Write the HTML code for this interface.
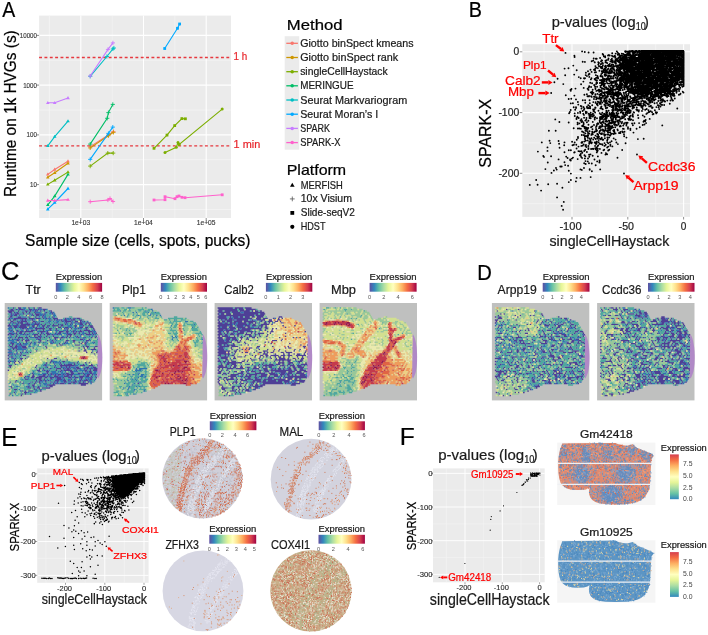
<!DOCTYPE html>
<html><head><meta charset="utf-8"><style>
html,body{margin:0;padding:0;background:#fff;width:708px;height:635px;overflow:hidden}
svg{display:block;will-change:transform}
text{font-family:"Liberation Sans", sans-serif}
</style></head><body>
<svg width="708" height="635" viewBox="0 0 708 635">
<rect x="39.1" y="15.6" width="191.9" height="202.4" fill="#EBEBEB"/>
<line x1="39.1" x2="231.0" y1="159.7" y2="159.7" stroke="#F7F7F7" stroke-width="0.6"/>
<line x1="39.1" x2="231.0" y1="110.0" y2="110.0" stroke="#F7F7F7" stroke-width="0.6"/>
<line x1="39.1" x2="231.0" y1="60.3" y2="60.3" stroke="#F7F7F7" stroke-width="0.6"/>
<line x1="39.1" x2="231.0" y1="209.5" y2="209.5" stroke="#F7F7F7" stroke-width="0.6"/>
<line y1="15.6" y2="218.0" x1="49.4" x2="49.4" stroke="#F7F7F7" stroke-width="0.6"/>
<line y1="15.6" y2="218.0" x1="112.2" x2="112.2" stroke="#F7F7F7" stroke-width="0.6"/>
<line y1="15.6" y2="218.0" x1="174.9" x2="174.9" stroke="#F7F7F7" stroke-width="0.6"/>
<line x1="39.1" x2="231.0" y1="184.6" y2="184.6" stroke="#FFFFFF" stroke-width="1.1"/>
<line x1="36.5" x2="39.1" y1="184.6" y2="184.6" stroke="#444" stroke-width="0.6"/>
<text x="30.1" y="187.1" font-size="6.9" fill="#3a3a3a" text-anchor="start" textLength="6.8" lengthAdjust="spacingAndGlyphs" stroke="#3a3a3a" stroke-width="0.15">10</text>
<line x1="39.1" x2="231.0" y1="134.9" y2="134.9" stroke="#FFFFFF" stroke-width="1.1"/>
<line x1="36.5" x2="39.1" y1="134.9" y2="134.9" stroke="#444" stroke-width="0.6"/>
<text x="26.6" y="137.4" font-size="6.9" fill="#3a3a3a" text-anchor="start" textLength="10.3" lengthAdjust="spacingAndGlyphs" stroke="#3a3a3a" stroke-width="0.15">100</text>
<line x1="39.1" x2="231.0" y1="85.1" y2="85.1" stroke="#FFFFFF" stroke-width="1.1"/>
<line x1="36.5" x2="39.1" y1="85.1" y2="85.1" stroke="#444" stroke-width="0.6"/>
<text x="23.2" y="87.6" font-size="6.9" fill="#3a3a3a" text-anchor="start" textLength="13.7" lengthAdjust="spacingAndGlyphs" stroke="#3a3a3a" stroke-width="0.15">1000</text>
<line x1="39.1" x2="231.0" y1="35.4" y2="35.4" stroke="#FFFFFF" stroke-width="1.1"/>
<line x1="36.5" x2="39.1" y1="35.4" y2="35.4" stroke="#444" stroke-width="0.6"/>
<text x="19.8" y="37.9" font-size="6.9" fill="#3a3a3a" text-anchor="start" textLength="17.1" lengthAdjust="spacingAndGlyphs" stroke="#3a3a3a" stroke-width="0.15">10000</text>
<line y1="15.6" y2="218.0" x1="80.8" x2="80.8" stroke="#FFFFFF" stroke-width="1.1"/>
<line y1="218.0" y2="220.6" x1="80.8" x2="80.8" stroke="#444" stroke-width="0.6"/>
<text x="71.4" y="225.0" font-size="6.9" fill="#3a3a3a" text-anchor="start" textLength="18.7" lengthAdjust="spacingAndGlyphs" stroke="#3a3a3a" stroke-width="0.15">1e+03</text>
<line y1="15.6" y2="218.0" x1="143.5" x2="143.5" stroke="#FFFFFF" stroke-width="1.1"/>
<line y1="218.0" y2="220.6" x1="143.5" x2="143.5" stroke="#444" stroke-width="0.6"/>
<text x="134.1" y="225.0" font-size="6.9" fill="#3a3a3a" text-anchor="start" textLength="18.7" lengthAdjust="spacingAndGlyphs" stroke="#3a3a3a" stroke-width="0.15">1e+04</text>
<line y1="15.6" y2="218.0" x1="206.2" x2="206.2" stroke="#FFFFFF" stroke-width="1.1"/>
<line y1="218.0" y2="220.6" x1="206.2" x2="206.2" stroke="#444" stroke-width="0.6"/>
<text x="196.8" y="225.0" font-size="6.9" fill="#3a3a3a" text-anchor="start" textLength="18.7" lengthAdjust="spacingAndGlyphs" stroke="#3a3a3a" stroke-width="0.15">1e+05</text>
<line x1="39.1" x2="231.0" y1="57.5" y2="57.5" stroke="#E6383F" stroke-width="1.3" stroke-dasharray="2.9 2.45"/>
<line x1="39.1" x2="231.0" y1="145.95" y2="145.95" stroke="#E6383F" stroke-width="1.3" stroke-dasharray="2.9 2.45"/>
<text x="233.6" y="59.8" font-size="10.6" fill="#E8262C" text-anchor="start" textLength="13.7" lengthAdjust="spacingAndGlyphs" stroke="#E8262C" stroke-width="0.22">1 h</text>
<text x="233.6" y="148.2" font-size="10.6" fill="#E8262C" text-anchor="start" textLength="26.6" lengthAdjust="spacingAndGlyphs" stroke="#E8262C" stroke-width="0.22">1 min</text>
<polyline points="47.8,174.4 54.7,169.5 68.0,161.2" fill="none" stroke="#F8766D" stroke-width="1.1"/>
<path d="M47.8,172.5l1.8,3.1h-3.6z" fill="#F8766D"/>
<path d="M54.7,167.6l1.8,3.1h-3.6z" fill="#F8766D"/>
<path d="M68.0,159.3l1.8,3.1h-3.6z" fill="#F8766D"/>
<polyline points="90.2,146.6 108.4,135.0 113.4,131.6" fill="none" stroke="#F8766D" stroke-width="1.1"/>
<path d="M88.1,146.6h4.2M90.2,144.5v4.2" stroke="#F8766D" stroke-width="0.9"/>
<path d="M106.3,135.0h4.2M108.4,132.9v4.2" stroke="#F8766D" stroke-width="0.9"/>
<path d="M111.3,131.6h4.2M113.4,129.5v4.2" stroke="#F8766D" stroke-width="0.9"/>
<polyline points="47.8,177.3 54.7,172.8 68.0,163.2" fill="none" stroke="#CD9600" stroke-width="1.1"/>
<path d="M47.8,175.4l1.8,3.1h-3.6z" fill="#CD9600"/>
<path d="M54.7,170.9l1.8,3.1h-3.6z" fill="#CD9600"/>
<path d="M68.0,161.3l1.8,3.1h-3.6z" fill="#CD9600"/>
<polyline points="90.2,147.9 108.4,135.8 113.4,132.4" fill="none" stroke="#CD9600" stroke-width="1.1"/>
<path d="M88.1,147.9h4.2M90.2,145.8v4.2" stroke="#CD9600" stroke-width="0.9"/>
<path d="M106.3,135.8h4.2M108.4,133.7v4.2" stroke="#CD9600" stroke-width="0.9"/>
<path d="M111.3,132.4h4.2M113.4,130.3v4.2" stroke="#CD9600" stroke-width="0.9"/>
<polyline points="47.8,184.4 54.7,180.2 68.0,172.1" fill="none" stroke="#7CAE00" stroke-width="1.1"/>
<path d="M47.8,182.5l1.8,3.1h-3.6z" fill="#7CAE00"/>
<path d="M54.7,178.3l1.8,3.1h-3.6z" fill="#7CAE00"/>
<path d="M68.0,170.2l1.8,3.1h-3.6z" fill="#7CAE00"/>
<polyline points="90.2,166.1 107.8,153.1 113.2,153.1" fill="none" stroke="#7CAE00" stroke-width="1.1"/>
<path d="M88.1,166.1h4.2M90.2,164.0v4.2" stroke="#7CAE00" stroke-width="0.9"/>
<path d="M105.7,153.1h4.2M107.8,151.0v4.2" stroke="#7CAE00" stroke-width="0.9"/>
<path d="M111.1,153.1h4.2M113.2,151.0v4.2" stroke="#7CAE00" stroke-width="0.9"/>
<polyline points="154.0,148.3 167.0,135.1 174.7,125.6 181.9,118.6 185.4,118.8" fill="none" stroke="#7CAE00" stroke-width="1.1"/>
<rect x="152.6" y="146.9" width="2.8" height="2.8" fill="#7CAE00"/>
<rect x="165.6" y="133.7" width="2.8" height="2.8" fill="#7CAE00"/>
<rect x="173.3" y="124.2" width="2.8" height="2.8" fill="#7CAE00"/>
<rect x="180.5" y="117.2" width="2.8" height="2.8" fill="#7CAE00"/>
<rect x="184.0" y="117.4" width="2.8" height="2.8" fill="#7CAE00"/>
<polyline points="165.0,152.4 176.3,147.3 178.0,142.5 179.2,144.4 222.2,109.1" fill="none" stroke="#7CAE00" stroke-width="1.1"/>
<circle cx="165.0" cy="152.4" r="1.5" fill="#7CAE00"/>
<circle cx="176.3" cy="147.3" r="1.5" fill="#7CAE00"/>
<circle cx="178.0" cy="142.5" r="1.5" fill="#7CAE00"/>
<circle cx="179.2" cy="144.4" r="1.5" fill="#7CAE00"/>
<circle cx="222.2" cy="109.1" r="1.5" fill="#7CAE00"/>
<polyline points="47.8,204.8 54.7,196.1 68.0,174.4" fill="none" stroke="#00BE67" stroke-width="1.1"/>
<path d="M47.8,202.9l1.8,3.1h-3.6z" fill="#00BE67"/>
<path d="M54.7,194.2l1.8,3.1h-3.6z" fill="#00BE67"/>
<path d="M68.0,172.5l1.8,3.1h-3.6z" fill="#00BE67"/>
<polyline points="90.2,144.1 107.2,118.3 108.4,112.6 112.8,104.4" fill="none" stroke="#00BE67" stroke-width="1.1"/>
<path d="M88.1,144.1h4.2M90.2,142.0v4.2" stroke="#00BE67" stroke-width="0.9"/>
<path d="M105.1,118.3h4.2M107.2,116.2v4.2" stroke="#00BE67" stroke-width="0.9"/>
<path d="M106.3,112.6h4.2M108.4,110.5v4.2" stroke="#00BE67" stroke-width="0.9"/>
<path d="M110.7,104.4h4.2M112.8,102.3v4.2" stroke="#00BE67" stroke-width="0.9"/>
<polyline points="47.8,145.9 54.7,136.6 68.0,121.1" fill="none" stroke="#00BFC4" stroke-width="1.1"/>
<path d="M47.8,144.0l1.8,3.1h-3.6z" fill="#00BFC4"/>
<path d="M54.7,134.7l1.8,3.1h-3.6z" fill="#00BFC4"/>
<path d="M68.0,119.2l1.8,3.1h-3.6z" fill="#00BFC4"/>
<polyline points="90.2,76.3 106.9,56.5 112.9,48.9 113.9,48.0" fill="none" stroke="#00BFC4" stroke-width="1.1"/>
<path d="M88.1,76.3h4.2M90.2,74.2v4.2" stroke="#00BFC4" stroke-width="0.9"/>
<path d="M104.8,56.5h4.2M106.9,54.4v4.2" stroke="#00BFC4" stroke-width="0.9"/>
<path d="M110.8,48.9h4.2M112.9,46.8v4.2" stroke="#00BFC4" stroke-width="0.9"/>
<path d="M111.8,48.0h4.2M113.9,45.9v4.2" stroke="#00BFC4" stroke-width="0.9"/>
<polyline points="47.8,209.2 54.7,202.5 68.0,188.5" fill="none" stroke="#00A9FF" stroke-width="1.1"/>
<path d="M47.8,207.3l1.8,3.1h-3.6z" fill="#00A9FF"/>
<path d="M54.7,200.6l1.8,3.1h-3.6z" fill="#00A9FF"/>
<path d="M68.0,186.6l1.8,3.1h-3.6z" fill="#00A9FF"/>
<polyline points="90.2,159.4 108.4,133.4 112.8,127.1" fill="none" stroke="#00A9FF" stroke-width="1.1"/>
<path d="M88.1,159.4h4.2M90.2,157.3v4.2" stroke="#00A9FF" stroke-width="0.9"/>
<path d="M106.3,133.4h4.2M108.4,131.3v4.2" stroke="#00A9FF" stroke-width="0.9"/>
<path d="M110.7,127.1h4.2M112.8,125.0v4.2" stroke="#00A9FF" stroke-width="0.9"/>
<polyline points="164.7,48.5 177.5,28.3 179.6,24.0" fill="none" stroke="#00A9FF" stroke-width="1.1"/>
<rect x="163.3" y="47.1" width="2.8" height="2.8" fill="#00A9FF"/>
<rect x="176.1" y="26.9" width="2.8" height="2.8" fill="#00A9FF"/>
<rect x="178.2" y="22.6" width="2.8" height="2.8" fill="#00A9FF"/>
<polyline points="47.8,102.8 54.7,102.8 68.0,98.0" fill="none" stroke="#C77CFF" stroke-width="1.1"/>
<path d="M47.8,100.9l1.8,3.1h-3.6z" fill="#C77CFF"/>
<path d="M54.7,100.9l1.8,3.1h-3.6z" fill="#C77CFF"/>
<path d="M68.0,96.1l1.8,3.1h-3.6z" fill="#C77CFF"/>
<polyline points="90.2,76.0 108.0,49.4 112.9,42.9" fill="none" stroke="#C77CFF" stroke-width="1.1"/>
<path d="M88.1,76.0h4.2M90.2,73.9v4.2" stroke="#C77CFF" stroke-width="0.9"/>
<path d="M105.9,49.4h4.2M108.0,47.3v4.2" stroke="#C77CFF" stroke-width="0.9"/>
<path d="M110.8,42.9h4.2M112.9,40.8v4.2" stroke="#C77CFF" stroke-width="0.9"/>
<polyline points="47.8,200.5 54.7,200.5 68.0,199.6" fill="none" stroke="#FF61CC" stroke-width="1.1"/>
<path d="M47.8,198.6l1.8,3.1h-3.6z" fill="#FF61CC"/>
<path d="M54.7,198.6l1.8,3.1h-3.6z" fill="#FF61CC"/>
<path d="M68.0,197.7l1.8,3.1h-3.6z" fill="#FF61CC"/>
<polyline points="90.2,201.7 107.9,200.0 110.0,198.5 113.0,201.5" fill="none" stroke="#FF61CC" stroke-width="1.1"/>
<path d="M88.1,201.7h4.2M90.2,199.6v4.2" stroke="#FF61CC" stroke-width="0.9"/>
<path d="M105.8,200.0h4.2M107.9,197.9v4.2" stroke="#FF61CC" stroke-width="0.9"/>
<path d="M107.9,198.5h4.2M110.0,196.4v4.2" stroke="#FF61CC" stroke-width="0.9"/>
<path d="M110.9,201.5h4.2M113.0,199.4v4.2" stroke="#FF61CC" stroke-width="0.9"/>
<polyline points="154.0,200.0 165.0,199.7 165.0,196.7 175.0,198.7 177.0,196.7 179.0,196.0 182.0,197.3 185.0,197.7 222.2,194.8" fill="none" stroke="#FF61CC" stroke-width="1.1"/>
<rect x="152.6" y="198.6" width="2.8" height="2.8" fill="#FF61CC"/>
<rect x="163.6" y="198.3" width="2.8" height="2.8" fill="#FF61CC"/>
<rect x="163.6" y="195.3" width="2.8" height="2.8" fill="#FF61CC"/>
<rect x="173.6" y="197.3" width="2.8" height="2.8" fill="#FF61CC"/>
<rect x="175.6" y="195.3" width="2.8" height="2.8" fill="#FF61CC"/>
<rect x="177.6" y="194.6" width="2.8" height="2.8" fill="#FF61CC"/>
<rect x="180.6" y="195.9" width="2.8" height="2.8" fill="#FF61CC"/>
<rect x="183.6" y="196.3" width="2.8" height="2.8" fill="#FF61CC"/>
<rect x="220.8" y="193.4" width="2.8" height="2.8" fill="#FF61CC"/>
<text x="2.3" y="17.1" font-size="22.2" fill="#000" text-anchor="start" textLength="13.0" lengthAdjust="spacingAndGlyphs" stroke="#000" stroke-width="0.22">A</text>
<text transform="translate(16.1,196.9) rotate(-90)" stroke="#000" stroke-width="0.22" font-size="16.4" textLength="166.6" lengthAdjust="spacingAndGlyphs">Runtime on 1k HVGs (s)</text>
<text x="25.1" y="245.5" font-size="16.3" fill="#000" text-anchor="start" textLength="225.4" lengthAdjust="spacingAndGlyphs" stroke="#000" stroke-width="0.22">Sample size (cells, spots, pucks)</text>
<text x="286.8" y="30.1" font-size="14.6" fill="#000" text-anchor="start" textLength="55.7" lengthAdjust="spacingAndGlyphs" stroke="#000" stroke-width="0.22">Method</text>
<rect x="284.7" y="36.2" width="14.5" height="113.5" fill="#EBEBEB"/>
<line x1="286.3" x2="297.9" y1="43.3" y2="43.3" stroke="#F8766D" stroke-width="1.3"/>
<circle cx="292.2" cy="43.3" r="1.75" fill="#F8766D"/>
<text x="300.2" y="46.8" font-size="10.8" fill="#1a1a1a" text-anchor="start" textLength="113.4" lengthAdjust="spacingAndGlyphs" stroke="#1a1a1a" stroke-width="0.22">Giotto binSpect kmeans</text>
<line x1="286.3" x2="297.9" y1="57.5" y2="57.5" stroke="#CD9600" stroke-width="1.3"/>
<circle cx="292.2" cy="57.5" r="1.75" fill="#CD9600"/>
<text x="300.2" y="61.0" font-size="10.8" fill="#1a1a1a" text-anchor="start" textLength="98.0" lengthAdjust="spacingAndGlyphs" stroke="#1a1a1a" stroke-width="0.22">Giotto binSpect rank</text>
<line x1="286.3" x2="297.9" y1="71.7" y2="71.7" stroke="#7CAE00" stroke-width="1.3"/>
<circle cx="292.2" cy="71.7" r="1.75" fill="#7CAE00"/>
<text x="300.2" y="75.2" font-size="10.8" fill="#1a1a1a" text-anchor="start" textLength="87.5" lengthAdjust="spacingAndGlyphs" stroke="#1a1a1a" stroke-width="0.22">singleCellHaystack</text>
<line x1="286.3" x2="297.9" y1="85.8" y2="85.8" stroke="#00BE67" stroke-width="1.3"/>
<circle cx="292.2" cy="85.8" r="1.75" fill="#00BE67"/>
<text x="300.2" y="89.3" font-size="10.8" fill="#1a1a1a" text-anchor="start" textLength="53.3" lengthAdjust="spacingAndGlyphs" stroke="#1a1a1a" stroke-width="0.22">MERINGUE</text>
<line x1="286.3" x2="297.9" y1="100.0" y2="100.0" stroke="#00BFC4" stroke-width="1.3"/>
<circle cx="292.2" cy="100.0" r="1.75" fill="#00BFC4"/>
<text x="300.2" y="103.5" font-size="10.8" fill="#1a1a1a" text-anchor="start" textLength="107.0" lengthAdjust="spacingAndGlyphs" stroke="#1a1a1a" stroke-width="0.22">Seurat Markvariogram</text>
<line x1="286.3" x2="297.9" y1="114.2" y2="114.2" stroke="#00A9FF" stroke-width="1.3"/>
<circle cx="292.2" cy="114.2" r="1.75" fill="#00A9FF"/>
<text x="300.2" y="117.7" font-size="10.8" fill="#1a1a1a" text-anchor="start" textLength="78.1" lengthAdjust="spacingAndGlyphs" stroke="#1a1a1a" stroke-width="0.22">Seurat Moran’s I</text>
<line x1="286.3" x2="297.9" y1="128.4" y2="128.4" stroke="#C77CFF" stroke-width="1.3"/>
<circle cx="292.2" cy="128.4" r="1.75" fill="#C77CFF"/>
<text x="300.2" y="131.9" font-size="10.8" fill="#1a1a1a" text-anchor="start" textLength="29.7" lengthAdjust="spacingAndGlyphs" stroke="#1a1a1a" stroke-width="0.22">SPARK</text>
<line x1="286.3" x2="297.9" y1="142.6" y2="142.6" stroke="#FF61CC" stroke-width="1.3"/>
<circle cx="292.2" cy="142.6" r="1.75" fill="#FF61CC"/>
<text x="300.2" y="146.1" font-size="10.8" fill="#1a1a1a" text-anchor="start" textLength="40.4" lengthAdjust="spacingAndGlyphs" stroke="#1a1a1a" stroke-width="0.22">SPARK-X</text>
<text x="286.7" y="175.4" font-size="14.6" fill="#000" text-anchor="start" textLength="59.5" lengthAdjust="spacingAndGlyphs" stroke="#000" stroke-width="0.22">Platform</text>
<path d="M292.3,182.8l2.3,3.9h-4.6z" fill="#000"/>
<text x="300.7" y="188.5" font-size="10.8" fill="#1a1a1a" text-anchor="start" textLength="42.2" lengthAdjust="spacingAndGlyphs" stroke="#1a1a1a" stroke-width="0.22">MERFISH</text>
<path d="M289.90000000000003,198.9h4.8M292.3,196.5v4.8" stroke="#555" stroke-width="0.8"/>
<text x="300.7" y="202.4" font-size="10.8" fill="#1a1a1a" text-anchor="start" textLength="51.3" lengthAdjust="spacingAndGlyphs" stroke="#1a1a1a" stroke-width="0.22">10x Visium</text>
<rect x="290.40000000000003" y="211.0" width="3.8" height="3.8" fill="#000"/>
<text x="300.7" y="216.4" font-size="10.8" fill="#1a1a1a" text-anchor="start" textLength="54.2" lengthAdjust="spacingAndGlyphs" stroke="#1a1a1a" stroke-width="0.22">Slide-seqV2</text>
<circle cx="292.3" cy="226.8" r="2.1" fill="#000"/>
<text x="300.7" y="230.3" font-size="10.8" fill="#1a1a1a" text-anchor="start" textLength="24.8" lengthAdjust="spacingAndGlyphs" stroke="#1a1a1a" stroke-width="0.22">HDST</text>
<rect x="522.3" y="44.2" width="167.7" height="172.7" fill="#EBEBEB"/>
<line y1="44.2" y2="216.9" x1="544.1" x2="544.1" stroke="#F7F7F7" stroke-width="0.6"/>
<line y1="44.2" y2="216.9" x1="599.9" x2="599.9" stroke="#F7F7F7" stroke-width="0.6"/>
<line y1="44.2" y2="216.9" x1="655.7" x2="655.7" stroke="#F7F7F7" stroke-width="0.6"/>
<line x1="522.3" x2="690.0" y1="82.2" y2="82.2" stroke="#F7F7F7" stroke-width="0.6"/>
<line x1="522.3" x2="690.0" y1="142.9" y2="142.9" stroke="#F7F7F7" stroke-width="0.6"/>
<line x1="522.3" x2="690.0" y1="203.7" y2="203.7" stroke="#F7F7F7" stroke-width="0.6"/>
<line y1="44.2" y2="216.9" x1="572.0" x2="572.0" stroke="#FFF" stroke-width="1.1"/>
<line y1="216.9" y2="219.5" x1="572.0" x2="572.0" stroke="#444" stroke-width="0.6"/>
<text x="559.4" y="230.0" font-size="10.4" fill="#262626" text-anchor="start" textLength="22.2" lengthAdjust="spacingAndGlyphs" stroke="#262626" stroke-width="0.22">-100</text>
<line y1="44.2" y2="216.9" x1="627.8" x2="627.8" stroke="#FFF" stroke-width="1.1"/>
<line y1="216.9" y2="219.5" x1="627.8" x2="627.8" stroke="#444" stroke-width="0.6"/>
<text x="618.6" y="230.0" font-size="10.4" fill="#262626" text-anchor="start" textLength="15.4" lengthAdjust="spacingAndGlyphs" stroke="#262626" stroke-width="0.22">-50</text>
<line y1="44.2" y2="216.9" x1="683.6" x2="683.6" stroke="#FFF" stroke-width="1.1"/>
<line y1="216.9" y2="219.5" x1="683.6" x2="683.6" stroke="#444" stroke-width="0.6"/>
<text x="680.8" y="230.0" font-size="10.4" fill="#262626" text-anchor="start" textLength="5.6" lengthAdjust="spacingAndGlyphs" stroke="#262626" stroke-width="0.22">0</text>
<line x1="522.3" x2="690.0" y1="51.8" y2="51.8" stroke="#FFF" stroke-width="1.1"/>
<line x1="519.7" x2="522.3" y1="51.8" y2="51.8" stroke="#444" stroke-width="0.6"/>
<text x="513.5" y="55.4" font-size="10.4" fill="#262626" text-anchor="start" textLength="5.7" lengthAdjust="spacingAndGlyphs" stroke="#262626" stroke-width="0.22">0</text>
<line x1="522.3" x2="690.0" y1="112.6" y2="112.6" stroke="#FFF" stroke-width="1.1"/>
<line x1="519.7" x2="522.3" y1="112.6" y2="112.6" stroke="#444" stroke-width="0.6"/>
<text x="498.4" y="116.2" font-size="10.4" fill="#262626" text-anchor="start" textLength="20.8" lengthAdjust="spacingAndGlyphs" stroke="#262626" stroke-width="0.22">-100</text>
<line x1="522.3" x2="690.0" y1="173.3" y2="173.3" stroke="#FFF" stroke-width="1.1"/>
<line x1="519.7" x2="522.3" y1="173.3" y2="173.3" stroke="#444" stroke-width="0.6"/>
<text x="498.4" y="176.9" font-size="10.4" fill="#262626" text-anchor="start" textLength="20.8" lengthAdjust="spacingAndGlyphs" stroke="#262626" stroke-width="0.22">-200</text>
<path d="M582.1 51.4h0m34.7 0h0m8.3 0h0m.1 0h0m.1 0h0m1.5 0h0m1.6 0h0m1.1 0h0m.1 0h0m.3 0h0m.4 0h0m.1 0h0m.7 0h0m.4 0h0m.4 0h0m.1 0h0m.1 0h0m.1 0h0m.1 0h0m.2 0h0m.9 0h0m.3 0h0m.2 0h0m0 0h0m.7 0h0m.6 0h0m.3 0h0m.3 0h0m.1 0h0m.2 0h0m.3 0h0m.2 0h0m.2 0h0m0 0h0m.1 0h0m.8 0h0m.4 0h0m.5 0h0m.2 0h0m.2 0h0m0 0h0m.1 0h0m0 0h0m.2 0h0m0 0h0m.2 0h0m.1 0h0m.5 0h0m.5 0h0m0 0h0m.3 0h0m0 0h0m.1 0h0m.3 0h0m.1 0h0m0 0h0m.2 0h0m.2 0h0m0 0h0m.2 0h0m.1 0h0m.1 0h0m.1 0h0m.1 0h0m0 0h0m.4 0h0m0 0h0m.3 0h0m.1 0h0m0 0h0m.1 0h0m0 0h0m.2 0h0m.1 0h0m.2 0h0m0 0h0m.2 0h0m0 0h0m.2 0h0m.1 0h0m.2 0h0m0 0h0m.1 0h0m.1 0h0m0 0h0m.3 0h0m.2 0h0m0 0h0m.1 0h0m.2 0h0m.1 0h0m0 0h0m.1 0h0m0 0h0m.1 0h0m0 0h0m.1 0h0m0 0h0m0 0h0m.2 0h0m0 0h0m.1 0h0m.1 0h0m.1 0h0m0 0h0m.1 0h0m0 0h0m.1 0h0m.2 0h0m.1 0h0m0 0h0m.1 0h0m0 0h0m.2 0h0m.3 0h0m0 0h0m.1 0h0m.1 0h0m0 0h0m.1 0h0m0 0h0m.1 0h0m0 0h0m.4 0h0m.1 0h0m.1 0h0m0 0h0m0 0h0m.1 0h0m0 0h0m.2 0h0m.3 0h0m.1 0h0m.5 0h0m.1 0h0m.2 0h0m.1 0h0m.1 0h0m.1 0h0m.1 0h0m.1 0h0m.1 0h0m.1 0h0m0 0h0m.1 0h0m.1 0h0m.1 0h0m.4 0h0m.1 0h0m.1 0h0m.1 0h0m.1 0h0m0 0h0m.1 0h0m.2 0h0m0 0h0m.3 0h0m0 0h0m.1 0h0m.1 0h0m0 0h0m.1 0h0m0 0h0m.3 0h0m0 0h0m.3 0h0m.1 0h0m.1 0h0m0 0h0m0 0h0m0 0h0m.1 0h0m.4 0h0m0 0h0m.5 0h0m0 0h0m.1 0h0m.2 0h0m0 0h0m.1 0h0m0 0h0m.1 0h0m.1 0h0m.1 0h0m.1 0h0m0 0h0m.2 0h0m0 0h0m.2 0h0m.1 0h0m0 0h0m.1 0h0m.1 0h0m0 0h0m0 0h0m.1 0h0m.2 0h0m.1 0h0m.1 0h0m0 0h0m.1 0h0m.1 0h0m.1 0h0m0 0h0m0 0h0m0 0h0m.1 0h0m0 0h0m.1 0h0m.1 0h0m.2 0h0m.2 0h0m0 0h0m0 0h0m.1 0h0m.2 0h0m0 0h0m0 .1h0m0-.1h0m.1 0h0m.2 0h0m.1 0h0m.1 0h0m0 0h0m0 0h0m.1 0h0m.2 0h0m0 0h0m0 0h0m.2 0h0m0 0h0m.1 0h0m.2 0h0m.1 0h0m0 0h0m.2 0h0m.1 0h0m0 0h0m.3 0h0m0 0h0m.1 0h0m.1 0h0m.1 0h0m.1 0h0m.1 0h0m.1 0h0m.2 0h0m.4 0h0m.1 0h0m.2 0h0m.3 0h0m.1 0h0m.1 0h0m.2 0h0m.3 0h0m0 0h0m.1 0h0m0 0h0m.1 0h0m0 0h0m.1 0h0m0 0h0m.1 0h0m.1 0h0m.1 0h0m.2 0h0m0 0h0m.1 0h0m.1 0h0m.1 0h0m0 0h0m.1 0h0m0 0h0m.1 0h0m.1 0h0m0 0h0m.1 0h0m.1 0h0m.2 0h0m.1 0h0m0 0h0m.1 0h0m0 0h0m.2 0h0m0 0h0m.1 0h0m.1 0h0m0 0h0m0 0h0m0 0h0m.2 0h0m.2 0h0m0 0h0m.2 0h0m.2 0h0m.1 0h0m0 0h0m0 0h0m.2 0h0m0 0h0m0 0h0m.1 0h0m0 0h0m.1 0h0m0 0h0m.1 0h0m0 0h0m.1 0h0m.1 0h0m0 0h0m.1 0h0m.1 0h0m.2 0h0m.1 0h0m0 0h0m.1 0h0m.1 0h0m0 0h0m.3 0h0m0 0h0m0 0h0m.2 0h0m.1 0h0m0 0h0m.4 0h0m.3 0h0m0 0h0m0 0h0m.1 0h0m0 0h0m.4 0h0m0 0h0m0 0h0m.1 0h0m0 0h0m0 0h0m.1 0h0m.1 0h0m0 0h0m.1 0h0m.3 0h0m0 0h0m.1 0h0m.1 0h0m.1 0h0m.2 0h0m0 0h0m.1 0h0m.2 0h0m0 0h0m0 .1h0m0-.1h0m.1 0h0m0 0h0m.1 0h0m.1 0h0m.3 0h0m0 0h0m.1 0h0m.1 0h0m0 0h0m.1 0h0m.1 0h0m0 0h0m.1 0h0m.1 0h0m.1 0h0m.1 0h0m0 0h0m.1 0h0m0 0h0m.1 0h0m0 0h0m.1 0h0m0 0h0m.1 0h0m0 0h0m0 0h0m0 0h0m.1 0h0m0 0h0m.1 0h0m0 0h0m0 0h0m0 0h0m.1 0h0m0 0h0m.1 0h0m.1 0h0m.2 0h0m0 0h0m.1 0h0m.3 0h0m0 0h0m.1 0h0m.1 0h0m0 0h0m.4 0h0m0 0h0m0 0h0m.1 0h0m.1 0h0m.2 0h0m0 0h0m.1 0h0m0 0h0m.1 0h0m.1 0h0m.3 0h0m0 0h0m.1 0h0m.1 0h0m0 0h0m.1 0h0m.3 0h0m0 0h0m.1 0h0m0 0h0m.1 0h0m.2 0h0m0 0h0m.2 0h0m.1 0h0m0 0h0m.2 0h0m0 0h0m0 0h0m.5 0h0m.1 .1h0m0-.1h0m0 0h0m.1 0h0m0 0h0m.3 0h0m.1 0h0m0 0h0m.2 0h0m0 0h0m.2 0h0m0 0h0m0 0h0m.1 0h0m0 0h0m.4 0h0m.4 0h0m.1 0h0m0 0h0m0 0h0m0 0h0m.3 0h0m.1 0h0m.1 0h0m0 0h0m.1 0h0m.1 0h0m.1 0h0m0 0h0m0 0h0m0 0h0m.1 0h0m.1 0h0m.1 0h0m.2 0h0m.4 0h0m0 0h0m.1 0h0m0 0h0m.3 0h0m0 0h0m.1 0h0m0 0h0m.2 0h0m0 0h0m0 0h0m.1 0h0m0 0h0m.2 0h0m0 0h0m.1 0h0m0 0h0m.2 0h0m.1 0h0m.1 0h0m.1 0h0m0 0h0m.1 0h0m.1 0h0m0 0h0m.1 0h0m0 0h0m.2 .1h0m0-.1h0m.1 0h0m0 0h0m.1 0h0m0 0h0m0 0h0m0 0h0m.2 0h0m0 0h0m.1 0h0m.1 0h0m.2 0h0m0 0h0m.2 0h0m0 0h0m0 0h0m0 0h0m0 0h0m0 0h0m0 0h0m0 0h0m0 0h0m0 0h0m0 0h0m0 0h0m0 0h0m0 0h0m0 0h0m0 0h0m0 0h0m0 0h0m0 0h0m0 0h0m0 0h0m0 0h0m0 0h0m0 0h0m0 0h0m0 0h0m0 0h0m0 0h0m0 0h0m0 0h0m0 0h0m0 0h0m0 0h0m0 0h0m0 0h0m0 0h0m0 0h0m0 0h0m0 0h0m0 0h0m0 0h0m0 0h0m0 0h0m0 0h0m0 0h0m0 0h0m0 0h0m0 0h0m0 0h0m0 0h0m0 0h0m0 0h0m0 0h0m0 0h0m0 0h0m0 0h0m0 0h0m0 0h0m0 0h0m0 0h0m0 0h0m0 0h0m0 0h0m0 0h0m0 0h0m0 .1h0m0-.1h0m0 0h0m0 0h0m0 0h0m0 0h0m0 0h0m0 0h0m0 0h0m0 0h0m0 0h0m0 0h0m0 0h0m0 0h0m0 0h0m0 0h0m0 0h0m0 0h0m0 0h0m0 0h0m0 0h0m0 0h0m0 0h0m0 0h0m0 0h0m0 0h0m0 0h0m0 0h0m0 0h0m0 0h0m-98.8 .6h0m8.8 .5h0m32.1-.4h0m4.1 .4h0m2.8-.9h0m.2 .9h0m1-.3h0m.1-.2h0m.2-.1h0m2.8 .2h0m1-.2h0m3.5 .3h0m.3 .3h0m1.2-.6h0m.8-.4h0m.4 .3h0m.4 .2h0m.3-.1h0m.6-.1h0m.1 .2h0m.7-.3h0m.9 .1h0m.9-.3h0m1.4 .3h0m2.2 .6h0m.3-.4h0m.2-.5h0m.5 .7h0m1.2 .3h0m.1-.5h0m.9-.4h0m0 .6h0m.3 0h0m.1-.2h0m.4-.3h0m.2 .5h0m1.6-.4h0m.2 .4h0m.1-.2h0m1.1 .3h0m1.3-.1h0m.5-.5h0m2.1 .2h0m1.7 .5h0m0-.7h0m.4-.1h0m.6 .5h0m.1 0h0m.5 .3h0m.3-.6h0m.1 .4h0m.4-.1h0m.1 .1h0m0-.1h0m.7-.4h0m.4 .3h0m.9 .1h0m1.6-.5h0m.3 .1h0m1.4 .7h0m1.1-.7h0m0 .3h0m.8-.3h0m1.5 .4h0m2.2-.3h0m.5 .1h0m.1 .1h0m.8 .4h0m.2-.4h0m2.5 .2h0m.1-.6h0m.2 .5h0m1.1-.1h0m.3-.5h0m0 .9h0m0-.1h0m0-.4h0m0 .1h0m0-.4h0m0 .6h0m0-.3h0m0 0h0m0 .3h0m0-.5h0m-118.1 1.2h0m23.1-.4h0m23.6 .7h0m5.6-.5h0m9.7 .6h0m.7-.6h0m.6 .6h0m.1-.2h0m3.7-.3h0m.6 .7h0m.8-.3h0m.2-.6h0m.9 .2h0m2.1 .3h0m2-.4h0m.5 .5h0m0 .1h0m1.4-.6h0m.5 .6h0m1.2 .2h0m.1-.2h0m.8-.4h0m0-.1h0m.1-.1h0m.1-.1h0m.4 .5h0m1.1-.6h0m1.1 .8h0m.2-.2h0m.2-.1h0m.1-.4h0m.2 .7h0m.1 .1h0m1.1-.1h0m.2-.3h0m.5 .2h0m.8-.7h0m.4 1h0m.1-.4h0m.6-.3h0m0 .1h0m1.5 0h0m.1 0h0m.1 0h0m.1 .5h0m.2 .1h0m.8-.6h0m.9 .2h0m2.2 0h0m.1 .2h0m2.6-.1h0m.8-.5h0m.6 .3h0m.2 .4h0m2.1-.7h0m.1 .7h0m.6-.5h0m.5-.2h0m0 .1h0m1.4 0h0m2.2 .6h0m1.1-.8h0m.5 .8h0m.1-.8h0m1 .1h0m.3-.1h0m.3 .7h0m.5-.4h0m.4 .2h0m1.2-.1h0m.1 .2h0m.5-.1h0m1.6 .1h0m.1-.3h0m.2 0h0m.5 .4h0m1.1-.2h0m.7-.6h0m.1 .4h0m1.5 .1h0m.2-.1h0m.3 .5h0m.9-.9h0m.1 .3h0m1.1 0h0m1.1 .1h0m0 0h0m0-.4h0m0 .5h0m0 .3h0m0-.7h0m0 .4h0m0-.4h0m0 .7h0m0 0h0m0-.3h0m0 0h0m0 0h0m0 0h0m0-.4h0m-80.9 1.3h0m13-.3h0m2.8 .4h0m.2 .2h0m.4-.2h0m2.7-.2h0m1.5 .1h0m3.4 .4h0m1.5-.3h0m1.5 .1h0m.6 0h0m2.7-.5h0m.7 .5h0m3.1 .3h0m2.3-.5h0m.2 .1h0m.2 .1h0m.6 .1h0m.2 .1h0m.2-.7h0m.1 .4h0m1.6-.2h0m.6 .3h0m1-.5h0m.3 0h0m.2 .6h0m.3-.2h0m.2-.2h0m.8 .2h0m.7 .1h0m.3-.5h0m.7 .2h0m.1-.2h0m.7 .6h0m1.1-.6h0m0 .2h0m.5 0h0m2.5-.1h0m.1 .6h0m.9-.7h0m.6 0h0m1.9 .6h0m.5-.5h0m.4 .6h0m.3-.5h0m.4 .4h0m.1-.2h0m.5-.2h0m1.3 .3h0m1.1-.4h0m.2 .4h0m1.7-.4h0m1.2 .3h0m1.2 .5h0m.4 0h0m.9-.3h0m.3 .1h0m.4-.1h0m.8-.3h0m.5-.4h0m.5 .6h0m1.3-.1h0m.2 .2h0m.2-.3h0m.8 .4h0m.5-.2h0m0 .2h0m.1-.4h0m1.2 .4h0m.1-.3h0m2.8 .1h0m.6 .2h0m.2-.5h0m1-.1h0m.3 .8h0m.4-1h0m.1 .6h0m1.8-.5h0m.6 .9h0m.1-.6h0m.1-.3h0m.3 .2h0m2.1 0h0m.4 .2h0m0 0h0m0-.5h0m0 .4h0m0-.1h0m0 .5h0m0-.7h0m0 .3h0m0 .3h0m0 .3h0m0-.9h0m0-.1h0m0 .3h0m0 .3h0m0 .1h0m0 .2h0m0-.6h0m-80.4 .9h0m4.8 .8h0m.5-.2h0m.4 0h0m.8 .2h0m8.1-.7h0m1.7 .5h0m4.6-.5h0m.8-.1h0m1.1 .4h0m.4-.4h0m.9-.1h0m.6 .1h0m.9 .6h0m.3-.8h0m1.4 .6h0m1.1 .4h0m1.2-.2h0m.1-.4h0m.1 0h0m1.1 .1h0m.1 .4h0m1.3-.6h0m1 .3h0m1.7 .2h0m.4-.5h0m.7 0h0m.7-.3h0m.5 .8h0m.2-.7h0m.8 0h0m.5 .7h0m.2-.5h0m1.9 .1h0m.8 .5h0m.4-.4h0m.1-.3h0m.5 .7h0m.3-.1h0m.1-.6h0m.9 .4h0m.2-.6h0m0 .5h0m1.5 .4h0m.3-.4h0m.7 .4h0m1.6-.6h0m.4 .6h0m.7-.4h0m.4 .4h0m.2-.4h0m.3 .4h0m.5-.8h0m.9 .4h0m.1 0h0m1.1 .2h0m0 0h0m1.3 0h0m.4 .2h0m1-.5h0m.2 .2h0m.6-.5h0m1 .9h0m.9-.4h0m.1 .1h0m.5-.3h0m.6 .2h0m.3 .3h0m.5-.2h0m3.3-.4h0m.6 .3h0m.1 .2h0m.5-.3h0m.5-.3h0m3.6 0h0m.2 .3h0m.7-.4h0m1.8 .2h0m.5 0h0m.3 0h0m.1 .6h0m1.7-.9h0m1.1 .5h0m.7 0h0m.4 .3h0m0 0h0m.3-.2h0m0 .3h0m.2-.7h0m.2-.1h0m.2 .1h0m.9 .6h0m.6 .1h0m.5-.6h0m.4 .3h0m.7 .4h0m0-.3h0m0-.1h0m0-.4h0m0 .4h0m0-.2h0m0-.1h0m0 .5h0m0-.3h0m0-.3h0m0 .6h0m0-.6h0m-109.2 1h0m29.5 .7h0m.6 0h0m.6-.1h0m6.9-.5h0m1.6 .6h0m.7-.2h0m.3 .2h0m.3-.6h0m5.7-.2h0m.2 .9h0m1.3-.9h0m.6 .5h0m1.1 .2h0m.5-.1h0m.1 0h0m.1-.3h0m.2 0h0m0 .5h0m.1-.2h0m.5 0h0m1.6-.4h0m2.4-.3h0m1.1 .5h0m0-.4h0m.4 .8h0m1.4-.8h0m0 .2h0m.1 .7h0m2-.9h0m.8 .2h0m4 .7h0m.3-.7h0m.2 .2h0m.1 .1h0m.9 0h0m.8 0h0m1-.3h0m.4 .3h0m.1-.3h0m0 .7h0m.9-.1h0m0-.9h0m.1 .8h0m.7 .2h0m.7-.3h0m1.1-.3h0m.9 .1h0m.2-.2h0m.2 .6h0m1.1-.4h0m.7-.3h0m.3-.1h0m4.1 .7h0m.2-.2h0m1 .2h0m.5 .2h0m.2-.4h0m.5-.5h0m1 .1h0m.2 .7h0m.1 .1h0m.7-1h0m.4 .5h0m.4 .3h0m1.8-.4h0m1.5-.1h0m1.3 .5h0m1.8-.6h0m.3 .6h0m1.8-.6h0m.2 .5h0m.2-.6h0m1.1 .6h0m1-.4h0m.6 .5h0m.1-.8h0m.8 .7h0m.2-.6h0m.5 .8h0m1.1-.6h0m.9-.3h0m3.2 .3h0m.6-.2h0m1.8 .6h0m.1-.1h0m1.6 .4h0m2-.6h0m0 0h0m0-.3h0m0 .2h0m0 .6h0m0-.9h0m0 .1h0m0 .3h0m0 .4h0m0-.1h0m0-.2h0m-109 1h0m30.6 .3h0m7.8-.7h0m.9 0h0m1.5 .3h0m3.7 .3h0m1.1-.3h0m3.3 .6h0m.4-.5h0m.8-.4h0m1.4 .6h0m2.1 .2h0m2.4-.1h0m1.7-.5h0m1.4 .1h0m.9 .4h0m.4-.5h0m3.8-.1h0m.1-.1h0m1.9 .5h0m.6-.3h0m.1-.2h0m.6-.1h0m.4 .1h0m1 .3h0m.3 .6h0m.8-.5h0m.1-.1h0m.9 .4h0m.3-.8h0m.3 .6h0m.1 .3h0m1-.2h0m1.4-.1h0m.1 .2h0m.3-.8h0m.8 .1h0m.3 .5h0m1.3-.4h0m.6 0h0m.2 .3h0m2 0h0m1 .4h0m1.6-.4h0m.3-.3h0m.2 .7h0m0 0h0m.4-.4h0m.1-.1h0m2.7 .3h0m1.4 .1h0m.4 .1h0m1.5-.1h0m1-.1h0m.8-.5h0m.1 .8h0m1.3-.4h0m1.8 0h0m0-.3h0m.1-.2h0m.7 .7h0m.1-.3h0m.2-.2h0m.7 .5h0m1.7 .1h0m.3-.8h0m.2 .3h0m0 .5h0m.1-.5h0m.2 0h0m.2 .4h0m.7-.6h0m.1 .4h0m1.1 .1h0m.2-.5h0m.3 .6h0m.6-.3h0m.3 0h0m1.1 .3h0m.7-.1h0m3.7-.6h0m.1 .1h0m0 .4h0m.7 .2h0m.6-.7h0m0 .3h0m0 .5h0m0-.8h0m0 .7h0m0-.2h0m0 0h0m0 .1h0m-89.9 1.3h0m6.4-.5h0m15.3-.1h0m0-.4h0m2.7 .6h0m2.4-.2h0m1.8-.1h0m.3 .5h0m.5-.6h0m.5 .6h0m.2-.3h0m.3 0h0m1.4 .3h0m.1-.3h0m.2 .3h0m.1 .2h0m0-.4h0m.5-.4h0m2.8-.1h0m.1 .8h0m1.2-.6h0m1.6-.2h0m.3 .8h0m0-.7h0m.2-.1h0m1 .5h0m2-.4h0m.7 .2h0m.2 .1h0m.3-.1h0m.4-.3h0m1.1 .7h0m.6-.1h0m1.3 .2h0m.3-.5h0m.5 .4h0m.6-.1h0m.1-.3h0m.6 .3h0m.3-.3h0m.1 .5h0m.9-.1h0m1.1-.1h0m1.4-.5h0m.7 0h0m.3 .4h0m.2 .1h0m.5-.3h0m.1 .2h0m0-.5h0m1.5 .2h0m0 .3h0m.2 0h0m1.6-.6h0m.2 .5h0m1.2 .3h0m0-.1h0m.1-.1h0m.1-.4h0m2.5 .5h0m.1-.4h0m0-.2h0m.3 .5h0m.5-.5h0m.6-.1h0m.1 .3h0m1.4 .5h0m.5-.2h0m.1-.5h0m.1 .5h0m.7 .3h0m.5-.2h0m.2-.2h0m.6 .2h0m.5 .2h0m0-.7h0m.2-.1h0m.4 .3h0m.2 .6h0m1.6-.3h0m.3-.6h0m1.5 .2h0m.7-.1h0m.5 .5h0m.4-.5h0m1.3 0h0m.1 .3h0m1.1-.4h0m.4 0h0m.1-.1h0m1.3 .8h0m1.4-.2h0m.3 0h0m.1-.1h0m.1 .3h0m1.4-.5h0m.6 .3h0m.5 .3h0m2.3-.8h0m.4 .7h0m.8-.5h0m.8 .4h0m.8 .2h0m1.4-.5h0m.1-.3h0m1 .9h0m0-.4h0m0-.4h0m0 0h0m0 .5h0m0 0h0m0 0h0m0-.6h0m0 0h0m0 .4h0m0 .3h0m0-.8h0m-87.7 1.3h0m.8-.1h0m11.8-.2h0m3.4 .1h0m4.8 .5h0m.1 .1h0m.6-.1h0m2.1 .4h0m2.5-.9h0m.7 .7h0m.5 .2h0m.1-.9h0m.7 .4h0m0-.2h0m.5 .5h0m.5 .1h0m.6-.4h0m.1 .2h0m.4 .3h0m1.2-.3h0m2-.1h0m.2 .1h0m1.6-.5h0m.1 .5h0m.8-.4h0m.3 .6h0m.3-.9h0m.9 .2h0m.9 0h0m.8 .6h0m1.5-.5h0m.9-.1h0m.4 .7h0m.1-.6h0m.5-.3h0m0 .5h0m1.6 .2h0m.6 0h0m.1-.5h0m1 0h0m1.7 .6h0m.4-.1h0m2.2-.1h0m.2-.1h0m.6-.2h0m.1 0h0m1.2 .6h0m.6-.1h0m1.6-.2h0m.1-.2h0m.1 .4h0m.2-.7h0m.3 .4h0m.1 0h0m.3-.2h0m1.1 .2h0m1.8-.1h0m.1 .5h0m.2 0h0m.1 0h0m.5-.1h0m.8-.5h0m.2 .2h0m.3 .3h0m.2 0h0m1.6-.2h0m1 .2h0m.8-.3h0m.8 .4h0m.5-.8h0m.3 .3h0m0 .2h0m.7-.1h0m.4 .5h0m.6-.5h0m.1 .4h0m1.6-.8h0m.5 0h0m.3 .6h0m.3-.2h0m.2 .3h0m.3-.7h0m1 .7h0m.2-.5h0m0 0h0m.7-.1h0m.5 .6h0m.3-.2h0m.2 .2h0m.5-.4h0m.4-.1h0m.7-.3h0m1.1 .1h0m.8 .3h0m1.1 .3h0m.9 0h0m.1-.3h0m.3 .1h0m.1 0h0m.1-.1h0m2.2 .1h0m2.2-.4h0m3 .3h0m.3-.3h0m0 .6h0m0-.6h0m0 .4h0m0-.2h0m0 .5h0m0-.1h0m0-.6h0m0 .3h0m0 .2h0m0 .2h0m-82.1 .9h0m.6 .2h0m4.6-.3h0m1.6-.4h0m2.8 0h0m1.5 .5h0m2.9-.2h0m1.1-.4h0m.5 .7h0m0 0h0m3.3-.3h0m.2 .1h0m.4-.6h0m1.1 .8h0m0 .1h0m1.9 0h0m.8-.3h0m.1-.6h0m.2 .5h0m.2-.1h0m.5 .4h0m.2-.4h0m0-.3h0m1.3 .3h0m1.4 .1h0m.6 .2h0m.2-.5h0m.2-.2h0m.1 .8h0m1 0h0m.7-.4h0m.2 .6h0m.8-.5h0m.1 .4h0m1.7-.8h0m1.1 .7h0m0 .1h0m.1-.3h0m0 .2h0m.2-.2h0m.8 .3h0m1.5-.7h0m.1-.1h0m.4 .2h0m0-.2h0m.3 .4h0m.3-.4h0m.5 .8h0m.6-.4h0m.7-.5h0m.6 .3h0m.9 .5h0m.1-.4h0m.6 .2h0m1.6-.5h0m.2 .5h0m.8-.2h0m.2 .4h0m1.2-.3h0m.8-.3h0m1.2 .8h0m1.2-.5h0m2.2-.1h0m.5-.3h0m1.6 .3h0m.8 .2h0m.3 .2h0m.3-.3h0m1.5-.1h0m1.7 .2h0m.5 .1h0m2.1 .2h0m2-.5h0m1.2-.1h0m1.5-.1h0m.3-.1h0m0 .4h0m.4 .3h0m.1-.1h0m.2-.4h0m0 .4h0m.9-.1h0m0 .1h0m.3-.4h0m.9 .5h0m0-.4h0m.7-.3h0m.3 0h0m.4 .8h0m.2-.6h0m1.2 .1h0m.3 .2h0m.5-.5h0m.1 .8h0m.2-.3h0m.7 .1h0m.6-.5h0m0 .6h0m.2 .2h0m.6-.8h0m.3 .1h0m1.3-.2h0m.8 .5h0m.5-.2h0m.7-.4h0m.2 .1h0m.2 0h0m.5 .1h0m1.4 .5h0m0-.6h0m0 0h0m.4 .5h0m0-.5h0m.6 .9h0m.7-.8h0m.1-.2h0m.3 .7h0m0 .1h0m0-.6h0m0 .4h0m0 .1h0m0-.7h0m0 .9h0m0 0h0m0-.2h0m0 .2h0m0-.6h0m0 .6h0m-91.9 .8h0m1.5-.6h0m7.8 .8h0m.6-.5h0m3.9-.2h0m4.9 .7h0m2.4-.3h0m2.4-.5h0m.6 .1h0m1.7 .5h0m.1-.5h0m.4 .6h0m.2-.5h0m1.9-.1h0m2.4 .7h0m.4 .1h0m.3-.2h0m1.6-.2h0m2.7 0h0m1.3 .2h0m.2-.6h0m1.7 .8h0m.5-.5h0m.2-.2h0m.2-.3h0m.8 .2h0m.6 .2h0m0 .4h0m1.1 0h0m.4-.6h0m.4 .6h0m.5-.6h0m1 0h0m.2 .4h0m.5 .3h0m.2-.3h0m.1-.6h0m.4 .8h0m1.6-.2h0m.6 .1h0m1.8-.1h0m.1 .1h0m0-.2h0m.3-.1h0m1.4 .2h0m1.2 0h0m.1 .2h0m.4-.4h0m.5-.3h0m.8 .1h0m0 .7h0m.2-.3h0m0 .2h0m1.7 0h0m.1-.4h0m1.6 .1h0m.5 .1h0m.1-.4h0m.2-.1h0m.3 .4h0m.4-.5h0m.5 1h0m.1-.6h0m.1 .6h0m.8 0h0m1.3-.4h0m1 .1h0m.4 .2h0m.8-.8h0m0 .2h0m.5 .5h0m.1-.7h0m0 .1h0m.8 0h0m.4-.1h0m.2 .9h0m0-.3h0m.1-.3h0m.1-.4h0m1.6 .3h0m1.4 .4h0m1.1 0h0m1-.4h0m0 .1h0m.3 .6h0m.1-1h0m1.2 1h0m1.3-.4h0m.4 .2h0m.1-.2h0m1 0h0m.5 .2h0m1.1 .1h0m3.9-.8h0m.8 .5h0m.4-.5h0m.5 .2h0m1.6-.1h0m2.8 .3h0m1.2-.2h0m.2 .3h0m.8-.4h0m0 .2h0m.6-.4h0m0 .9h0m.8-.6h0m0 .5h0m0-.7h0m0 .7h0m0-.7h0m0 0h0m0 .6h0m0-.5h0m0 .8h0m0-.7h0m0 .5h0m0-.3h0m0 .5h0m0-.3h0m0-.6h0m-100.9 1.2h0m2.2 .1h0m9.7 .2h0m.2 .3h0m3.5-.1h0m7.2 .1h0m5.9-.7h0m1.4 .5h0m.2-.2h0m1.6 .1h0m.3-.3h0m.3 .6h0m0-.3h0m3.8 .1h0m.9-.4h0m3.3-.3h0m.1 .7h0m.9 .3h0m.5-.4h0m.4 0h0m.1 0h0m.4 0h0m.9-.1h0m.4 .1h0m1.2-.3h0m.8 .1h0m.1-.4h0m.1 .3h0m.8 0h0m.7 .5h0m.2 0h0m0 .1h0m.7-.2h0m.2-.4h0m.2-.2h0m.4 .9h0m.2-.2h0m1.8 0h0m.1-.7h0m.9 .5h0m.1 .4h0m3.8-.9h0m.5 .5h0m.3-.1h0m1.9 .2h0m.4 .2h0m.6-.2h0m1.5 .2h0m.3-.7h0m1.9 .8h0m.7-.7h0m.8-.2h0m.5 .6h0m.2-.4h0m.4-.1h0m.5-.1h0m.9 .2h0m.1 .7h0m.8-.3h0m1.2-.5h0m1.5 0h0m.8 .4h0m.9 .4h0m0-.5h0m0 .1h0m.5-.5h0m1 .5h0m1-.4h0m.5 .3h0m1.4 .1h0m.1-.2h0m.8 .3h0m.1 .2h0m1.3-.7h0m1.1 .1h0m.1 .6h0m0-.9h0m.1 .7h0m1.2 .2h0m0 0h0m1.8-.3h0m3.2-.1h0m.5-.2h0m.1-.2h0m2.4 .2h0m0 .3h0m.3 .2h0m0-.3h0m.2 0h0m.2 0h0m.6 0h0m.4 .1h0m.9-.2h0m.4 .2h0m.5-.4h0m.1-.1h0m.2 .7h0m.5-.1h0m.4-.2h0m.7-.2h0m.3 .4h0m.2-.6h0m.4 .8h0m0-.5h0m.2 .3h0m.4-.6h0m.1 0h0m.7 .7h0m1-.6h0m1.8-.2h0m0 .6h0m0-.2h0m0 .2h0m0 .3h0m0-.6h0m0 .4h0m0-.5h0m0 .3h0m0 .2h0m0 .1h0m-84.5 .6h0m3.2 0h0m.6 .3h0m3.6-.7h0m.2 .2h0m.6 .4h0m8.1 .4h0m.4-1h0m4.7 .4h0m1.1 .5h0m.9-.9h0m.4 .5h0m.9-.2h0m1.4-.1h0m.8 .7h0m1.8-.5h0m.4-.1h0m.3-.3h0m.6 .4h0m1.1 .2h0m1.4 0h0m.5 .1h0m.9-.7h0m.9 1h0m1.9-.9h0m3.2 .3h0m0 .4h0m1.4-.2h0m.1-.6h0m.4 .9h0m.7-.4h0m.4-.4h0m.6 .4h0m.1 .5h0m0-.2h0m.4-.7h0m0 .2h0m.1-.2h0m.8 .4h0m1.4-.5h0m1.8 .2h0m.7 .7h0m1-.6h0m.4-.1h0m.2 .7h0m.1-.1h0m.5 0h0m.6-.4h0m.8 .4h0m.7-.5h0m.6-.1h0m.5-.1h0m.4 .1h0m.3 .2h0m3 .1h0m.7-.2h0m1.4-.1h0m.1-.1h0m.4 .9h0m.2-.6h0m0 .2h0m1.2-.3h0m0 .4h0m.1-.3h0m.3 .5h0m.1-.1h0m1-.7h0m.6 .6h0m1.1-.7h0m.3 .6h0m.1-.4h0m.1 0h0m.5 .6h0m.8 .2h0m2-.5h0m.1-.4h0m.1 .4h0m.2 .1h0m.1-.1h0m0 0h0m0 .3h0m1 .1h0m.6-.7h0m.4 .7h0m0-.3h0m0-.4h0m0 0h0m1.1-.2h0m0 .5h0m.1-.2h0m.8-.1h0m0 0h0m.8-.1h0m2.1 .6h0m.2 .1h0m.4-.5h0m.1 .3h0m1.2-.3h0m0 .1h0m.4-.3h0m.1 .4h0m1.3-.4h0m.1 .3h0m.2-.1h0m0 0h0m.9 .3h0m.6 0h0m.4-.5h0m.2 .8h0m1.1 0h0m1-.4h0m0-.4h0m0 .3h0m0-.2h0m0 .1h0m0-.1h0m0 .4h0m0-.6h0m0 .6h0m0-.2h0m0 0h0m0-.2h0m0-.1h0m0 .3h0m0 0h0m0-.3h0m0 0h0m-85.3 1.8h0m2.5-.1h0m.3-.2h0m8.8-.1h0m6.1-.2h0m4.1 .2h0m1.5-.4h0m.9 .3h0m.6-.4h0m0 .9h0m2-.7h0m.2 .3h0m.6 .1h0m.3 .2h0m0-.2h0m.1-.1h0m.4 .4h0m.7-.1h0m.7-.3h0m.2 .2h0m.1-.3h0m.2 .3h0m.3-.1h0m.1-.3h0m.8 .6h0m.1-.9h0m1 .4h0m1.8 .4h0m.3-.6h0m.5 .2h0m1.3 .3h0m1.2-.4h0m.4-.3h0m.4 .7h0m1 .1h0m.2-.4h0m.3 .3h0m.4-.7h0m.1 .6h0m0 .2h0m.4-.2h0m3.2-.1h0m.3 0h0m.5-.4h0m1.2 .3h0m.5 .1h0m1.1-.2h0m.2 .5h0m1.3-.4h0m1.9 .1h0m.2 .3h0m1.7 .1h0m1.2-.5h0m0-.2h0m.7-.1h0m.1 .2h0m2.1 .3h0m.7 .3h0m.3-.2h0m.3-.4h0m.1-.2h0m0 .5h0m1.8-.2h0m.3 .2h0m.2-.4h0m.1 .5h0m.2-.1h0m1.8 .4h0m.8-.1h0m1.1-.7h0m0 0h0m1.1-.2h0m.9 .9h0m.2-.7h0m.2 .3h0m.9 0h0m1.1 0h0m0 0h0m.2-.1h0m1.3 .4h0m.8-.5h0m.4 .2h0m.4 0h0m.6 .2h0m.7 .1h0m.4 .2h0m.3-.9h0m.3 .2h0m.7 .4h0m.1-.6h0m1.4 .8h0m.7-.1h0m.1-.5h0m1 .3h0m0 .4h0m.2-.5h0m.7-.3h0m.3 .5h0m.1-.2h0m0-.3h0m.1 .3h0m.5-.3h0m0 .4h0m.1-.1h0m.4 .4h0m1.8-.1h0m.1 0h0m.1-.6h0m.6 .5h0m1.2 0h0m.5-.4h0m0 .6h0m0-.1h0m0-.3h0m0-.2h0m0 .1h0m0-.1h0m0 .4h0m0-.1h0m0 .3h0m0-.2h0m0-.2h0m0 .1h0m0-.4h0m0 .3h0m-80.7 1.3h0m5.9 .1h0m.1-.4h0m.4 .2h0m2.6-.7h0m.6 .4h0m.6-.3h0m4.7 .8h0m1.3-.3h0m1 .1h0m.6-.4h0m.5-.3h0m.6 .7h0m2.1-.3h0m0-.2h0m.7 .4h0m0-.1h0m1.7 .2h0m.3-.3h0m.6 0h0m1.2 .1h0m.3 .3h0m1.6 0h0m.7-.2h0m.1-.6h0m.2 .8h0m.4-.1h0m0-.5h0m.3 .6h0m1-.3h0m.9 .1h0m1.3 .1h0m.8-.4h0m.2 0h0m.3-.1h0m.3 0h0m.8 0h0m.4 .6h0m0-.4h0m.1-.4h0m.5 .5h0m0 0h0m.3 .1h0m.6 .2h0m.9 0h0m.5-.2h0m.5 .1h0m.7 .2h0m.8-.8h0m.1 .5h0m.1-.2h0m.2 .2h0m0-.3h0m.7 .3h0m.4 .1h0m.2 .2h0m.1-.1h0m.3-.1h0m.1-.4h0m.4 .2h0m.8 0h0m.6 .2h0m.3-.5h0m1.1 .1h0m.3 .3h0m.1-.3h0m.2-.2h0m.2 .6h0m.4 .3h0m1.7-.7h0m0 .6h0m.8-.5h0m.2-.3h0m.9 .8h0m1.4 0h0m.6 0h0m.8-.1h0m.5-.4h0m0-.1h0m.7 .6h0m.1-.4h0m.9-.2h0m0 .3h0m.7 .1h0m1.1-.3h0m.3 .2h0m.6 .2h0m.3-.6h0m.3 .2h0m.1-.2h0m1 .4h0m.3 .2h0m0-.4h0m.7-.3h0m2.9 .2h0m.3-.1h0m0 .7h0m1.5-.6h0m.1 .5h0m.9-.7h0m.3 .2h0m.1-.1h0m.4 .1h0m.2 0h0m.7 .1h0m.7 .2h0m.7 .4h0m0-.8h0m.9 0h0m0 .3h0m.3-.2h0m1.1 .2h0m1.8 .4h0m.1-.5h0m0 .1h0m.1-.3h0m.1 .8h0m.1-.1h0m.5-.8h0m.8 .6h0m.2-.2h0m1.9 .2h0m.6 0h0m.1-.5h0m.5 .3h0m.7 .2h0m1.5-.3h0m0-.3h0m0 .6h0m0 0h0m0 .3h0m0-.1h0m0-.7h0m0 .3h0m-110.3 .6h0m22.1 .5h0m3.4 0h0m1 .1h0m5.2 .2h0m.5-.6h0m2-.1h0m.6-.2h0m.6 .9h0m1.5-.2h0m.9-.6h0m2.6 .4h0m.8 .5h0m1.5-.9h0m.4 .6h0m1.2 .2h0m1.4-.8h0m2.7 0h0m.5 .3h0m.4 .5h0m1-.5h0m1.2 .5h0m.3-.7h0m.9 .6h0m1.1 .2h0m.1-.9h0m.5 0h0m0 .7h0m2.1-.3h0m1.2 .1h0m.1 0h0m.2 .2h0m.8-.1h0m.8-.4h0m4.2 0h0m.7-.2h0m.6 .7h0m.8-.3h0m.2 .1h0m1-.4h0m.6 .5h0m.9-.5h0m.2 .8h0m.6-.2h0m.1-.4h0m.8-.1h0m2.8 .3h0m1.2 .4h0m0-.9h0m.2 .8h0m.9-.2h0m.1 .1h0m.7-.4h0m.2 .4h0m.6-.2h0m0-.3h0m0 .7h0m.4 0h0m.2-.7h0m.4-.2h0m.9 .2h0m1 .1h0m.1-.3h0m.1 .3h0m2.1-.3h0m1.5 0h0m1.1 0h0m.6 .1h0m.3 .6h0m.4-.7h0m.2 .6h0m.7-.6h0m1.5 .3h0m.4-.3h0m1 .1h0m.7-.2h0m.9 .9h0m.7 0h0m.3 0h0m.5-.9h0m.1 .7h0m1.4-.6h0m.1 .2h0m.1 .6h0m.6-.3h0m1.3 .3h0m1.4-.4h0m1.2 0h0m.7 .1h0m.9-.1h0m3.3-.5h0m.2 .7h0m2.2 .1h0m2.1-.2h0m.8-.4h0m.4-.1h0m.4 .5h0m.1 .1h0m0-.6h0m0 .7h0m0-.7h0m0 .8h0m0-.2h0m0 0h0m0 .3h0m0-.7h0m0 .5h0m-82.2 .7h0m1.1-.3h0m3 .3h0m.4 0h0m.2 .4h0m6-.4h0m.8 .1h0m4-.2h0m2.1 .5h0m.4-.2h0m.8 .2h0m.8-.6h0m1.4 .4h0m1.5-.1h0m.2-.5h0m.1 .7h0m1.8-.4h0m1.1-.4h0m1.5 .2h0m1.4 .3h0m1.6 .1h0m.1 .1h0m1.3-.5h0m.1 .6h0m1.1 .1h0m1.1-.8h0m0 .6h0m.5-.3h0m.4-.2h0m.8 .5h0m.3-.2h0m.1 .5h0m.9-.1h0m.1-.7h0m.6 .1h0m.1 .5h0m.3 .2h0m.4-.8h0m.6-.1h0m.2 .5h0m0 .4h0m.2-.1h0m.5-.7h0m.4 .6h0m1.1-.2h0m.5 .2h0m.8-.6h0m1.3 .3h0m1.1 0h0m1 .3h0m2.3-.4h0m.1-.3h0m0 .3h0m.6-.3h0m.2 .7h0m.5-.4h0m.7 .1h0m.1-.1h0m.2 0h0m.6-.3h0m.1 .8h0m.5-.5h0m.1-.3h0m.9-.1h0m1.7 .4h0m.4 .5h0m.3-.5h0m.2 .1h0m.1 .2h0m.2-.5h0m0-.2h0m.3 0h0m.1 .9h0m2.8-.9h0m.6 .3h0m1.1 .7h0m.1-.9h0m2-.1h0m1.4 0h0m.3 .4h0m.4 .1h0m3.1 .2h0m.4-.4h0m.2 .7h0m1.9-1h0m1.3 .2h0m.9 .1h0m.6 .7h0m0-.5h0m.6 .3h0m0-.4h0m1.9 .4h0m.5-.7h0m0 .6h0m0 .2h0m1.9-.1h0m1.7-.1h0m1-.6h0m.1 .3h0m.1 .4h0m1-.5h0m0 .1h0m0 .5h0m0-.9h0m0 .2h0m0 .7h0m0-.1h0m0 .1h0m0-.2h0m0-.7h0m0 0h0m0 .9h0m0 0h0m0-.2h0m-115.1 1h0m26.8 .2h0m1.1-.8h0m1.5 .5h0m2.9-.6h0m.6 .8h0m1 .1h0m3.1-.7h0m5.5 .7h0m1.4-.5h0m.7 .3h0m4.1-.1h0m.6 .3h0m1.9-.7h0m.9 .3h0m1 .2h0m.4 .1h0m.3-.1h0m3.1-.1h0m.1-.4h0m.2 .5h0m1.3 .2h0m1-.2h0m.3-.6h0m.5 0h0m1.7 .1h0m.1 .7h0m.1 0h0m1.7-.6h0m1.3 .5h0m1.2-.8h0m.1 .6h0m1.3-.6h0m.2 .9h0m.8 .1h0m.2-.7h0m1.4 .5h0m.1 .1h0m1.1 0h0m1.4-.5h0m1-.2h0m1.2 .1h0m1.3 .1h0m.1 .4h0m.5 0h0m.8 0h0m.4-.5h0m.5 .5h0m.6-.3h0m0 0h0m1.6-.2h0m.2-.2h0m.8 .6h0m.8-.6h0m.2 .9h0m.1-.8h0m.1 .2h0m0-.2h0m1.8-.1h0m.1 .3h0m.7-.3h0m2.5 .3h0m.4 0h0m.2-.3h0m.3 .1h0m.5 0h0m.7 .1h0m.6 .6h0m.1-.4h0m1.2-.2h0m.5 .2h0m.1 .1h0m.1-.3h0m1.8-.1h0m.4-.1h0m.1 .6h0m2.9-.7h0m.7 .5h0m2 .4h0m.1-.2h0m0-.7h0m1.1 .3h0m.2 .4h0m.2 0h0m4.4-.2h0m1.1-.3h0m0 .5h0m.3-.7h0m1 .7h0m1.6-.6h0m.6 .2h0m1-.1h0m.1 .3h0m.6 0h0m.2-.3h0m1.7 0h0m0 .5h0m0-.5h0m0 .1h0m0 .6h0m0-.3h0m0 .1h0m0 .2h0m0-.1h0m-119 .3h0m40 .1h0m.9 .2h0m2 .6h0m.3-.3h0m.6-.6h0m4.4 .1h0m1 .8h0m.3-.3h0m4.4 .2h0m1.3-.2h0m0-.4h0m.3 .2h0m.5-.2h0m.2 .4h0m.7-.5h0m2.4-.2h0m.8 .7h0m.8-.1h0m.3 .3h0m.2-.5h0m1 .1h0m.1-.2h0m1.3-.1h0m.7 .4h0m.8-.5h0m.3 .3h0m.7 0h0m.6 .4h0m.2-.6h0m.7 .5h0m.2-.6h0m.1 .1h0m1.5 .2h0m.4 .6h0m.2-.5h0m.7 .4h0m.5 0h0m.7-.4h0m.2 .3h0m2.8-.1h0m1.3-.4h0m0 .5h0m.4-.7h0m.3 .4h0m1-.4h0m.3 0h0m1.4 .2h0m.5 .5h0m2.3-.5h0m.4 .5h0m.5 0h0m1.4 .1h0m.2 .1h0m.1-.2h0m.7-.4h0m.4 .2h0m.1-.5h0m.6-.1h0m.8 1h0m.8-.8h0m0 .2h0m1.6 .5h0m1.5-.1h0m1.2-.7h0m.4 .3h0m.9 .2h0m0 .3h0m.3-.5h0m.1-.3h0m.8 .5h0m0-.6h0m.9 .3h0m.1 .4h0m0-.5h0m.1 .1h0m.1 .4h0m.7-.4h0m1.5 0h0m.9-.1h0m0 .1h0m.6 .3h0m.4-.6h0m.7 .3h0m.7 .3h0m.5-.1h0m.1-.4h0m.2 .2h0m2.6 .2h0m1.9 0h0m.5 .1h0m.7-.3h0m.3 0h0m1.8 .2h0m.1 .1h0m1.7 .3h0m.2 .1h0m.1-.5h0m.3-.1h0m.4-.4h0m1.3 .9h0m.3-.1h0m.3-.2h0m.8 .2h0m.2 .2h0m1.7-1h0m.9 .5h0m0 .2h0m0 .3h0m0-.4h0m0-.6h0m0 0h0m0 .9h0m0-.3h0m0-.3h0m0-.2h0m0 .7h0m0-.3h0m0 .3h0m0 .1h0m0-.8h0m0 .4h0m0-.3h0m-106.9 1.6h0m13.8-.5h0m3.5 0h0m1.1 .4h0m8.6-.3h0m1.5 .4h0m4.3 .1h0m1.1-.9h0m1.1 .9h0m4.9-.6h0m1.3 .6h0m5.6-.5h0m.2-.3h0m.3 .7h0m0-.5h0m.6 .2h0m2.6 .4h0m1.1-.4h0m.1-.4h0m.7 .1h0m1.2 .2h0m.3 .4h0m.2-.2h0m.3 0h0m.1-.4h0m.7 0h0m.5 .1h0m0 .1h0m1 .1h0m.1 .1h0m1-.3h0m2.7 .6h0m.8-.9h0m.3 .3h0m2.6 0h0m0 0h0m.6 .5h0m1.3-.4h0m1.3-.2h0m.3 .2h0m1.2 .4h0m.6-.3h0m.4 .3h0m.1-.3h0m.5-.3h0m.1 .8h0m.3-.2h0m.9 .2h0m.2-.4h0m.6 .4h0m.2-.9h0m0 .8h0m.6-.1h0m.6-.8h0m1.9 .7h0m.1-.2h0m.5 .3h0m.6-.5h0m.3 .4h0m.9-.3h0m.6 0h0m.9 .4h0m.9-.7h0m1.6 .1h0m.5-.1h0m.6 .4h0m1 .3h0m.8 .1h0m.3-.3h0m1.1-.3h0m.2 .4h0m.6-.7h0m.5 .2h0m.1 .7h0m0-.3h0m.6 .3h0m.2-.4h0m.7-.2h0m.3 .1h0m.5 .5h0m1.9-.9h0m1.5 .8h0m.5-.2h0m0-.5h0m3.8 .2h0m.6 .4h0m1.1 0h0m0-.1h0m.2-.5h0m0 .9h0m.1 0h0m1.6-.3h0m1.2-.1h0m0-.4h0m1.3 .3h0m1-.3h0m.6 .2h0m.1 .6h0m.1-.7h0m.2-.2h0m.6 .5h0m.1 .1h0m.1-.1h0m0-.3h0m0-.2h0m0 .4h0m0-.4h0m0-.1h0m0 .9h0m0 0h0m0-.7h0m0 .5h0m0-.4h0m0 .6h0m0-.9h0m0 .4h0m0-.1h0m0 .1h0m0 .1h0m0 .3h0m0 0h0m0-.1h0m0-.1h0m0-.1h0m-95.6 1.3h0m11.4-.6h0m2.4 .5h0m.9 0h0m.9 0h0m2.7-.5h0m.4-.1h0m.1 .7h0m3-.2h0m2.7 .2h0m2.3-.4h0m1.9-.4h0m1.8 1h0m.9-.7h0m.9 .3h0m3.8 .3h0m.3 0h0m1.7 0h0m2.5-.2h0m.2-.2h0m.1 .4h0m.4-.3h0m1.8 .2h0m0 .2h0m1-.8h0m.2 .3h0m.2 .2h0m.1-.4h0m1.3 .3h0m.7-.1h0m.6 .4h0m.4 0h0m1.6-.7h0m.7 .7h0m.3-.7h0m1 .1h0m2.3 0h0m2.4 0h0m.2-.3h0m.4 .2h0m.2-.1h0m.3 .6h0m.5 .2h0m.7-.3h0m.3 0h0m.2-.2h0m.2 .1h0m.5 .2h0m.1 .1h0m1.9-.4h0m.1 .1h0m.9 .2h0m2.3-.3h0m1.3-.3h0m2.1 .2h0m2.9 .3h0m.2-.2h0m.8 0h0m.5 0h0m.2-.3h0m1 .3h0m0-.3h0m.2 .6h0m.1 .2h0m1.4-.4h0m.3-.4h0m.2 .7h0m.2-.4h0m0 0h0m.5-.4h0m1.8 .7h0m1.2-.2h0m.7 0h0m.7-.1h0m.2 .3h0m.2 .3h0m1.4-.8h0m.1 .8h0m.3-.5h0m0 .1h0m2 .1h0m1-.6h0m.4 .1h0m0 0h0m.5 0h0m1.1 .1h0m.1 .2h0m.1 .3h0m.5-.2h0m.1-.4h0m.3 .6h0m0-.2h0m.2-.3h0m.9 .4h0m.2-.1h0m.3-.4h0m1.8 .4h0m0-.3h0m.3 .1h0m.5 .4h0m.6-.4h0m.6 0h0m.2 .5h0m.2-.1h0m.5-.4h0m0 0h0m0 0h0m0 .4h0m0-.8h0m0 1h0m0-.7h0m0 0h0m0-.1h0m-92 1.2h0m3.2 .5h0m1.2-.2h0m6.3-.3h0m1.3 .1h0m2-.2h0m1 .4h0m.9-.3h0m.2 .4h0m1.4-.4h0m1.3 .1h0m1.6-.4h0m4.6 .7h0m2.5-.7h0m.1 0h0m.2 .4h0m1.1 .1h0m.2-.5h0m1.3 .6h0m2.6-.1h0m1 .3h0m.2-.7h0m1.8 .4h0m.1 .4h0m1.1-.6h0m1.1 .4h0m.1 .1h0m.1 .1h0m.7-.2h0m.1-.6h0m.5 .5h0m.2-.5h0m.6 .1h0m.3 .4h0m.9-.5h0m.9 .3h0m1.5-.2h0m.6 0h0m.5 .5h0m1 0h0m.4 .1h0m0-.8h0m1 .9h0m1.3-1h0m.2 .7h0m.5-.4h0m.6-.2h0m1.6 0h0m.5 .1h0m.4-.1h0m.2 0h0m.4 .2h0m.2 .4h0m.2 .1h0m.2-.7h0m.1 .2h0m.6-.3h0m.1 .9h0m.3-.4h0m1.5 .4h0m.6-.9h0m0 .8h0m.2 .1h0m.6-.3h0m.1 .3h0m.8-.2h0m.9 .3h0m.6-.2h0m.5-.6h0m1.3 .2h0m1.7 .5h0m.4 .1h0m.5-.7h0m.6-.2h0m.9-.1h0m.2 .9h0m.2-.5h0m1.9 .3h0m.7-.3h0m.2 .1h0m.5-.1h0m.4 .2h0m.3-.3h0m1.5 .1h0m0 .4h0m.5-.2h0m.3-.1h0m.7-.3h0m.1 .3h0m.1 .2h0m1.9-.5h0m0 .4h0m.7 .3h0m1-.7h0m.2-.2h0m.1 .2h0m.5 .1h0m1.2 .4h0m.1-.3h0m.3 .5h0m.3-.1h0m0-.5h0m.2 0h0m.2 .4h0m.2-.2h0m0 .1h0m.2-.6h0m.1 .2h0m.1 .7h0m.7-.4h0m.2-.2h0m.1-.3h0m1.3 .3h0m1.2 .2h0m.5 .4h0m.6-.5h0m2.1-.2h0m2.2 .3h0m.3-.4h0m.2-.1h0m.2 .5h0m.4 0h0m.5-.2h0m.1 .3h0m.2-.1h0m0-.2h0m0 .3h0m0 .1h0m0-.4h0m0-.3h0m0 .5h0m0 0h0m0-.4h0m-97.7 1.1h0m16.2 .5h0m2.5-.4h0m.2-.2h0m1.4 .2h0m0 .1h0m0-.2h0m2.2 .7h0m.1-.4h0m1.4 .4h0m.6-.4h0m.7-.2h0m.6 0h0m1.8-.1h0m.8 .3h0m3.4 .2h0m.1 .1h0m2.7-.3h0m.8-.2h0m.2-.2h0m.1 0h0m1 .4h0m0 0h0m.4 .4h0m1.3-.6h0m.3 .4h0m.6 0h0m.8-.5h0m4.1 .3h0m.1 .3h0m.3-.3h0m.7 .1h0m.9 .1h0m.1 0h0m.7-.5h0m1.3 .2h0m.2 .3h0m.2 .2h0m1.2-.3h0m.1 .1h0m.5-.2h0m.7 .4h0m.3-.5h0m.7 0h0m.4 .5h0m.5-.2h0m.2-.3h0m.2-.1h0m.3 .6h0m.2-.5h0m.1-.2h0m.8 .6h0m.6-.8h0m1.6 .6h0m.4-.3h0m0-.1h0m.8 .6h0m1-.7h0m2.5 .2h0m1.3 .4h0m.1 .2h0m1.6-.9h0m.5 .5h0m1.6-.3h0m.8 .6h0m.2-.6h0m.2 .6h0m.6 .1h0m1.8-.3h0m.3 0h0m1.3-.6h0m1 .6h0m.3-.6h0m.7 .7h0m.8 0h0m1 0h0m.2 .2h0m.9-.5h0m.2 0h0m.6-.3h0m1.4 .4h0m.2-.2h0m.7 .3h0m.8-.6h0m0 .4h0m1.2 .4h0m0-.7h0m2.7 0h0m.6-.1h0m1.1 .3h0m.2 .5h0m.6 0h0m.7 0h0m.4 .1h0m0-.7h0m1 .4h0m1.5-.1h0m.6 .4h0m.5-.9h0m.7 .7h0m1.6-.3h0m.8 .4h0m1.3 .2h0m1.2-1h0m0 .1h0m0 .6h0m0 .2h0m0-.7h0m0 .3h0m0 .1h0m0 .3h0m0-.9h0m0 .2h0m-94.4 .9h0m.3 .3h0m11.7 .2h0m13.5-.1h0m1.5 0h0m.7-.2h0m1.7 .4h0m.4-.1h0m.4-.2h0m.9-.3h0m0 .7h0m1.5-.1h0m.3-.2h0m.1 0h0m1.1-.1h0m1.7 .5h0m0-.4h0m2.1 .3h0m0-.4h0m.9-.1h0m.1 .4h0m3.7 0h0m.4-.6h0m.4 .3h0m.3-.3h0m1.6 .4h0m2.2 .2h0m.4-.2h0m.1 .1h0m.1-.2h0m.1 .5h0m1.7-.5h0m.2-.2h0m.3 .2h0m1.2-.2h0m.1 .1h0m1.1 .4h0m.8-.5h0m.1 .2h0m1.5 .5h0m1.1 0h0m.3-.3h0m.7-.1h0m.5-.1h0m.2 .5h0m.2-.1h0m.3 0h0m1.3-.7h0m.4 .3h0m.2 .6h0m.3-.9h0m1.8 .6h0m2.8-.4h0m1.1 .2h0m1.1-.1h0m.3-.1h0m1.6 .4h0m2.3-.2h0m.7 .5h0m.1 0h0m.1-.6h0m.1 .5h0m.6-.7h0m.8 .6h0m.4-.7h0m.2 .7h0m.4-.6h0m.3 .2h0m0 .6h0m.1-.6h0m0 0h0m.2 .1h0m.1-.4h0m2 .2h0m.6-.2h0m.3 .4h0m.8-.2h0m.5 .4h0m.1 .3h0m2.4-.5h0m1.5-.1h0m.6 .6h0m1.2-.1h0m.8-.8h0m0 .7h0m.4 .1h0m1-.2h0m.5 .2h0m.9-.1h0m.6-.5h0m.6-.2h0m.6 .2h0m.8-.3h0m.8 .2h0m.1 0h0m.5 .7h0m.4-.2h0m.6 0h0m0 .2h0m0-.8h0m0 .3h0m0 .5h0m0-.7h0m-118.4 1.6h0m9-.7h0m11.5 .5h0m3-.3h0m7.1 .3h0m8.8-.1h0m.8-.3h0m1.3 .6h0m8.1-.5h0m3.1 0h0m.1 .3h0m1.1 .1h0m1.5 .1h0m3.3-.1h0m.2-.5h0m.7-.2h0m1.3 .9h0m0-.5h0m1.7 .3h0m.6 .3h0m1.4-.3h0m.1-.3h0m.9 .3h0m1.4-.6h0m.4-.1h0m.5 .2h0m.3 .3h0m1.1-.4h0m.3 .3h0m.5 0h0m.6 .3h0m2.8 0h0m.8-.1h0m.4 .2h0m.8-.5h0m1.4-.2h0m2.4 .8h0m.3-.1h0m1.2 0h0m.3-.7h0m1 .2h0m.2 .3h0m1 .3h0m0-.5h0m.8 .1h0m.8 .1h0m.1-.3h0m0 .6h0m1.5 0h0m.5 .1h0m1.3-.6h0m.8 0h0m.5-.2h0m.1 .2h0m0 .2h0m.1-.5h0m1.5 .8h0m1.6-.2h0m2.1 .1h0m.2-.3h0m.3-.1h0m2.3 .3h0m0 .3h0m2.6-.1h0m.1-.6h0m.1 .5h0m1.5-.4h0m.5-.1h0m1.3 .3h0m.1-.6h0m.3 .7h0m.3 .3h0m.1-.9h0m1.2 .6h0m1.2-.4h0m1.5 .2h0m.1-.4h0m.6 .5h0m.7-.3h0m1.1 .5h0m2.2-.6h0m1.2 .4h0m1.1-.6h0m0 .7h0m.6-.5h0m.5 .3h0m1.7-.1h0m0 .1h0m0 .1h0m-96.6 1h0m10.4-.1h0m3.1 .3h0m.2-.6h0m1.4 .5h0m3.1-.3h0m3.4-.1h0m.7-.2h0m1.8 .6h0m2.5-.4h0m.4 .3h0m2.3-.3h0m5.8 .1h0m.4 0h0m1.2 .1h0m.6 0h0m.1 0h0m.7-.2h0m.3-.2h0m.2 0h0m.1 .6h0m.3-.1h0m1.6-.1h0m.1 .2h0m.9 .2h0m.5-.2h0m1.2-.7h0m.6 .6h0m.3-.1h0m.5-.4h0m.6 .1h0m.5-.1h0m.7 .4h0m.3 .5h0m.2-.4h0m.2 0h0m0-.1h0m.5-.1h0m.4 .5h0m.5-.4h0m1.1 .5h0m0-.3h0m.2 0h0m1.5-.4h0m.4 .7h0m0 0h0m0-.8h0m.7 .4h0m.6-.3h0m1.1-.2h0m1.1 .7h0m1-.7h0m.2 .3h0m0-.3h0m.7 .7h0m1.7-.4h0m.1 .5h0m.1-.3h0m3.1 .1h0m.5 .2h0m2.8-.5h0m.2 .1h0m.2 .1h0m.3 .2h0m.2-.2h0m1.5 .1h0m.1-.7h0m2.6 .6h0m1.3-.4h0m.1 .3h0m.2-.4h0m.3 0h0m.2 .1h0m.2 0h0m1.2 .5h0m.4 .2h0m.8-.6h0m.1-.3h0m1.3 .7h0m0-.4h0m.2 0h0m.2 .1h0m.1-.1h0m0-.1h0m.1 .2h0m2 .2h0m.7-.2h0m2 .2h0m1.6-.1h0m.6-.1h0m1.3-.2h0m.2 .3h0m2.8-.1h0m1.3-.3h0m.1 .4h0m.9-.4h0m.2 .5h0m.1-.4h0m1.3 .4h0m.7-.1h0m0 .4h0m.1-.5h0m.9 0h0m.3 .3h0m1-.1h0m1.2-.6h0m0 .1h0m0 .5h0m0 0h0m0-.6h0m0 .5h0m0 0h0m0 .2h0m0-.4h0m0 .3h0m0-.3h0m-104.8 1.3h0m10.5-.2h0m8.7 .2h0m4.2-.3h0m.4 .1h0m5.4-.1h0m2.2-.2h0m2.8 .4h0m5-.3h0m3.7 .2h0m.8-.3h0m.2-.1h0m.8 .9h0m1.1-.5h0m.6 .5h0m.2-.3h0m.1-.3h0m.4-.2h0m.1 .3h0m1.3 .5h0m.4-.1h0m0-.4h0m.3-.3h0m.3 .5h0m.6 .1h0m.8-.2h0m.9-.2h0m0 .7h0m1.7-.6h0m0 .6h0m.4-.7h0m.5 .3h0m.5 .2h0m.1-.7h0m1.2 .9h0m.2 0h0m.2-.4h0m.3 .4h0m.4-.9h0m0 .3h0m1-.4h0m1.7 .5h0m0-.3h0m.4 .6h0m.8-.6h0m.4 .7h0m.6-.4h0m.1 .1h0m.6 .4h0m.9-.4h0m1.3-.1h0m1.6-.2h0m2.2-.2h0m.2 .2h0m1 0h0m1.1 .3h0m1.2 .4h0m.1-.4h0m1.1 .2h0m1.2-.5h0m.2 .3h0m.1-.4h0m1.4 .1h0m1.9 .6h0m3.1-.1h0m.2 .1h0m0-.5h0m2.1 .3h0m.5 .3h0m.1-.4h0m.3-.4h0m1.8 .6h0m.2-.2h0m1.2 .2h0m.7 0h0m.2 .2h0m2.2-.1h0m.2-.7h0m.5 0h0m.2-.1h0m.1 .8h0m.3-.4h0m.8 .1h0m0-.4h0m1.6 .3h0m.5 .1h0m1 .3h0m1.1 .1h0m1.6-.5h0m.4 .2h0m.6-.6h0m.8 .1h0m.5 .3h0m.3 .1h0m.4-.5h0m.7 0h0m1 .8h0m1.2-.6h0m0 .6h0m0 0h0m0-.3h0m0 .3h0m0-.6h0m0-.2h0m-102.9 1.7h0m3.3 0h0m1-.1h0m6.5 0h0m4.6-.3h0m.8-.3h0m1.2 .8h0m4.9 0h0m4.3-.1h0m.2-.2h0m1.3 .4h0m1.8-.3h0m.7 0h0m4.2-.5h0m1.6 .6h0m.1 .1h0m2.8-.1h0m.2-.8h0m.2 .6h0m.5 .3h0m1.7-.7h0m.6 .4h0m.4-.5h0m1 .1h0m3 .6h0m.7-.6h0m.8-.1h0m.2 .2h0m.6-.2h0m.4 .7h0m.2-.3h0m.3 0h0m.4 .5h0m.2 0h0m0-.3h0m.9 0h0m0-.3h0m.6 .4h0m2-.4h0m1.2 .2h0m.9 .4h0m.8-.3h0m.2-.6h0m0 .4h0m.1 .2h0m.2-.4h0m.3 .1h0m.4-.2h0m.1 .4h0m.3 .4h0m1.2 0h0m1.1-.1h0m.3-.2h0m.1 .3h0m.8-.8h0m.7 .7h0m.3 .1h0m1-.1h0m.1-.4h0m2.3-.1h0m.4 .4h0m1.3-.2h0m.4-.5h0m.7 .3h0m0 .2h0m0 .1h0m.1 .2h0m1.7-.5h0m.8 .1h0m1.3 .4h0m.7-.1h0m.9 .1h0m0-.7h0m.7 .2h0m.1-.1h0m0-.2h0m1.3 .1h0m.2 .1h0m.2-.1h0m.2 .4h0m.3-.2h0m.2 .4h0m.5-.3h0m0-.5h0m.1 1h0m0-.8h0m.1 .4h0m.2-.4h0m.2 .6h0m0-.3h0m1.2 .3h0m1.6-.3h0m0 .1h0m.4 .3h0m.5 0h0m.7-.5h0m.1-.3h0m.3 .3h0m.5-.2h0m.2 .3h0m.1 0h0m1-.4h0m1.2 0h0m.2-.1h0m2.2 .3h0m.3 .6h0m1-.7h0m0 .3h0m.8 .2h0m.1-.1h0m.8 .3h0m.1-.5h0m.7-.2h0m3.2 .4h0m.6 0h0m.3-.2h0m.3 .2h0m.2-.2h0m.3 .2h0m.2-.3h0m.2 .1h0m.4 .1h0m.1-.2h0m.3-.1h0m1.5 .4h0m.7-.5h0m1.1 0h0m.1 .6h0m.2-.4h0m0 .7h0m0-.1h0m0-.6h0m0-.1h0m0 .3h0m0-.3h0m-126 1h0m26.8-.2h0m6.5 .9h0m3.7-.5h0m.3 .6h0m.6-.5h0m9.1 0h0m.7 .2h0m.5-.1h0m.5-.2h0m1.8 .3h0m1.1 .1h0m2.5-.7h0m1.7-.1h0m5.9 .1h0m1.2 .6h0m1.5-.1h0m.6-.5h0m2.1 .5h0m.1-.1h0m1.6 .2h0m0-.6h0m.9 .7h0m1.5-.1h0m.2 0h0m.1 .3h0m.3-.9h0m1.2 .6h0m.3 .3h0m.1-.2h0m.9-.5h0m.6 .1h0m1.1-.2h0m1.2 .1h0m.9 0h0m.6 0h0m1.7 .4h0m.3-.3h0m.3-.3h0m.6 .7h0m0 .1h0m1.2-.1h0m.3 .1h0m.2-.1h0m1.4-.4h0m1.2 .1h0m.7 .2h0m.2 .3h0m.6-.8h0m.4 .2h0m.2 .2h0m.2 .2h0m.4 0h0m.1 0h0m.1-.4h0m.4-.1h0m.3 0h0m.5 .7h0m1.8-.6h0m.6 .3h0m0 0h0m.4-.1h0m.4 .2h0m.4-.1h0m.2-.2h0m.1-.5h0m.2 .2h0m.2 .6h0m.5-.4h0m.2-.2h0m.3 .5h0m.1 .2h0m3.2-.6h0m0-.2h0m.2 .3h0m.7 .1h0m.3 .1h0m.4 .1h0m.4-.6h0m0 .4h0m.7 .4h0m1.1-.2h0m.2-.7h0m.5 .6h0m.1 .1h0m.5 .2h0m.8-.7h0m.2 .2h0m1.4-.3h0m.9 .2h0m1.1 0h0m.2-.2h0m0 .8h0m1.5-.3h0m.6-.1h0m2.3 .4h0m1.7-.3h0m.5 .3h0m.1 0h0m1.1 .1h0m.3-.3h0m.5 .2h0m.5-.9h0m.7 .5h0m.2 .1h0m.3 .2h0m.3 .1h0m.3-.8h0m0 .3h0m.3-.2h0m1.4 .7h0m.7-.9h0m.7 .6h0m1.6 .1h0m1.1 0h0m1-.1h0m0-.2h0m0 .3h0m-87.8 .9h0m1.2 .4h0m2.9-.4h0m1.4-.1h0m1.6-.2h0m1.1 .5h0m2.4-.3h0m3.4 .3h0m6.8-.2h0m1.4 .1h0m1 0h0m.1-.5h0m1.5 .8h0m1.9-.9h0m.4-.1h0m1 .2h0m1.4 .5h0m1.4-.1h0m.8-.3h0m.7 0h0m.9-.3h0m.1 .4h0m.3 0h0m.6 .1h0m.2 .2h0m1-.4h0m.8 0h0m0 .6h0m.1-.7h0m1.2 .6h0m.2-.5h0m.9-.2h0m.8 .1h0m.1-.1h0m.1-.1h0m.7 0h0m.3 .8h0m1.1 0h0m.2-.6h0m.1 .3h0m.1-.1h0m1.4-.2h0m.6-.1h0m.1 0h0m.3 .8h0m1.4-.4h0m.1-.5h0m2.5 .8h0m.2-.7h0m.6 .2h0m2.4 .3h0m.2-.4h0m.3-.1h0m0 .4h0m.4-.1h0m.2 .6h0m1.7 0h0m.7-.5h0m1 .4h0m.2-.4h0m.3-.1h0m0 .4h0m.6-.6h0m.7 .8h0m1.6-.5h0m.9-.4h0m1.8 .5h0m.9-.4h0m.3 .2h0m.6-.2h0m.5 .6h0m.4 0h0m.5-.5h0m1-.2h0m.7 .4h0m.4-.3h0m.6 .1h0m1.4 .4h0m.5 .1h0m.2-.8h0m.1 .6h0m.5-.5h0m.3 .7h0m1.2-.1h0m.4-.4h0m0 .3h0m.2-.1h0m.4 .1h0m.7 .2h0m.4-.1h0m.2-.6h0m0 .2h0m.2-.1h0m.8 .1h0m.3-.1h0m.8 .2h0m0 .5h0m.5 .1h0m1.2-1h0m.2 .3h0m.4 .7h0m.7-.7h0m.4-.1h0m.5 0h0m.4 .2h0m.6-.2h0m.1 .4h0m1.3 .2h0m.1-.7h0m.2 0h0m3.9 .2h0m.4-.1h0m0 .1h0m0 .7h0m0-1h0m-82.1 1.6h0m1.8-.1h0m1.2 .1h0m1.9 .3h0m.4-.8h0m2.4 .2h0m.4 .3h0m1.9 .4h0m2.3-.1h0m.6-.1h0m0-.1h0m.8-.1h0m4.3-.2h0m.8-.1h0m.9 .1h0m.3 0h0m.6-.2h0m.4-.1h0m.6 .3h0m2.3-.4h0m.1 .7h0m.1-.4h0m.5-.1h0m0-.1h0m.1 .1h0m.1 .6h0m0 0h0m1 .1h0m.2-.7h0m1.2 0h0m1.8 .3h0m.2 .5h0m.7-.6h0m.2-.3h0m.7 .2h0m1.5-.1h0m.5 .7h0m.7-.4h0m.1-.4h0m.1 .7h0m.8-.6h0m.8 .7h0m.5-.9h0m.5 .4h0m0-.2h0m.1 .7h0m.9-.2h0m.1-.3h0m0 .6h0m1-.8h0m.1 .7h0m1.5-.7h0m2.2 0h0m.1-.2h0m.1 .3h0m.5 .3h0m.3 .3h0m.3-.8h0m.9 .5h0m.4 0h0m.3 .1h0m.2-.7h0m.1 .4h0m1.5 .3h0m0 .1h0m1.7-.8h0m.3 .4h0m.4 .5h0m.2-.5h0m1.2-.2h0m.1 .1h0m.1 .6h0m1.5-.9h0m.9 .2h0m.2 .5h0m1.6-.1h0m.7-.2h0m1.1 .5h0m.6-.8h0m1.2 0h0m.6-.1h0m.4 .8h0m.4-.2h0m.7-.6h0m0 .6h0m.5-.1h0m.2 .2h0m.1-.3h0m.4 .5h0m1-.2h0m2.8 .1h0m1.1-.5h0m2-.2h0m.3 .3h0m.1-.3h0m.4 .8h0m1.1-.9h0m0 .2h0m1.4 .5h0m.8 0h0m.1-.5h0m.6 .2h0m1.8 .2h0m.4 .3h0m.1 0h0m.3-.6h0m3.4 .6h0m1.5-.1h0m.9-.1h0m0-.4h0m-129.2 1.5h0m29-.7h0m13.1 .7h0m6.2-.8h0m.9 .9h0m9.6-.8h0m.2 .3h0m1.7-.3h0m1.6 0h0m4.4 .4h0m2.3 0h0m1.8-.2h0m.4 .1h0m.5 .2h0m.1-.1h0m.6 .4h0m.2-.4h0m.4-.4h0m0 .5h0m.1 .1h0m1.6-.2h0m.3-.2h0m2.7 .7h0m.9-.4h0m.1-.2h0m2.1-.1h0m.4 .5h0m.2-.5h0m2.9 .4h0m.8 0h0m.1-.7h0m.3 .2h0m.6 .8h0m.4-.9h0m2.2 .5h0m.2-.6h0m.5 1h0m0-.9h0m.6 .4h0m.4-.1h0m.4 .5h0m.2-.8h0m1.2 .5h0m.2-.1h0m.6 .2h0m0-.3h0m0 .1h0m.8 .1h0m.3 .3h0m.6-.2h0m1.7-.1h0m.7 0h0m.2-.4h0m1.4-.1h0m.7 .6h0m1.8 .2h0m.6-.4h0m.4-.5h0m.9 0h0m1.3 0h0m1 .2h0m1.4 .8h0m.5-.4h0m.2-.1h0m.3 .1h0m.1-.3h0m3.8-.1h0m.8 0h0m1.6 .2h0m1.4 .1h0m.3-.3h0m1.2-.1h0m1.9 .3h0m3.2 .5h0m3.1-.2h0m.5 .2h0m.8 0h0m.6-.5h0m.8 .3h0m.5 .2h0m.4-.7h0m.4 .4h0m0 .3h0m0-.7h0m0 .6h0m0-.1h0m0 .1h0m0-.1h0m0-.1h0m0-.4h0m0 .1h0m-93.4 1h0m1.9 .4h0m5-.4h0m.1 .3h0m2.7-.1h0m1.4-.2h0m.4-.3h0m.8 .3h0m1.1 .1h0m3.5 0h0m.5 .5h0m3-.6h0m1.6 .2h0m.4-.4h0m1.2 .2h0m0-.2h0m2.2 .2h0m4-.2h0m.1 .8h0m4.8-.5h0m.8 .2h0m1.4 0h0m1.8-.4h0m0-.1h0m.2 .5h0m1.9-.3h0m1.5 .2h0m2.7 .1h0m.3 0h0m.8-.2h0m.1 .2h0m.2-.5h0m.9 0h0m1.1 .6h0m0 .2h0m.2-.3h0m.4-.2h0m.1-.3h0m.5 .9h0m0-.6h0m.2 .2h0m.2 0h0m.2 .4h0m.2-.6h0m.3 .3h0m1.2-.4h0m.3 .3h0m.3 .1h0m.2-.5h0m.3 .4h0m.8 .4h0m0-.9h0m.6 .7h0m0 0h0m2-.6h0m.2 .5h0m.3 .1h0m.7-.5h0m.3 .1h0m1 .4h0m.1-.6h0m.1-.1h0m.5 .7h0m.3-.7h0m.6 .5h0m.8 .1h0m.8-.6h0m0 .4h0m.6 .3h0m.9-.2h0m.3 0h0m.1 0h0m.3-.4h0m1.1 .8h0m.9-.7h0m.3-.3h0m.3 .9h0m.4-.3h0m.3 .3h0m2.5 0h0m.5-.3h0m.5 .1h0m.2 .2h0m.4 0h0m0-.2h0m.4-.6h0m1 .8h0m.4-.1h0m0-.4h0m.3 .3h0m2.1-.4h0m.2 .2h0m.7 0h0m.3-.1h0m.3 .1h0m1.3-.2h0m.3 0h0m.9 0h0m.2 .6h0m.3-.4h0m.5 .2h0m0-.5h0m.5 .7h0m.5-.9h0m.7 .6h0m.2-.1h0m2.2-.2h0m.3 0h0m1.5 .2h0m.7-.1h0m3.3 .1h0m2.6 .2h0m-120.3 .9h0m17.8 .1h0m15-.2h0m5.7 .3h0m1.4 .1h0m.9 0h0m.1-.5h0m.9-.3h0m4 0h0m2.4-.1h0m4 .3h0m1.8 .3h0m2.5 0h0m1.8-.3h0m.4-.1h0m.9 .8h0m1.9-.7h0m.3 0h0m.3 .4h0m1.2 .2h0m.1 0h0m.4-.5h0m.2 .1h0m0-.2h0m3.3 .5h0m.1-.2h0m1.3-.4h0m.1-.1h0m0 .9h0m2.3-.9h0m.1 .6h0m1.3-.5h0m.2 .5h0m1-.1h0m.4 0h0m.7 .2h0m.4-.3h0m.5-.3h0m2-.1h0m1.9 .5h0m.9-.1h0m.2 .1h0m.2-.3h0m.3-.3h0m.3 .1h0m.6 .3h0m.6-.1h0m3.3 .5h0m.2 .2h0m.9-.7h0m.5 .1h0m.3 .3h0m.8-.4h0m.4 .1h0m.3 .1h0m1.1-.2h0m1 .5h0m1.6-.2h0m.5 .3h0m.5-.9h0m.1 .4h0m2.2 .2h0m.3-.5h0m.3 .1h0m.9 .7h0m.2 .1h0m2.4-.4h0m1.3 0h0m.7-.3h0m1.1-.1h0m.3-.2h0m.8 .6h0m2.1-.3h0m1.3 .2h0m.4-.4h0m.4 .9h0m.1-.8h0m2.5 .6h0m0 0h0m0-.7h0m0 .4h0m1.5-.3h0m.3 .6h0m.4-.7h0m.6 .2h0m.2 .3h0m5.8 .2h0m0-.5h0m0 .3h0m-89.4 .8h0m.1 .4h0m6.8 .1h0m2.3-.2h0m1-.5h0m.1 .5h0m0-.1h0m6.5 .2h0m.3-.1h0m.2-.3h0m3.8 0h0m.9 .1h0m2.5 .5h0m1.1-.8h0m1.3 .3h0m.1 0h0m.6-.4h0m0 .6h0m.2 .1h0m3.5 0h0m1.1-.4h0m3.3 0h0m1.8-.3h0m.2 .1h0m.5 .6h0m.1-.3h0m4.4 .1h0m.7 .4h0m1 0h0m.2-.8h0m.2 .6h0m0-.4h0m.4-.3h0m.2 .6h0m.3-.3h0m0 .2h0m.2 .2h0m2.3-.4h0m.7 .5h0m.4-.7h0m3.6 .4h0m.3-.1h0m.6-.2h0m.8-.2h0m1.1 0h0m.1 0h0m4.2 .4h0m.4-.3h0m1.7-.1h0m.8 .6h0m.2-.5h0m1 .1h0m1.6 .6h0m1-.1h0m.1-.5h0m.2 0h0m.1 .3h0m.2-.2h0m.3 .4h0m.6-.7h0m.3-.1h0m2.7 .2h0m1.3 .5h0m.1-.6h0m1.9 .6h0m1.2-.7h0m.8 .4h0m1.3 .1h0m1.7 .2h0m5.1-.4h0m1.1 0h0m.1-.1h0m1 .1h0m.5 0h0m1.8-.2h0m.3 .3h0m-94.4 1.4h0m5.9 .2h0m5.3-.9h0m3.4 .9h0m.3-1h0m4.8 .4h0m3.7-.1h0m1.4 .2h0m6.3-.2h0m3.9-.2h0m1.7 .3h0m1.2 .5h0m.8 .1h0m1-.2h0m.4-.4h0m2 .2h0m0 .3h0m.1 0h0m.2-.4h0m.6 .2h0m2.7 0h0m.7 .2h0m0-.2h0m.1 0h0m.3-.1h0m.2-.5h0m1.7 .4h0m2.2-.4h0m.9 .7h0m.5-.5h0m.8 .1h0m1.4 0h0m.4-.2h0m.1 .4h0m.6-.1h0m.5 .2h0m.2-.2h0m.6 0h0m.9 .3h0m.2-.1h0m.5 .2h0m1.3-.4h0m0-.4h0m.5 .6h0m.2-.4h0m1.5 .7h0m.2-.9h0m.8 .7h0m.1 0h0m.9-.4h0m1.5 .1h0m.2-.4h0m1.9 .5h0m.8 0h0m.6-.2h0m.9 .5h0m2.4 .1h0m.3-.7h0m.1 .4h0m.7 .2h0m1.3-.4h0m0-.2h0m.1 .1h0m.4 .4h0m1.7-.3h0m1.4-.4h0m0 .7h0m1 .1h0m1.3-.3h0m.1 .1h0m1.8-.2h0m.3-.1h0m.5-.3h0m.1 .2h0m.2-.1h0m.2 .4h0m1.2-.1h0m.3 .2h0m1-.6h0m6.7 .7h0m1.4-.3h0m0 .1h0m-94.7 1.3h0m2.2-.4h0m6-.2h0m3.5 .4h0m4.4 0h0m1.2 0h0m3.8-.1h0m.4 .3h0m2.6-.6h0m.4 .6h0m.2 .1h0m2.5-.9h0m1.5-.1h0m.8 .4h0m.8-.2h0m1.2 .2h0m1.4 0h0m.2 .4h0m2-.3h0m.2-.1h0m.2 0h0m1.6 .3h0m0-.5h0m1.4 .6h0m4.3-.5h0m1.5 .5h0m.4 .2h0m2.2-.5h0m.5 .1h0m.4 0h0m.4-.3h0m.2-.3h0m.1 .7h0m1.2-.3h0m.5-.3h0m.4 0h0m.2 .2h0m.1-.3h0m.4 1h0m.4-.1h0m.1-.8h0m1.2 .9h0m1.4-.5h0m.6 .3h0m0 0h0m.3-.1h0m2.3 .2h0m.5-.2h0m.8 .2h0m.2-.3h0m.7-.2h0m0 .4h0m.1 .1h0m.8-.5h0m.4-.3h0m1 .4h0m.3-.4h0m.6 .2h0m1 0h0m.4 .1h0m.1 .2h0m.9-.2h0m.6-.3h0m0 0h0m.5 .1h0m0 .7h0m.1-.8h0m.2 .8h0m.2-.6h0m.1 .6h0m.7-.4h0m.9 .3h0m.3-.5h0m.7-.1h0m.6 .2h0m.4 .1h0m.2 0h0m.2 0h0m1-.4h0m.1 .2h0m.4-.1h0m.2 .4h0m.1 .2h0m.5-.5h0m.3 .7h0m2.5-.3h0m.1 0h0m1.4-.2h0m.3-.1h0m.5-.2h0m0 .3h0m3 0h0m.2 .2h0m1.1-.2h0m7.7-.5h0m3.2 .3h0m-98.9 1.1h0m5.1-.3h0m6.5 .5h0m6.7 .2h0m6 0h0m2.8-.2h0m1.8-.1h0m0 .5h0m.2-.4h0m4.6-.1h0m1.8 .2h0m.6 0h0m.2-.6h0m.6 .9h0m1.2-.4h0m.1-.5h0m2.3 .2h0m3 .6h0m.6-.3h0m1.2-.1h0m.2 .4h0m.5-.2h0m1.1 .1h0m1.2-.6h0m0 .4h0m3.1-.3h0m0 .2h0m2.3 .1h0m.3 0h0m.8-.4h0m1 .4h0m.8 .3h0m.6-.2h0m.3-.1h0m0-.4h0m.6 .1h0m.8 .2h0m.5-.5h0m.1 .7h0m.6 0h0m0 0h0m1.7-.6h0m.7 .7h0m.1-.3h0m.8 .4h0m.8-.8h0m.9 0h0m2.4 .9h0m.2-.7h0m.6 .5h0m.1-.8h0m.5 .1h0m.8 .2h0m1.3 0h0m.1 .5h0m.3-.7h0m.6 0h0m.4 .4h0m.7 .3h0m.5-.5h0m3.1 .6h0m1.9-.7h0m.3 .3h0m.5 0h0m1.2-.5h0m.1 .6h0m1.4 .3h0m.7-.5h0m.1 .4h0m.5-.2h0m.7 .3h0m1.3-.5h0m.7-.1h0m.7 .1h0m3.8-.1h0m1.5 .5h0m4.4-.5h0m-108.7 1.2h0m4-.4h0m12.1 .2h0m7.9 .2h0m7.1-.4h0m1.3 .4h0m.6 .5h0m1.8-.8h0m.1 0h0m0 .2h0m1 .4h0m.5-.5h0m.8 .4h0m2-.4h0m.8 .4h0m4.8-.4h0m1 .2h0m2.7-.4h0m4.7 .7h0m2.6-.4h0m1.2 .5h0m1.6-.2h0m1.5 0h0m1.2-.6h0m0 .1h0m.2 .3h0m.2 .3h0m2.2-.4h0m1.3 .2h0m.5-.2h0m.6-.4h0m.6 .6h0m.3 .2h0m.6-.2h0m.7-.4h0m.1 .3h0m.3 .3h0m.3 0h0m.1-.5h0m.4-.3h0m1.2 0h0m.5 .8h0m.2-.2h0m1.1-.5h0m1 .1h0m.7 .4h0m0 .1h0m.3-.4h0m2.3 .3h0m.9-.2h0m.8 .6h0m.2-.7h0m.2-.2h0m.5 .2h0m1.1-.1h0m.6 .3h0m4.7 .1h0m1.8 0h0m.3-.3h0m.4 .7h0m.4-.3h0m1.1-.5h0m.7 .6h0m2.4-.1h0m.7-.3h0m1.4 .2h0m.5-.4h0m.4 .7h0m.2-.4h0m.8-.4h0m.6 .3h0m.8 .5h0m.7-.9h0m5.8 .7h0m1.2 .2h0m.5-.7h0m0 .3h0m1.5 .1h0m-109.2 .9h0m18-.1h0m4.2-.2h0m5.2 .7h0m.9-.6h0m.9 0h0m1.9 .5h0m8.2-.2h0m1.1 0h0m.2 .2h0m1-.8h0m.4 .5h0m.1-.3h0m.7 .2h0m.9-.3h0m1.2 .3h0m.2-.2h0m2.5-.1h0m1.1 .3h0m.9-.4h0m.4 .8h0m2.3-.3h0m5.2-.3h0m.4 .8h0m2-.9h0m.1 .2h0m.4 .2h0m1.1-.1h0m.3 .3h0m2 .1h0m.1-.4h0m.8-.4h0m.2 .4h0m.1-.4h0m.2 .4h0m1 .3h0m.1 .3h0m.6-.2h0m1-.1h0m.3-.6h0m.3 .5h0m1.8 .1h0m.9-.6h0m.2 .1h0m.8 .2h0m.3 .4h0m0-.4h0m0 .6h0m.5 0h0m.2-.5h0m1 .4h0m.1-.4h0m1.3 .2h0m.3 .1h0m.5 .1h0m.6-.7h0m2.1 .1h0m.1 .1h0m0 .5h0m.3-.8h0m1.2 .5h0m4.6-.1h0m.1-.2h0m.7-.2h0m.2 0h0m.5 .4h0m.9-.5h0m.8 .4h0m.6-.4h0m.1 .5h0m.5 .5h0m0-.6h0m.2 .5h0m1.6-.7h0m1.2 .1h0m.1 .7h0m.7-.9h0m.1 .2h0m.7 .5h0m1.4-.5h0m1.5 .7h0m.1-.2h0m.3-.5h0m.3 .3h0m1.5 .2h0m3.2-.5h0m.1-.1h0m.7-.1h0m.7 .1h0m.4 .4h0m.2 0h0m.8 .4h0m-105.2 .2h0m25.6 .2h0m2.8-.1h0m1.6 .2h0m7.3 .4h0m1-.6h0m1 .5h0m2.6-.7h0m6.3 .2h0m8.7 .3h0m1.6 .3h0m.3-.3h0m3.4-.3h0m.2 .5h0m.9-.3h0m2.4 .5h0m.1-.6h0m1.8 .5h0m.6-.5h0m.7-.4h0m.1 .9h0m2-.2h0m.8 .1h0m1-.1h0m1.1 .2h0m1.5-.1h0m1-.6h0m.7 .6h0m.2-.7h0m1 .4h0m2.5 .4h0m2.8-.8h0m.6 .8h0m.2-.4h0m.6-.2h0m.5 .6h0m.3 0h0m.3-.1h0m0 .1h0m.2 0h0m1.3-.5h0m.3-.3h0m.7 .3h0m.2 .3h0m.1 0h0m.6 .3h0m.8-.8h0m.5-.1h0m.2 .6h0m0 .1h0m.6-.4h0m.8-.3h0m1 0h0m.7 .8h0m.1-.5h0m.1-.2h0m.2 .3h0m.6-.4h0m.1 .4h0m.9-.4h0m.1 .3h0m2-.2h0m.4 .8h0m.6-.8h0m.1 .8h0m.1-.7h0m.2 .4h0m.7-.3h0m.7 .2h0m2.3 .2h0m2 0h0m.7 0h0m2.3-.3h0m-88.4 1.4h0m1.4-.8h0m7.1 .2h0m3 .1h0m2.2 .3h0m1.8-.2h0m1.6-.3h0m2.1-.1h0m1.3 .3h0m.8 .1h0m1.1-.1h0m2.2 .6h0m.3-.4h0m1.2 .4h0m.2-.4h0m.6 .1h0m.6-.5h0m0 .3h0m7.8 .4h0m.2-.8h0m2.6 .2h0m1.1 .7h0m.3-.8h0m.5 .7h0m.5-.6h0m.3-.3h0m.8 .6h0m2.9-.3h0m.1 .5h0m.1-.6h0m.1 .8h0m.7-.2h0m1.6-.3h0m.8 0h0m0 .4h0m.3-.7h0m1.9 .6h0m2.8-.3h0m.6 0h0m1.5 0h0m.2 0h0m.3-.1h0m.5 .2h0m.6 .4h0m0-.2h0m1.1 0h0m.4-.6h0m.4 0h0m.3 0h0m.1 .4h0m.2 0h0m2.5-.5h0m1.8 .2h0m.6 .5h0m.6-.1h0m.6-.2h0m1.3 .4h0m1.8-.2h0m.6 0h0m.4-.6h0m.3 0h0m1.1 .4h0m.2-.1h0m.5 .2h0m.4-.2h0m.9 .2h0m.8 .1h0m.4 .2h0m.9-.4h0m.1 .5h0m.1-.2h0m.4-.5h0m1.7 .5h0m1-.7h0m0 .1h0m0 .4h0m1.9-.6h0m2.1 .2h0m10 0h0m-131.6 1.3h0m40.7 .3h0m.1-.6h0m1.4 0h0m8.2 .8h0m1.9-.6h0m.2 .2h0m1.1 0h0m2.2 .2h0m.4 .1h0m.3-.3h0m1.6 .1h0m0-.6h0m1.4 .8h0m1.6-.8h0m.4 .7h0m.9 0h0m1 .2h0m1.1-.1h0m.6 0h0m1.8-.6h0m.9 0h0m1.4 .2h0m3.3-.4h0m1.9 .2h0m.4 0h0m5.1 .1h0m1.5 .4h0m1.1-.6h0m.1-.1h0m1.6 .6h0m.3-.7h0m0 .6h0m.8-.3h0m.2 .4h0m.3-.6h0m.1 0h0m1.9 .7h0m1.6 .1h0m0-.1h0m.2-.1h0m.8 .1h0m.1 0h0m.2-.4h0m1.1 0h0m2.1 .2h0m.3-.3h0m.9 0h0m.3 .3h0m2.3-.6h0m1.3 .2h0m.1 .5h0m1.3-.6h0m.5 .2h0m3-.3h0m.1 .8h0m1.2-.2h0m.7 .2h0m1.4-.4h0m.2 .4h0m.3 .1h0m.6-.3h0m.3-.2h0m1.6 0h0m3 .1h0m3.6 .4h0m0-.8h0m.9 .4h0m1.2 .2h0m.2-.1h0m2.4 .4h0m.1-.6h0m.2 .5h0m3.4-.7h0m7-.1h0m-96.6 1.7h0m5.5-.1h0m3 0h0m2.1-.3h0m3.2-.3h0m4.1 .6h0m3.1 .3h0m2.3-.1h0m1.5-.1h0m1.4-.2h0m2.6-.2h0m1.6 .2h0m1.8 .2h0m1.8 .1h0m.4-.1h0m2.7-.4h0m4.4-.3h0m4.4 0h0m.8 .5h0m.9-.4h0m3.7-.2h0m1.1 .7h0m.7-.2h0m.5 .2h0m.5 .3h0m.5-.3h0m.6 0h0m1.4-.6h0m1.8 .1h0m.1 .1h0m.9 .5h0m1.3-.3h0m.5 .4h0m.8-.5h0m.7-.3h0m.9 .2h0m.5 .5h0m1.2-.6h0m.3 .3h0m2 .1h0m1.3-.4h0m1.1 0h0m.5 .3h0m.7 .5h0m2-.9h0m.2 .3h0m.5 .5h0m.2-.7h0m0 .3h0m.1 .2h0m0-.2h0m5 .1h0m.3-.4h0m3.4 .4h0m1-.4h0m.6 .5h0m.1-.4h0m1.7 .4h0m.9-.3h0m6.4-.1h0m-114.7 1.4h0m18.6-.4h0m11 .1h0m4-.1h0m1 .5h0m.1-.4h0m.5-.4h0m.7 .3h0m5.8 .6h0m1.6-.8h0m1.8 0h0m2.1-.1h0m.4 .5h0m.7 0h0m.4 .3h0m1.5-.1h0m.3 0h0m3-.5h0m2.6 .8h0m4.4-1h0m2.1 .4h0m0 0h0m6.1-.2h0m3.2 .2h0m.9-.3h0m2.9 .1h0m.1-.1h0m.4 .3h0m1.4 .2h0m1.5 .1h0m1.6 0h0m0-.6h0m4.3 .1h0m1.2 .4h0m.7-.5h0m2.6 .6h0m.1-.6h0m1.2 .1h0m.6 .7h0m1.1-.7h0m2.5 .1h0m.8 .2h0m1.2-.2h0m.4-.1h0m.2 .6h0m.8-.6h0m.1 .3h0m.2-.5h0m1.9 .3h0m1.4 .2h0m3.1 .3h0m1.9-.1h0m1.2-.7h0m4.9 .2h0m.9-.1h0m-105.4 1h0m13.1 .6h0m1.4 .2h0m.2-.5h0m2 .4h0m11.3-.5h0m.2 .5h0m1.3-.5h0m.6 .1h0m.6-.2h0m1.3 .7h0m.9-.2h0m4-.1h0m.1 .1h0m1.8-.3h0m.4 .4h0m3-.6h0m.2 0h0m.2 .7h0m.8-.9h0m.5 .7h0m.1-.4h0m3.8 .2h0m2.2-.3h0m2 0h0m1.4 0h0m2.5 .7h0m4.5-.6h0m2.5 .1h0m2.2 .5h0m1.2 0h0m.6-.6h0m1.6 .6h0m.3-.5h0m.3 0h0m.1 .4h0m2.3-.5h0m.7 .4h0m.5-.5h0m.4 .6h0m.1-.6h0m.1 .5h0m2.9 0h0m.4 .3h0m.7 0h0m2-.7h0m.9 .7h0m.7-.6h0m.2-.3h0m1.5 .6h0m1.8-.5h0m.6 .6h0m2.1-.7h0m.5 .7h0m3.4-.7h0m1.3 .1h0m.1 .6h0m1.8-.3h0m2.3 .2h0m2.2-.5h0m1.2 .2h0m.2-.1h0m-82.8 1.1h0m2.3-.2h0m1.1 .3h0m1.7 .2h0m2.8-.3h0m3.2-.2h0m3.9-.2h0m1.3 .1h0m2.7 0h0m7.3 .6h0m4.2-.5h0m1 .6h0m.5 .2h0m2-.7h0m.1 .2h0m.3-.4h0m1.4 .7h0m2.6-.5h0m.1 .1h0m4.3 .6h0m.4-.6h0m.9 .1h0m1 0h0m.2 .2h0m1.2-.4h0m1.1 .2h0m1.1 .4h0m1.4 0h0m.9-.8h0m1.5 .5h0m.5 .2h0m7.6-.7h0m1.7 .7h0m1.4-.5h0m3.2 .4h0m1.4-.5h0m.9 .6h0m6.2-.4h0m-70 1.5h0m1.7-.1h0m.3 0h0m1.3-.5h0m1.3-.1h0m.1 .7h0m2.4-.1h0m1.3-.4h0m.3 .2h0m1-.4h0m5.4 .1h0m.4 .2h0m0 .2h0m.6-.5h0m.4 .8h0m.7-.4h0m4.1 .1h0m1.4 0h0m.6-.3h0m0 .4h0m1.2-.2h0m3.2-.3h0m.4 .4h0m2.2 .2h0m3.8-.3h0m1.2 0h0m.5 0h0m.5 .4h0m.1-.6h0m2 .1h0m5.1-.2h0m1.1 .7h0m2.4-.4h0m.7-.6h0m1.6 .8h0m1.4-.2h0m1.1-.1h0m1.2-.4h0m.2 .2h0m2.5 .5h0m.7-.3h0m5.2 .4h0m.3-.6h0m.8-.2h0m11.4 .1h0m.1 .1h0m3.5 .7h0m-106.1 .5h0m2.6-.3h0m4.7 .7h0m18-.4h0m2.2 .2h0m2.3-.6h0m10.9 .5h0m3.8 .3h0m3-.4h0m1.6-.4h0m3.1 .1h0m1.7-.1h0m1.5 .1h0m.5 .4h0m1 0h0m7.3-.2h0m1.1 .1h0m1.7-.4h0m1.9 .5h0m.7 0h0m1-.4h0m.7-.2h0m2.1 .2h0m4.7 .6h0m1.4-.4h0m3.3 0h0m1.8 .2h0m.6 .3h0m1.7-.1h0m5.2-.8h0m.4 .9h0m1.6-.1h0m8.9-.4h0m-88.9 1.4h0m2.3-.1h0m4.5 .1h0m10.8-.5h0m.5 .1h0m3.5-.4h0m1.8 .7h0m.6 0h0m3.5-.2h0m6.5-.1h0m1 .2h0m4-.3h0m.6 .1h0m2-.1h0m3.2 .1h0m.9 0h0m0 .2h0m1.4-.3h0m0-.3h0m3.1 .7h0m2 .2h0m1.5-.7h0m12.4-.2h0m.6 .1h0m.4 .6h0m1.8-.2h0m1-.3h0m1.5 .7h0m7-.5h0m2.3 .4h0m9.1 .2h0m-71.1 .4h0m2.3 .1h0m1.2-.5h0m8.9 .8h0m3.7-.6h0m1.5 .4h0m2.1-.1h0m1.3 .4h0m5.3-.8h0m.9 .6h0m3.4-.3h0m1.3 .1h0m.6-.1h0m2.7 .5h0m.5-.5h0m.5 .2h0m3.5 .2h0m1.6-.6h0m.5 .4h0m1.7 0h0m3.3-.5h0m.9 .2h0m9.1 .2h0m2.1-.5h0m2.1 .3h0m1.9 .6h0m.4 .1h0m.3 0h0m2.2-.9h0m3.2-.1h0m2.5 0h0m-95.1 1.5h0m15.4 .1h0m2.4 0h0m2.2-.3h0m1.2 .4h0m1.5-.1h0m4.6 .4h0m1.3-.9h0m2.2-.1h0m.8 .2h0m.4 .7h0m.4-.2h0m3.1-.4h0m4.8 .5h0m.6 .1h0m7.5-.3h0m1.3-.3h0m2.4-.2h0m1 .5h0m4.1 .3h0m.2 0h0m2.6-.7h0m.9 .1h0m5.8 0h0m1 .1h0m.1-.1h0m4.1 .4h0m.1 .2h0m.9-.7h0m1.7 .3h0m8.9 .4h0m.6-.4h0m-91.2 1.4h0m2.1-.1h0m12.4-.6h0m4.5 .5h0m5.8-.3h0m4.6 .5h0m2.2-.8h0m3.2 .4h0m1.8 .2h0m2.8-.5h0m1 .1h0m1.1-.2h0m2.4 .1h0m1.2 .5h0m0 0h0m.5 .3h0m1.2-.1h0m3.3-.3h0m1.4-.2h0m.1-.3h0m1.6 .7h0m.2-.5h0m8.6-.1h0m.8-.1h0m2.8-.1h0m2.3 .4h0m1.8 .5h0m.5-.2h0m3-.2h0m.3-.5h0m1.5 .3h0m.5 .2h0m3.1-.5h0m1.2 .1h0m4 .7h0m2.4-.4h0m3 .4h0m-63.1 .6h0m0 .5h0m.5-.4h0m.2-.2h0m2.2 .1h0m1.1 0h0m5.2-.1h0m2.2 .6h0m6.4 0h0m1.1 0h0m.7-.8h0m.8 .7h0m1.6-.3h0m7.5-.1h0m1.4 .3h0m1.4-.6h0m.4-.1h0m1.3 .1h0m.7 .4h0m5-.1h0m0 .1h0m2.2 0h0m.4 .4h0m1.6-.3h0m2.5-.4h0m4.3-.1h0m.3 .6h0m.8 0h0m.1 .3h0m11.4-1h0m9.6 .3h0m-91.5 .8h0m9.9 .5h0m4 .2h0m5.5 .1h0m6.7-.6h0m3.7 .5h0m1.9-.7h0m7.1 .7h0m2.7-.2h0m.2 .1h0m.3-.2h0m1.9 .1h0m2.5 .4h0m1.1 0h0m2.8-.9h0m.2 .8h0m3.3-.3h0m.1 .4h0m1.2-.2h0m1.8-.1h0m.1-.5h0m1.9 0h0m.7 .4h0m1.5 .3h0m1.5-.4h0m3.2-.3h0m1.4 .4h0m12.2 0h0m1.2 .3h0m2.3-.6h0m1 .1h0m2 .1h0m-83.4 .9h0m.7 .3h0m7.9-.1h0m16-.2h0m0 .6h0m.4-.8h0m3.9 .4h0m.4-.4h0m2 0h0m1.7 0h0m2 .2h0m.5 0h0m.2 .1h0m.8-.4h0m.1 .3h0m.2 .3h0m.4 .1h0m.5-.5h0m.1 .2h0m4.2-.4h0m3 .5h0m1.6-.4h0m1.1 .2h0m2 .5h0m3-.5h0m8.3 .4h0m1.3-.5h0m2.4-.1h0m3.7 .7h0m1.7-.7h0m9.6 .8h0m-86.8 .7h0m2.3 0h0m7.5 0h0m.1 0h0m3.4-.4h0m3.1-.1h0m11.2 .1h0m.2-.1h0m10 .4h0m1.9-.1h0m2.1-.2h0m.7 .2h0m2.2-.2h0m1.2 .5h0m1.3-.7h0m1 .1h0m.3-.1h0m2.5 .6h0m.9-.2h0m1.8-.2h0m.6-.3h0m.8 .1h0m3.8-.1h0m0 .1h0m1.2 .5h0m.3 .4h0m2.7 0h0m4.4-.7h0m1.3 .3h0m.2-.4h0m8.2-.2h0m1.7 1h0m3.8-.4h0m2.2 .1h0m-82.5 .7h0m5.4 .6h0m2.9-.1h0m2.6-.7h0m1 .6h0m.5-.3h0m1.2 .1h0m.5 .2h0m5-.8h0m.4 .3h0m4.8 .6h0m.8-.5h0m4.7 .3h0m.4-.1h0m1-.3h0m5.5-.2h0m.7 .2h0m2.1 .2h0m10.2-.1h0m7.7-.2h0m8.7 .1h0m9.9 .2h0m25.2 .5h0m-82.7 .8h0m7.7-.3h0m.5 .2h0m10.2-.4h0m.5 .3h0m1.8 .3h0m.2-.4h0m1-.4h0m.5 .2h0m1.3 .6h0m1.7-.4h0m1.5 .4h0m.7-.8h0m1.8 .8h0m.3-.9h0m.7 .4h0m.6 .1h0m1.8-.2h0m.8-.2h0m4.3-.1h0m10.4 .6h0m3.8-.1h0m12.5 .1h0m-88.5 .9h0m4.5-.3h0m8.8 .1h0m9.1-.3h0m.6 .4h0m18.5 0h0m.5 .6h0m.3-.3h0m3 .1h0m2-.4h0m1.6 .3h0m.1 .1h0m1.3-.5h0m3.8 .5h0m4.3-.7h0m.8 .9h0m6.5-.9h0m.5 .5h0m.2-.4h0m1.8 .6h0m6.3-.6h0m3.3 .6h0m6.4 0h0m-72.3 .7h0m10.9 .1h0m.5 0h0m4.5-.3h0m7.8 .1h0m.3-.1h0m2.1 0h0m5.1-.2h0m3.9 .7h0m.1-.1h0m.4-.6h0m3.1 0h0m1.3 0h0m3.1-.1h0m.7 .9h0m1.3-.6h0m1.2 .3h0m1.7-.6h0m.2 .4h0m6.4-.3h0m4.8 .3h0m8.7 .2h0m-80.8 .8h0m10.2-.1h0m5.7 .6h0m0-.7h0m.3 .6h0m.7-.1h0m8.3 .3h0m12.1-.2h0m5.4-.4h0m.1 .6h0m8.7-.1h0m.5 0h0m4.9-.4h0m.3 .2h0m.7 .2h0m5.8-.3h0m5.2-.5h0m9.9 .6h0m.8-.3h0m2.6 .3h0m3.7 .1h0m1.2 .1h0m-87.9 .8h0m5.6 .2h0m3.2-.5h0m2.4 0h0m5.7 .4h0m4.7-.6h0m2.3 .8h0m6.7-.4h0m2.6-.4h0m3.9-.1h0m3.4 .3h0m.2 .3h0m2.1-.5h0m2 .6h0m2.6-.5h0m.1 .4h0m1.8 .3h0m2.4-1h0m2 .8h0m.8-.6h0m2.1 .7h0m0-.7h0m0 .6h0m2.1-.1h0m.1-.4h0m1.7-.1h0m0 .3h0m.9-.4h0m3.6 0h0m13.1 .5h0m9.1 .3h0m-73 .3h0m5.2 0h0m1 .5h0m2.7 .2h0m8.2-.3h0m1 .3h0m2.7-.7h0m2.1 .1h0m1.3 .3h0m2.1 .3h0m1.6-.5h0m1.3-.2h0m.2 0h0m1 .7h0m.7-.5h0m8.4-.3h0m.6 .7h0m2.5-.3h0m6.8 .3h0m0-.1h0m13.7-.3h0m6.3 .5h0m.8-.4h0m-69.5 .9h0m5.8-.3h0m1.2 .4h0m2.9 .2h0m8.3-.1h0m1.4 0h0m1.5-.3h0m1.7-.1h0m3.5-.1h0m1 .5h0m2.7 .2h0m1.8 .2h0m1.4-.7h0m6.7 .2h0m1-.1h0m2.1 .2h0m5.8-.1h0m5.2 .2h0m4.8 .2h0m-68 .6h0m14.5-.4h0m1.4 .5h0m1.7 .4h0m.7-.5h0m9.4 .4h0m2.4 0h0m1.3-.7h0m1.2 0h0m.4 .6h0m1-.3h0m2.2 .2h0m1.1 .3h0m.6-.7h0m.4 .1h0m.2-.2h0m1.4 .3h0m.9-.1h0m1.9 .4h0m4.6 .1h0m.3 .1h0m2.8-.4h0m4.3 .3h0m1.3-.6h0m2 .5h0m-55.4 .5h0m12.2 .2h0m5 .5h0m.6-.2h0m5-.3h0m1.5-.3h0m.9 .4h0m.6-.5h0m.2 .4h0m2.7-.3h0m.7 .8h0m6.6-.3h0m.1-.3h0m1.3 .1h0m.3-.5h0m.7 .8h0m1 0h0m1.8-.2h0m.1-.6h0m1.1 .8h0m2.3 0h0m1.5 0h0m.4-.3h0m5.7 .2h0m3.3-.5h0m11.5 .1h0m-67.9 1.4h0m2.1-.2h0m5.4-.3h0m2.4 .3h0m3 0h0m1.2 .3h0m6.3 0h0m3-.5h0m.8-.3h0m.7 .1h0m.6 .7h0m3.5-.4h0m.1-.3h0m1.1 .4h0m4-.2h0m2.4 .5h0m2.5 .2h0m7.1-.4h0m1.1-.5h0m14.5 .4h0m-83.1 1.4h0m21.2-.4h0m5 .1h0m13.2-.1h0m5.3-.2h0m.5 .4h0m1.6-.2h0m1.9 .3h0m1.1-.4h0m.6-.1h0m.3 .4h0m.2-.5h0m.3-.1h0m5.2 .7h0m1-.1h0m.5-.2h0m7.2-.2h0m1-.3h0m3.8 .8h0m3-.6h0m1.5-.1h0m1.5 .8h0m18.5-.5h0m-69.2 1.6h0m5.8-.7h0m8.4-.2h0m5 .8h0m11.7-.3h0m4.4-.5h0m1.6 .9h0m1.6-.3h0m.6-.3h0m9.2-.1h0m1.6 .1h0m2.6 .4h0m12.7-.4h0m-63.6 1.1h0m3.2-.4h0m3.1 .2h0m14.9 .3h0m2 0h0m.8-.6h0m2.4 .1h0m1.1 .4h0m2.3 0h0m.2 .2h0m.5-.7h0m.3 .4h0m1 .5h0m3.7-.1h0m.3 .1h0m1.7-.8h0m24.5 .1h0m1 .5h0m-85.7 .8h0m9.3 .5h0m12.8-.4h0m1.9 .4h0m3.5-.2h0m5.9-.4h0m7 .1h0m2.7-.4h0m3.5 0h0m1.3 0h0m5.5 .3h0m2.9-.1h0m4.4 0h0m2 .2h0m21.4-.2h0m-65.9 .8h0m1.8 .8h0m18.5-.1h0m3-.1h0m.9-.4h0m1.9-.1h0m5.7-.2h0m1 .7h0m1-.6h0m.4 .7h0m1.6-.5h0m.3-.2h0m1.1 .4h0m3.4-.5h0m.5 1h0m3-.3h0m2.7-.1h0m1.7-.3h0m1.5 0h0m4.5 .6h0m2.3-.2h0m4.7-.1h0m7 0h0m-68.5 1.1h0m6.2-.2h0m13.4-.3h0m.4-.1h0m.1 .2h0m.8 0h0m6.8 0h0m.3 .4h0m2 .3h0m.5-.3h0m.8-.7h0m.1 0h0m5.6 .1h0m3.7 .5h0m.2 .3h0m5.5-.5h0m2.5 .4h0m-43.4 1h0m5.4-.6h0m5.5 .3h0m2.9 .1h0m5.3-.4h0m4.4 .4h0m.2-.1h0m.1 .3h0m1-.1h0m.7 .2h0m.5-.2h0m5-.6h0m.8 .4h0m1-.2h0m1 .7h0m1.5-1h0m14.5 .7h0m9.8-.2h0m1.8-.5h0m17.8 .9h0m-80.2 .6h0m.9 .2h0m9.3 .2h0m4.2-.2h0m3.9 .1h0m1.4 0h0m1.1-.1h0m3.1 0h0m4.3 .1h0m.3 .2h0m1.1-.1h0m.5-.5h0m7.6 .5h0m.5-.7h0m.5 .6h0m2.4-.7h0m3.2 0h0m-42.1 1.2h0m1.5 .4h0m5.3 .1h0m4.9-.2h0m3.5-.4h0m1.2 .5h0m4.3-.7h0m.4 .1h0m2.6 .4h0m1.2 .3h0m1.1-.7h0m1.9 .2h0m.3 .5h0m.6 .1h0m2.1-.1h0m12.8 0h0m11.8-.1h0m-66.1 1h0m4.2 .3h0m1.5 0h0m5.3-.2h0m1.5-.1h0m.8-.2h0m1.1 .4h0m.2-.4h0m10.7 .2h0m1.5-.3h0m5 .3h0m3.9 .2h0m1.7-.7h0m.5 .6h0m-30.7 .5h0m6.5 .2h0m5.1 .2h0m3.6-.2h0m6.6 .4h0m3.1-.7h0m2.1 .1h0m.6 0h0m2.1 0h0m12.4-.1h0m.8 .2h0m4.2-.2h0m2.4 .1h0m6.2-.1h0m-51.1 1.6h0m.5-.2h0m10.1 0h0m.9 .3h0m3.9-.2h0m0-.2h0m3 .1h0m1.3 .2h0m.5-.1h0m3.7-.1h0m.7-.1h0m4.1-.1h0m3.3-.4h0m.3 .9h0m12.6-.3h0m-81.5 .7h0m6.8 0h0m30.3 .3h0m1.6 0h0m2 .2h0m6.9-.1h0m3.4-.2h0m3.1-.2h0m4 .3h0m.8-.4h0m5.5-.1h0m.5 .8h0m.5-.1h0m-32.2 .2h0m1.5 .8h0m8.6-.6h0m1.9 .5h0m.6-.6h0m.3 0h0m4.3 .5h0m5.1-.2h0m3.5 .4h0m.5 .1h0m.3 .1h0m1.5-.2h0m4.2-.3h0m6-.1h0m1.9-.4h0m.5 .7h0m1.7-.4h0m-40.7 .8h0m1.6 .8h0m2.6-.4h0m0-.2h0m4.3 .1h0m7.5 .2h0m2.2 .2h0m12.7 .2h0m.9-.1h0m3.4-.4h0m1.4 .1h0m13.1-.5h0m-44.1 1h0m2.6 .4h0m.5 .1h0m.3 .2h0m4.5-.3h0m.9 .4h0m2.9-.4h0m.9 0h0m2-.1h0m3.4 .6h0m3.7-.7h0m.1 .2h0m.8-.4h0m1.6 .4h0m10.4 .2h0m-42.2 .8h0m1.9 .1h0m.4 0h0m3.9-.1h0m3.4-.1h0m12.9 .2h0m1.1-.3h0m2.9-.2h0m1.6 .6h0m-24 .8h0m.9 .3h0m1.4-.6h0m7.3-.1h0m2.7 .6h0m6.5-.4h0m5.7-.2h0m13.8 .7h0m-46.2 .7h0m6.8-.3h0m12.3 .1h0m1.9 0h0m8.4 .6h0m1.8 0h0m-31.2 .7h0m7 .3h0m2.8-.6h0m3.7 .4h0m2.7-.4h0m4.4-.1h0m3.1-.1h0m3.2 .6h0m8.8 .2h0m12.8-.8h0m-37 .9h0m.9 .9h0m5.3-.4h0m1.8-.4h0m2.6 0h0m.5 .7h0m1-.7h0m6.2 .5h0m30.1 0h0m5.8-.4h0m-66.9 1h0m8.3-.1h0m2.6 .8h0m2.8 0h0m2.7-.8h0m5.5 .5h0m3.9-.3h0m.6-.1h0m4 .6h0m8.4-.7h0m-66 1.1h0m9 .3h0m27.1-.2h0m.1-.2h0m4.4 .6h0m.1-.3h0m21.3 .4h0m-69.8 1.1h0m22.7 0h0m7.6-.7h0m2.6 .8h0m7.4-.5h0m2.1-.4h0m5.1 .4h0m2.6 .4h0m2.8 .1h0m1.6-.4h0m.2-.3h0m.4-.1h0m1.8 .5h0m8.5-.1h0m2.8 .3h0m-59.7 .7h0m31.2-.4h0m.6 0h0m7.3 .4h0m.5-.4h0m1.4-.2h0m.2 .7h0m4 0h0m1.2-.2h0m7.8 .1h0m3.7 .1h0m8.2-.7h0m9.2 .7h0m-66.5 .6h0m24.6 .6h0m5.5-.7h0m6.9 .4h0m3.5-.2h0m.9 .2h0m1.6 .1h0m15.8-.1h0m-53.7 1.2h0m8.3 0h0m1.4-.5h0m2.4-.1h0m9.7 .2h0m12.2 .5h0m4.4-.5h0m3.1-.1h0m4.7-.2h0m-29 1.3h0m1.4-.3h0m2.7 .3h0m2.9 .1h0m6.7-.1h0m2.6 .1h0m6.9-.1h0m5.8-.1h0m2 .6h0m-64.9 1h0m31-.8h0m7.9 .4h0m21.9-.4h0m-48.7 1.2h0m28.9 .3h0m6.8 .1h0m.7-.2h0m.7-.5h0m10.5 0h0m-30.6 1h0m11.8 .5h0m2.7 0h0m1.1-.1h0m.9-.3h0m.4 .5h0m2.3 .2h0m1.7-.7h0m.3 .1h0m2.1 .2h0m-31.1 1.3h0m2.1 0h0m14 0h0m.4-.6h0m11.5 .7h0m.9 .2h0m5.8-.3h0m.7-.5h0m4 .8h0m1.1-.7h0m12.9 .2h0m-74.7 .9h0m30.9 .2h0m1.4 .3h0m.3 0h0m1.4-.1h0m2.7-.3h0m13.1 .5h0m-59.4 .1h0m26.6 .7h0m10.2-.1h0m12.2-.2h0m9.9 .4h0m-22.6 .1h0m8.1 .3h0m19.2 .1h0m4.4 .2h0m-25.1 .9h0m9.7 .4h0m16.6-.2h0m29.9 .3h0m-57.1 .8h0m4.6-.1h0m4.6-.4h0m16.4-.2h0m-62.2 1.3h0m7.8 .4h0m29.5-.8h0m4.8 .7h0m7.3-.4h0m5.2 .6h0m-53.9 .5h0m22.2-.3h0m15 .3h0m8.1-.1h0m-21.7 1.2h0m5.4-.4h0m9.1 .3h0m2.8 .5h0m32.6-.6h0m-58.9 1.6h0m11.6 0h0m1.7-.8h0m5.8 .5h0m10.3-.6h0m6.5 1h0m-24.4 .5h0m.7 .5h0m28.8-.1h0m-14.1 .7h0m2.3 .3h0m9.4 0h0m-32.7 .9h0m34.9 .2h0m.2-.6h0m-51.8 .6h0m36.4 .8h0m4.8-.1h0m2.8 .3h0m-6.1 .5h0m-20.5 1.1h0m30.5 .1h0m-27.6 .6h0m-7.8 .7h0m1.4 0h0m-5.7 1.4h0m28 .1h0m-38.6 1.1h0m35.1 .3h0m9.2-.2h0m10.5 .2h0m-46.3 1.1h0m2.8-.9h0m25.1 .3h0m7.9-.1h0m-20.9 1h0m23.1 .4h0m-40.4 1.7h0m19.4 .7h0m53.1-.1h0m-33.3 3.6h0m-14.1 .8h0m3.9 0h0m-44.3 2.1h0m34.7 0h0m5 1.4h0m-7.1 .7h0m-20.6 2.1h0m8.9-.4h0m-27.3 1.1h0m7.8-.2h0m24.8 3.1h0m-21.3 2.8h0m16 6.8h0m6.7 4.5h0m-2.1 4h0m1.4 3.8h0" stroke="#000" stroke-width="1.9" stroke-linecap="round" fill="none"/>
<text x="468.8" y="17.1" font-size="21.6" fill="#000" text-anchor="start" textLength="13.2" lengthAdjust="spacingAndGlyphs" stroke="#000" stroke-width="0.22">B</text>
<text x="551.7" y="26.5" font-size="14.6" fill="#1a1a1a" text-anchor="start" textLength="84.0" lengthAdjust="spacingAndGlyphs" stroke="#1a1a1a" stroke-width="0.22">p-values (log</text>
<text x="635.8" y="30.2" font-size="10.0" fill="#1a1a1a" text-anchor="start" textLength="10.0" lengthAdjust="spacingAndGlyphs" stroke="#1a1a1a" stroke-width="0.22">10</text>
<text x="648.8" y="26.5" font-size="14.6" fill="#1a1a1a" text-anchor="end" stroke="#1a1a1a" stroke-width="0.22">)</text>
<text transform="translate(491.0,167.7) rotate(-90)" stroke="#000" stroke-width="0.22" font-size="16.6" textLength="68.9" lengthAdjust="spacingAndGlyphs">SPARK-X</text>
<text x="549.5" y="245.7" font-size="14.6" fill="#1a1a1a" text-anchor="start" textLength="119.8" lengthAdjust="spacingAndGlyphs" stroke="#1a1a1a" stroke-width="0.22">singleCellHaystack</text>
<text x="542.2" y="42.6" font-size="13.2" fill="#FF0000" text-anchor="start" textLength="16.4" lengthAdjust="spacingAndGlyphs" stroke="#FF0000" stroke-width="0.22">Ttr</text>
<line x1="555.9" y1="45.1" x2="561.0" y2="49.0" stroke="#FF0000" stroke-width="2.4"/>
<path d="M564.3,51.6L559.4,51.0L562.5,47.0z" fill="#FF0000"/>
<text x="522.9" y="69.0" font-size="11.2" fill="#FF0000" text-anchor="start" textLength="23.7" lengthAdjust="spacingAndGlyphs" stroke="#FF0000" stroke-width="0.22">Plp1</text>
<line x1="548.0" y1="70.5" x2="553.1" y2="74.6" stroke="#FF0000" stroke-width="2.4"/>
<path d="M556.3,77.3L551.5,76.6L554.6,72.7z" fill="#FF0000"/>
<text x="505.1" y="84.6" font-size="12.9" fill="#FF0000" text-anchor="start" textLength="35.6" lengthAdjust="spacingAndGlyphs" stroke="#FF0000" stroke-width="0.22">Calb2</text>
<line x1="541.8" y1="82.4" x2="548.4" y2="82.4" stroke="#FF0000" stroke-width="2.4"/>
<path d="M552.6,82.4L548.4,84.9L548.4,79.9z" fill="#FF0000"/>
<text x="507.9" y="95.9" font-size="12.9" fill="#FF0000" text-anchor="start" textLength="26.0" lengthAdjust="spacingAndGlyphs" stroke="#FF0000" stroke-width="0.22">Mbp</text>
<line x1="538.4" y1="93.1" x2="545.4" y2="93.1" stroke="#FF0000" stroke-width="2.4"/>
<path d="M549.6,93.1L545.4,95.6L545.4,90.6z" fill="#FF0000"/>
<text x="648.1" y="170.5" font-size="12.6" fill="#FF0000" text-anchor="start" textLength="47.3" lengthAdjust="spacingAndGlyphs" stroke="#FF0000" stroke-width="0.22">Ccdc36</text>
<line x1="646.9" y1="162.9" x2="641.5" y2="158.2" stroke="#FF0000" stroke-width="2.4"/>
<path d="M638.4,155.4L643.2,156.3L639.9,160.1z" fill="#FF0000"/>
<text x="633.5" y="189.6" font-size="12.6" fill="#FF0000" text-anchor="start" textLength="45.1" lengthAdjust="spacingAndGlyphs" stroke="#FF0000" stroke-width="0.22">Arpp19</text>
<line x1="633.5" y1="182.2" x2="628.4" y2="177.7" stroke="#FF0000" stroke-width="2.4"/>
<path d="M625.3,174.9L630.1,175.8L626.8,179.6z" fill="#FF0000"/>
<rect x="4.7" y="303.0" width="97.4" height="97.4" fill="#BFC0BF"/>
<path d="M12.8 308.1h1.7m3.4 0h3.4m6.8 0h1.7m3.4 0h1.7m3.4 0h3.4m-31.45 1.48h3.4m1.7 0h1.7m1.7 0h5.1m5.1 0h3.4m1.7 0h1.7m1.7 0h1.7m3.4 0h3.4m-38.25 1.48h6.8m3.4 0h1.7m5.1 0h3.4m1.7 0h1.7m3.4 0h3.4m1.7 0h1.7m1.7 0h1.7m5.1 0h1.7m-43.35 1.48h3.4m1.7 0h1.7m1.7 0h1.7m3.4 0h1.7m1.7 0h1.7m1.7 0h1.7m3.4 0h1.7m10.2 0h1.7m3.4 0h1.7m-41.65 1.48h1.7m1.7 0h5.1m3.4 0h1.7m3.4 0h1.7m1.7 0h1.7m1.7 0h5.1m3.4 0h1.7m6.8 0h1.7m-43.35 1.48h1.7m1.7 0h3.4m8.5 0h1.7m5.1 0h1.7m1.7 0h3.4m3.4 0h1.7m-34.85 1.48h3.4m5.1 0h3.4m6.8 0h1.7m5.1 0h1.7m5.1 0h1.7m5.1 0h1.7m1.7 0h1.7m-45.05 1.48h1.7m3.4 0h13.6m1.7 0h5.1m1.7 0h5.1m1.7 0h1.7m1.7 0h1.7m5.1 0h5.1m6.8 0h1.7m3.4 0h1.7m1.7 0h1.7m1.7 0h3.4m-70.55 1.48h1.7m1.7 0h3.4m5.1 0h1.7m1.7 0h1.7m5.1 0h1.7m17 0h1.7m1.7 0h1.7m1.7 0h1.7m1.7 0h1.7m1.7 0h3.4m3.4 0h5.1m3.4 0h3.4m-72.25 1.48h3.4m3.4 0h1.7m1.7 0h6.8m5.1 0h3.4m5.1 0h3.4m17 0h1.7m1.7 0h6.8m3.4 0h3.4m1.7 0h1.7m1.7 0h1.7m-75.65 1.48h1.7m1.7 0h3.4m1.7 0h5.1m3.4 0h1.7m3.4 0h1.7m1.7 0h1.7m1.7 0h1.7m8.5 0h1.7m5.1 0h1.7m8.5 0h1.7m3.4 0h1.7m1.7 0h1.7m1.7 0h5.1m3.4 0h3.4m-80.75 1.48h1.7m6.8 0h1.7m1.7 0h10.2m3.4 0h5.1m1.7 0h1.7m1.7 0h1.7m6.8 0h1.7m3.4 0h1.7m1.7 0h1.7m1.7 0h1.7m3.4 0h1.7m8.5 0h3.4m1.7 0h1.7m1.7 0h1.7m-82.45 1.48h3.4m1.7 0h5.1m1.7 0h6.8m1.7 0h1.7m1.7 0h3.4m1.7 0h1.7m3.4 0h3.4m1.7 0h3.4m1.7 0h6.8m1.7 0h3.4m10.2 0h3.4m5.1 0h1.7m5.1 0h3.4m-82.45 1.48h1.7m1.7 0h3.4m1.7 0h8.5m5.1 0h1.7m1.7 0h1.7m5.1 0h1.7m1.7 0h1.7m10.2 0h3.4m3.4 0h3.4m1.7 0h1.7m3.4 0h1.7m3.4 0h3.4m1.7 0h3.4m1.7 0h3.4m-72.25 1.48h3.4m1.7 0h1.7m6.8 0h10.2m3.4 0h3.4m3.4 0h1.7m6.8 0h1.7m1.7 0h1.7m1.7 0h1.7m5.1 0h1.7m6.8 0h1.7m5.1 0h1.7m-84.15 1.48h1.7m5.1 0h1.7m6.8 0h1.7m3.4 0h3.4m1.7 0h1.7m5.1 0h1.7m5.1 0h1.7m5.1 0h1.7m8.5 0h1.7m5.1 0h1.7m5.1 0h1.7m1.7 0h6.8m3.4 0h1.7m-82.45 1.48h1.7m1.7 0h1.7m1.7 0h3.4m1.7 0h8.5m6.8 0h5.1m1.7 0h1.7m10.2 0h5.1m1.7 0h3.4m3.4 0h1.7m1.7 0h1.7m1.7 0h3.4m5.1 0h5.1m-84.15 1.48h3.4m3.4 0h1.7m1.7 0h3.4m1.7 0h1.7m11.9 0h1.7m1.7 0h1.7m3.4 0h3.4m5.1 0h1.7m1.7 0h3.4m5.1 0h1.7m5.1 0h3.4m1.7 0h1.7m5.1 0h1.7m1.7 0h1.7m1.7 0h1.7m1.7 0h1.7m-89.25 1.48h1.7m1.7 0h3.4m1.7 0h1.7m5.1 0h1.7m1.7 0h1.7m5.1 0h5.1m1.7 0h1.7m1.7 0h1.7m1.7 0h3.4m1.7 0h1.7m3.4 0h1.7m8.5 0h5.1m1.7 0h1.7m5.1 0h1.7m3.4 0h5.1m1.7 0h1.7m-79.05 1.48h1.7m11.9 0h1.7m3.4 0h1.7m1.7 0h3.4m5.1 0h1.7m5.1 0h1.7m11.9 0h1.7m1.7 0h1.7m5.1 0h1.7m17 0h1.7m-87.55 1.48h1.7m3.4 0h1.7m1.7 0h5.1m1.7 0h3.4m6.8 0h3.4m1.7 0h1.7m1.7 0h1.7m3.4 0h1.7m3.4 0h5.1m1.7 0h3.4m1.7 0h1.7m1.7 0h1.7m6.8 0h1.7m5.1 0h1.7m5.1 0h1.7m1.7 0h1.7m-84.15 1.48h1.7m3.4 0h1.7m3.4 0h1.7m3.4 0h1.7m8.5 0h3.4m13.6 0h1.7m3.4 0h1.7m18.7 0h3.4m5.1 0h1.7m-73.95 1.48h3.4m1.7 0h1.7m1.7 0h5.1m10.2 0h1.7m5.1 0h1.7m3.4 0h1.7m11.9 0h3.4m3.4 0h3.4m10.2 0h3.4m-79.05 1.48h1.7m13.6 0h1.7m3.4 0h1.7m1.7 0h1.7m1.7 0h3.4m1.7 0h1.7m8.5 0h1.7m10.2 0h1.7m6.8 0h1.7m3.4 0h1.7m1.7 0h1.7m1.7 0h1.7m6.8 0h1.7m-84.15 1.48h3.4m5.1 0h1.7m1.7 0h1.7m5.1 0h1.7m18.7 0h1.7m6.8 0h1.7m3.4 0h1.7m15.3 0h1.7m1.7 0h1.7m-77.35 1.48h1.7m1.7 0h1.7m1.7 0h1.7m1.7 0h3.4m6.8 0h1.7m6.8 0h1.7m3.4 0h1.7m11.9 0h1.7m1.7 0h3.4m11.9 0h5.1m5.1 0h1.7m-77.35 1.48h3.4m1.7 0h3.4m3.4 0h5.1m18.7 0h1.7m35.7 0h1.7m1.7 0h3.4m5.1 0h3.4m-85.85 1.48h5.1m5.1 0h5.1m5.1 0h1.7m11.9 0h1.7m30.6 0h1.7m3.4 0h1.7m1.7 0h1.7m5.1 0h1.7m-82.45 1.48h1.7m1.7 0h1.7m66.3 0h1.7m5.1 0h5.1m-87.55 1.48h3.4m3.4 0h1.7m5.1 0h1.7m11.9 0h1.7m40.8 0h1.7m3.4 0h3.4m10.2 0h1.7m-79.05 1.48h1.7m5.1 0h1.7m1.7 0h1.7m54.4 0h1.7m3.4 0h1.7m3.4 0h1.7m-89.25 1.48h3.4m1.7 0h1.7m1.7 0h1.7m1.7 0h1.7m71.4 0h1.7m-87.55 1.48h1.7m10.2 0h1.7m1.7 0h3.4m-16.15 1.48h3.4m13.6 0h1.7m-21.25 1.48h1.7m5.1 0h1.7m3.4 0h3.4m1.7 0h1.7m20.4 0h1.7m5.1 0h3.4m-43.35 1.48h1.7m5.1 0h1.7m28.9 0h1.7m13.6 0h1.7m-58.65 1.48h1.7m3.4 0h1.7m1.7 0h1.7m30.6 0h1.7m10.2 0h3.4m-56.95 1.48h1.7m3.4 0h1.7m3.4 0h1.7m25.5 0h1.7m1.7 0h1.7m1.7 0h1.7m5.1 0h1.7m11.9 0h1.7m1.7 0h1.7m6.8 0h1.7m1.7 0h1.7m-75.65 1.48h1.7m28.9 0h1.7m13.6 0h1.7m1.7 0h1.7m1.7 0h5.1m1.7 0h1.7m6.8 0h1.7m6.8 0h1.7m-84.15 1.48h3.4m23.8 0h1.7m6.8 0h1.7m8.5 0h1.7m3.4 0h15.3m5.1 0h5.1m3.4 0h5.1m3.4 0h1.7m-89.25 1.48h1.7m23.8 0h1.7m10.2 0h1.7m5.1 0h1.7m5.1 0h1.7m3.4 0h1.7m1.7 0h1.7m5.1 0h3.4m6.8 0h3.4m3.4 0h3.4m-56.95 1.48h1.7m1.7 0h1.7m5.1 0h1.7m5.1 0h5.1m1.7 0h1.7m1.7 0h3.4m3.4 0h1.7m1.7 0h3.4m3.4 0h1.7m1.7 0h1.7m1.7 0h1.7m1.7 0h5.1m-90.95 1.48h1.7m27.2 0h3.4m3.4 0h1.7m1.7 0h1.7m6.8 0h1.7m3.4 0h1.7m1.7 0h8.5m3.4 0h1.7m6.8 0h3.4m1.7 0h1.7m1.7 0h5.1m-58.65 1.48h1.7m5.1 0h3.4m10.2 0h1.7m8.5 0h3.4m11.9 0h1.7m1.7 0h3.4m-60.35 1.48h1.7m13.6 0h1.7m1.7 0h1.7m13.6 0h3.4m1.7 0h3.4m3.4 0h3.4m1.7 0h1.7m5.1 0h3.4m-60.35 1.48h1.7m8.5 0h3.4m1.7 0h1.7m1.7 0h1.7m1.7 0h1.7m1.7 0h3.4m1.7 0h1.7m1.7 0h6.8m10.2 0h1.7m1.7 0h3.4m1.7 0h1.7m1.7 0h1.7m-72.25 1.48h1.7m1.7 0h1.7m1.7 0h3.4m3.4 0h6.8m1.7 0h1.7m5.1 0h5.1m5.1 0h5.1m1.7 0h1.7m1.7 0h1.7m3.4 0h5.1m1.7 0h3.4m1.7 0h1.7m-68.85 1.48h1.7m5.1 0h3.4m1.7 0h6.8m1.7 0h3.4m1.7 0h5.1m1.7 0h5.1m1.7 0h1.7m3.4 0h3.4m3.4 0h3.4m1.7 0h3.4m6.8 0h1.7m3.4 0h1.7m-72.25 1.48h3.4m6.8 0h1.7m1.7 0h3.4m1.7 0h1.7m5.1 0h1.7m5.1 0h5.1m1.7 0h1.7m5.1 0h1.7m1.7 0h1.7m5.1 0h1.7m3.4 0h1.7m1.7 0h3.4m-77.35 1.48h1.7m18.7 0h1.7m1.7 0h3.4m1.7 0h1.7m1.7 0h1.7m5.1 0h5.1m3.4 0h3.4m1.7 0h1.7m5.1 0h1.7m3.4 0h1.7m1.7 0h5.1m-79.05 1.48h1.7m3.4 0h1.7m3.4 0h1.7m10.2 0h1.7m1.7 0h1.7m1.7 0h1.7m5.1 0h1.7m3.4 0h1.7m1.7 0h1.7m1.7 0h1.7m5.1 0h3.4m3.4 0h6.8m1.7 0h1.7m1.7 0h1.7m3.4 0h1.7m1.7 0h1.7m-70.55 1.48h1.7m5.1 0h1.7m3.4 0h1.7m3.4 0h1.7m11.9 0h1.7m1.7 0h1.7m1.7 0h5.1m3.4 0h3.4m1.7 0h1.7m3.4 0h10.2m-56.95 1.48h3.4m11.9 0h8.5m25.5 0h5.1m-75.65 1.48h1.7m15.3 0h1.7m3.4 0h1.7m3.4 0h1.7m10.2 0h3.4m-41.65 1.48h1.7m15.3 0h3.4m1.7 0h1.7m1.7 0h3.4m1.7 0h8.5m-36.55 1.48h3.4m17 0h1.7m3.4 0h1.7m-19.55 1.48h1.7m1.7 0h1.7m1.7 0h5.1m6.8 0h1.7m-28.05 1.48h1.7m8.5 0h3.4m-17.85 1.48h1.7m10.2 0h1.7m1.7 0h1.7m3.4 0h1.7m-11.05 1.48h1.7" stroke="#4E3F96" stroke-width="1.53" fill="none"/>
<path d="M7.7 308.1h1.7m13.6 0h3.4m-9.35 1.48h1.7m5.1 0h1.7m6.8 0h1.7m1.7 0h1.7m1.7 0h3.4m3.4 0h1.7m-26.35 1.48h3.4m3.4 0h1.7m1.7 0h3.4m13.6 0h1.7m-34.85 1.48h1.7m18.7 0h5.1m3.4 0h1.7m3.4 0h1.7m1.7 0h1.7m-45.05 1.48h1.7m1.7 0h1.7m5.1 0h3.4m3.4 0h1.7m1.7 0h1.7m8.5 0h3.4m1.7 0h1.7m1.7 0h3.4m1.7 0h1.7m-43.35 1.48h1.7m5.1 0h1.7m10.2 0h1.7m6.8 0h3.4m1.7 0h1.7m6.8 0h3.4m-39.95 1.48h1.7m3.4 0h5.1m11.9 0h1.7m3.4 0h3.4m6.8 0h1.7m-45.05 1.48h3.4m20.4 0h1.7m8.5 0h1.7m1.7 0h3.4m15.3 0h3.4m5.1 0h1.7m-68.85 1.48h1.7m6.8 0h1.7m1.7 0h1.7m1.7 0h1.7m1.7 0h5.1m1.7 0h1.7m3.4 0h1.7m5.1 0h1.7m1.7 0h1.7m5.1 0h1.7m1.7 0h1.7m1.7 0h1.7m3.4 0h3.4m-51.85 1.48h1.7m15.3 0h1.7m1.7 0h1.7m6.8 0h3.4m1.7 0h1.7m1.7 0h3.4m3.4 0h1.7m6.8 0h1.7m8.5 0h1.7m3.4 0h1.7m-77.35 1.48h1.7m3.4 0h1.7m6.8 0h1.7m1.7 0h1.7m3.4 0h1.7m1.7 0h1.7m6.8 0h3.4m5.1 0h1.7m1.7 0h1.7m5.1 0h1.7m1.7 0h1.7m3.4 0h1.7m1.7 0h1.7m5.1 0h3.4m3.4 0h1.7m-79.05 1.48h1.7m1.7 0h1.7m13.6 0h3.4m5.1 0h1.7m8.5 0h1.7m8.5 0h1.7m5.1 0h1.7m3.4 0h1.7m1.7 0h1.7m1.7 0h1.7m-68.85 1.48h1.7m5.1 0h1.7m6.8 0h1.7m10.2 0h1.7m27.2 0h5.1m6.8 0h3.4m5.1 0h1.7m-80.75 1.48h1.7m6.8 0h1.7m10.2 0h3.4m1.7 0h1.7m3.4 0h3.4m5.1 0h1.7m3.4 0h1.7m8.5 0h1.7m3.4 0h1.7m1.7 0h1.7m5.1 0h1.7m-72.25 1.48h5.1m1.7 0h1.7m3.4 0h1.7m3.4 0h1.7m1.7 0h5.1m27.2 0h1.7m3.4 0h1.7m6.8 0h3.4m1.7 0h3.4m1.7 0h1.7m-77.35 1.48h1.7m1.7 0h1.7m1.7 0h1.7m3.4 0h3.4m3.4 0h1.7m5.1 0h1.7m3.4 0h1.7m5.1 0h3.4m1.7 0h1.7m1.7 0h1.7m1.7 0h1.7m3.4 0h3.4m3.4 0h1.7m3.4 0h1.7m15.3 0h1.7m-84.15 1.48h3.4m5.1 0h1.7m3.4 0h1.7m11.9 0h3.4m5.1 0h1.7m8.5 0h1.7m13.6 0h1.7m1.7 0h1.7m1.7 0h1.7m3.4 0h1.7m8.5 0h3.4m-84.15 1.48h3.4m13.6 0h1.7m1.7 0h1.7m8.5 0h1.7m5.1 0h1.7m5.1 0h1.7m5.1 0h3.4m1.7 0h3.4m10.2 0h3.4m8.5 0h1.7m-85.85 1.48h1.7m8.5 0h3.4m1.7 0h1.7m1.7 0h1.7m1.7 0h1.7m17 0h1.7m1.7 0h3.4m1.7 0h3.4m3.4 0h1.7m11.9 0h1.7m1.7 0h1.7m6.8 0h1.7m1.7 0h1.7m-85.85 1.48h1.7m6.8 0h1.7m5.1 0h1.7m13.6 0h1.7m18.7 0h3.4m10.2 0h1.7m3.4 0h1.7m6.8 0h1.7m1.7 0h1.7m-85.85 1.48h1.7m1.7 0h1.7m17 0h5.1m3.4 0h1.7m23.8 0h1.7m6.8 0h1.7m1.7 0h1.7m1.7 0h1.7m1.7 0h1.7m-75.65 1.48h1.7m3.4 0h3.4m1.7 0h1.7m5.1 0h1.7m8.5 0h1.7m11.9 0h1.7m32.3 0h1.7m11.9 0h1.7m-90.95 1.48h6.8m23.8 0h1.7m10.2 0h1.7m3.4 0h1.7m25.5 0h1.7m5.1 0h1.7m-79.05 1.48h5.1m1.7 0h1.7m23.8 0h1.7m3.4 0h3.4m1.7 0h1.7m10.2 0h1.7m18.7 0h1.7m3.4 0h1.7m-84.15 1.48h1.7m5.1 0h3.4m5.1 0h3.4m5.1 0h3.4m10.2 0h1.7m3.4 0h1.7m8.5 0h1.7m1.7 0h3.4m17 0h1.7m5.1 0h1.7m-77.35 1.48h1.7m3.4 0h5.1m6.8 0h1.7m-17.85 1.48h3.4m6.8 0h3.4m-21.25 1.48h1.7m5.1 0h5.1m-14.45 1.48h3.4m6.8 0h8.5m-.85 1.48h1.7m64.6 0h1.7m-85.85 1.48h5.1m3.4 0h1.7m3.4 0h1.7m1.7 0h1.7m-14.45 1.48h1.7m1.7 0h1.7m-5.95 1.48h1.7m1.7 0h1.7m-7.65 1.48h1.7m5.1 0h1.7m1.7 0h1.7m-9.35 1.48h3.4m-5.95 1.48h1.7m49.3 0h1.7m-53.55 1.48h1.7m1.7 0h3.4m37.4 0h5.1m1.7 0h1.7m17 0h1.7m-24.65 1.48h5.1m3.4 0h1.7m3.4 0h5.1m-29.75 1.48h1.7m8.5 0h1.7m3.4 0h1.7m5.1 0h1.7m10.2 0h1.7m6.8 0h1.7m-45.05 1.48h1.7m1.7 0h1.7m1.7 0h1.7m23.8 0h3.4m-33.15 1.48h1.7m8.5 0h1.7m5.1 0h3.4m1.7 0h1.7m1.7 0h5.1m8.5 0h1.7m5.1 0h1.7m-41.65 1.48h1.7m11.9 0h1.7m3.4 0h1.7m3.4 0h1.7m3.4 0h1.7m3.4 0h1.7m1.7 0h1.7m1.7 0h1.7m-51.85 1.48h1.7m1.7 0h1.7m1.7 0h1.7m11.9 0h1.7m10.2 0h1.7m3.4 0h5.1m-51.85 1.48h1.7m3.4 0h1.7m11.9 0h5.1m1.7 0h1.7m1.7 0h1.7m1.7 0h1.7m6.8 0h5.1m3.4 0h1.7m3.4 0h1.7m5.1 0h3.4m-63.75 1.48h1.7m6.8 0h5.1m5.1 0h6.8m1.7 0h5.1m15.3 0h1.7m1.7 0h5.1m3.4 0h3.4m-67.15 1.48h1.7m6.8 0h5.1m6.8 0h1.7m1.7 0h1.7m1.7 0h1.7m3.4 0h1.7m1.7 0h1.7m6.8 0h6.8m5.1 0h1.7m6.8 0h1.7m-68.85 1.48h1.7m17 0h1.7m1.7 0h3.4m6.8 0h5.1m5.1 0h1.7m13.6 0h1.7m8.5 0h1.7m-68.85 1.48h1.7m25.5 0h1.7m5.1 0h1.7m8.5 0h3.4m3.4 0h1.7m5.1 0h5.1m1.7 0h1.7m-72.25 1.48h1.7m5.1 0h1.7m1.7 0h3.4m11.9 0h1.7m3.4 0h1.7m1.7 0h1.7m5.1 0h1.7m3.4 0h3.4m8.5 0h1.7m3.4 0h1.7m1.7 0h1.7m5.1 0h1.7m-53.55 1.48h1.7m1.7 0h1.7m1.7 0h1.7m8.5 0h3.4m6.8 0h1.7m1.7 0h1.7m3.4 0h1.7m1.7 0h1.7m5.1 0h3.4m1.7 0h1.7m-72.25 1.48h1.7m5.1 0h1.7m5.1 0h1.7m1.7 0h3.4m8.5 0h1.7m1.7 0h1.7m3.4 0h3.4m3.4 0h3.4m6.8 0h1.7m5.1 0h1.7m3.4 0h1.7m-63.75 1.48h1.7m13.6 0h5.1m1.7 0h1.7m3.4 0h1.7m1.7 0h1.7m5.1 0h1.7m8.5 0h1.7m13.6 0h1.7m-79.05 1.48h1.7m13.6 0h1.7m10.2 0h1.7m1.7 0h3.4m-31.45 1.48h3.4m6.8 0h1.7m1.7 0h1.7m3.4 0h1.7m3.4 0h1.7m5.1 0h1.7m-21.25 1.48h1.7m-9.35 1.48h1.7m15.3 0h1.7m3.4 0h1.7m-28.05 1.48h1.7m3.4 0h1.7m13.6 0h3.4m-11.05 1.48h1.7m5.1 0h1.7m-21.25 1.48h1.7m-4.25 1.48h1.7" stroke="#2F74B0" stroke-width="1.53" fill="none"/>
<path d="M9.4 308.1h3.4m1.7 0h1.7m5.1 0h1.7m6.8 0h3.4m3.4 0h1.7m-29.75 1.48h1.7m3.4 0h1.7m10.2 0h3.4m-14.45 1.48h3.4m1.7 0h1.7m17 0h1.7m1.7 0h1.7m1.7 0h3.4m-36.55 1.48h1.7m5.1 0h3.4m1.7 0h1.7m1.7 0h1.7m1.7 0h3.4m6.8 0h1.7m5.1 0h1.7m-41.65 1.48h1.7m15.3 0h1.7m6.8 0h1.7m11.9 0h1.7m-39.95 1.48h1.7m6.8 0h1.7m1.7 0h3.4m5.1 0h1.7m3.4 0h1.7m10.2 0h5.1m-43.35 1.48h1.7m3.4 0h3.4m10.2 0h1.7m1.7 0h1.7m1.7 0h1.7m1.7 0h1.7m1.7 0h1.7m5.1 0h1.7m1.7 0h1.7m3.4 0h1.7m11.9 0h3.4m-45.05 1.48h1.7m11.9 0h1.7m8.5 0h1.7m10.2 0h1.7m6.8 0h1.7m6.8 0h1.7m-70.55 1.48h1.7m5.1 0h1.7m15.3 0h1.7m3.4 0h5.1m1.7 0h1.7m3.4 0h1.7m22.1 0h3.4m3.4 0h1.7m-70.55 1.48h3.4m10.2 0h3.4m6.8 0h1.7m5.1 0h3.4m3.4 0h1.7m1.7 0h1.7m3.4 0h1.7m11.9 0h1.7m10.2 0h1.7m-79.05 1.48h1.7m13.6 0h1.7m5.1 0h1.7m8.5 0h5.1m5.1 0h3.4m5.1 0h5.1m5.1 0h1.7m-60.35 1.48h1.7m1.7 0h1.7m3.4 0h1.7m22.1 0h1.7m1.7 0h3.4m1.7 0h1.7m1.7 0h3.4m5.1 0h1.7m3.4 0h1.7m6.8 0h1.7m5.1 0h1.7m5.1 0h1.7m-62.05 1.48h1.7m8.5 0h1.7m3.4 0h1.7m3.4 0h1.7m6.8 0h1.7m3.4 0h3.4m5.1 0h1.7m10.2 0h3.4m-75.65 1.48h1.7m23.8 0h1.7m5.1 0h1.7m3.4 0h3.4m1.7 0h1.7m5.1 0h1.7m10.2 0h1.7m1.7 0h1.7m10.2 0h1.7m-77.35 1.48h1.7m1.7 0h3.4m13.6 0h1.7m10.2 0h3.4m3.4 0h3.4m1.7 0h3.4m11.9 0h1.7m8.5 0h1.7m3.4 0h1.7m1.7 0h1.7m-73.95 1.48h1.7m8.5 0h1.7m6.8 0h1.7m1.7 0h1.7m1.7 0h1.7m6.8 0h1.7m5.1 0h3.4m5.1 0h1.7m1.7 0h1.7m3.4 0h3.4m1.7 0h1.7m6.8 0h1.7m-84.15 1.48h1.7m23.8 0h1.7m17 0h1.7m3.4 0h1.7m5.1 0h1.7m3.4 0h1.7m13.6 0h3.4m-70.55 1.48h1.7m3.4 0h1.7m1.7 0h3.4m1.7 0h1.7m1.7 0h3.4m1.7 0h1.7m3.4 0h1.7m5.1 0h3.4m6.8 0h1.7m8.5 0h1.7m3.4 0h1.7m1.7 0h1.7m5.1 0h1.7m1.7 0h1.7m-77.35 1.48h1.7m1.7 0h1.7m10.2 0h1.7m6.8 0h1.7m1.7 0h1.7m1.7 0h1.7m17 0h1.7m6.8 0h1.7m1.7 0h3.4m5.1 0h1.7m10.2 0h1.7m-89.25 1.48h1.7m1.7 0h3.4m1.7 0h1.7m1.7 0h5.1m1.7 0h1.7m1.7 0h1.7m3.4 0h1.7m5.1 0h3.4m1.7 0h5.1m1.7 0h5.1m5.1 0h1.7m1.7 0h1.7m3.4 0h1.7m3.4 0h1.7m3.4 0h5.1m1.7 0h1.7m1.7 0h1.7m-82.45 1.48h1.7m1.7 0h1.7m5.1 0h1.7m3.4 0h1.7m11.9 0h1.7m1.7 0h3.4m1.7 0h1.7m6.8 0h1.7m6.8 0h1.7m1.7 0h1.7m1.7 0h1.7m5.1 0h1.7m3.4 0h5.1m5.1 0h1.7m-87.55 1.48h1.7m8.5 0h1.7m1.7 0h1.7m3.4 0h6.8m5.1 0h6.8m3.4 0h3.4m1.7 0h1.7m3.4 0h3.4m1.7 0h1.7m1.7 0h1.7m1.7 0h6.8m5.1 0h1.7m3.4 0h1.7m-77.35 1.48h1.7m3.4 0h1.7m10.2 0h5.1m8.5 0h1.7m1.7 0h1.7m3.4 0h1.7m1.7 0h6.8m5.1 0h3.4m3.4 0h6.8m1.7 0h1.7m6.8 0h5.1m-89.25 1.48h1.7m10.2 0h3.4m3.4 0h3.4m1.7 0h1.7m1.7 0h1.7m3.4 0h1.7m3.4 0h1.7m8.5 0h5.1m1.7 0h1.7m5.1 0h3.4m10.2 0h1.7m5.1 0h1.7m3.4 0h3.4m-90.95 1.48h1.7m5.1 0h1.7m5.1 0h1.7m5.1 0h1.7m1.7 0h1.7m5.1 0h1.7m1.7 0h5.1m6.8 0h5.1m10.2 0h3.4m1.7 0h1.7m3.4 0h1.7m6.8 0h5.1m1.7 0h3.4m-87.55 1.48h1.7m1.7 0h1.7m11.9 0h1.7m3.4 0h1.7m1.7 0h1.7m6.8 0h3.4m15.3 0h3.4m1.7 0h1.7m1.7 0h1.7m8.5 0h3.4m1.7 0h3.4m5.1 0h3.4m-90.95 1.48h1.7m3.4 0h1.7m17 0h3.4m1.7 0h5.1m15.3 0h1.7m13.6 0h1.7m6.8 0h1.7m1.7 0h1.7m3.4 0h5.1m-85.85 1.48h1.7m17 0h3.4m5.1 0h1.7m5.1 0h1.7m44.2 0h1.7m-79.05 1.48h1.7m1.7 0h1.7m10.2 0h1.7m1.7 0h1.7m3.4 0h3.4m42.5 0h1.7m5.1 0h3.4m5.1 0h1.7m-85.85 1.48h3.4m1.7 0h5.1m5.1 0h5.1m62.9 0h1.7m-84.15 1.48h1.7m8.5 0h1.7m3.4 0h1.7m-11.05 1.48h1.7m1.7 0h6.8m32.3 0h1.7m-53.55 1.48h1.7m1.7 0h1.7m1.7 0h3.4m1.7 0h1.7m-9.35 1.48h1.7m1.7 0h1.7m1.7 0h1.7m3.4 0h1.7m-11.05 1.48h3.4m-9.35 1.48h3.4m1.7 0h1.7m1.7 0h1.7m32.3 0h1.7m-33.15 1.48h1.7m34 0h1.7m1.7 0h1.7m3.4 0h5.1m-58.65 1.48h1.7m28.9 0h3.4m5.1 0h1.7m8.5 0h1.7m1.7 0h3.4m6.8 0h1.7m1.7 0h1.7m-72.25 1.48h5.1m3.4 0h1.7m23.8 0h1.7m3.4 0h3.4m5.1 0h3.4m3.4 0h1.7m8.5 0h1.7m1.7 0h1.7m1.7 0h3.4m1.7 0h1.7m10.2 0h1.7m-56.95 1.48h1.7m5.1 0h1.7m1.7 0h3.4m1.7 0h3.4m18.7 0h1.7m5.1 0h3.4m5.1 0h1.7m-87.55 1.48h1.7m28.9 0h6.8m5.1 0h3.4m3.4 0h3.4m18.7 0h1.7m1.7 0h1.7m5.1 0h1.7m5.1 0h1.7m-62.05 1.48h1.7m3.4 0h1.7m1.7 0h5.1m3.4 0h3.4m5.1 0h1.7m8.5 0h1.7m8.5 0h1.7m-51.85 1.48h5.1m13.6 0h5.1m1.7 0h3.4m11.9 0h1.7m3.4 0h1.7m8.5 0h1.7m1.7 0h1.7m-58.65 1.48h1.7m5.1 0h5.1m3.4 0h1.7m5.1 0h1.7m5.1 0h1.7m3.4 0h1.7m8.5 0h3.4m1.7 0h1.7m6.8 0h1.7m3.4 0h1.7m-68.85 1.48h1.7m3.4 0h5.1m8.5 0h1.7m8.5 0h1.7m8.5 0h1.7m3.4 0h3.4m18.7 0h1.7m-70.55 1.48h1.7m5.1 0h3.4m8.5 0h1.7m32.3 0h3.4m6.8 0h1.7m-55.25 1.48h1.7m13.6 0h1.7m18.7 0h1.7m1.7 0h3.4m10.2 0h1.7m1.7 0h1.7m1.7 0h1.7m-77.35 1.48h1.7m3.4 0h1.7m1.7 0h1.7m3.4 0h1.7m6.8 0h1.7m3.4 0h1.7m15.3 0h3.4m15.3 0h1.7m8.5 0h1.7m-75.65 1.48h1.7m1.7 0h1.7m5.1 0h1.7m5.1 0h1.7m3.4 0h1.7m1.7 0h1.7m1.7 0h1.7m3.4 0h1.7m10.2 0h1.7m5.1 0h1.7m1.7 0h1.7m5.1 0h1.7m8.5 0h1.7m-77.35 1.48h1.7m1.7 0h15.3m1.7 0h1.7m11.9 0h3.4m11.9 0h1.7m3.4 0h1.7m3.4 0h1.7m13.6 0h1.7m-77.35 1.48h3.4m5.1 0h5.1m3.4 0h1.7m8.5 0h1.7m1.7 0h3.4m8.5 0h1.7m20.4 0h1.7m10.2 0h1.7m-85.85 1.48h1.7m1.7 0h1.7m5.1 0h3.4m1.7 0h3.4m3.4 0h3.4m1.7 0h1.7m3.4 0h1.7m5.1 0h1.7m1.7 0h1.7m13.6 0h1.7m3.4 0h1.7m3.4 0h1.7m-67.15 1.48h1.7m1.7 0h3.4m1.7 0h1.7m1.7 0h1.7m1.7 0h1.7m1.7 0h1.7m5.1 0h3.4m1.7 0h1.7m-34.85 1.48h1.7m3.4 0h1.7m3.4 0h1.7m3.4 0h1.7m5.1 0h1.7m3.4 0h1.7m3.4 0h5.1m1.7 0h1.7m-36.55 1.48h5.1m1.7 0h6.8m5.1 0h1.7m1.7 0h1.7m-28.05 1.48h1.7m1.7 0h1.7m3.4 0h1.7m5.1 0h6.8m1.7 0h1.7m3.4 0h1.7m3.4 0h3.4m-34.85 1.48h3.4m1.7 0h1.7m5.1 0h1.7m8.5 0h1.7m3.4 0h1.7m-29.75 1.48h3.4m1.7 0h1.7m3.4 0h1.7m6.8 0h5.1m1.7 0h1.7m-26.35 1.48h1.7m5.1 0h3.4m1.7 0h1.7m1.7 0h3.4m-21.25 1.48h1.7m5.1 0h3.4" stroke="#4FA89E" stroke-width="1.53" fill="none"/>
<path d="M16.2 308.1h1.7m8.5 0h1.7m6.8 0h1.7m5.95 4.44h1.7m-20.4 2.96h1.7m25.5 0h1.7m-21.25 1.48h1.7m-24.65 4.44h1.7m20.4 0h1.7m40.8 2.96h1.7m11.9 0h1.7m-53.55 1.48h1.7m-9.35 1.48h1.7m27.2 0h1.7m25.5 0h1.7m-16.15 1.48h1.7m18.7 0h1.7m-77.35 1.48h1.7m8.5 0h1.7m-11.05 1.48h1.7m18.7 0h1.7m11.9 0h1.7m3.4 0h1.7m6.8 2.96h1.7m-31.45 1.48h1.7m25.5 0h1.7m10.2 0h1.7m-21.25 1.48h1.7m39.1 0h1.7m-46.75 1.48h1.7m15.3 0h1.7m1.7 0h1.7m1.7 0h1.7m13.6 0h1.7m3.4 0h5.1m-73.95 1.48h1.7m5.1 0h1.7m5.1 0h1.7m3.4 0h3.4m18.7 0h1.7m25.5 0h1.7m-75.65 1.48h1.7m5.1 0h1.7m22.1 0h1.7m11.9 0h1.7m5.1 0h1.7m5.1 0h3.4m1.7 0h1.7m6.8 0h1.7m-53.55 1.48h1.7m1.7 0h1.7m18.7 0h1.7m13.6 0h3.4m-48.45 1.48h1.7m8.5 0h1.7m5.1 0h5.1m5.1 0h1.7m6.8 0h1.7m1.7 0h1.7m1.7 0h1.7m5.1 0h1.7m8.5 0h5.1m-68.85 1.48h1.7m6.8 0h1.7m5.1 0h3.4m1.7 0h10.2m1.7 0h3.4m3.4 0h1.7m1.7 0h3.4m1.7 0h6.8m-50.15 1.48h1.7m1.7 0h1.7m1.7 0h5.1m1.7 0h1.7m6.8 0h3.4m10.2 0h5.1m1.7 0h5.1m1.7 0h3.4m6.8 0h3.4m1.7 0h3.4m-70.55 1.48h1.7m1.7 0h3.4m3.4 0h3.4m1.7 0h3.4m1.7 0h1.7m22.1 0h1.7m3.4 0h3.4m5.1 0h1.7m-63.75 1.48h1.7m6.8 0h1.7m3.4 0h3.4m35.7 0h1.7m1.7 0h1.7m11.9 0h1.7m-80.75 1.48h1.7m1.7 0h1.7m11.9 0h5.1m13.6 0h1.7m40.8 0h1.7m-65.45 1.48h5.1m6.8 0h1.7m13.6 0h1.7m32.3 0h3.4m1.7 0h3.4m-72.25 1.48h3.4m40.8 0h1.7m3.4 0h1.7m17 0h1.7m-73.95 1.48h3.4m3.4 0h1.7m25.5 0h3.4m37.4 0h1.7m-89.25 1.48h1.7m11.9 0h1.7m1.7 0h1.7m3.4 0h1.7m10.2 0h1.7m11.9 0h3.4m1.7 0h1.7m1.7 0h1.7m-50.15 1.48h1.7m5.1 0h1.7m15.3 0h1.7m3.4 0h5.1m3.4 0h5.1m1.7 0h5.1m5.1 0h1.7m-56.95 1.48h1.7m1.7 0h1.7m20.4 0h3.4m1.7 0h3.4m20.4 0h6.8m3.4 0h1.7m3.4 0h1.7m1.7 0h1.7m-80.75 1.48h1.7m8.5 0h1.7m8.5 0h1.7m15.3 0h1.7m30.6 0h5.1m1.7 0h1.7m1.7 0h1.7m-79.05 1.48h1.7m3.4 0h3.4m15.3 0h5.1m8.5 0h3.4m34 0h1.7m3.4 0h3.4m-84.15 1.48h3.4m1.7 0h1.7m18.7 0h3.4m54.4 0h1.7m-85.85 1.48h1.7m1.7 0h1.7m15.3 0h3.4m1.7 0h1.7m10.2 0h1.7m-41.65 1.48h3.4m1.7 0h1.7m6.8 0h3.4m5.1 0h1.7m1.7 0h1.7m1.7 0h1.7m-19.55 1.48h1.7m8.5 0h1.7m8.5 0h1.7m-28.05 1.48h1.7m1.7 0h1.7m6.8 0h1.7m1.7 0h3.4m3.4 0h1.7m28.9 0h1.7m-43.35 1.48h3.4m11.9 0h1.7m-29.75 1.48h1.7m10.2 0h3.4m3.4 0h1.7m-9.35 1.48h1.7m5.1 0h1.7m3.4 0h1.7m-22.95 1.48h1.7m3.4 0h1.7m1.7 0h1.7m-14.45 1.48h1.7m6.8 0h1.7m57.8 0h1.7m-70.55 1.48h6.8m3.4 0h1.7m-9.35 1.48h3.4m6.8 0h1.7m62.9 0h1.7m-77.35 1.48h1.7m1.7 0h3.4m20.4 0h1.7m49.3 0h1.7m-72.25 1.48h1.7m1.7 0h1.7m1.7 0h1.7m8.5 0h1.7m-24.65 1.48h1.7m6.8 0h3.4m-14.45 1.48h1.7m6.8 0h1.7m20.4 0h1.7m-31.45 1.48h1.7m8.5 0h3.4m6.8 0h1.7m-14.45 1.48h1.7m6.8 0h1.7m-19.55 1.48h1.7m6.8 0h3.4m1.7 0h1.7m-11.05 1.48h1.7m1.7 0h1.7m-7.65 1.48h1.7m1.7 0h1.7m3.4 0h1.7m1.7 0h1.7" stroke="#98C898" stroke-width="1.53" fill="none"/>
<path d="M27.2 315.5h1.7m7.65 4.44h1.7m39.95 1.48h1.7m-2.55 4.44h1.7m-17 2.96h1.7m17.85 7.4h1.7m-25.5 2.96h1.7m-11.05 4.44h1.7m22.1 0h1.7m-21.25 1.48h3.4m5.95 1.48h3.4m1.7 0h1.7m-21.25 1.48h5.1m3.4 0h6.8m1.7 0h1.7m5.1 0h1.7m11.9 0h1.7m-45.05 1.48h1.7m3.4 0h1.7m1.7 0h1.7m1.7 0h6.8m3.4 0h5.1m1.7 0h1.7m1.7 0h3.4m5.1 0h1.7m-50.15 1.48h1.7m5.1 0h3.4m5.1 0h6.8m1.7 0h5.1m1.7 0h1.7m3.4 0h1.7m1.7 0h1.7m6.8 0h1.7m3.4 0h5.1m-55.25 1.48h1.7m1.7 0h3.4m1.7 0h3.4m6.8 0h3.4m1.7 0h3.4m13.6 0h5.1m5.1 0h3.4m3.4 0h1.7m-62.05 1.48h6.8m1.7 0h10.2m1.7 0h1.7m1.7 0h1.7m5.1 0h1.7m1.7 0h5.1m10.2 0h1.7m1.7 0h3.4m-60.35 1.48h3.4m1.7 0h5.1m1.7 0h1.7m5.1 0h1.7m8.5 0h3.4m3.4 0h1.7m6.8 0h1.7m3.4 0h5.1m5.1 0h1.7m-60.35 1.48h8.5m1.7 0h1.7m3.4 0h3.4m1.7 0h5.1m5.1 0h3.4m5.1 0h1.7m5.1 0h1.7m10.2 0h5.1m1.7 0h1.7m-67.15 1.48h1.7m1.7 0h1.7m1.7 0h3.4m1.7 0h1.7m1.7 0h1.7m3.4 0h3.4m6.8 0h1.7m1.7 0h1.7m1.7 0h1.7m1.7 0h8.5m13.6 0h1.7m1.7 0h3.4m-77.35 1.48h1.7m1.7 0h1.7m1.7 0h3.4m1.7 0h6.8m1.7 0h3.4m22.1 0h3.4m1.7 0h8.5m1.7 0h5.1m1.7 0h1.7m-68.85 1.48h3.4m1.7 0h1.7m1.7 0h5.1m1.7 0h1.7m5.1 0h1.7m32.3 0h1.7m1.7 0h1.7m3.4 0h1.7m3.4 0h3.4m-80.75 1.48h3.4m3.4 0h1.7m1.7 0h1.7m6.8 0h8.5m49.3 0h6.8m-73.95 1.48h1.7m1.7 0h1.7m1.7 0h3.4m54.4 0h1.7m-75.65 1.48h1.7m1.7 0h1.7m1.7 0h11.9m-21.25 1.48h1.7m1.7 0h1.7m1.7 0h1.7m1.7 0h1.7m1.7 0h1.7m1.7 0h1.7m49.3 0h1.7m-70.55 1.48h1.7m1.7 0h3.4m1.7 0h1.7m5.1 0h3.4m1.7 0h1.7m-24.65 1.48h6.8m1.7 0h1.7m1.7 0h1.7m1.7 0h5.1m-21.25 1.48h3.4m8.5 0h1.7m1.7 0h1.7m1.7 0h1.7m-21.25 1.48h5.1m15.3 0h1.7m-19.55 1.48h1.7m3.4 0h1.7m-7.65 1.48h3.4m1.7 0h1.7m-4.25 1.48h1.7m3.4 0h1.7m-7.65 1.48h6.8m-10.2 2.96h1.7m7.65 1.48h1.7" stroke="#D2E090" stroke-width="1.53" fill="none"/>
<path d="M50.2 331.7h1.7m-12.75 13.31h1.7m22.1 2.96h1.7m-12.75 1.48h1.7m6.8 0h3.4m5.1 0h1.7m-26.35 1.48h5.1m6.8 0h1.7m5.1 0h1.7m1.7 0h1.7m3.4 0h1.7m-34.85 1.48h1.7m3.4 0h1.7m3.4 0h1.7m1.7 0h3.4m3.4 0h1.7m3.4 0h13.6m5.1 0h3.4m-33.15 1.48h1.7m5.1 0h1.7m1.7 0h1.7m1.7 0h1.7m5.1 0h10.2m1.7 0h1.7m-53.55 1.48h1.7m5.1 0h1.7m1.7 0h5.1m3.4 0h6.8m3.4 0h3.4m3.4 0h1.7m1.7 0h1.7m3.4 0h1.7m5.1 0h5.1m1.7 0h3.4m1.7 0h1.7m-58.65 1.48h1.7m1.7 0h3.4m3.4 0h1.7m8.5 0h1.7m5.1 0h3.4m1.7 0h5.1m1.7 0h1.7m13.6 0h1.7m-67.15 1.48h1.7m5.1 0h1.7m3.4 0h1.7m6.8 0h1.7m18.7 0h1.7m17 0h5.1m1.7 0h1.7m-68.85 1.48h1.7m3.4 0h1.7m47.6 0h1.7m5.1 0h1.7m1.7 0h6.8m-72.25 1.48h1.7m1.7 0h1.7m5.1 0h1.7m1.7 0h1.7m42.5 0h1.7m5.1 0h1.7m3.4 0h1.7m-73.95 1.48h1.7m1.7 0h3.4m1.7 0h1.7m-11.05 1.48h1.7m1.7 0h1.7m1.7 0h1.7m3.4 0h1.7m-16.15 1.48h1.7m11.9 0h1.7m-17.85 1.48h1.7m1.7 0h1.7m1.7 0h1.7m-.85 1.48h1.7m-11.05 1.48h1.7m5.1 0h1.7m-12.75 1.48h1.7m1.7 0h1.7m1.7 0h1.7m1.7 0h1.7m-11.05 1.48h5.1m5.1 0h1.7m-16.15 1.48h1.7m-2.55 1.48h1.7m3.4 0h1.7m1.7 0h1.7m-9.35 1.48h3.4m3.4 0h1.7m-9.35 1.48h1.7m0 5.92h1.7" stroke="#EAEAAE" stroke-width="1.53" fill="none"/>
<path d="M82.5 343.6h1.7m-16.15 7.39h1.7m5.1 0h1.7m-9.35 4.44h1.7m-40.8 11.83h1.7m-11.05 1.48h1.7m-6.8 5.92h1.7m1.7 0h1.7m3.4 0h1.7m-5.95 1.48h1.7m-10.2 14.79h1.7" stroke="#EECF84" stroke-width="1.53" fill="none"/>
<path d="M50.2 355.4h1.7m12.75 1.48h1.7m20.4 0h1.7m-9.35 1.48h1.7m-59.5 5.92h1.7m-5.1 8.87h1.7m1.7 0h1.7m-3.4 2.96h3.4" stroke="#EE9C5C" stroke-width="1.53" fill="none"/>
<path d="M80.0 356.9h1.7m3.4 0h1.7m-.85 1.48h1.7" stroke="#E06444" stroke-width="1.53" fill="none"/>
<path d="M81.7 356.9h1.7m-2.55 1.48h1.7m1.7 0h1.7m-66.3 14.79h1.7m-.85 1.48h1.7" stroke="#C43A4C" stroke-width="1.53" fill="none"/>
<path d="M83.4 356.9h1.7m-2.55 1.48h1.7m-65.45 16.27h1.7" stroke="#94144A" stroke-width="1.53" fill="none"/>
<path d="M97.9,334.0C101.2,339.0 102.3,349.0 102.3,357.0C102.3,366.0 101.5,373.0 98.2,378.5L97.3,377.0L97.9,334.0z" fill="#B089C6"/>
<rect x="109.7" y="303.0" width="97.4" height="97.4" fill="#BFC0BF"/>
<path d="M137.3 383.5h1.7" stroke="#4E3F96" stroke-width="1.53" fill="none"/>
<path d="M112.7 308.1h1.7m13.6 0h3.4m19.55 1.48h1.7m-33.15 1.48h1.7m23.8 0h1.7m5.1 0h1.7m-21.25 1.48h1.7m1.7 0h1.7m10.2 0h1.7m5.1 0h1.7m-5.95 1.48h1.7m-28.05 1.48h1.7m11.9 0h1.7m10.2 0h1.7m5.1 0h1.7m1.7 0h1.7m12.75 4.44h1.7m9.35 1.48h3.4m5.1 2.96h1.7m-24.65 1.48h1.7m19.55 1.48h1.7m-22.1 8.87h1.7m1.7 0h1.7m-4.25 1.48h1.7m1.7 0h1.7m-5.95 1.48h1.7m28.9 0h1.7m-68 29.58h1.7m1.7 0h8.5m-12.75 1.48h6.8m-5.95 1.48h1.7m.85 1.48h1.7m-11.05 1.48h1.7m1.7 0h1.7m3.4 0h1.7m1.7 0h3.4m-4.25 1.48h3.4m1.7 0h1.7m-9.35 1.48h1.7m5.1 0h1.7m-14.45 1.48h1.7m1.7 0h1.7m-9.35 1.48h1.7m6.8 0h1.7m.85 1.48h3.4m1.7 0h1.7m-21.25 1.48h1.7m8.5 0h1.7m-4.25 1.48h1.7m-4.25 1.48h1.7m5.1 0h1.7m1.7 0h1.7m-17.85 1.48h1.7m3.4 0h1.7m-2.55 1.48h1.7m5.1 0h1.7m8.5 0h1.7m-12.75 1.48h1.7m8.5 0h1.7m-18.7 2.96h1.7m5.1 0h1.7" stroke="#2F74B0" stroke-width="1.53" fill="none"/>
<path d="M114.4 308.1h5.1m1.7 0h3.4m1.7 0h1.7m3.4 0h3.4m6.8 0h1.7m1.7 0h1.7m-33.15 1.48h1.7m1.7 0h3.4m3.4 0h3.4m1.7 0h1.7m6.8 0h6.8m3.4 0h3.4m-38.25 1.48h6.8m3.4 0h3.4m1.7 0h3.4m3.4 0h1.7m1.7 0h3.4m1.7 0h1.7m1.7 0h3.4m-28.05 1.48h1.7m18.7 0h5.1m3.4 0h3.4m1.7 0h3.4m-41.65 1.48h1.7m3.4 0h1.7m3.4 0h1.7m3.4 0h1.7m1.7 0h1.7m3.4 0h3.4m1.7 0h1.7m3.4 0h8.5m-45.05 1.48h1.7m3.4 0h1.7m5.1 0h1.7m3.4 0h1.7m1.7 0h1.7m1.7 0h1.7m1.7 0h3.4m1.7 0h1.7m3.4 0h1.7m-28.05 1.48h1.7m6.8 0h1.7m3.4 0h1.7m5.1 0h1.7m3.4 0h1.7m1.7 0h1.7m3.4 0h1.7m11.9 0h3.4m-45.05 1.48h1.7m5.1 0h1.7m6.8 0h1.7m5.1 0h5.1m8.5 0h15.3m1.7 0h1.7m-22.95 1.48h3.4m1.7 0h1.7m5.1 0h1.7m3.4 0h5.1m-16.15 1.48h1.7m1.7 0h8.5m8.5 0h3.4m-24.65 1.48h5.1m1.7 0h1.7m6.8 0h3.4m5.1 0h3.4m-24.65 1.48h1.7m1.7 0h3.4m5.1 0h1.7m1.7 0h6.8m1.7 0h1.7m-22.95 1.48h3.4m5.1 0h3.4m5.1 0h5.1m-26.35 1.48h1.7m1.7 0h3.4m17 0h1.7m1.7 0h1.7m-79.05 1.48h1.7m5.1 0h1.7m42.5 0h1.7m10.2 0h1.7m6.8 0h6.8m-80.75 1.48h1.7m6.8 0h1.7m1.7 0h1.7m39.1 0h6.8m6.8 0h1.7m6.8 0h6.8m-26.35 1.48h1.7m1.7 0h1.7m22.1 0h1.7m-85.85 1.48h1.7m1.7 0h1.7m3.4 0h1.7m3.4 0h3.4m35.7 0h3.4m1.7 0h5.1m17 0h6.8m-75.65 1.48h1.7m1.7 0h1.7m42.5 0h3.4m6.8 0h1.7m11.9 0h1.7m1.7 0h1.7m-26.35 1.48h1.7m20.4 0h1.7m-26.35 1.48h1.7m20.4 0h1.7m3.4 0h1.7m-26.35 1.48h1.7m18.7 0h1.7m1.7 0h1.7m-29.75 1.48h1.7m3.4 0h1.7m13.6 0h1.7m1.7 0h3.4m-5.95 1.48h5.1m3.4 0h1.7m-9.35 1.48h1.7m5.1 0h1.7m-7.65 1.48h3.4m-4.25 1.48h1.7m-57.8 14.79h1.7m.85 1.48h6.8m-11.05 1.48h8.5m1.7 0h1.7m-16.15 1.48h1.7m3.4 0h8.5m1.7 0h1.7m-16.15 1.48h1.7m1.7 0h3.4m3.4 0h3.4m-15.3 2.96h1.7m8.5 0h1.7m1.7 0h1.7m-14.45 1.48h3.4m1.7 0h5.1m1.7 0h3.4m-22.95 1.48h1.7m8.5 0h3.4m6.8 0h1.7m-19.55 1.48h1.7m5.1 0h3.4m6.8 0h3.4m-24.65 1.48h3.4m3.4 0h3.4m1.7 0h5.1m3.4 0h1.7m-17.85 1.48h1.7m1.7 0h1.7m1.7 0h3.4m3.4 0h3.4m-31.45 1.48h1.7m1.7 0h1.7m8.5 0h1.7m1.7 0h1.7m1.7 0h1.7m1.7 0h1.7m1.7 0h3.4m1.7 0h3.4m-31.45 1.48h1.7m1.7 0h1.7m1.7 0h1.7m5.1 0h5.1m1.7 0h1.7m1.7 0h6.8m-22.95 1.48h1.7m1.7 0h10.2m3.4 0h1.7m1.7 0h1.7m-21.25 1.48h5.1m1.7 0h1.7m5.1 0h3.4m-16.15 1.48h3.4m3.4 0h6.8m1.7 0h1.7m-24.65 1.48h3.4m3.4 0h3.4m1.7 0h5.1m1.7 0h1.7m1.7 0h6.8m-31.45 1.48h1.7m1.7 0h1.7m3.4 0h1.7m3.4 0h5.1m1.7 0h1.7m1.7 0h1.7m1.7 0h1.7m-22.95 1.48h1.7m6.8 0h3.4m1.7 0h1.7m1.7 0h5.1m-28.05 1.48h3.4m6.8 0h6.8m3.4 0h1.7m6.8 0h1.7m-33.15 1.48h5.1m5.1 0h10.2m1.7 0h1.7m3.4 0h1.7m-24.65 1.48h1.7m5.1 0h1.7m3.4 0h1.7m3.4 0h1.7m-19.55 1.48h5.1m3.4 0h3.4" stroke="#4FA89E" stroke-width="1.53" fill="none"/>
<path d="M119.5 308.1h1.7m3.4 0h1.7m8.5 0h6.8m1.7 0h1.7m-29.75 1.48h1.7m3.4 0h3.4m6.8 0h6.8m6.8 0h3.4m-26.35 1.48h1.7m3.4 0h1.7m3.4 0h3.4m1.7 0h1.7m3.4 0h1.7m6.8 0h1.7m1.7 0h3.4m-43.35 1.48h8.5m1.7 0h8.5m1.7 0h1.7m1.7 0h5.1m6.8 0h1.7m-38.25 1.48h3.4m3.4 0h3.4m3.4 0h1.7m1.7 0h3.4m1.7 0h1.7m3.4 0h1.7m3.4 0h1.7m-33.15 1.48h1.7m6.8 0h1.7m5.1 0h1.7m3.4 0h1.7m5.1 0h1.7m3.4 0h1.7m3.4 0h1.7m1.7 0h1.7m1.7 0h1.7m-34.85 1.48h1.7m1.7 0h1.7m3.4 0h1.7m1.7 0h1.7m5.1 0h3.4m1.7 0h3.4m1.7 0h1.7m1.7 0h3.4m-26.35 1.48h1.7m5.1 0h3.4m5.1 0h1.7m1.7 0h1.7m6.8 0h1.7m20.4 0h1.7m-48.45 1.48h6.8m1.7 0h1.7m1.7 0h6.8m1.7 0h1.7m8.5 0h1.7m1.7 0h3.4m3.4 0h3.4m5.1 0h3.4m-45.05 1.48h1.7m3.4 0h1.7m1.7 0h1.7m1.7 0h1.7m6.8 0h5.1m1.7 0h1.7m8.5 0h3.4m3.4 0h1.7m-45.05 1.48h1.7m5.1 0h1.7m10.2 0h5.1m5.1 0h1.7m6.8 0h1.7m3.4 0h5.1m-79.05 1.48h1.7m1.7 0h1.7m8.5 0h1.7m39.1 0h1.7m3.4 0h1.7m10.2 0h1.7m-70.55 1.48h8.5m5.1 0h3.4m39.1 0h1.7m11.9 0h5.1m5.1 0h1.7m-84.15 1.48h1.7m1.7 0h1.7m1.7 0h3.4m5.1 0h1.7m3.4 0h1.7m13.6 0h3.4m11.9 0h5.1m1.7 0h1.7m3.4 0h1.7m5.1 0h5.1m6.8 0h1.7m-82.45 1.48h3.4m3.4 0h5.1m1.7 0h6.8m10.2 0h1.7m22.1 0h1.7m1.7 0h5.1m6.8 0h5.1m8.5 0h1.7m-77.35 1.48h3.4m1.7 0h1.7m3.4 0h5.1m28.9 0h3.4m6.8 0h1.7m6.8 0h3.4m1.7 0h1.7m6.8 0h1.7m-82.45 1.48h1.7m1.7 0h1.7m1.7 0h6.8m1.7 0h3.4m30.6 0h5.1m1.7 0h1.7m8.5 0h3.4m1.7 0h1.7m1.7 0h6.8m-85.85 1.48h1.7m10.2 0h3.4m3.4 0h1.7m37.4 0h1.7m10.2 0h3.4m5.1 0h3.4m-70.55 1.48h1.7m42.5 0h5.1m15.3 0h1.7m5.1 0h1.7m1.7 0h1.7m-85.85 1.48h1.7m1.7 0h5.1m1.7 0h8.5m35.7 0h1.7m25.5 0h1.7m1.7 0h1.7m-84.15 1.48h1.7m1.7 0h3.4m42.5 0h5.1m5.1 0h1.7m18.7 0h3.4m-79.05 1.48h1.7m42.5 0h1.7m1.7 0h1.7m1.7 0h3.4m18.7 0h1.7m1.7 0h1.7m-79.05 1.48h1.7m6.8 0h1.7m37.4 0h3.4m1.7 0h3.4m17 0h1.7m5.1 0h1.7m-33.15 1.48h1.7m1.7 0h3.4m22.1 0h3.4m-36.55 1.48h1.7m1.7 0h1.7m1.7 0h1.7m1.7 0h1.7m18.7 0h5.1m-31.45 1.48h3.4m20.4 0h1.7m3.4 0h5.1m-82.45 1.48h1.7m44.2 0h1.7m1.7 0h1.7m1.7 0h1.7m20.4 0h6.8m-4.25 1.48h5.1m-5.95 1.48h1.7m-4.25 1.48h1.7m3.4 0h3.4m-5.95 1.48h5.1m-2.55 1.48h3.4m-5.95 1.48h1.7m-.85 1.48h3.4m-65.45 1.48h1.7m62.9 0h1.7m-62.05 1.48h1.7m3.4 0h1.7m-7.65 1.48h1.7m1.7 0h1.7m-12.75 1.48h1.7m3.4 0h3.4m8.5 0h1.7m-16.15 1.48h1.7m8.5 0h1.7m1.7 0h1.7m-16.15 1.48h3.4m8.5 0h1.7m-12.75 1.48h1.7m3.4 0h3.4m3.4 0h3.4m-17.85 1.48h3.4m1.7 0h1.7m4.25 1.48h1.7m3.4 0h1.7m-22.95 1.48h5.1m10.2 0h1.7m3.4 0h1.7m-28.05 1.48h1.7m3.4 0h8.5m5.1 0h5.1m1.7 0h3.4m-29.75 1.48h6.8m3.4 0h1.7m6.8 0h1.7m6.8 0h1.7m-28.05 1.48h1.7m3.4 0h3.4m3.4 0h1.7m11.9 0h3.4m-34.85 1.48h1.7m6.8 0h1.7m3.4 0h1.7m1.7 0h1.7m5.1 0h1.7m5.1 0h1.7m-33.15 1.48h1.7m1.7 0h8.5m1.7 0h1.7m8.5 0h1.7m3.4 0h1.7m-31.45 1.48h1.7m3.4 0h1.7m1.7 0h1.7m1.7 0h1.7m1.7 0h1.7m8.5 0h1.7m-28.05 1.48h11.9m1.7 0h1.7m-11.05 1.48h6.8m6.8 0h1.7m3.4 0h1.7m5.1 0h5.1m-33.15 1.48h11.9m3.4 0h1.7m8.5 0h1.7m1.7 0h5.1m-34.85 1.48h3.4m5.1 0h3.4m22.1 0h1.7m-34.85 1.48h1.7m1.7 0h1.7m1.7 0h1.7m3.4 0h1.7m6.8 0h1.7m1.7 0h1.7m1.7 0h1.7m1.7 0h1.7m-33.15 1.48h5.1m1.7 0h1.7m1.7 0h3.4m1.7 0h1.7m6.8 0h1.7m6.8 0h1.7m-33.15 1.48h1.7m3.4 0h3.4m1.7 0h1.7m8.5 0h1.7m1.7 0h5.1m-24.65 1.48h5.1m10.2 0h1.7m1.7 0h3.4m-26.35 1.48h1.7m3.4 0h1.7m1.7 0h1.7m3.4 0h1.7m1.7 0h1.7m-19.55 1.48h3.4m6.8 0h1.7" stroke="#98C898" stroke-width="1.53" fill="none"/>
<path d="M127.1 309.6h1.7m-4.25 4.44h1.7m11.9 0h1.7m8.5 0h1.7m-33.15 1.48h3.4m5.1 0h1.7m3.4 0h1.7m-19.55 1.48h1.7m5.1 0h5.1m5.1 0h3.4m5.1 0h1.7m1.7 0h1.7m-7.65 1.48h3.4m5.1 0h3.4m3.4 0h1.7m6.8 0h1.7m-17.85 1.48h1.7m1.7 0h1.7m6.8 0h1.7m1.7 0h5.1m-50.15 1.48h1.7m23.8 0h5.1m1.7 0h3.4m1.7 0h1.7m1.7 0h1.7m5.1 0h3.4m-51.85 1.48h3.4m1.7 0h5.1m18.7 0h1.7m3.4 0h5.1m1.7 0h1.7m22.1 0h1.7m-63.75 1.48h1.7m1.7 0h8.5m1.7 0h1.7m11.9 0h3.4m1.7 0h1.7m1.7 0h5.1m8.5 0h3.4m1.7 0h1.7m-56.95 1.48h1.7m8.5 0h3.4m17 0h1.7m3.4 0h3.4m10.2 0h6.8m-55.25 1.48h1.7m1.7 0h1.7m3.4 0h1.7m1.7 0h1.7m1.7 0h1.7m3.4 0h3.4m1.7 0h1.7m1.7 0h1.7m1.7 0h1.7m13.6 0h1.7m23.8 0h3.4m-79.05 1.48h1.7m3.4 0h1.7m18.7 0h1.7m1.7 0h3.4m1.7 0h1.7m1.7 0h1.7m11.9 0h5.1m8.5 0h1.7m10.2 0h1.7m-77.35 1.48h3.4m1.7 0h3.4m8.5 0h1.7m8.5 0h1.7m8.5 0h1.7m35.7 0h1.7m-77.35 1.48h5.1m1.7 0h1.7m1.7 0h1.7m6.8 0h1.7m3.4 0h1.7m6.8 0h1.7m15.3 0h1.7m13.6 0h1.7m3.4 0h1.7m6.8 0h1.7m-75.65 1.48h1.7m1.7 0h1.7m13.6 0h1.7m10.2 0h1.7m13.6 0h1.7m1.7 0h1.7m18.7 0h5.1m-75.65 1.48h8.5m3.4 0h1.7m1.7 0h3.4m1.7 0h1.7m5.1 0h1.7m20.4 0h3.4m8.5 0h1.7m6.8 0h3.4m-72.25 1.48h1.7m5.1 0h1.7m10.2 0h3.4m5.1 0h1.7m18.7 0h5.1m3.4 0h1.7m8.5 0h1.7m-70.55 1.48h3.4m1.7 0h1.7m3.4 0h3.4m11.9 0h1.7m23.8 0h1.7m-50.15 1.48h5.1m1.7 0h5.1m1.7 0h3.4m34 0h1.7m23.8 0h1.7m-75.65 1.48h1.7m1.7 0h6.8m1.7 0h1.7m34 0h1.7m22.1 0h1.7m6.8 0h1.7m-84.15 1.48h6.8m3.4 0h5.1m32.3 0h5.1m1.7 0h1.7m3.4 0h1.7m11.9 0h3.4m-80.75 1.48h1.7m5.1 0h1.7m8.5 0h1.7m35.7 0h1.7m1.7 0h1.7m1.7 0h1.7m15.3 0h3.4m-75.65 1.48h1.7m1.7 0h1.7m1.7 0h1.7m1.7 0h1.7m1.7 0h1.7m1.7 0h1.7m28.9 0h3.4m3.4 0h3.4m15.3 0h1.7m-68.85 1.48h3.4m40.8 0h1.7m1.7 0h1.7m17 0h3.4m-29.75 1.48h1.7m1.7 0h6.8m17 0h6.8m-72.25 1.48h1.7m40.8 0h1.7m23.8 0h3.4m1.7 0h3.4m-72.25 1.48h1.7m61.2 0h1.7m1.7 0h3.4m-7.65 1.48h3.4m-67.15 1.48h1.7m61.2 0h1.7m1.7 0h5.1m-63.75 1.48h1.7m57.8 0h1.7m1.7 0h3.4m-65.45 1.48h1.7m56.1 0h3.4m3.4 0h1.7m-73.95 1.48h1.7m3.4 0h1.7m1.7 0h5.1m56.1 0h1.7m-72.25 1.48h11.9m1.7 0h3.4m1.7 0h1.7m45.9 0h1.7m3.4 0h1.7m-72.25 1.48h8.5m3.4 0h1.7m1.7 0h3.4m1.7 0h3.4m47.6 0h1.7m-72.25 1.48h1.7m1.7 0h3.4m10.2 0h1.7m-17.85 1.48h3.4m14.45 1.48h1.7m-19.55 1.48h1.7m-2.55 1.48h1.7m15.3 0h1.7m-19.55 1.48h1.7m1.7 0h1.7m11.9 0h1.7m-29.75 1.48h1.7m1.7 0h3.4m-7.65 1.48h3.4m1.7 0h1.7m-9.35 1.48h1.7m1.7 0h1.7m-7.65 1.48h1.7m1.7 0h1.7m1.7 0h1.7m-4.25 1.48h6.8m1.7 0h1.7m20.4 0h1.7m-34 2.96h1.7m30.6 0h1.7m-2.55 1.48h1.7m-34.85 1.48h3.4m30.6 0h1.7m-32.3 2.96h1.7m28.05 1.48h1.7m-29.75 1.48h1.7m27.2 0h1.7m-26.35 1.48h1.7m-8.5 2.96h1.7m3.4 0h1.7m-.85 1.48h1.7" stroke="#D2E090" stroke-width="1.53" fill="none"/>
<path d="M116.1 314.0h1.7m0 2.96h1.7m5.95 1.48h6.8m.85 1.48h3.4m-21.25 1.48h1.7m20.4 0h1.7m20.4 0h1.7m-45.05 1.48h1.7m5.1 0h3.4m28.9 0h3.4m22.1 0h1.7m-51.85 1.48h1.7m13.6 0h1.7m1.7 0h1.7m5.1 0h1.7m5.1 0h1.7m17 0h1.7m-70.55 1.48h1.7m13.6 0h1.7m3.4 0h1.7m6.8 0h3.4m1.7 0h3.4m3.4 0h1.7m3.4 0h1.7m1.7 0h1.7m-38.25 1.48h1.7m5.1 0h1.7m8.5 0h1.7m1.7 0h1.7m5.1 0h1.7m3.4 0h3.4m20.4 0h1.7m-48.45 1.48h3.4m1.7 0h1.7m6.8 0h1.7m1.7 0h3.4m3.4 0h1.7m1.7 0h1.7m-26.35 1.48h3.4m1.7 0h6.8m6.8 0h3.4m5.1 0h1.7m-28.05 1.48h6.8m1.7 0h5.1m11.9 0h3.4m20.4 0h1.7m-67.15 1.48h1.7m10.2 0h1.7m1.7 0h6.8m1.7 0h1.7m6.8 0h1.7m8.5 0h1.7m-53.55 1.48h3.4m18.7 0h1.7m1.7 0h5.1m3.4 0h1.7m8.5 0h3.4m22.1 0h1.7m6.8 0h1.7m-58.65 1.48h1.7m5.1 0h1.7m3.4 0h1.7m11.9 0h1.7m23.8 0h1.7m8.5 0h1.7m-84.15 1.48h1.7m13.6 0h11.9m3.4 0h1.7m11.9 0h3.4m3.4 0h1.7m17 0h1.7m-70.55 1.48h3.4m11.9 0h1.7m3.4 0h3.4m6.8 0h3.4m8.5 0h3.4m1.7 0h1.7m-46.75 1.48h3.4m13.6 0h1.7m1.7 0h5.1m3.4 0h1.7m5.1 0h1.7m11.9 0h1.7m22.1 0h1.7m-77.35 1.48h3.4m6.8 0h3.4m5.1 0h8.5m6.8 0h1.7m13.6 0h1.7m23.8 0h1.7m-75.65 1.48h1.7m1.7 0h1.7m1.7 0h6.8m6.8 0h3.4m1.7 0h3.4m5.1 0h1.7m13.6 0h1.7m22.1 0h3.4m-75.65 1.48h3.4m1.7 0h1.7m1.7 0h1.7m5.1 0h1.7m1.7 0h1.7m10.2 0h1.7m3.4 0h1.7m10.2 0h3.4m23.8 0h1.7m-75.65 1.48h1.7m5.1 0h1.7m5.1 0h8.5m3.4 0h1.7m3.4 0h1.7m17 0h1.7m-41.65 1.48h8.5m13.6 0h1.7m1.7 0h1.7m-36.55 1.48h1.7m1.7 0h1.7m1.7 0h1.7m3.4 0h1.7m5.1 0h3.4m6.8 0h6.8m1.7 0h1.7m8.5 0h3.4m3.4 0h1.7m18.7 0h3.4m-73.95 1.48h3.4m1.7 0h5.1m3.4 0h1.7m1.7 0h5.1m1.7 0h1.7m45.9 0h1.7m-67.15 1.48h8.5m3.4 0h6.8m3.4 0h3.4m44.2 0h1.7m-72.25 1.48h3.4m3.4 0h1.7m1.7 0h3.4m1.7 0h1.7m1.7 0h3.4m45.9 0h1.7m-67.15 1.48h6.8m3.4 0h3.4m3.4 0h1.7m1.7 0h1.7m42.5 0h3.4m-70.55 1.48h5.1m1.7 0h5.1m1.7 0h10.2m-24.65 1.48h5.1m1.7 0h3.4m8.5 0h5.1m1.7 0h1.7m42.5 0h5.1m3.4 0h1.7m-77.35 1.48h1.7m20.4 0h1.7m1.7 0h1.7m39.1 0h1.7m3.4 0h1.7m1.7 0h1.7m-75.65 1.48h1.7m18.7 0h1.7m44.2 0h5.1m-46.75 1.48h1.7m39.1 0h3.4m3.4 0h1.7m-51.85 1.48h3.4m.85 1.48h1.7m-5.95 1.48h1.7m-2.55 1.48h1.7m-30.6 2.96h1.7m3.4 0h1.7m22.1 0h3.4m47.6 0h1.7m-89.25 1.48h5.1m-4.25 1.48h1.7m1.7 0h1.7m-4.25 1.48h1.7m1.7 0h1.7m-5.95 1.48h1.7m34 0h1.7m-2.55 1.48h1.7m-1.7 5.92h1.7m-.85 1.48h1.7m-1.7 2.96h1.7" stroke="#EAEAAE" stroke-width="1.53" fill="none"/>
<path d="M116.1 317.0h1.7m4.25 1.48h3.4m-12.75 1.48h1.7m2.55 1.48h3.4m15.3 0h1.7m20.4 0h1.7m-33.15 1.48h1.7m3.4 0h1.7m6.8 0h1.7m1.7 0h1.7m13.6 0h3.4m-29.75 1.48h1.7m23.8 0h1.7m-24.65 1.48h3.4m22.1 0h1.7m15.3 0h1.7m-39.95 1.48h1.7m13.6 0h3.4m3.4 0h1.7m-7.65 1.48h3.4m-9.35 1.48h1.7m3.4 0h1.7m3.4 0h3.4m18.7 0h1.7m-31.45 1.48h10.2m-17.85 1.48h1.7m3.4 0h5.1m1.7 0h6.8m15.3 0h1.7m-34.85 1.48h1.7m1.7 0h8.5m3.4 0h5.1m15.3 0h1.7m11.9 0h1.7m-82.45 1.48h1.7m23.8 0h1.7m1.7 0h1.7m3.4 0h5.1m1.7 0h1.7m1.7 0h1.7m1.7 0h3.4m22.1 0h3.4m-48.45 1.48h1.7m1.7 0h1.7m1.7 0h1.7m3.4 0h3.4m3.4 0h3.4m20.4 0h3.4m6.8 0h1.7m-58.65 1.48h1.7m1.7 0h3.4m3.4 0h8.5m3.4 0h1.7m1.7 0h3.4m11.9 0h3.4m10.2 0h1.7m-80.75 1.48h3.4m18.7 0h1.7m5.1 0h3.4m1.7 0h1.7m1.7 0h1.7m1.7 0h5.1m1.7 0h5.1m13.6 0h1.7m-39.95 1.48h6.8m5.1 0h3.4m1.7 0h3.4m17 0h1.7m6.8 0h1.7m-72.25 1.48h1.7m10.2 0h1.7m1.7 0h3.4m3.4 0h1.7m3.4 0h5.1m1.7 0h3.4m1.7 0h5.1m1.7 0h1.7m13.6 0h1.7m-65.45 1.48h1.7m11.9 0h1.7m11.9 0h5.1m3.4 0h1.7m1.7 0h10.2m13.6 0h1.7m8.5 0h3.4m-75.65 1.48h1.7m1.7 0h3.4m6.8 0h1.7m10.2 0h1.7m1.7 0h1.7m3.4 0h10.2m1.7 0h5.1m-51.85 1.48h11.9m8.5 0h8.5m1.7 0h3.4m1.7 0h1.7m1.7 0h1.7m3.4 0h3.4m1.7 0h1.7m1.7 0h1.7m-50.15 1.48h1.7m1.7 0h1.7m1.7 0h1.7m3.4 0h5.1m3.4 0h6.8m10.2 0h5.1m1.7 0h1.7m3.4 0h1.7m3.4 0h1.7m15.3 0h1.7m-75.65 1.48h1.7m6.8 0h1.7m6.8 0h1.7m1.7 0h1.7m5.1 0h1.7m1.7 0h10.2m8.5 0h8.5m17 0h1.7m-70.55 1.48h5.1m8.5 0h3.4m6.8 0h3.4m11.9 0h1.7m6.8 0h1.7m18.7 0h3.4m-72.25 1.48h3.4m6.8 0h1.7m1.7 0h1.7m3.4 0h1.7m1.7 0h1.7m3.4 0h5.1m35.7 0h3.4m-73.95 1.48h1.7m15.3 0h1.7m5.1 0h3.4m1.7 0h1.7m1.7 0h5.1m34 0h3.4m-73.95 1.48h5.1m6.8 0h1.7m17 0h1.7m1.7 0h3.4m35.7 0h3.4m-80.75 1.48h3.4m1.7 0h1.7m27.2 0h1.7m1.7 0h1.7m1.7 0h1.7m34 0h3.4m-79.05 1.48h1.7m1.7 0h8.5m23.8 0h1.7m44.2 0h1.7m-45.05 1.48h3.4m13.6 0h1.7m18.7 0h1.7m6.8 0h1.7m-50.15 1.48h1.7m1.7 0h3.4m34 0h1.7m3.4 0h3.4m1.7 0h1.7m-48.45 1.48h1.7m39.1 0h3.4m1.7 0h1.7m-72.25 1.48h1.7m61.2 0h1.7m1.7 0h3.4m1.7 0h1.7m-51.85 1.48h3.4m44.2 0h3.4m-51.85 1.48h1.7m39.1 0h3.4m5.1 0h3.4m-53.55 1.48h3.4m40.8 0h5.1m1.7 0h1.7m-89.25 1.48h5.1m79.9 0h1.7m1.7 0h1.7m-53.55 1.48h1.7m47.6 0h3.4m-53.55 1.48h1.7m47.6 0h1.7m-50.15 1.48h1.7m48.45 1.48h1.7m-7.65 1.48h6.8m-51.85 1.48h1.7m44.2 0h1.7m-48.45 1.48h1.7m47.6 0h1.7m-51 5.92h3.4" stroke="#EECF84" stroke-width="1.53" fill="none"/>
<path d="M114.4 317.0h1.7m-2.55 1.48h1.7m5.1 0h1.7m-7.65 1.48h3.4m1.7 0h3.4m3.4 0h1.7m3.4 0h1.7m-12.75 1.48h3.4m3.4 0h6.8m-5.95 1.48h3.4m1.7 0h1.7m1.7 0h1.7m23.8 0h1.7m15.3 0h1.7m-46.75 1.48h1.7m1.7 0h1.7m1.7 0h1.7m17 0h3.4m15.3 0h3.4m-43.35 1.48h3.4m13.6 0h3.4m22.1 0h1.7m-4.25 1.48h3.4m-21.25 1.48h1.7m18.7 0h1.7m-29.75 1.48h1.7m8.5 0h1.7m13.6 0h1.7m-.85 1.48h1.7m-.85 1.48h3.4m-4.25 1.48h1.7m11.9 0h1.7m-41.65 1.48h1.7m1.7 0h1.7m20.4 0h3.4m8.5 0h5.1m-48.45 1.48h1.7m1.7 0h3.4m25.5 0h3.4m10.2 0h1.7m-55.25 1.48h1.7m42.5 0h3.4m1.7 0h1.7m-41.65 1.48h1.7m8.5 0h1.7m20.4 0h3.4m-34.85 1.48h3.4m3.4 0h1.7m3.4 0h1.7m20.4 0h1.7m-31.45 1.48h1.7m5.1 0h1.7m17 0h1.7m1.7 0h1.7m1.7 0h1.7m-50.15 1.48h3.4m6.8 0h1.7m30.6 0h3.4m1.7 0h1.7m-73.95 1.48h1.7m23.8 0h1.7m5.1 0h1.7m11.9 0h1.7m20.4 0h3.4m5.1 0h1.7m-48.45 1.48h1.7m10.2 0h3.4m3.4 0h1.7m11.9 0h1.7m5.1 0h1.7m5.1 0h3.4m-79.05 1.48h3.4m35.7 0h1.7m6.8 0h1.7m18.7 0h1.7m-68.85 1.48h1.7m1.7 0h3.4m35.7 0h5.1m11.9 0h3.4m10.2 0h1.7m-75.65 1.48h1.7m1.7 0h1.7m1.7 0h1.7m30.6 0h8.5m1.7 0h3.4m1.7 0h1.7m18.7 0h1.7m-75.65 1.48h1.7m1.7 0h3.4m3.4 0h1.7m27.2 0h5.1m1.7 0h1.7m-48.45 1.48h5.1m1.7 0h8.5m27.2 0h1.7m15.3 0h1.7m-58.65 1.48h3.4m5.1 0h1.7m25.5 0h1.7m3.4 0h1.7m17 0h1.7m13.6 0h1.7m-79.05 1.48h1.7m3.4 0h1.7m1.7 0h3.4m28.9 0h1.7m1.7 0h1.7m11.9 0h1.7m-58.65 1.48h1.7m1.7 0h1.7m35.7 0h5.1m6.8 0h1.7m20.4 0h5.1m-75.65 1.48h1.7m1.7 0h1.7m34 0h1.7m30.6 0h1.7m1.7 0h1.7m-68.85 1.48h1.7m30.6 0h1.7m27.2 0h1.7m1.7 0h1.7m-70.55 1.48h1.7m30.6 0h1.7m1.7 0h1.7m32.3 0h5.1m3.4 0h1.7m-50.15 1.48h3.4m1.7 0h1.7m30.6 0h5.1m1.7 0h1.7m3.4 0h1.7m-75.65 1.48h1.7m27.2 0h1.7m11.9 0h1.7m20.4 0h1.7m1.7 0h5.1m-46.75 1.48h1.7m35.7 0h1.7m3.4 0h5.1m-77.35 1.48h1.7m3.4 0h1.7m61.2 0h3.4m5.1 0h1.7m-12.75 1.48h1.7m1.7 0h1.7m1.7 0h3.4m-46.75 1.48h1.7m35.7 0h1.7m1.7 0h6.8m-48.45 1.48h1.7m34 0h1.7m1.7 0h3.4m1.7 0h3.4m-9.35 1.48h13.6m-43.35 1.48h1.7m6.8 0h1.7m15.3 0h1.7m6.8 0h6.8m-41.65 1.48h1.7m30.6 0h1.7m-.85 1.48h3.4m1.7 0h3.4m-9.35 1.48h3.4m1.7 0h1.7m-24.65 1.48h1.7m18.7 0h1.7m-43.35 4.44h1.7" stroke="#EE9C5C" stroke-width="1.53" fill="none"/>
<path d="M115.2 318.4h5.1m-2.55 1.48h1.7m3.4 0h3.4m1.7 0h3.4m-7.65 1.48h3.4m6.8 0h1.7m2.55 1.48h1.7m-4.25 1.48h1.7m1.7 0h1.7m38.25 1.48h1.7m-.85 4.44h1.7m0 5.92h1.7m4.25 1.48h5.1m-11.05 1.48h1.7m3.4 0h1.7m1.7 0h1.7m-7.65 1.48h5.1m-9.35 1.48h3.4m1.7 0h1.7m-5.95 1.48h1.7m1.7 0h1.7m-7.65 1.48h1.7m3.4 0h1.7m-9.35 1.48h1.7m1.7 0h1.7m5.1 0h3.4m-12.75 1.48h1.7m1.7 0h1.7m1.7 0h1.7m1.7 0h1.7m-14.45 1.48h5.1m3.4 0h3.4m1.7 0h1.7m-28.05 1.48h3.4m13.6 0h3.4m1.7 0h3.4m1.7 0h1.7m-75.65 1.48h1.7m1.7 0h1.7m45.9 0h1.7m3.4 0h13.6m-68.85 1.48h1.7m40.8 0h1.7m1.7 0h3.4m1.7 0h3.4m1.7 0h3.4m3.4 0h5.1m-26.35 1.48h1.7m3.4 0h1.7m1.7 0h1.7m1.7 0h3.4m1.7 0h5.1m3.4 0h1.7m3.4 0h1.7m-75.65 1.48h1.7m42.5 0h3.4m3.4 0h3.4m1.7 0h3.4m3.4 0h1.7m3.4 0h3.4m3.4 0h1.7m-31.45 1.48h1.7m6.8 0h3.4m1.7 0h10.2m1.7 0h3.4m1.7 0h1.7m-29.75 1.48h1.7m5.1 0h6.8m10.2 0h3.4m-75.65 1.48h5.1m5.1 0h5.1m30.6 0h5.1m3.4 0h3.4m1.7 0h3.4m5.1 0h3.4m-70.55 1.48h1.7m3.4 0h1.7m3.4 0h1.7m1.7 0h3.4m30.6 0h3.4m1.7 0h1.7m1.7 0h1.7m10.2 0h3.4m3.4 0h1.7m-70.55 1.48h1.7m8.5 0h1.7m27.2 0h1.7m1.7 0h1.7m1.7 0h3.4m8.5 0h1.7m-63.75 1.48h1.7m8.5 0h1.7m30.6 0h1.7m1.7 0h3.4m18.7 0h3.4m-73.95 1.48h6.8m3.4 0h1.7m5.1 0h1.7m27.2 0h1.7m11.9 0h1.7m6.8 0h1.7m5.1 0h3.4m1.7 0h1.7m-80.75 1.48h1.7m3.4 0h8.5m27.2 0h5.1m1.7 0h1.7m1.7 0h6.8m8.5 0h1.7m3.4 0h1.7m-73.95 1.48h10.2m1.7 0h3.4m25.5 0h1.7m5.1 0h6.8m-14.45 1.48h3.4m5.1 0h3.4m3.4 0h1.7m15.3 0h3.4m1.7 0h1.7m1.7 0h1.7m-41.65 1.48h1.7m1.7 0h1.7m1.7 0h1.7m1.7 0h5.1m1.7 0h3.4m1.7 0h5.1m1.7 0h1.7m1.7 0h3.4m1.7 0h1.7m-36.55 1.48h5.1m3.4 0h1.7m3.4 0h1.7m1.7 0h1.7m5.1 0h1.7m3.4 0h1.7m13.6 0h1.7m-38.25 1.48h1.7m3.4 0h5.1m1.7 0h1.7m3.4 0h1.7m5.1 0h1.7m-38.25 1.48h3.4m3.4 0h1.7m1.7 0h3.4m1.7 0h1.7m3.4 0h3.4m3.4 0h1.7m8.5 0h5.1m-43.35 1.48h3.4m1.7 0h3.4m1.7 0h1.7m1.7 0h1.7m3.4 0h1.7m3.4 0h1.7m5.1 0h1.7m5.1 0h3.4m-38.25 1.48h3.4m3.4 0h3.4m1.7 0h1.7m1.7 0h5.1m15.3 0h3.4m-41.65 1.48h6.8m1.7 0h1.7m8.5 0h1.7m5.1 0h1.7m6.8 0h1.7m1.7 0h3.4m3.4 0h1.7m-46.75 1.48h3.4m1.7 0h6.8m1.7 0h1.7m11.9 0h3.4m6.8 0h3.4m1.7 0h1.7m1.7 0h1.7m-46.75 1.48h3.4m3.4 0h3.4m27.2 0h3.4m-39.95 1.48h6.8m-4.25 1.48h1.7" stroke="#E06444" stroke-width="1.53" fill="none"/>
<path d="M134.8 322.9h1.7m42.5 5.92h1.7m0 2.96h1.7m-5.1 14.79h1.7m5.1 0h1.7m-7.65 1.48h1.7m5.1 0h1.7m-7.65 1.48h1.7m5.1 0h1.7m-11.05 1.48h1.7m3.4 0h1.7m.85 1.48h3.4m-22.95 1.48h1.7m3.4 0h1.7m3.4 0h3.4m5.1 0h5.1m-29.75 1.48h3.4m1.7 0h1.7m1.7 0h1.7m10.2 0h3.4m1.7 0h3.4m-26.35 1.48h1.7m5.1 0h1.7m3.4 0h1.7m3.4 0h3.4m5.1 0h1.7m-28.05 1.48h6.8m15.3 0h1.7m3.4 0h1.7m-29.75 1.48h1.7m1.7 0h3.4m8.5 0h10.2m-65.45 1.48h1.7m44.2 0h1.7m8.5 0h5.1m6.8 0h1.7m-73.95 1.48h3.4m1.7 0h3.4m35.7 0h1.7m3.4 0h1.7m5.1 0h10.2m-68.85 1.48h6.8m3.4 0h6.8m30.6 0h1.7m1.7 0h1.7m3.4 0h8.5m1.7 0h11.9m-77.35 1.48h1.7m1.7 0h8.5m1.7 0h3.4m28.9 0h1.7m3.4 0h8.5m1.7 0h3.4m1.7 0h3.4m3.4 0h1.7m-68.85 1.48h1.7m3.4 0h1.7m30.6 0h1.7m1.7 0h8.5m1.7 0h1.7m1.7 0h6.8m1.7 0h1.7m-68.85 1.48h3.4m8.5 0h3.4m28.9 0h1.7m1.7 0h1.7m6.8 0h8.5m1.7 0h1.7m3.4 0h3.4m-31.45 1.48h1.7m6.8 0h10.2m1.7 0h11.9m-34.85 1.48h5.1m3.4 0h3.4m1.7 0h5.1m1.7 0h1.7m1.7 0h1.7m1.7 0h1.7m-29.75 1.48h1.7m1.7 0h1.7m8.5 0h1.7m10.2 0h1.7m1.7 0h1.7m-33.15 1.48h3.4m5.1 0h3.4m1.7 0h3.4m5.1 0h5.1m1.7 0h3.4m3.4 0h1.7m3.4 0h1.7m-43.35 1.48h6.8m1.7 0h3.4m1.7 0h3.4m5.1 0h1.7m3.4 0h1.7m1.7 0h5.1m-33.15 1.48h1.7m8.5 0h1.7m3.4 0h1.7m3.4 0h3.4m3.4 0h3.4m1.7 0h1.7m-34.85 1.48h1.7m6.8 0h1.7m1.7 0h3.4m3.4 0h1.7m1.7 0h1.7m5.1 0h3.4m6.8 0h1.7m-43.35 1.48h1.7m3.4 0h3.4m3.4 0h1.7m1.7 0h1.7m5.1 0h8.5m1.7 0h1.7m1.7 0h1.7m-31.45 1.48h1.7m1.7 0h8.5m1.7 0h5.1m1.7 0h6.8m1.7 0h1.7m-34.85 1.48h1.7m6.8 0h1.7m3.4 0h1.7m1.7 0h3.4m1.7 0h1.7m3.4 0h3.4m6.8 0h1.7m-38.25 1.48h3.4m28.9 0h1.7" stroke="#C43A4C" stroke-width="1.53" fill="none"/>
<path d="M162.8 356.9h1.7m20.4 0h1.7m-22.95 4.44h1.7m18.7 0h3.4m-19.55 1.48h1.7m15.3 0h1.7m-13.6 2.96h1.7m3.4 0h1.7m-58.65 1.48h1.7m5.1 0h1.7m54.4 0h3.4m-4.25 1.48h1.7m-29.75 1.48h3.4m18.7 0h1.7m-4.25 1.48h1.7m1.7 0h1.7m1.7 0h1.7m-21.25 1.48h1.7m10.2 0h1.7m-4.25 1.48h1.7m-14.45 1.48h1.7m17 0h1.7m-22.95 1.48h1.7m22.1 0h1.7m-11.05 1.48h1.7m5.1 0h3.4m5.1 0h1.7m-5.95 1.48h1.7m1.7 0h1.7m-22.1 2.96h1.7m1.7 0h1.7m13.6 0h3.4" stroke="#94144A" stroke-width="1.53" fill="none"/>
<path d="M202.9,334.0C206.2,339.0 207.2,349.0 207.2,357.0C207.2,366.0 206.4,373.0 203.2,378.5L202.2,377.0L202.9,334.0z" fill="#B089C6"/>
<rect x="214.6" y="303.0" width="97.4" height="97.4" fill="#BFC0BF"/>
<path d="M217.6 308.1h15.3m1.7 0h8.5m1.7 0h6.8m-33.15 1.48h18.7m1.7 0h5.1m1.7 0h10.2m-38.25 1.48h5.1m1.7 0h13.6m1.7 0h10.2m1.7 0h1.7m1.7 0h3.4m1.7 0h1.7m-43.35 1.48h11.9m1.7 0h8.5m3.4 0h20.4m-46.75 1.48h1.7m1.7 0h3.4m1.7 0h5.1m1.7 0h25.5m1.7 0h5.1m-46.75 1.48h35.7m1.7 0h8.5m-46.75 1.48h8.5m3.4 0h1.7m1.7 0h5.1m1.7 0h3.4m1.7 0h5.1m1.7 0h3.4m1.7 0h6.8m15.3 0h3.4m-63.75 1.48h8.5m1.7 0h3.4m1.7 0h18.7m3.4 0h5.1m1.7 0h5.1m5.1 0h1.7m3.4 0h1.7m1.7 0h1.7m-65.45 1.48h1.7m1.7 0h1.7m1.7 0h10.2m1.7 0h11.9m3.4 0h1.7m3.4 0h8.5m3.4 0h3.4m5.1 0h3.4m-62.05 1.48h1.7m1.7 0h3.4m1.7 0h5.1m1.7 0h8.5m1.7 0h11.9m5.1 0h1.7m1.7 0h1.7m1.7 0h5.1m1.7 0h3.4m1.7 0h1.7m-63.75 1.48h5.1m1.7 0h3.4m1.7 0h6.8m1.7 0h8.5m1.7 0h5.1m1.7 0h1.7m1.7 0h1.7m3.4 0h3.4m1.7 0h1.7m3.4 0h1.7m5.1 0h3.4m-65.45 1.48h13.6m1.7 0h1.7m1.7 0h10.2m1.7 0h1.7m1.7 0h3.4m5.1 0h8.5m1.7 0h1.7m-55.25 1.48h10.2m1.7 0h3.4m3.4 0h6.8m1.7 0h5.1m1.7 0h5.1m1.7 0h5.1m1.7 0h1.7m15.3 0h1.7m10.2 0h1.7m-77.35 1.48h1.7m1.7 0h5.1m1.7 0h6.8m1.7 0h8.5m1.7 0h3.4m6.8 0h1.7m1.7 0h1.7m1.7 0h3.4m17 0h1.7m-68.85 1.48h10.2m1.7 0h6.8m1.7 0h1.7m1.7 0h20.4m3.4 0h3.4m3.4 0h1.7m1.7 0h1.7m-58.65 1.48h5.1m1.7 0h8.5m3.4 0h13.6m8.5 0h1.7m3.4 0h1.7m5.1 0h1.7m-55.25 1.48h3.4m1.7 0h1.7m1.7 0h3.4m3.4 0h5.1m1.7 0h5.1m1.7 0h6.8m1.7 0h1.7m10.2 0h1.7m1.7 0h3.4m30.6 0h1.7m-87.55 1.48h3.4m1.7 0h1.7m1.7 0h1.7m1.7 0h3.4m3.4 0h6.8m1.7 0h1.7m3.4 0h1.7m1.7 0h1.7m1.7 0h6.8m5.1 0h1.7m13.6 0h1.7m-68.85 1.48h5.1m1.7 0h3.4m1.7 0h5.1m1.7 0h3.4m5.1 0h6.8m3.4 0h1.7m1.7 0h1.7m6.8 0h1.7m-50.15 1.48h1.7m1.7 0h6.8m5.1 0h1.7m1.7 0h1.7m1.7 0h1.7m1.7 0h1.7m3.4 0h3.4m1.7 0h1.7m3.4 0h1.7m5.1 0h1.7m17 0h1.7m-68.85 1.48h5.1m3.4 0h10.2m3.4 0h3.4m3.4 0h1.7m3.4 0h3.4m1.7 0h1.7m20.4 0h1.7m11.9 0h1.7m5.1 0h1.7m-82.45 1.48h5.1m1.7 0h5.1m1.7 0h5.1m3.4 0h1.7m3.4 0h3.4m17 0h1.7m13.6 0h1.7m20.4 0h1.7m-87.55 1.48h6.8m1.7 0h3.4m1.7 0h1.7m1.7 0h3.4m1.7 0h1.7m8.5 0h1.7m5.1 0h1.7m13.6 0h5.1m3.4 0h1.7m-63.75 1.48h13.6m5.1 0h3.4m3.4 0h1.7m18.7 0h1.7m1.7 0h1.7m-51.85 1.48h10.2m5.1 0h1.7m10.2 0h1.7m23.8 0h1.7m17 0h1.7m-72.25 1.48h3.4m1.7 0h1.7m1.7 0h8.5m5.1 0h1.7m5.1 0h1.7m51 0h1.7m5.1 0h1.7m-89.25 1.48h10.2m1.7 0h6.8m18.7 0h3.4m3.4 0h1.7m6.8 0h1.7m13.6 0h1.7m13.6 0h3.4m-87.55 1.48h5.1m6.8 0h1.7m6.8 0h1.7m5.1 0h1.7m1.7 0h3.4m3.4 0h1.7m27.2 0h1.7m1.7 0h3.4m11.9 0h1.7m-87.55 1.48h6.8m6.8 0h1.7m3.4 0h1.7m3.4 0h1.7m1.7 0h1.7m1.7 0h1.7m8.5 0h1.7m6.8 0h1.7m5.1 0h1.7m3.4 0h1.7m13.6 0h1.7m3.4 0h1.7m-82.45 1.48h11.9m3.4 0h3.4m1.7 0h1.7m15.3 0h1.7m5.1 0h5.1m5.1 0h1.7m3.4 0h1.7m5.1 0h1.7m6.8 0h1.7m10.2 0h1.7m-89.25 1.48h8.5m1.7 0h1.7m1.7 0h1.7m1.7 0h1.7m5.1 0h1.7m1.7 0h3.4m5.1 0h1.7m3.4 0h3.4m1.7 0h1.7m1.7 0h1.7m1.7 0h3.4m6.8 0h3.4m1.7 0h6.8m11.9 0h1.7m-87.55 1.48h11.9m3.4 0h1.7m13.6 0h1.7m11.9 0h5.1m6.8 0h1.7m6.8 0h1.7m3.4 0h1.7m3.4 0h1.7m1.7 0h3.4m3.4 0h1.7m1.7 0h1.7m-90.95 1.48h3.4m3.4 0h1.7m1.7 0h1.7m1.7 0h3.4m10.2 0h1.7m5.1 0h1.7m1.7 0h1.7m3.4 0h3.4m1.7 0h3.4m1.7 0h8.5m1.7 0h5.1m1.7 0h5.1m3.4 0h10.2m-85.85 1.48h8.5m5.1 0h1.7m1.7 0h5.1m1.7 0h1.7m8.5 0h1.7m3.4 0h1.7m1.7 0h1.7m1.7 0h1.7m1.7 0h1.7m3.4 0h1.7m1.7 0h3.4m1.7 0h1.7m3.4 0h1.7m6.8 0h1.7m3.4 0h1.7m3.4 0h1.7m-90.95 1.48h1.7m1.7 0h6.8m5.1 0h3.4m13.6 0h1.7m6.8 0h1.7m10.2 0h1.7m3.4 0h1.7m1.7 0h6.8m1.7 0h1.7m3.4 0h3.4m1.7 0h1.7m1.7 0h3.4m3.4 0h1.7m-90.95 1.48h1.7m5.1 0h3.4m1.7 0h1.7m11.9 0h1.7m1.7 0h1.7m1.7 0h5.1m3.4 0h3.4m1.7 0h1.7m8.5 0h17m3.4 0h1.7m3.4 0h3.4m-85.85 1.48h3.4m1.7 0h3.4m1.7 0h1.7m1.7 0h5.1m5.1 0h3.4m1.7 0h1.7m17 0h1.7m6.8 0h1.7m3.4 0h1.7m1.7 0h1.7m3.4 0h3.4m6.8 0h5.1m-82.45 1.48h1.7m1.7 0h1.7m1.7 0h15.3m11.9 0h1.7m6.8 0h1.7m13.6 0h6.8m3.4 0h5.1m5.1 0h1.7m5.1 0h1.7m-85.85 1.48h1.7m3.4 0h3.4m1.7 0h5.1m10.2 0h3.4m1.7 0h1.7m5.1 0h1.7m1.7 0h1.7m1.7 0h1.7m1.7 0h5.1m1.7 0h5.1m1.7 0h1.7m3.4 0h3.4m1.7 0h1.7m6.8 0h6.8m-89.25 1.48h5.1m1.7 0h1.7m3.4 0h1.7m1.7 0h3.4m3.4 0h1.7m11.9 0h1.7m1.7 0h1.7m3.4 0h11.9m5.1 0h5.1m1.7 0h1.7m1.7 0h5.1m1.7 0h5.1m1.7 0h1.7m1.7 0h1.7m-90.95 1.48h10.2m1.7 0h1.7m1.7 0h3.4m3.4 0h3.4m3.4 0h3.4m3.4 0h3.4m1.7 0h1.7m1.7 0h1.7m1.7 0h1.7m1.7 0h3.4m6.8 0h1.7m3.4 0h1.7m3.4 0h1.7m1.7 0h3.4m1.7 0h6.8m-85.85 1.48h1.7m1.7 0h1.7m3.4 0h6.8m1.7 0h8.5m3.4 0h1.7m3.4 0h6.8m3.4 0h5.1m3.4 0h1.7m1.7 0h1.7m1.7 0h3.4m1.7 0h1.7m3.4 0h3.4m1.7 0h3.4m3.4 0h3.4m3.4 0h1.7m-90.95 1.48h1.7m1.7 0h1.7m3.4 0h1.7m18.7 0h3.4m1.7 0h1.7m5.1 0h3.4m1.7 0h5.1m1.7 0h22.1m1.7 0h3.4m1.7 0h6.8m-87.55 1.48h3.4m6.8 0h1.7m3.4 0h3.4m3.4 0h3.4m1.7 0h1.7m3.4 0h5.1m3.4 0h1.7m3.4 0h5.1m1.7 0h1.7m1.7 0h11.9m1.7 0h6.8m1.7 0h5.1m1.7 0h5.1m-90.95 1.48h3.4m1.7 0h3.4m1.7 0h1.7m8.5 0h5.1m3.4 0h3.4m5.1 0h10.2m3.4 0h6.8m5.1 0h5.1m1.7 0h5.1m3.4 0h8.5m-82.45 1.48h1.7m1.7 0h1.7m3.4 0h8.5m3.4 0h1.7m1.7 0h1.7m1.7 0h8.5m3.4 0h6.8m1.7 0h8.5m1.7 0h5.1m1.7 0h3.4m1.7 0h1.7m1.7 0h1.7m3.4 0h5.1m-77.35 1.48h8.5m3.4 0h3.4m1.7 0h6.8m3.4 0h1.7m1.7 0h8.5m1.7 0h1.7m3.4 0h5.1m1.7 0h1.7m1.7 0h1.7m1.7 0h18.7m-87.55 1.48h3.4m1.7 0h3.4m3.4 0h3.4m1.7 0h1.7m6.8 0h1.7m1.7 0h3.4m3.4 0h3.4m3.4 0h1.7m5.1 0h6.8m5.1 0h1.7m3.4 0h8.5m1.7 0h11.9m-89.25 1.48h1.7m3.4 0h1.7m1.7 0h8.5m1.7 0h1.7m1.7 0h3.4m1.7 0h8.5m1.7 0h6.8m1.7 0h8.5m1.7 0h11.9m1.7 0h5.1m1.7 0h3.4m1.7 0h1.7m-82.45 1.48h1.7m3.4 0h1.7m1.7 0h1.7m6.8 0h1.7m3.4 0h6.8m5.1 0h8.5m1.7 0h3.4m1.7 0h8.5m1.7 0h11.9m5.1 0h10.2m-87.55 1.48h1.7m13.6 0h5.1m1.7 0h1.7m5.1 0h1.7m1.7 0h5.1m1.7 0h25.5m1.7 0h5.1m1.7 0h1.7m1.7 0h1.7m3.4 0h5.1m-85.85 1.48h1.7m5.1 0h1.7m1.7 0h1.7m1.7 0h1.7m1.7 0h1.7m3.4 0h3.4m1.7 0h1.7m5.1 0h1.7m1.7 0h1.7m5.1 0h20.4m1.7 0h1.7m1.7 0h1.7m1.7 0h8.5m-80.75 1.48h3.4m6.8 0h1.7m8.5 0h1.7m3.4 0h1.7m3.4 0h3.4m1.7 0h3.4m1.7 0h5.1m25.5 0h5.1m-73.95 1.48h1.7m8.5 0h3.4m1.7 0h5.1m1.7 0h1.7m3.4 0h1.7m1.7 0h10.2m-41.65 1.48h6.8m3.4 0h3.4m3.4 0h1.7m5.1 0h1.7m1.7 0h3.4m3.4 0h3.4m-36.55 1.48h3.4m6.8 0h1.7m1.7 0h1.7m1.7 0h1.7m1.7 0h1.7m1.7 0h3.4m3.4 0h3.4m-31.45 1.48h1.7m3.4 0h6.8m1.7 0h1.7m1.7 0h1.7m1.7 0h5.1m-28.05 1.48h1.7m3.4 0h1.7m6.8 0h1.7m1.7 0h1.7m-14.45 1.48h1.7m3.4 0h1.7m1.7 0h1.7m3.4 0h1.7m-17.85 1.48h1.7m3.4 0h1.7" stroke="#4E3F96" stroke-width="1.53" fill="none"/>
<path d="M240.5 312.5h3.4m-24.65 1.48h1.7m5.1 2.96h1.7m3.4 0h1.7m5.1 0h1.7m-7.65 1.48h1.7m40.8 0h1.7m-53.55 1.48h1.7m10.2 0h1.7m13.6 0h1.7m1.7 0h3.4m2.55 1.48h1.7m-38.25 1.48h1.7m11.9 0h1.7m34 0h1.7m-41.65 1.48h1.7m1.7 0h1.7m10.2 0h1.7m-21.25 1.48h1.7m5.1 0h1.7m6.8 0h1.7m-24.65 1.48h1.7m28.9 0h3.4m-26.35 1.48h1.7m10.2 0h1.7m-17.85 1.48h1.7m8.5 0h1.7m25.5 0h1.7m-41.65 1.48h1.7m11.05 1.48h1.7m-6.8 2.96h1.7m65.45 1.48h1.7m-73.1 2.96h1.7m-.85 4.44h1.7m-9.35 1.48h1.7m4.25 1.48h1.7m32.3 0h1.7m-33.15 1.48h1.7m1.7 8.87h1.7m64.6 2.96h1.7m-28.05 1.48h1.7m-26.35 1.48h1.7m51 0h1.7m-24.65 1.48h1.7m11.05 1.48h1.7m-16.15 1.48h1.7m11.9 0h1.7m-33.15 1.48h1.7m-9.35 1.48h1.7m26.35 1.48h1.7m1.7 0h1.7m5.1 0h1.7m-46.75 1.48h1.7m42.5 0h1.7m18.7 0h1.7m-68.85 1.48h1.7m39.1 0h1.7m25.5 0h1.7m-67.15 1.48h1.7m15.3 0h1.7m5.1 0h1.7m11.9 0h1.7m3.4 0h1.7m-12.75 1.48h1.7m17.85 1.48h3.4m-70.55 1.48h1.7m22.1 0h1.7m39.1 0h1.7m1.7 0h1.7m-55.25 1.48h1.7m10.2 0h1.7m6.8 0h1.7m25.5 0h1.7m1.7 0h1.7m-33.15 4.44h1.7m-10.2 2.96h1.7" stroke="#2F74B0" stroke-width="1.53" fill="none"/>
<path d="M232.9 308.1h1.7m8.5 0h1.7m-7.65 1.48h1.7m17 0h1.7m-34.85 1.48h1.7m13.6 0h1.7m10.2 0h1.7m6.8 0h1.7m-29.75 1.48h1.7m26.35 1.48h1.7m-5.95 1.48h1.7m-28.05 1.48h1.7m13.6 0h1.7m20.4 0h1.7m-39.95 1.48h1.7m-9.35 1.48h1.7m27.2 0h1.7m-24.65 1.48h1.7m5.1 0h1.7m22.1 0h1.7m8.5 0h1.7m-39.95 1.48h1.7m17 0h1.7m8.5 0h1.7m-7.65 1.48h1.7m5.1 0h3.4m-11.05 1.48h1.7m5.1 0h1.7m-22.95 1.48h1.7m17 0h3.4m1.7 0h1.7m-25.5 2.96h1.7m13.6 0h1.7m1.7 0h1.7m-24.65 1.48h1.7m5.1 0h1.7m5.1 0h1.7m6.8 0h1.7m3.4 0h1.7m-38.25 1.48h1.7m1.7 0h1.7m1.7 0h1.7m5.1 0h1.7m-14.45 1.48h1.7m3.4 0h1.7m5.1 0h1.7m3.4 0h3.4m10.2 0h1.7m1.7 0h1.7m-16.15 1.48h1.7m8.5 0h1.7m-29.75 1.48h1.7m10.2 0h1.7m10.2 0h1.7m-26.35 1.48h1.7m5.1 0h1.7m5.1 0h1.7m-9.35 1.48h1.7m1.7 0h1.7m-6.8 2.96h1.7m1.7 0h1.7m-11.05 1.48h1.7m15.3 0h1.7m-15.3 2.96h3.4m-4.25 1.48h1.7m72.25 1.48h1.7m-68 2.96h1.7m66.3 0h1.7m-80.75 1.48h3.4m1.7 0h1.7m1.7 0h1.7m-12.75 1.48h1.7m8.5 0h1.7m-11.05 1.48h1.7m40.8 0h1.7m-43.35 1.48h3.4m8.5 0h1.7m22.1 0h1.7m8.5 0h1.7m-46.75 1.48h1.7m3.4 0h1.7m23.8 0h1.7m39.1 0h3.4m-77.35 1.48h1.7m1.7 0h1.7m1.7 0h1.7m28.9 0h3.4m1.7 0h1.7m1.7 0h3.4m5.1 0h3.4m10.2 0h1.7m8.5 0h1.7m3.4 0h1.7m-85.85 1.48h3.4m3.4 0h1.7m3.4 0h1.7m8.5 0h1.7m13.6 0h3.4m1.7 0h1.7m1.7 0h1.7m1.7 0h1.7m5.1 0h1.7m8.5 0h1.7m5.1 0h1.7m3.4 0h1.7m1.7 0h1.7m-73.95 1.48h3.4m20.4 0h3.4m1.7 0h1.7m1.7 0h3.4m13.6 0h1.7m6.8 0h1.7m1.7 0h1.7m11.9 0h1.7m1.7 0h1.7m-79.05 1.48h1.7m15.3 0h1.7m3.4 0h1.7m8.5 0h1.7m5.1 0h1.7m3.4 0h5.1m5.1 0h1.7m11.9 0h1.7m-72.25 1.48h1.7m6.8 0h1.7m8.5 0h1.7m3.4 0h3.4m8.5 0h1.7m6.8 0h1.7m5.1 0h1.7m3.4 0h1.7m1.7 0h1.7m11.9 0h1.7m3.4 0h3.4m-84.15 1.48h1.7m3.4 0h1.7m1.7 0h1.7m6.8 0h1.7m3.4 0h1.7m3.4 0h1.7m1.7 0h1.7m1.7 0h1.7m3.4 0h1.7m5.1 0h1.7m22.1 0h1.7m-70.55 1.48h1.7m6.8 0h1.7m22.1 0h3.4m3.4 0h1.7m8.5 0h1.7m-48.45 1.48h1.7m5.1 0h1.7m1.7 0h1.7m5.1 0h1.7m5.1 0h5.1m10.2 0h1.7m10.2 0h1.7m13.6 0h3.4m10.2 0h1.7m-84.15 1.48h1.7m22.1 0h1.7m8.5 0h3.4m28.9 0h1.7m1.7 0h1.7m3.4 0h1.7m-82.45 1.48h3.4m15.3 0h1.7m5.1 0h1.7m6.8 0h3.4m1.7 0h1.7m11.9 0h3.4m8.5 0h1.7m1.7 0h1.7m-60.35 1.48h1.7m13.6 0h1.7m1.7 0h1.7m3.4 0h3.4m5.1 0h1.7m1.7 0h1.7m1.7 0h1.7m8.5 0h1.7m15.3 0h1.7m-73.95 1.48h1.7m11.9 0h1.7m17 0h1.7m6.8 0h1.7m37.4 0h1.7m-68.85 1.48h1.7m11.9 0h5.1m8.5 0h1.7m3.4 0h1.7m8.5 0h1.7m-50.15 1.48h1.7m1.7 0h1.7m10.2 0h3.4m8.5 0h1.7m25.5 0h1.7m11.9 0h1.7m-48.45 1.48h1.7m10.2 0h1.7m20.4 0h1.7m-51.85 1.48h6.8m8.5 0h1.7m8.5 0h1.7m-24.65 1.48h1.7m10.2 0h1.7m1.7 0h1.7m-24.65 1.48h3.4m10.2 0h1.7m10.2 0h1.7m-21.25 1.48h1.7m8.5 0h1.7m3.4 0h3.4m-33.15 1.48h1.7m12.75 1.48h1.7m1.7 0h1.7m1.7 0h5.1m-9.35 1.48h3.4m-14.45 1.48h1.7m3.4 0h3.4" stroke="#4FA89E" stroke-width="1.53" fill="none"/>
<path d="M243.9 309.6h1.7m-21.25 4.44h1.7m5.1 0h1.7m31.45 1.48h1.7m-16.15 1.48h1.7m3.4 0h1.7m6.8 0h1.7m-12.75 1.48h1.7m6.8 0h1.7m-42.5 2.96h1.7m20.4 0h1.7m13.6 0h1.7m3.4 0h1.7m-11.05 1.48h1.7m5.1 0h3.4m3.4 0h1.7m-12.75 1.48h1.7m-24.65 1.48h1.7m28.9 0h1.7m-38.25 1.48h1.7m17 0h1.7m15.3 0h1.7m3.4 0h1.7m-33.15 1.48h1.7m23.8 0h3.4m-7.65 1.48h1.7m6.8 0h1.7m-43.35 1.48h1.7m3.4 0h1.7m25.5 0h1.7m3.4 0h1.7m-19.55 1.48h1.7m1.7 0h3.4m1.7 0h1.7m1.7 0h1.7m8.5 0h1.7m-24.65 1.48h1.7m6.8 0h1.7m6.8 0h3.4m8.5 0h1.7m-53.55 1.48h1.7m8.5 0h3.4m1.7 0h1.7m1.7 0h1.7m5.1 0h3.4m6.8 0h3.4m1.7 0h1.7m1.7 0h1.7m-28.05 1.48h1.7m3.4 0h3.4m3.4 0h1.7m6.8 0h3.4m1.7 0h3.4m1.7 0h1.7m1.7 0h1.7m-29.75 1.48h1.7m6.8 0h3.4m1.7 0h1.7m-21.25 1.48h1.7m5.1 0h1.7m1.7 0h1.7m1.7 0h5.1m-22.95 1.48h3.4m3.4 0h1.7m-12.75 1.48h1.7m5.1 0h3.4m3.4 0h1.7m1.7 0h1.7m3.4 0h1.7m1.7 0h3.4m5.1 0h1.7m-29.75 1.48h3.4m5.1 0h1.7m5.1 0h1.7m1.7 0h1.7m3.4 0h1.7m-31.45 1.48h1.7m6.8 0h1.7m-11.05 1.48h1.7m1.7 0h1.7m-5.95 1.48h1.7m3.4 0h3.4m1.7 0h3.4m11.9 0h3.4m-26.35 1.48h3.4m20.4 0h1.7m-22.95 1.48h1.7m15.3 0h1.7m5.1 0h1.7m6.8 0h1.7m-36.55 1.48h1.7m5.1 0h1.7m11.9 0h1.7m6.8 0h1.7m11.9 0h1.7m11.9 0h1.7m-51.85 1.48h1.7m8.5 0h1.7m1.7 0h1.7m34 0h1.7m-56.95 1.48h3.4m8.5 0h1.7m20.4 0h1.7m1.7 0h1.7m3.4 0h1.7m17 0h1.7m11.9 0h1.7m-53.55 1.48h3.4m3.4 0h1.7m3.4 0h5.1m3.4 0h1.7m13.6 0h1.7m-67.15 1.48h1.7m3.4 0h1.7m3.4 0h3.4m5.1 0h1.7m25.5 0h1.7m1.7 0h1.7m17 0h1.7m3.4 0h3.4m5.1 0h1.7m-70.55 1.48h1.7m15.3 0h1.7m3.4 0h6.8m1.7 0h6.8m1.7 0h3.4m1.7 0h1.7m1.7 0h3.4m15.3 0h5.1m-63.75 1.48h6.8m1.7 0h1.7m5.1 0h1.7m6.8 0h1.7m1.7 0h1.7m11.9 0h1.7m6.8 0h3.4m3.4 0h1.7m5.1 0h1.7m-85.85 1.48h1.7m11.9 0h1.7m3.4 0h1.7m10.2 0h1.7m25.5 0h1.7m3.4 0h1.7m6.8 0h1.7m-72.25 1.48h1.7m6.8 0h1.7m3.4 0h3.4m1.7 0h8.5m27.2 0h1.7m15.3 0h1.7m-65.45 1.48h1.7m3.4 0h1.7m13.6 0h1.7m10.2 0h1.7m11.9 0h1.7m1.7 0h1.7m3.4 0h1.7m3.4 0h1.7m11.9 0h3.4m-87.55 1.48h1.7m1.7 0h1.7m20.4 0h1.7m11.9 0h1.7m30.6 0h1.7m3.4 0h1.7m-79.05 1.48h1.7m3.4 0h1.7m6.8 0h6.8m1.7 0h1.7m54.4 0h1.7m6.8 0h1.7m-85.85 1.48h1.7m1.7 0h3.4m1.7 0h1.7m6.8 0h1.7m3.4 0h1.7m3.4 0h1.7m10.2 0h1.7m6.8 0h1.7m15.3 0h1.7m6.8 0h1.7m5.1 0h1.7m-82.45 1.48h1.7m6.8 0h3.4m1.7 0h1.7m8.5 0h1.7m20.4 0h1.7m35.7 0h1.7m-87.55 1.48h3.4m5.1 0h3.4m8.5 0h1.7m3.4 0h1.7m32.3 0h1.7m17 0h1.7m-77.35 1.48h6.8m39.1 0h1.7m-46.75 1.48h1.7m10.2 0h1.7m1.7 0h3.4m34 0h1.7m5.1 0h1.7m-63.75 1.48h1.7m3.4 0h1.7m11.9 0h1.7m3.4 0h1.7m52.7 0h1.7m3.4 0h3.4m-80.75 1.48h1.7m1.7 0h5.1m3.4 0h3.4m-19.55 1.48h1.7m6.8 0h1.7m6.8 0h1.7m-19.55 1.48h5.1m1.7 0h1.7m5.1 0h1.7m1.7 0h1.7m5.1 0h1.7m1.7 0h1.7m5.1 0h1.7m44.2 0h1.7m-79.05 1.48h3.4m1.7 0h1.7m1.7 0h1.7m8.5 0h3.4m8.5 0h1.7m-36.55 1.48h1.7m3.4 0h5.1m1.7 0h1.7m10.2 0h1.7m1.7 0h1.7m-12.75 1.48h3.4m5.1 0h1.7m-26.35 1.48h3.4m3.4 0h6.8m5.1 0h1.7m1.7 0h1.7m-19.55 1.48h1.7m1.7 0h3.4m6.8 0h1.7m1.7 0h1.7m1.7 0h1.7m-26.35 1.48h1.7m3.4 0h1.7m5.1 0h3.4m-14.45 1.48h3.4m1.7 0h1.7m6.8 0h1.7m-16.15 1.48h5.1m3.4 0h1.7" stroke="#98C898" stroke-width="1.53" fill="none"/>
<path d="M253.3 311.0h1.7m-.85 7.4h1.7m9.35 1.48h3.4m4.25 1.48h1.7m-4.25 1.48h1.7m-2.55 1.48h1.7m-4.25 1.48h1.7m1.7 0h1.7m5.1 0h1.7m-7.65 1.48h1.7m-4.25 1.48h3.4m-19.55 1.48h1.7m1.7 0h1.7m5.1 0h1.7m3.4 0h1.7m-9.35 1.48h1.7m3.4 0h1.7m1.7 0h1.7m-5.95 1.48h1.7m-2.55 1.48h3.4m1.7 0h3.4m5.1 0h3.4m-17.85 1.48h1.7m3.4 0h1.7m1.7 0h1.7m-50.15 1.48h1.7m30.6 0h1.7m5.1 0h1.7m6.8 0h1.7m-29.75 1.48h1.7m5.1 0h3.4m3.4 0h1.7m1.7 0h1.7m1.7 0h3.4m3.4 0h1.7m-29.75 1.48h3.4m1.7 0h1.7m10.2 0h1.7m1.7 0h3.4m3.4 0h1.7m-38.25 1.48h1.7m8.5 0h1.7m1.7 0h5.1m1.7 0h1.7m3.4 0h6.8m1.7 0h1.7m5.1 0h3.4m-41.65 1.48h1.7m3.4 0h3.4m5.1 0h3.4m1.7 0h1.7m6.8 0h1.7m3.4 0h3.4m1.7 0h1.7m-31.45 1.48h1.7m8.5 0h1.7m1.7 0h3.4m6.8 0h1.7m1.7 0h1.7m1.7 0h1.7m22.1 0h1.7m-58.65 1.48h3.4m5.1 0h1.7m1.7 0h5.1m8.5 0h3.4m1.7 0h1.7m1.7 0h1.7m17 0h1.7m-60.35 1.48h1.7m1.7 0h1.7m1.7 0h1.7m10.2 0h3.4m3.4 0h10.2m1.7 0h1.7m-43.35 1.48h1.7m25.5 0h1.7m1.7 0h6.8m1.7 0h3.4m3.4 0h1.7m3.4 0h3.4m5.1 0h3.4m3.4 0h1.7m-60.35 1.48h1.7m1.7 0h3.4m6.8 0h1.7m5.1 0h5.1m5.1 0h5.1m1.7 0h1.7m5.1 0h3.4m3.4 0h3.4m-62.05 1.48h1.7m5.1 0h3.4m15.3 0h1.7m5.1 0h1.7m11.9 0h5.1m3.4 0h1.7m8.5 0h1.7m6.8 0h1.7m-68.85 1.48h1.7m3.4 0h3.4m8.5 0h5.1m3.4 0h1.7m6.8 0h1.7m6.8 0h1.7m11.9 0h1.7m-58.65 1.48h1.7m1.7 0h3.4m1.7 0h1.7m3.4 0h1.7m3.4 0h1.7m1.7 0h3.4m3.4 0h1.7m13.6 0h1.7m11.9 0h3.4m-60.35 1.48h1.7m8.5 0h8.5m6.8 0h1.7m8.5 0h1.7m3.4 0h1.7m3.4 0h1.7m1.7 0h3.4m1.7 0h1.7m1.7 0h3.4m1.7 0h3.4m1.7 0h1.7m-77.35 1.48h1.7m1.7 0h1.7m3.4 0h1.7m1.7 0h10.2m1.7 0h1.7m3.4 0h1.7m5.1 0h1.7m6.8 0h1.7m3.4 0h1.7m6.8 0h1.7m3.4 0h1.7m3.4 0h1.7m1.7 0h1.7m3.4 0h3.4m-70.55 1.48h3.4m5.1 0h1.7m1.7 0h1.7m6.8 0h1.7m3.4 0h1.7m6.8 0h1.7m20.4 0h1.7m8.5 0h1.7m1.7 0h1.7m-79.05 1.48h1.7m6.8 0h1.7m5.1 0h1.7m1.7 0h3.4m3.4 0h3.4m32.3 0h1.7m-50.15 1.48h1.7m6.8 0h1.7m23.8 0h1.7m25.5 0h1.7m-67.15 1.48h1.7m3.4 0h1.7m5.1 0h1.7m-13.6 2.96h1.7m28.05 1.48h1.7m-39.95 1.48h1.7m5.95 1.48h1.7m28.9 2.96h1.7m-40.8 2.96h1.7m-10.2 2.96h3.4m66.3 0h1.7m-72.25 1.48h1.7m1.7 0h1.7m17 0h1.7m54.4 0h1.7m-68.85 1.48h1.7m25.5 0h1.7m-33.15 1.48h1.7m18.7 0h1.7m-28.05 1.48h1.7m6.8 0h1.7m-11.05 1.48h1.7m18.7 0h1.7m5.1 0h1.7m-28.05 4.44h1.7m3.4 0h1.7m1.7 0h1.7m-7.65 1.48h1.7m5.1 0h1.7" stroke="#D2E090" stroke-width="1.53" fill="none"/>
<path d="M279.7 318.4h1.7m1.7 0h1.7m-12.75 1.48h1.7m1.7 0h1.7m-1.7 2.96h3.4m-5.95 1.48h3.4m1.7 0h1.7m1.7 0h1.7m-14.45 1.48h1.7m5.1 0h1.7m11.9 0h1.7m8.5 0h1.7m-31.45 1.48h1.7m1.7 0h6.8m-5.95 1.48h1.7m1.7 0h3.4m11.9 0h1.7m8.5 0h1.7m-34.85 1.48h1.7m1.7 0h3.4m5.1 0h1.7m10.2 0h1.7m5.1 0h1.7m-28.05 1.48h1.7m1.7 0h10.2m3.4 0h1.7m-24.65 1.48h1.7m1.7 0h3.4m1.7 0h6.8m5.1 0h1.7m3.4 0h1.7m1.7 0h1.7m3.4 0h1.7m-29.75 1.48h1.7m5.1 0h1.7m5.1 0h1.7m1.7 0h1.7m-22.95 1.48h1.7m1.7 0h1.7m3.4 0h5.1m5.1 0h1.7m3.4 0h3.4m6.8 0h1.7m-31.45 1.48h5.1m11.9 0h1.7m8.5 0h3.4m-65.45 1.48h1.7m20.4 0h1.7m5.1 0h1.7m1.7 0h3.4m3.4 0h1.7m3.4 0h1.7m1.7 0h1.7m3.4 0h1.7m3.4 0h1.7m6.8 0h1.7m-46.75 1.48h1.7m3.4 0h1.7m3.4 0h1.7m5.1 0h3.4m1.7 0h1.7m3.4 0h3.4m5.1 0h1.7m8.5 0h1.7m-56.95 1.48h1.7m1.7 0h3.4m11.9 0h1.7m6.8 0h3.4m1.7 0h1.7m1.7 0h1.7m1.7 0h3.4m1.7 0h3.4m5.1 0h1.7m-46.75 1.48h3.4m3.4 0h1.7m8.5 0h5.1m1.7 0h1.7m1.7 0h3.4m5.1 0h3.4m8.5 0h1.7m-62.05 1.48h1.7m1.7 0h1.7m10.2 0h3.4m3.4 0h1.7m1.7 0h1.7m3.4 0h5.1m1.7 0h5.1m3.4 0h3.4m10.2 0h1.7m-56.95 1.48h1.7m8.5 0h3.4m5.1 0h1.7m5.1 0h3.4m1.7 0h3.4m1.7 0h1.7m6.8 0h3.4m-62.05 1.48h1.7m32.3 0h1.7m3.4 0h10.2m1.7 0h1.7m3.4 0h5.1m3.4 0h3.4m-53.55 1.48h3.4m23.8 0h1.7m5.1 0h1.7m1.7 0h1.7m8.5 0h1.7m1.7 0h5.1m-56.95 1.48h1.7m1.7 0h1.7m25.5 0h1.7m10.2 0h1.7m1.7 0h1.7m5.1 0h1.7m-51.85 1.48h1.7m39.1 0h1.7m5.1 0h3.4m-63.75 1.48h1.7m6.8 0h1.7m18.7 0h1.7m1.7 0h1.7m3.4 0h1.7m1.7 0h3.4m1.7 0h1.7m3.4 0h1.7m3.4 0h1.7m5.1 0h1.7m1.7 0h1.7m-65.45 1.48h1.7m25.5 0h1.7m35.7 0h1.7m-51.85 1.48h3.4m-21.25 1.48h1.7m.85 1.48h1.7m-2.55 1.48h1.7m15.3 5.92h1.7m-15.3 2.96h1.7m40.8 8.87h1.7m-66.3 11.83h1.7m22.95 1.48h1.7m-19.55 1.48h1.7" stroke="#EAEAAE" stroke-width="1.53" fill="none"/>
<path d="M276.3 318.4h1.7m8.5 0h3.4m-7.65 1.48h3.4m3.4 0h5.1m-16.15 1.48h1.7m1.7 0h6.8m1.7 0h5.1m1.7 0h1.7m-19.55 1.48h1.7m5.1 0h1.7m3.4 0h3.4m3.4 0h1.7m-22.95 1.48h1.7m1.7 0h1.7m1.7 0h6.8m1.7 0h3.4m1.7 0h1.7m-26.35 1.48h3.4m3.4 0h3.4m1.7 0h5.1m3.4 0h1.7m1.7 0h3.4m-19.55 1.48h3.4m3.4 0h1.7m1.7 0h3.4m1.7 0h3.4m3.4 0h1.7m-21.25 1.48h10.2m3.4 0h1.7m1.7 0h3.4m-26.35 1.48h5.1m1.7 0h1.7m1.7 0h1.7m3.4 0h1.7m3.4 0h3.4m1.7 0h1.7m-39.95 1.48h1.7m10.2 0h1.7m15.3 0h1.7m1.7 0h1.7m5.1 0h1.7m-29.75 1.48h1.7m6.8 0h1.7m1.7 0h1.7m6.8 0h1.7m1.7 0h3.4m3.4 0h1.7m-31.45 1.48h1.7m6.8 0h3.4m5.1 0h10.2m3.4 0h1.7m-33.15 1.48h3.4m8.5 0h1.7m1.7 0h3.4m3.4 0h6.8m1.7 0h1.7m-39.95 1.48h1.7m11.9 0h10.2m13.6 0h1.7m-31.45 1.48h3.4m1.7 0h1.7m6.8 0h3.4m1.7 0h1.7m3.4 0h5.1m3.4 0h1.7m-41.65 1.48h1.7m15.3 0h3.4m3.4 0h5.1m1.7 0h8.5m-29.75 1.48h1.7m3.4 0h1.7m1.7 0h1.7m1.7 0h1.7m3.4 0h1.7m3.4 0h1.7m1.7 0h1.7m-22.95 1.48h1.7m1.7 0h1.7m5.1 0h3.4m3.4 0h5.1m-28.05 1.48h1.7m5.1 0h1.7m5.1 0h3.4m3.4 0h1.7m1.7 0h1.7m1.7 0h1.7m-60.35 1.48h5.1m30.6 0h1.7m8.5 0h3.4m5.1 0h1.7m1.7 0h1.7m3.4 0h1.7m-63.75 1.48h1.7m51 0h3.4m6.8 0h1.7m-36.55 1.48h1.7m11.9 0h1.7m5.1 0h1.7m-17.85 1.48h1.7m8.5 0h1.7m8.5 0h1.7m1.7 0h1.7m1.7 0h1.7m-79.05 1.48h1.7m11.9 0h1.7m1.7 0h1.7m3.4 0h1.7m18.7 0h1.7m3.4 0h1.7m20.4 0h3.4m6.8 0h1.7m-63.75 1.48h3.4m20.4 5.92h1.7m-26.35 7.39h1.7m47.6 11.83h1.7m-68 2.96h1.7m23.8 5.92h1.7" stroke="#EECF84" stroke-width="1.53" fill="none"/>
<path d="M284.8 318.4h1.7m3.4 0h1.7m-11.05 1.48h1.7m3.4 0h3.4m-.85 1.48h1.7m5.1 0h1.7m-12.75 1.48h1.7m1.7 0h3.4m3.4 0h1.7m3.4 0h1.7m-11.05 1.48h1.7m3.4 0h1.7m1.7 0h3.4m-11.05 1.48h1.7m8.5 0h1.7m-19.55 1.48h1.7m3.4 0h1.7m3.4 0h1.7m3.4 0h3.4m-21.25 1.48h1.7m11.9 0h1.7m-11.05 1.48h1.7m1.7 0h3.4m3.4 0h1.7m6.8 0h1.7m-17.85 1.48h3.4m3.4 0h1.7m3.4 0h3.4m-12.75 1.48h3.4m10.2 0h1.7m-22.95 1.48h1.7m5.1 0h1.7m11.9 0h3.4m-22.95 1.48h1.7m9.35 1.48h1.7m1.7 0h1.7m6.8 0h1.7m-12.75 1.48h1.7m3.4 2.96h1.7m3.4 0h3.4m-5.95 1.48h3.4m-2.55 1.48h1.7m-5.95 1.48h1.7m-58.65 1.48h1.7m3.4 0h1.7m23.8 0h1.7m30.6 0h1.7m-63.75 1.48h1.7m1.7 0h1.7m-4.25 1.48h1.7m1.7 0h1.7m57.8 0h1.7" stroke="#EE9C5C" stroke-width="1.53" fill="none"/>
<path d="M273.7 319.9h1.7m22.1 8.87h1.7m-14.45 10.35h1.7m-12.75 4.44h1.7m-11.05 1.48h1.7m17.85 1.48h1.7m20.4 2.96h1.7m-62.05 1.48h1.7m10.2 2.96h1.7" stroke="#E06444" stroke-width="1.53" fill="none"/>
<path d="M295.8 322.9h1.7m0 8.87h1.7m-28.05 10.35h1.7" stroke="#C43A4C" stroke-width="1.53" fill="none"/>
<path d="M307.8,334.0C311.1,339.0 312.2,349.0 312.2,357.0C312.2,366.0 311.4,373.0 308.1,378.5L307.2,377.0L307.8,334.0z" fill="#B089C6"/>
<rect x="319.6" y="303.0" width="97.4" height="97.4" fill="#BFC0BF"/>
<path d="M339.6 382.0h1.7" stroke="#2F74B0" stroke-width="1.53" fill="none"/>
<path d="M325.9 308.1h3.4m5.1 0h1.7m3.4 0h1.7m-17.85 1.48h1.7m18.7 0h3.4m3.4 0h1.7m-7.65 1.48h1.7m17 0h1.7m-18.7 2.96h1.7m12.75 1.48h1.7m-22.95 1.48h1.7m18.7 0h1.7m-11.05 1.48h1.7m3.4 0h1.7m24.65 4.44h1.7m-26.35 1.48h1.7m19.55 4.44h1.7m-28.05 4.44h1.7m47.6 0h1.7m-5.95 1.48h1.7m-48.45 4.44h1.7m57.8 5.92h1.7m-64.6 14.79h1.7m6.8 0h1.7m-2.55 1.48h1.7m-11.05 1.48h1.7m1.7 0h1.7m3.4 0h1.7m-4.25 1.48h1.7m-2.55 1.48h1.7m-9.35 1.48h3.4m5.1 0h3.4m-11.05 1.48h1.7m5.1 0h1.7m-5.95 1.48h1.7m5.1 0h1.7m-7.65 1.48h1.7m1.7 0h1.7m-5.95 1.48h1.7m-14.45 1.48h1.7m6.8 0h1.7m6.8 0h1.7m-9.35 1.48h1.7m3.4 0h3.4m-16.15 1.48h3.4m1.7 0h1.7m1.7 0h3.4m3.4 0h3.4m-7.65 1.48h1.7m1.7 0h3.4m-22.95 1.48h1.7m6.8 0h3.4m1.7 0h6.8m3.4 0h1.7m-12.75 1.48h1.7m3.4 0h6.8m-17.85 1.48h3.4m3.4 0h1.7m6.8 0h1.7m-17.85 1.48h1.7m1.7 0h1.7m5.1 0h3.4m1.7 0h1.7m-14.45 1.48h3.4m5.1 0h3.4m-21.25 1.48h1.7m5.1 0h1.7m6.8 0h6.8m-19.55 1.48h5.1m10.2 0h5.1m-26.35 1.48h1.7m3.4 0h1.7m5.1 0h3.4m1.7 0h1.7m1.7 0h3.4m1.7 0h1.7m-24.65 1.48h3.4m1.7 0h3.4m1.7 0h6.8m3.4 0h3.4m-26.35 1.48h1.7m1.7 0h8.5m5.1 0h1.7m-21.25 1.48h1.7m5.1 0h1.7m1.7 0h1.7" stroke="#4FA89E" stroke-width="1.53" fill="none"/>
<path d="M329.4 308.1h1.7m1.7 0h1.7m1.7 0h1.7m5.1 0h3.4m1.7 0h3.4m1.7 0h3.4m-31.45 1.48h1.7m8.5 0h1.7m1.7 0h1.7m1.7 0h1.7m3.4 0h3.4m1.7 0h5.1m1.7 0h3.4m-38.25 1.48h1.7m1.7 0h17m1.7 0h15.3m3.4 0h1.7m-43.35 1.48h5.1m1.7 0h1.7m1.7 0h3.4m3.4 0h3.4m1.7 0h5.1m3.4 0h1.7m1.7 0h3.4m1.7 0h6.8m-46.75 1.48h1.7m3.4 0h3.4m3.4 0h8.5m1.7 0h1.7m1.7 0h3.4m3.4 0h5.1m1.7 0h3.4m1.7 0h3.4m-46.75 1.48h3.4m6.8 0h1.7m1.7 0h1.7m1.7 0h1.7m1.7 0h1.7m5.1 0h10.2m3.4 0h3.4m1.7 0h1.7m-48.45 1.48h1.7m3.4 0h1.7m5.1 0h1.7m8.5 0h1.7m1.7 0h1.7m1.7 0h1.7m3.4 0h3.4m3.4 0h5.1m1.7 0h1.7m13.6 0h1.7m-63.75 1.48h1.7m1.7 0h1.7m1.7 0h1.7m1.7 0h3.4m1.7 0h1.7m6.8 0h3.4m1.7 0h3.4m6.8 0h5.1m3.4 0h1.7m5.1 0h3.4m1.7 0h3.4m-63.75 1.48h1.7m22.1 0h3.4m1.7 0h1.7m1.7 0h1.7m1.7 0h1.7m3.4 0h1.7m6.8 0h1.7m1.7 0h8.5m1.7 0h1.7m-34.85 1.48h1.7m10.2 0h1.7m3.4 0h1.7m8.5 0h10.2m5.1 0h3.4m-33.15 1.48h1.7m3.4 0h1.7m11.9 0h3.4m5.1 0h5.1m1.7 0h1.7m3.4 0h1.7m-50.15 1.48h1.7m3.4 0h1.7m5.1 0h1.7m11.9 0h1.7m1.7 0h1.7m8.5 0h1.7m3.4 0h3.4m-45.05 1.48h1.7m1.7 0h1.7m32.3 0h1.7m5.1 0h1.7m-72.25 1.48h1.7m6.8 0h1.7m37.4 0h1.7m1.7 0h5.1m8.5 0h3.4m3.4 0h3.4m-84.15 1.48h3.4m34 0h3.4m17 0h1.7m17 0h3.4m1.7 0h1.7m-82.45 1.48h1.7m13.6 0h1.7m10.2 0h3.4m28.9 0h5.1m11.9 0h1.7m1.7 0h1.7m1.7 0h3.4m-87.55 1.48h1.7m1.7 0h1.7m15.3 0h1.7m17 0h1.7m13.6 0h1.7m1.7 0h3.4m18.7 0h1.7m1.7 0h1.7m-75.65 1.48h1.7m5.1 0h1.7m10.2 0h1.7m3.4 0h1.7m47.6 0h6.8m-82.45 1.48h1.7m10.2 0h3.4m49.3 0h1.7m10.2 0h1.7m-70.55 1.48h1.7m45.9 0h1.7m8.5 0h1.7m-73.95 1.48h1.7m15.3 0h1.7m1.7 0h1.7m1.7 0h1.7m25.5 0h1.7m11.9 0h1.7m-53.55 1.48h1.7m5.1 0h1.7m10.2 0h1.7m22.1 0h1.7m1.7 0h1.7m20.4 0h1.7m-22.95 1.48h1.7m3.4 0h1.7m18.7 0h1.7m-39.95 1.48h1.7m3.4 0h3.4m3.4 0h1.7m15.3 0h1.7m5.1 0h1.7m3.4 0h1.7m-65.45 1.48h1.7m5.1 0h1.7m23.8 0h1.7m1.7 0h1.7m20.4 0h1.7m-31.45 1.48h1.7m5.1 0h1.7m22.1 0h1.7m-70.55 1.48h1.7m10.2 0h1.7m56.1 0h3.4m2.55 1.48h1.7m-75.65 1.48h1.7m8.5 0h1.7m59.5 0h1.7m-55.25 7.39h3.4m-17.85 1.48h5.1m8.5 0h3.4m-12.75 1.48h1.7m1.7 0h6.8m1.7 0h1.7m-19.55 1.48h1.7m1.7 0h1.7m1.7 0h5.1m1.7 0h1.7m-14.45 1.48h3.4m3.4 0h1.7m1.7 0h3.4m1.7 0h5.1m-16.15 1.48h6.8m3.4 0h1.7m-14.45 1.48h1.7m1.7 0h1.7m5.1 0h5.1m1.7 0h1.7m-14.45 1.48h5.1m3.4 0h1.7m-16.15 1.48h3.4m1.7 0h5.1m1.7 0h5.1m-17.85 1.48h5.1m3.4 0h5.1m1.7 0h5.1m-21.25 1.48h8.5m1.7 0h1.7m1.7 0h5.1m-19.55 1.48h5.1m1.7 0h1.7m1.7 0h8.5m-28.05 1.48h1.7m5.1 0h6.8m1.7 0h6.8m1.7 0h3.4m1.7 0h1.7m-29.75 1.48h1.7m5.1 0h1.7m1.7 0h3.4m3.4 0h1.7m3.4 0h6.8m-29.75 1.48h1.7m1.7 0h3.4m3.4 0h1.7m8.5 0h1.7m3.4 0h1.7m-24.65 1.48h1.7m3.4 0h3.4m1.7 0h5.1m1.7 0h1.7m3.4 0h1.7m-28.05 1.48h1.7m6.8 0h3.4m3.4 0h1.7m6.8 0h3.4m1.7 0h1.7m-33.15 1.48h3.4m3.4 0h8.5m1.7 0h1.7m1.7 0h3.4m6.8 0h1.7m-31.45 1.48h5.1m1.7 0h1.7m1.7 0h1.7m3.4 0h3.4m1.7 0h6.8m1.7 0h1.7m-31.45 1.48h1.7m1.7 0h8.5m1.7 0h1.7m1.7 0h3.4m5.1 0h1.7m1.7 0h3.4m-31.45 1.48h6.8m1.7 0h5.1m3.4 0h5.1m3.4 0h5.1m-31.45 1.48h5.1m1.7 0h5.1m1.7 0h6.8m6.8 0h1.7m1.7 0h3.4m-33.15 1.48h6.8m5.1 0h10.2m5.1 0h1.7m1.7 0h1.7m-33.15 1.48h1.7m6.8 0h5.1m3.4 0h1.7m1.7 0h1.7m3.4 0h1.7m1.7 0h3.4m-33.15 1.48h5.1m3.4 0h1.7m3.4 0h1.7m6.8 0h3.4m-24.65 1.48h1.7m1.7 0h1.7m8.5 0h5.1m1.7 0h1.7m-21.25 1.48h5.1m1.7 0h1.7m1.7 0h3.4" stroke="#98C898" stroke-width="1.53" fill="none"/>
<path d="M322.6 308.1h3.4m5.1 0h1.7m5.1 0h1.7m1.7 0h1.7m3.4 0h1.7m3.4 0h1.7m-26.35 1.48h8.5m1.7 0h1.7m1.7 0h1.7m15.3 0h1.7m-36.55 1.48h1.7m1.7 0h1.7m34 0h1.7m-34.85 1.48h1.7m1.7 0h1.7m3.4 0h3.4m3.4 0h1.7m5.1 0h3.4m1.7 0h1.7m3.4 0h1.7m-38.25 1.48h3.4m3.4 0h3.4m8.5 0h1.7m6.8 0h3.4m5.1 0h1.7m3.4 0h1.7m-39.95 1.48h6.8m1.7 0h1.7m1.7 0h1.7m1.7 0h1.7m1.7 0h5.1m11.9 0h1.7m3.4 0h1.7m-45.05 1.48h3.4m1.7 0h5.1m1.7 0h3.4m1.7 0h3.4m1.7 0h1.7m1.7 0h1.7m1.7 0h3.4m5.1 0h1.7m20.4 0h1.7m-60.35 1.48h1.7m5.1 0h1.7m3.4 0h1.7m3.4 0h3.4m11.9 0h5.1m5.1 0h3.4m10.2 0h1.7m3.4 0h10.2m-72.25 1.48h5.1m13.6 0h3.4m3.4 0h1.7m1.7 0h1.7m1.7 0h1.7m1.7 0h3.4m1.7 0h6.8m11.9 0h1.7m3.4 0h10.2m-48.45 1.48h1.7m1.7 0h1.7m1.7 0h6.8m1.7 0h3.4m1.7 0h3.4m15.3 0h5.1m3.4 0h5.1m-50.15 1.48h11.9m1.7 0h1.7m11.9 0h1.7m5.1 0h1.7m8.5 0h1.7m1.7 0h3.4m-45.05 1.48h1.7m1.7 0h1.7m1.7 0h1.7m1.7 0h1.7m8.5 0h1.7m1.7 0h1.7m1.7 0h1.7m5.1 0h1.7m1.7 0h3.4m3.4 0h3.4m-70.55 1.48h3.4m15.3 0h1.7m3.4 0h1.7m1.7 0h1.7m1.7 0h1.7m13.6 0h3.4m6.8 0h3.4m3.4 0h3.4m1.7 0h3.4m-84.15 1.48h1.7m3.4 0h3.4m3.4 0h1.7m1.7 0h1.7m1.7 0h3.4m10.2 0h13.6m8.5 0h1.7m1.7 0h1.7m17 0h3.4m-77.35 1.48h5.1m1.7 0h8.5m1.7 0h1.7m1.7 0h3.4m5.1 0h5.1m5.1 0h1.7m10.2 0h1.7m3.4 0h1.7m1.7 0h1.7m10.2 0h1.7m3.4 0h1.7m1.7 0h3.4m-84.15 1.48h6.8m1.7 0h5.1m1.7 0h1.7m1.7 0h6.8m3.4 0h8.5m1.7 0h1.7m10.2 0h6.8m13.6 0h3.4m1.7 0h1.7m1.7 0h1.7m-82.45 1.48h1.7m3.4 0h13.6m1.7 0h1.7m3.4 0h6.8m3.4 0h1.7m13.6 0h1.7m1.7 0h1.7m3.4 0h3.4m8.5 0h6.8m1.7 0h1.7m1.7 0h3.4m-87.55 1.48h6.8m3.4 0h5.1m1.7 0h10.2m3.4 0h1.7m1.7 0h5.1m11.9 0h13.6m6.8 0h6.8m1.7 0h1.7m-79.05 1.48h3.4m5.1 0h6.8m3.4 0h10.2m18.7 0h1.7m1.7 0h10.2m8.5 0h1.7m1.7 0h1.7m8.5 0h3.4m-89.25 1.48h11.9m3.4 0h8.5m1.7 0h3.4m1.7 0h1.7m1.7 0h1.7m11.9 0h13.6m1.7 0h1.7m5.1 0h1.7m1.7 0h1.7m8.5 0h5.1m-87.55 1.48h8.5m1.7 0h3.4m3.4 0h1.7m1.7 0h1.7m1.7 0h3.4m3.4 0h1.7m13.6 0h3.4m1.7 0h1.7m1.7 0h1.7m1.7 0h5.1m18.7 0h5.1m-84.15 1.48h8.5m1.7 0h5.1m1.7 0h6.8m1.7 0h1.7m1.7 0h1.7m11.9 0h1.7m3.4 0h3.4m1.7 0h1.7m1.7 0h5.1m18.7 0h1.7m3.4 0h1.7m-72.25 1.48h15.3m13.6 0h3.4m1.7 0h6.8m1.7 0h3.4m13.6 0h6.8m1.7 0h3.4m-68.85 1.48h1.7m3.4 0h8.5m8.5 0h3.4m1.7 0h1.7m5.1 0h3.4m1.7 0h5.1m11.9 0h5.1m1.7 0h3.4m1.7 0h1.7m-68.85 1.48h1.7m1.7 0h5.1m11.9 0h5.1m5.1 0h3.4m5.1 0h5.1m8.5 0h5.1m5.1 0h5.1m-80.75 1.48h1.7m13.6 0h1.7m15.3 0h5.1m1.7 0h3.4m1.7 0h1.7m1.7 0h1.7m1.7 0h3.4m8.5 0h1.7m1.7 0h6.8m1.7 0h3.4m1.7 0h1.7m-85.85 1.48h3.4m1.7 0h3.4m10.2 0h1.7m1.7 0h3.4m11.9 0h1.7m15.3 0h3.4m11.9 0h5.1m1.7 0h1.7m3.4 0h1.7m-77.35 1.48h6.8m5.1 0h1.7m13.6 0h1.7m3.4 0h3.4m6.8 0h3.4m3.4 0h1.7m13.6 0h13.6m-75.65 1.48h1.7m8.5 0h1.7m15.3 0h1.7m1.7 0h5.1m27.2 0h10.2m1.7 0h1.7m-73.95 1.48h1.7m5.1 0h3.4m17 0h1.7m3.4 0h1.7m18.7 0h1.7m6.8 0h1.7m3.4 0h1.7m3.4 0h3.4m-4.25 1.48h3.4m-67.15 1.48h1.7m61.2 0h1.7m-65.45 1.48h1.7m8.5 0h3.4m-19.55 1.48h1.7m-2.55 1.48h1.7m6.8 0h1.7m3.4 0h3.4m3.4 0h3.4m35.7 0h1.7m-62.05 1.48h8.5m13.6 0h3.4m-21.25 1.48h1.7m1.7 0h1.7m5.1 0h1.7m3.4 0h5.1m-17.85 1.48h1.7m-4.25 1.48h3.4m8.5 0h1.7m1.7 0h3.4m3.4 0h1.7m-21.25 1.48h1.7m1.7 0h3.4m6.8 0h1.7m-17.85 1.48h1.7m13.6 0h5.1m1.7 0h1.7m-7.65 1.48h3.4m-16.15 1.48h1.7m13.6 0h1.7m-24.65 1.48h1.7m18.7 0h1.7m-36.55 1.48h1.7m1.7 0h8.5m1.7 0h1.7m5.1 0h1.7m11.9 0h3.4m-36.55 1.48h3.4m3.4 0h3.4m22.1 0h1.7m1.7 0h1.7m-38.25 1.48h6.8m1.7 0h5.1m1.7 0h1.7m5.1 0h1.7m11.9 0h1.7m-36.55 1.48h5.1m1.7 0h1.7m10.2 0h1.7m3.4 0h1.7m6.8 0h3.4m-36.55 1.48h8.5m1.7 0h3.4m3.4 0h1.7m13.6 0h3.4m-34.85 1.48h3.4m1.7 0h1.7m1.7 0h3.4m-7.65 1.48h3.4m25.5 0h1.7m-34.85 1.48h1.7m5.1 0h1.7m1.7 0h1.7m20.4 0h3.4m-33.15 1.48h1.7m17 0h1.7m10.2 0h1.7m-34.85 1.48h1.7m6.8 0h1.7m22.1 0h1.7m-4.25 1.48h1.7m-31.45 1.48h1.7m28.9 0h1.7m-28.05 1.48h3.4" stroke="#D2E090" stroke-width="1.53" fill="none"/>
<path d="M368.5 317.0h1.7m-41.65 1.48h1.7m10.2 0h1.7m3.4 0h1.7m-17.85 1.48h5.1m39.1 0h1.7m11.9 0h1.7m-39.95 1.48h1.7m5.1 0h1.7m20.4 0h1.7m-11.05 1.48h1.7m1.7 0h1.7m5.1 0h1.7m-16.15 1.48h1.7m5.1 0h3.4m3.4 0h1.7m11.9 0h1.7m-58.65 1.48h1.7m20.4 0h1.7m6.8 0h1.7m1.7 0h1.7m10.2 0h1.7m3.4 0h1.7m10.2 0h1.7m-72.25 1.48h1.7m5.1 0h1.7m1.7 0h1.7m6.8 0h1.7m59.5 0h1.7m-77.35 1.48h1.7m8.5 0h1.7m1.7 0h1.7m3.4 0h1.7m1.7 0h1.7m8.5 0h1.7m18.7 0h1.7m1.7 0h1.7m-56.95 1.48h1.7m8.5 0h1.7m18.7 0h1.7m-36.55 1.48h1.7m17 0h3.4m6.8 0h3.4m3.4 0h1.7m-34.85 1.48h1.7m30.6 0h1.7m28.9 0h1.7m-72.25 1.48h3.4m5.1 0h3.4m20.4 0h6.8m10.2 0h1.7m1.7 0h1.7m10.2 0h1.7m18.7 0h1.7m-73.95 1.48h1.7m10.2 0h1.7m3.4 0h1.7m1.7 0h1.7m1.7 0h1.7m27.2 0h1.7m15.3 0h1.7m-73.95 1.48h1.7m3.4 0h1.7m11.9 0h3.4m1.7 0h3.4m8.5 0h1.7m6.8 0h1.7m1.7 0h1.7m28.9 0h1.7m-87.55 1.48h1.7m30.6 0h1.7m8.5 0h1.7m1.7 0h3.4m27.2 0h1.7m1.7 0h1.7m1.7 0h3.4m-79.05 1.48h1.7m3.4 0h3.4m15.3 0h1.7m3.4 0h1.7m3.4 0h3.4m3.4 0h1.7m-33.15 1.48h1.7m1.7 0h3.4m15.3 0h1.7m6.8 0h1.7m13.6 0h1.7m-67.15 1.48h1.7m18.7 0h1.7m25.5 0h5.1m5.1 0h1.7m13.6 0h1.7m5.1 0h1.7m1.7 0h1.7m-84.15 1.48h1.7m1.7 0h3.4m5.1 0h1.7m8.5 0h1.7m1.7 0h5.1m15.3 0h1.7m6.8 0h1.7m6.8 0h1.7m8.5 0h1.7m-75.65 1.48h1.7m6.8 0h1.7m5.1 0h1.7m18.7 0h1.7m3.4 0h1.7m1.7 0h15.3m20.4 0h1.7m6.8 0h1.7m-87.55 1.48h8.5m13.6 0h5.1m10.2 0h3.4m3.4 0h6.8m3.4 0h3.4m-48.45 1.48h1.7m3.4 0h1.7m8.5 0h1.7m10.2 0h1.7m1.7 0h1.7m5.1 0h11.9m-48.45 1.48h3.4m10.2 0h1.7m13.6 0h1.7m1.7 0h3.4m1.7 0h1.7m1.7 0h1.7m25.5 0h1.7m1.7 0h3.4m-72.25 1.48h1.7m5.1 0h3.4m18.7 0h1.7m1.7 0h3.4m17 0h3.4m6.8 0h5.1m1.7 0h1.7m-43.35 1.48h3.4m1.7 0h1.7m3.4 0h1.7m13.6 0h1.7m11.9 0h1.7m3.4 0h1.7m-63.75 1.48h1.7m8.5 0h1.7m6.8 0h1.7m3.4 0h1.7m18.7 0h3.4m6.8 0h6.8m1.7 0h1.7m-70.55 1.48h3.4m8.5 0h1.7m3.4 0h1.7m5.1 0h3.4m23.8 0h3.4m8.5 0h1.7m1.7 0h1.7m1.7 0h1.7m-73.95 1.48h1.7m20.4 0h6.8m1.7 0h1.7m20.4 0h1.7m5.1 0h3.4m1.7 0h1.7m1.7 0h1.7m1.7 0h1.7m-50.15 1.48h5.1m25.5 0h1.7m10.2 0h1.7m1.7 0h5.1m-75.65 1.48h1.7m22.1 0h3.4m40.8 0h3.4m-48.45 1.48h5.1m42.5 0h1.7m-70.55 1.48h1.7m18.7 0h3.4m-22.95 1.48h1.7m18.7 0h3.4m1.7 0h1.7m-5.95 1.48h1.7m-2.55 1.48h1.7m-.85 1.48h1.7m-39.95 1.48h13.6m22.1 0h1.7m1.7 0h1.7m-39.95 1.48h1.7m8.5 0h1.7m23.8 0h3.4m-36.55 1.48h1.7m32.3 0h1.7m-2.55 1.48h1.7m-3.4 2.96h1.7m-.85 1.48h1.7m-38.25 1.48h1.7m34 0h1.7m28.05 1.48h1.7m-31.45 1.48h1.7m-2.55 1.48h1.7m-.85 1.48h1.7m-2.55 1.48h1.7" stroke="#EAEAAE" stroke-width="1.53" fill="none"/>
<path d="M334.4 319.9h1.7m3.4 0h3.4m-19.55 1.48h1.7m51 0h1.7m-26.35 1.48h1.7m23.8 0h1.7m-24.65 1.48h1.7m20.4 0h1.7m-46.75 1.48h3.4m5.1 0h1.7m1.7 0h1.7m27.2 0h3.4m1.7 0h3.4m6.8 0h1.7m-63.75 1.48h1.7m27.2 0h1.7m15.3 0h1.7m18.7 0h5.1m-28.05 1.48h6.8m-9.35 1.48h1.7m5.1 0h3.4m-9.35 1.48h1.7m1.7 0h1.7m1.7 0h1.7m11.9 0h1.7m5.1 0h1.7m-29.75 1.48h8.5m-12.75 1.48h1.7m3.4 0h1.7m23.8 0h1.7m6.8 0h1.7m1.7 0h1.7m-45.05 1.48h1.7m3.4 0h1.7m1.7 0h1.7m27.2 0h1.7m-39.95 1.48h1.7m1.7 0h1.7m27.2 0h3.4m8.5 0h1.7m-82.45 1.48h1.7m34 0h3.4m-28.05 1.48h3.4m22.1 0h1.7m37.4 0h1.7m-60.35 1.48h1.7m-5.95 1.48h1.7m17 0h6.8m1.7 0h1.7m-39.95 1.48h1.7m3.4 0h1.7m1.7 0h1.7m1.7 0h1.7m15.3 0h1.7m5.1 0h3.4m-39.95 1.48h3.4m11.9 0h1.7m11.9 0h3.4m5.1 0h1.7m-39.95 1.48h1.7m15.3 0h1.7m42.5 0h1.7m10.2 0h1.7m-73.95 1.48h5.1m1.7 0h3.4m10.2 0h1.7m13.6 0h1.7m30.6 0h1.7m3.4 0h1.7m-75.65 1.48h1.7m27.2 0h1.7m20.4 0h1.7m1.7 0h5.1m10.2 0h1.7m3.4 0h1.7m1.7 0h1.7m-55.25 1.48h3.4m1.7 0h1.7m10.2 0h1.7m1.7 0h1.7m3.4 0h8.5m11.9 0h1.7m10.2 0h1.7m-82.45 1.48h1.7m1.7 0h1.7m1.7 0h1.7m3.4 0h3.4m13.6 0h3.4m5.1 0h1.7m5.1 0h1.7m1.7 0h3.4m11.9 0h3.4m1.7 0h3.4m5.1 0h3.4m1.7 0h1.7m3.4 0h1.7m-87.55 1.48h1.7m10.2 0h3.4m1.7 0h1.7m1.7 0h1.7m1.7 0h3.4m15.3 0h1.7m3.4 0h1.7m13.6 0h3.4m3.4 0h1.7m3.4 0h1.7m6.8 0h1.7m-82.45 1.48h1.7m5.1 0h3.4m1.7 0h1.7m3.4 0h3.4m11.9 0h1.7m1.7 0h1.7m3.4 0h3.4m1.7 0h1.7m15.3 0h1.7m3.4 0h1.7m3.4 0h3.4m1.7 0h1.7m1.7 0h1.7m-89.25 1.48h1.7m23.8 0h3.4m20.4 0h3.4m15.3 0h1.7m1.7 0h3.4m5.1 0h1.7m1.7 0h1.7m1.7 0h1.7m1.7 0h1.7m-87.55 1.48h3.4m5.1 0h1.7m30.6 0h3.4m1.7 0h1.7m28.9 0h1.7m1.7 0h1.7m-43.35 1.48h5.1m22.1 0h5.1m1.7 0h5.1m5.1 0h3.4m-46.75 1.48h5.1m22.1 0h1.7m10.2 0h3.4m1.7 0h3.4m-48.45 1.48h3.4m32.3 0h1.7m1.7 0h1.7m1.7 0h5.1m-48.45 1.48h1.7m37.4 0h1.7m1.7 0h6.8m-73.95 1.48h1.7m23.8 0h1.7m28.9 0h1.7m1.7 0h1.7m1.7 0h1.7m1.7 0h6.8m-50.15 1.48h3.4m28.9 0h1.7m8.5 0h1.7m3.4 0h1.7m-73.95 1.48h1.7m23.8 0h1.7m34 0h1.7m3.4 0h1.7m3.4 0h1.7m-50.15 1.48h1.7m34 0h1.7m5.1 0h5.1m1.7 0h1.7m-17.85 1.48h1.7m3.4 0h1.7m1.7 0h5.1m1.7 0h1.7m-48.45 1.48h1.7m27.2 0h1.7m1.7 0h3.4m3.4 0h1.7m1.7 0h1.7m1.7 0h1.7m-22.95 1.48h1.7m8.5 0h1.7m1.7 0h1.7m1.7 0h1.7m3.4 0h1.7m-51.85 1.48h1.7m27.2 0h1.7m19.55 1.48h1.7m-53.55 1.48h1.7m32.3 0h1.7m13.6 0h1.7m-22.95 1.48h1.7m1.7 0h1.7m5.1 0h1.7m1.7 0h1.7m1.7 0h1.7m3.4 0h1.7m-24.65 1.48h1.7m11.05 1.48h1.7m-39.95 1.48h1.7m-1.7 2.96h1.7" stroke="#EECF84" stroke-width="1.53" fill="none"/>
<path d="M336.1 319.9h3.4m-14.45 1.48h1.7m20.4 0h1.7m25.5 0h1.7m-26.35 1.48h1.7m22.1 0h3.4m13.6 0h1.7m-69.7 2.96h3.4m1.7 0h3.4m10.2 0h1.7m1.7 0h1.7m23.8 0h1.7m3.4 0h1.7m13.6 0h1.7m-45.05 1.48h1.7m20.4 0h1.7m1.7 0h1.7m1.7 0h1.7m-26.35 1.48h1.7m13.6 0h1.7m23.8 0h1.7m1.7 0h1.7m-29.75 1.48h5.1m-7.65 1.48h1.7m1.7 0h1.7m1.7 0h1.7m-9.35 1.48h1.7m-2.55 1.48h1.7m3.4 0h3.4m30.6 0h1.7m-41.65 1.48h3.4m1.7 0h1.7m30.6 0h1.7m-39.95 1.48h1.7m1.7 0h3.4m27.2 0h1.7m-34.85 1.48h5.1m20.4 0h1.7m1.7 0h1.7m-70.55 1.48h1.7m5.1 0h3.4m25.5 0h1.7m3.4 0h3.4m30.6 0h1.7m-72.25 1.48h3.4m5.1 0h3.4m18.7 0h5.1m34 0h1.7m-73.95 1.48h3.4m6.8 0h1.7m5.1 0h1.7m18.7 0h1.7m-24.65 1.48h6.8m10.2 0h5.1m-17.85 1.48h3.4m10.2 0h1.7m1.7 0h1.7m23.8 0h1.7m6.8 0h3.4m-55.25 1.48h3.4m6.8 0h3.4m1.7 0h3.4m32.3 0h1.7m-72.25 1.48h1.7m5.1 0h1.7m10.2 0h3.4m6.8 0h3.4m1.7 0h3.4m23.8 0h1.7m8.5 0h3.4m-72.25 1.48h3.4m3.4 0h3.4m5.1 0h1.7m1.7 0h1.7m5.1 0h1.7m1.7 0h3.4m1.7 0h5.1m25.5 0h1.7m3.4 0h1.7m-73.95 1.48h15.3m1.7 0h5.1m6.8 0h1.7m1.7 0h10.2m23.8 0h1.7m8.5 0h1.7m-77.35 1.48h1.7m1.7 0h1.7m1.7 0h1.7m1.7 0h3.4m3.4 0h1.7m1.7 0h1.7m1.7 0h6.8m3.4 0h5.1m1.7 0h1.7m11.9 0h1.7m20.4 0h1.7m-79.05 1.48h3.4m1.7 0h10.2m15.3 0h1.7m5.1 0h6.8m3.4 0h1.7m3.4 0h3.4m8.5 0h1.7m10.2 0h1.7m-77.35 1.48h1.7m1.7 0h1.7m1.7 0h5.1m13.6 0h5.1m18.7 0h1.7m11.9 0h1.7m1.7 0h1.7m8.5 0h1.7m-75.65 1.48h11.9m30.6 0h1.7m5.1 0h1.7m10.2 0h3.4m-67.15 1.48h3.4m3.4 0h5.1m35.7 0h1.7m13.6 0h5.1m3.4 0h8.5m-72.25 1.48h3.4m35.7 0h3.4m11.9 0h6.8m5.1 0h1.7m5.1 0h1.7m-67.15 1.48h1.7m49.3 0h3.4m1.7 0h10.2m-36.55 1.48h1.7m22.1 0h8.5m1.7 0h1.7m1.7 0h1.7m-26.35 1.48h1.7m3.4 0h5.1m3.4 0h1.7m1.7 0h3.4m3.4 0h1.7m-24.65 1.48h3.4m3.4 0h6.8m1.7 0h1.7m1.7 0h1.7m1.7 0h1.7m-67.15 1.48h1.7m25.5 0h1.7m15.3 0h1.7m3.4 0h6.8m1.7 0h1.7m3.4 0h1.7m3.4 0h3.4m1.7 0h1.7m-31.45 1.48h1.7m1.7 0h1.7m1.7 0h3.4m1.7 0h5.1m6.8 0h3.4m1.7 0h1.7m-34.85 1.48h1.7m10.2 0h6.8m1.7 0h5.1m5.1 0h1.7m1.7 0h1.7m-33.15 1.48h1.7m6.8 0h5.1m1.7 0h1.7m3.4 0h1.7m5.1 0h1.7m-26.35 1.48h5.1m1.7 0h1.7m1.7 0h1.7m5.1 0h1.7m1.7 0h1.7m1.7 0h1.7m1.7 0h1.7m-50.15 1.48h1.7m22.1 0h1.7m1.7 0h8.5m1.7 0h1.7m1.7 0h1.7m1.7 0h3.4m1.7 0h1.7m-33.15 1.48h1.7m3.4 0h3.4m1.7 0h10.2m5.1 0h3.4m1.7 0h1.7m-51.85 1.48h1.7m17 0h17m1.7 0h5.1m1.7 0h1.7m1.7 0h1.7m-34.85 1.48h1.7m5.1 0h1.7m3.4 0h5.1m1.7 0h5.1m3.4 0h5.1m-29.75 1.48h1.7m5.1 0h1.7m5.1 0h5.1m1.7 0h1.7m5.1 0h3.4m-48.45 1.48h1.7m17 0h1.7m1.7 0h3.4m5.1 0h6.8m1.7 0h3.4m1.7 0h3.4m-46.75 1.48h1.7m34 0h1.7m1.7 0h1.7m-39.95 1.48h1.7m-2.55 1.48h3.4" stroke="#EE9C5C" stroke-width="1.53" fill="none"/>
<path d="M326.8 321.4h1.7m1.7 0h1.7m6.8 0h3.4m3.4 0h1.7m-16.15 1.48h1.7m56.1 0h1.7m-53.55 1.48h1.7m13.6 0h1.7m20.4 0h1.7m13.6 0h1.7m-65.45 1.48h1.7m25.5 0h1.7m34 0h1.7m-41.65 1.48h1.7m23.8 0h1.7m11.9 0h3.4m-16.15 1.48h1.7m11.05 1.48h1.7m5.1 0h1.7m-7.65 1.48h3.4m-4.25 1.48h1.7m1.7 0h1.7m-28.05 1.48h1.7m24.65 1.48h1.7m8.5 0h3.4m-2.55 1.48h1.7m-11.05 1.48h1.7m5.1 0h1.7m-77.35 1.48h5.1m59.5 0h1.7m5.1 0h1.7m-73.95 1.48h3.4m3.4 0h5.1m3.4 0h1.7m22.1 0h1.7m25.5 0h1.7m1.7 0h1.7m-67.15 1.48h6.8m3.4 0h3.4m49.3 0h1.7m-2.55 1.48h3.4m-51.85 1.48h1.7m47.6 0h1.7m-36.55 1.48h1.7m32.3 0h3.4m1.7 0h1.7m-41.65 1.48h1.7m28.9 0h1.7m3.4 0h1.7m-63.75 1.48h3.4m10.2 0h1.7m13.6 0h1.7m23.8 0h3.4m10.2 0h1.7m-16.15 1.48h1.7m1.7 0h3.4m6.8 0h1.7m-55.25 1.48h1.7m52.7 0h3.4m-58.65 1.48h1.7m39.1 0h1.7m1.7 0h1.7m10.2 0h1.7m-73.95 1.48h1.7m35.7 0h1.7m23.8 0h1.7m8.5 0h1.7m-75.65 1.48h1.7m65.45 1.48h1.7m-70.55 1.48h8.5m3.4 0h3.4m35.7 0h1.7m1.7 0h1.7m-53.55 1.48h3.4m54.4 0h6.8m-51.85 1.48h1.7m30.6 0h1.7m1.7 0h1.7m6.8 0h10.2m-65.45 1.48h3.4m5.1 0h1.7m30.6 0h5.1m11.9 0h1.7m5.1 0h3.4m1.7 0h1.7m3.4 0h1.7m-77.35 1.48h1.7m1.7 0h1.7m35.7 0h1.7m18.7 0h1.7m-56.95 1.48h1.7m40.8 0h1.7m3.4 0h3.4m1.7 0h3.4m10.2 0h3.4m1.7 0h1.7m-77.35 1.48h1.7m3.4 0h1.7m1.7 0h1.7m37.4 0h6.8m5.1 0h1.7m3.4 0h1.7m6.8 0h3.4m-39.95 1.48h5.1m10.2 0h1.7m1.7 0h6.8m-26.35 1.48h1.7m1.7 0h1.7m3.4 0h3.4m1.7 0h3.4m1.7 0h6.8m8.5 0h1.7m11.9 0h1.7m-36.55 1.48h6.8m5.1 0h1.7m8.5 0h1.7m-28.05 1.48h1.7m1.7 0h6.8m1.7 0h1.7m-24.65 1.48h1.7m11.9 0h1.7m1.7 0h1.7m1.7 0h3.4m15.3 0h5.1m3.4 0h1.7m-43.35 1.48h3.4m1.7 0h1.7m1.7 0h3.4m17 0h1.7m5.1 0h1.7m1.7 0h1.7m-45.05 1.48h1.7m11.9 0h5.1m1.7 0h3.4m11.9 0h3.4m6.8 0h1.7m-50.15 1.48h1.7m3.4 0h1.7m6.8 0h3.4m3.4 0h3.4m3.4 0h1.7m11.9 0h1.7m-38.25 1.48h1.7m3.4 0h1.7m3.4 0h1.7m3.4 0h1.7m5.1 0h1.7m8.5 0h1.7m-34.85 1.48h1.7m3.4 0h1.7m-7.65 1.48h1.7" stroke="#E06444" stroke-width="1.53" fill="none"/>
<path d="M328.5 321.4h1.7m1.7 0h6.8m5.1 0h1.7m-22.95 1.48h3.4m1.7 0h3.4m1.7 0h1.7m1.7 0h1.7m1.7 0h6.8m-22.95 1.48h1.7m1.7 0h6.8m1.7 0h1.7m1.7 0h1.7m1.7 0h3.4m1.7 0h1.7m1.7 0h1.7m35.7 0h1.7m-43.35 1.48h1.7m1.7 0h3.4m-2.55 1.48h3.4m34.85 1.48h3.4m1.7 0h1.7m-5.95 1.48h5.1m-2.55 1.48h1.7m-4.25 1.48h1.7m-2.55 1.48h3.4m-2.55 1.48h1.7m-2.55 1.48h3.4m5.1 0h5.1m-12.75 1.48h1.7m3.4 0h5.1m-7.65 1.48h3.4m-4.25 1.48h1.7m-4.25 1.48h1.7m1.7 0h1.7m-5.95 1.48h1.7m3.4 0h1.7m-7.65 1.48h3.4m-4.25 1.48h3.4m-2.55 1.48h3.4m-4.25 1.48h3.4m7.65 1.48h1.7m-19.55 1.48h3.4m1.7 0h3.4m-9.35 1.48h3.4m1.7 0h1.7m-9.35 1.48h10.2m-9.35 1.48h10.2m-12.75 1.48h11.9m-11.05 1.48h1.7m1.7 0h3.4m1.7 0h1.7m-62.05 1.48h1.7m3.4 0h1.7m1.7 0h6.8m32.3 0h10.2m-58.65 1.48h15.3m34 0h1.7m1.7 0h6.8m-58.65 1.48h3.4m5.1 0h3.4m3.4 0h1.7m34 0h3.4m1.7 0h1.7m1.7 0h1.7m-60.35 1.48h1.7m5.1 0h3.4m1.7 0h3.4m28.9 0h5.1m3.4 0h5.1m3.4 0h1.7m-63.75 1.48h8.5m1.7 0h1.7m1.7 0h1.7m28.9 0h5.1m5.1 0h1.7m-56.95 1.48h5.1m1.7 0h3.4m1.7 0h1.7m28.9 0h10.2m8.5 0h1.7m-16.15 1.48h8.5m3.4 0h1.7m-17.85 1.48h1.7m1.7 0h3.4m3.4 0h1.7m-12.75 1.48h3.4m1.7 0h1.7m1.7 0h3.4m-12.75 1.48h1.7m1.7 0h5.1m1.7 0h1.7m6.8 0h1.7m-19.55 1.48h1.7m1.7 0h6.8m1.7 0h1.7m-16.15 1.48h5.1m6.8 0h1.7m-14.45 1.48h1.7m3.4 0h5.1m1.7 0h1.7m-7.65 1.48h6.8m5.1 0h1.7m-17.85 1.48h1.7m1.7 0h3.4m1.7 0h3.4m1.7 0h1.7m23.8 0h1.7m-41.65 1.48h1.7m1.7 0h3.4m-4.25 1.48h3.4m-4.25 1.48h1.7" stroke="#C43A4C" stroke-width="1.53" fill="none"/>
<path d="M342.1 321.4h1.7m-17.85 1.48h1.7m6.8 0h1.7m1.7 0h1.7m6.8 0h3.4m-24.65 1.48h1.7m6.8 0h1.7m5.1 0h1.7m3.4 0h1.7m1.7 0h1.7m-2.55 1.48h1.7m40.8 14.79h1.7m2.55 1.48h1.7m-2.55 1.48h1.7m-3.4 2.96h1.7m-10.2 5.92h1.7m-2.55 1.48h1.7m-2.55 7.39h1.7m-53.55 1.48h1.7m49.3 0h1.7m-52.7 2.96h1.7m5.1 0h1.7m34 0h1.7m3.4 0h1.7m-56.95 1.48h1.7m3.4 0h1.7m5.1 0h1.7m37.4 0h3.4m-41.65 1.48h1.7m35.7 0h1.7m1.7 0h1.7m-10.2 5.92h1.7m1.7 0h1.7m-7.65 1.48h1.7m-4.25 1.48h1.7m1.7 0h1.7m2.55 1.48h1.7m-7.65 1.48h1.7m5.1 0h1.7m-11.05 1.48h3.4m-4.25 1.48h1.7" stroke="#94144A" stroke-width="1.53" fill="none"/>
<path d="M412.8,334.0C416.1,339.0 417.1,349.0 417.1,357.0C417.1,366.0 416.4,373.0 413.1,378.5L412.1,377.0L412.8,334.0z" fill="#B089C6"/>
<rect x="491.9" y="303.0" width="97.4" height="97.4" fill="#BFC0BF"/>
<path d="M505.9 309.6h1.7m10.2 0h1.7m-22.95 1.48h1.7m35.7 0h1.7m-35.7 2.96h1.7m1.7 0h1.7m35.7 0h1.7m-45.05 1.48h1.7m15.3 0h1.7m3.4 0h1.7m8.5 0h1.7m1.7 0h1.7m6.8 0h1.7m-48.45 1.48h1.7m1.7 0h3.4m15.3 0h1.7m39.1 0h1.7m-62.05 1.48h5.1m57.8 0h1.7m1.7 0h3.4m-72.25 1.48h3.4m8.5 0h1.7m6.8 0h1.7m20.4 0h1.7m6.8 0h1.7m5.1 0h1.7m11.9 0h1.7m1.7 0h1.7m-75.65 1.48h1.7m1.7 0h1.7m1.7 0h1.7m32.3 0h1.7m3.4 0h1.7m1.7 0h1.7m3.4 0h1.7m-56.95 1.48h1.7m39.1 0h1.7m3.4 0h1.7m8.5 0h1.7m5.1 0h1.7m3.4 0h3.4m3.4 0h1.7m-70.55 1.48h1.7m1.7 0h1.7m10.2 0h1.7m8.5 0h1.7m1.7 0h1.7m8.5 0h1.7m3.4 0h1.7m1.7 0h1.7m3.4 0h1.7m1.7 0h1.7m1.7 0h3.4m6.8 0h3.4m-75.65 1.48h1.7m10.2 0h1.7m6.8 0h1.7m23.8 0h5.1m5.1 0h1.7m1.7 0h3.4m8.5 0h1.7m3.4 0h1.7m-79.05 1.48h1.7m1.7 0h1.7m5.1 0h1.7m3.4 0h3.4m20.4 0h1.7m13.6 0h1.7m3.4 0h3.4m10.2 0h1.7m1.7 0h1.7m-48.45 1.48h1.7m27.2 0h1.7m10.2 0h1.7m5.1 0h1.7m-79.05 1.48h1.7m6.8 0h1.7m11.9 0h1.7m3.4 0h1.7m1.7 0h1.7m8.5 0h1.7m1.7 0h1.7m3.4 0h5.1m3.4 0h1.7m3.4 0h1.7m5.1 0h1.7m8.5 0h1.7m-67.15 1.48h1.7m1.7 0h1.7m1.7 0h1.7m22.1 0h1.7m8.5 0h1.7m3.4 0h1.7m6.8 0h1.7m6.8 0h3.4m1.7 0h3.4m-85.85 1.48h5.1m22.1 0h3.4m15.3 0h1.7m8.5 0h3.4m1.7 0h3.4m11.9 0h1.7m6.8 0h1.7m-77.35 1.48h1.7m8.5 0h1.7m20.4 0h1.7m3.4 0h1.7m1.7 0h1.7m1.7 0h1.7m8.5 0h5.1m5.1 0h1.7m10.2 0h1.7m-80.75 1.48h1.7m11.9 0h1.7m6.8 0h1.7m5.1 0h1.7m5.1 0h3.4m1.7 0h1.7m3.4 0h1.7m3.4 0h5.1m3.4 0h3.4m10.2 0h1.7m3.4 0h1.7m-87.55 1.48h5.1m3.4 0h1.7m5.1 0h1.7m1.7 0h6.8m17 0h1.7m3.4 0h1.7m1.7 0h1.7m1.7 0h1.7m8.5 0h1.7m6.8 0h1.7m8.5 0h1.7m-85.85 1.48h1.7m3.4 0h3.4m5.1 0h1.7m1.7 0h1.7m1.7 0h1.7m8.5 0h1.7m3.4 0h1.7m8.5 0h1.7m5.1 0h5.1m5.1 0h1.7m1.7 0h3.4m1.7 0h5.1m3.4 0h3.4m5.1 0h1.7m-82.45 1.48h1.7m3.4 0h1.7m3.4 0h3.4m1.7 0h5.1m10.2 0h1.7m6.8 0h5.1m5.1 0h3.4m3.4 0h1.7m10.2 0h3.4m3.4 0h3.4m-80.75 1.48h1.7m13.6 0h1.7m1.7 0h1.7m1.7 0h1.7m6.8 0h1.7m6.8 0h1.7m3.4 0h1.7m20.4 0h1.7m1.7 0h3.4m3.4 0h1.7m1.7 0h3.4m-84.15 1.48h1.7m11.9 0h1.7m5.1 0h5.1m1.7 0h3.4m10.2 0h6.8m10.2 0h1.7m1.7 0h1.7m3.4 0h5.1m6.8 0h1.7m3.4 0h1.7m-89.25 1.48h3.4m3.4 0h1.7m6.8 0h1.7m3.4 0h1.7m6.8 0h1.7m25.5 0h3.4m5.1 0h1.7m13.6 0h1.7m3.4 0h1.7m-70.55 1.48h1.7m13.6 0h5.1m8.5 0h1.7m8.5 0h3.4m5.1 0h1.7m5.1 0h1.7m1.7 0h1.7m11.9 0h1.7m-89.25 1.48h1.7m6.8 0h1.7m1.7 0h1.7m10.2 0h1.7m1.7 0h3.4m6.8 0h1.7m1.7 0h1.7m1.7 0h1.7m15.3 0h1.7m10.2 0h3.4m3.4 0h1.7m-60.35 1.48h1.7m3.4 0h3.4m11.9 0h1.7m1.7 0h1.7m8.5 0h3.4m10.2 0h1.7m1.7 0h1.7m1.7 0h1.7m10.2 0h1.7m-89.25 1.48h3.4m1.7 0h1.7m8.5 0h1.7m3.4 0h3.4m3.4 0h1.7m10.2 0h1.7m5.1 0h3.4m3.4 0h1.7m1.7 0h1.7m5.1 0h5.1m8.5 0h6.8m3.4 0h3.4m-85.85 1.48h1.7m5.1 0h5.1m5.1 0h1.7m6.8 0h1.7m1.7 0h1.7m3.4 0h1.7m6.8 0h3.4m3.4 0h1.7m3.4 0h1.7m6.8 0h3.4m1.7 0h5.1m1.7 0h1.7m-72.25 1.48h1.7m13.6 0h1.7m13.6 0h3.4m11.9 0h1.7m25.5 0h1.7m-77.35 1.48h1.7m5.1 0h1.7m23.8 0h1.7m13.6 0h5.1m6.8 0h1.7m15.3 0h5.1m-84.15 1.48h1.7m10.2 0h6.8m1.7 0h3.4m3.4 0h1.7m8.5 0h1.7m3.4 0h5.1m3.4 0h5.1m1.7 0h3.4m1.7 0h1.7m6.8 0h1.7m8.5 0h5.1m-90.95 1.48h6.8m3.4 0h1.7m5.1 0h1.7m11.9 0h1.7m5.1 0h3.4m5.1 0h1.7m5.1 0h1.7m3.4 0h1.7m3.4 0h3.4m6.8 0h1.7m3.4 0h3.4m-72.25 1.48h1.7m6.8 0h1.7m5.1 0h1.7m3.4 0h1.7m5.1 0h1.7m1.7 0h1.7m1.7 0h1.7m3.4 0h1.7m6.8 0h6.8m5.1 0h1.7m6.8 0h1.7m3.4 0h1.7m-84.15 1.48h1.7m5.1 0h1.7m3.4 0h1.7m8.5 0h1.7m5.1 0h1.7m6.8 0h1.7m1.7 0h1.7m1.7 0h1.7m5.1 0h1.7m1.7 0h1.7m3.4 0h1.7m5.1 0h1.7m17 0h1.7m-73.95 1.48h1.7m1.7 0h1.7m1.7 0h1.7m1.7 0h1.7m6.8 0h1.7m1.7 0h1.7m30.6 0h1.7m5.1 0h8.5m1.7 0h1.7m-85.85 1.48h1.7m3.4 0h1.7m6.8 0h1.7m10.2 0h1.7m20.4 0h1.7m1.7 0h5.1m1.7 0h1.7m1.7 0h1.7m1.7 0h3.4m6.8 0h1.7m3.4 0h3.4m3.4 0h1.7m-73.95 1.48h3.4m3.4 0h3.4m1.7 0h1.7m5.1 0h1.7m1.7 0h1.7m5.1 0h3.4m8.5 0h1.7m8.5 0h1.7m15.3 0h1.7m1.7 0h1.7m-85.85 1.48h1.7m5.1 0h1.7m10.2 0h3.4m8.5 0h3.4m6.8 0h1.7m18.7 0h1.7m5.1 0h8.5m1.7 0h1.7m-73.95 1.48h1.7m3.4 0h1.7m1.7 0h1.7m1.7 0h1.7m6.8 0h1.7m8.5 0h1.7m3.4 0h1.7m3.4 0h1.7m11.9 0h1.7m1.7 0h1.7m11.9 0h1.7m8.5 0h1.7m-90.95 1.48h1.7m3.4 0h1.7m3.4 0h1.7m1.7 0h1.7m8.5 0h1.7m5.1 0h1.7m5.1 0h1.7m11.9 0h1.7m5.1 0h3.4m1.7 0h1.7m1.7 0h1.7m8.5 0h1.7m8.5 0h1.7m-87.55 1.48h8.5m1.7 0h1.7m1.7 0h1.7m1.7 0h3.4m13.6 0h1.7m1.7 0h1.7m1.7 0h1.7m3.4 0h3.4m1.7 0h1.7m5.1 0h3.4m1.7 0h1.7m5.1 0h1.7m1.7 0h1.7m1.7 0h1.7m3.4 0h5.1m-84.15 1.48h3.4m1.7 0h3.4m8.5 0h1.7m1.7 0h3.4m3.4 0h3.4m10.2 0h1.7m3.4 0h1.7m1.7 0h1.7m3.4 0h1.7m1.7 0h6.8m1.7 0h1.7m3.4 0h1.7m1.7 0h1.7m6.8 0h1.7m-85.85 1.48h3.4m3.4 0h1.7m8.5 0h1.7m1.7 0h1.7m3.4 0h1.7m8.5 0h1.7m5.1 0h3.4m5.1 0h1.7m3.4 0h3.4m1.7 0h1.7m3.4 0h1.7m8.5 0h1.7m6.8 0h1.7m-89.25 1.48h5.1m6.8 0h3.4m3.4 0h1.7m23.8 0h1.7m1.7 0h1.7m3.4 0h1.7m5.1 0h3.4m1.7 0h1.7m1.7 0h3.4m10.2 0h6.8m-87.55 1.48h1.7m1.7 0h1.7m5.1 0h1.7m8.5 0h1.7m5.1 0h1.7m3.4 0h1.7m1.7 0h1.7m3.4 0h1.7m3.4 0h1.7m3.4 0h1.7m6.8 0h1.7m1.7 0h1.7m6.8 0h6.8m1.7 0h3.4m1.7 0h1.7m-85.85 1.48h1.7m5.1 0h1.7m8.5 0h1.7m1.7 0h1.7m13.6 0h1.7m13.6 0h3.4m3.4 0h3.4m6.8 0h1.7m1.7 0h3.4m5.1 0h1.7m3.4 0h1.7m-85.85 1.48h1.7m1.7 0h3.4m11.9 0h1.7m3.4 0h1.7m3.4 0h1.7m3.4 0h3.4m1.7 0h1.7m3.4 0h5.1m1.7 0h1.7m1.7 0h1.7m1.7 0h1.7m1.7 0h1.7m3.4 0h1.7m5.1 0h3.4m-68.85 1.48h1.7m5.1 0h1.7m3.4 0h1.7m13.6 0h3.4m11.9 0h3.4m8.5 0h1.7m3.4 0h1.7m10.2 0h1.7m-33.15 1.48h1.7m1.7 0h3.4m3.4 0h1.7m6.8 0h3.4m3.4 0h1.7m5.1 0h1.7m-75.65 1.48h1.7m1.7 0h1.7m3.4 0h1.7m8.5 0h1.7m13.6 0h1.7m-21.25 1.48h3.4m13.6 0h5.1m-36.55 1.48h1.7m8.5 0h1.7m11.9 0h3.4m5.1 0h1.7m-31.45 1.48h1.7m6.8 0h3.4m11.9 0h1.7m-4.25 1.48h1.7m-33.15 1.48h1.7m17 0h1.7m1.7 0h1.7m3.4 0h1.7m-26.35 1.48h1.7m2.55 1.48h1.7m5.1 0h1.7" stroke="#4E3F96" stroke-width="1.53" fill="none"/>
<path d="M511.9 311.0h1.7m26.35 7.4h1.7m5.95 1.48h1.7m8.5 0h1.7m5.1 0h1.7m-5.95 1.48h1.7m5.1 0h3.4m1.7 0h1.7m-72.25 1.48h1.7m39.1 0h1.7m3.4 0h1.7m5.1 0h1.7m3.4 0h1.7m6.8 0h1.7m-73.95 1.48h1.7m45.9 0h1.7m10.2 0h1.7m-62.05 1.48h1.7m3.4 0h3.4m43.35 1.48h1.7m20.4 0h1.7m1.7 0h1.7m-77.35 1.48h1.7m1.7 0h1.7m47.6 0h1.7m13.6 0h1.7m3.4 0h3.4m-70.55 1.48h1.7m59.5 0h1.7m-65.45 1.48h1.7m54.4 0h1.7m3.4 0h1.7m6.8 0h1.7m-67.15 1.48h1.7m51 0h1.7m3.4 0h3.4m11.9 0h1.7m-43.35 1.48h1.7m18.7 0h1.7m10.2 0h1.7m11.9 0h1.7m-77.35 1.48h1.7m1.7 0h3.4m30.6 0h1.7m22.1 0h1.7m-73.95 1.48h1.7m10.2 0h1.7m44.2 0h1.7m17 0h3.4m1.7 0h3.4m-72.25 1.48h1.7m11.9 0h1.7m30.6 0h1.7m18.7 0h1.7m-80.75 1.48h1.7m13.6 0h1.7m20.4 0h1.7m17 0h1.7m3.4 0h1.7m5.1 0h1.7m10.2 0h3.4m-82.45 1.48h3.4m11.9 0h5.1m22.1 0h1.7m6.8 0h1.7m6.8 0h1.7m5.1 0h5.1m17 0h1.7m-87.55 1.48h1.7m3.4 0h1.7m3.4 0h1.7m8.5 0h1.7m5.1 0h1.7m49.3 0h1.7m-72.25 1.48h5.1m22.1 0h3.4m6.8 0h1.7m5.1 0h1.7m10.2 0h1.7m-60.35 1.48h1.7m3.4 0h1.7m3.4 0h1.7m17 0h1.7m8.5 0h3.4m10.2 0h1.7m-55.25 1.48h1.7m5.1 0h1.7m5.1 0h1.7m11.9 0h1.7m17 0h1.7m10.2 0h3.4m3.4 0h1.7m8.5 0h1.7m-82.45 1.48h1.7m11.9 0h1.7m8.5 0h1.7m5.1 0h1.7m3.4 0h1.7m8.5 0h1.7m3.4 0h1.7m5.1 0h3.4m1.7 0h1.7m8.5 0h1.7m-50.15 1.48h1.7m8.5 0h1.7m5.1 0h3.4m-39.95 1.48h1.7m20.4 0h1.7m1.7 0h1.7m11.9 0h1.7m3.4 0h1.7m8.5 0h1.7m-45.05 1.48h3.4m8.5 0h1.7m13.6 0h1.7m17 0h1.7m8.5 0h1.7m5.1 0h1.7m3.4 0h1.7m-77.35 1.48h3.4m20.4 0h1.7m1.7 0h1.7m3.4 0h1.7m8.5 0h1.7m13.6 0h1.7m-67.15 1.48h1.7m23.8 0h1.7m23.8 0h1.7m28.9 0h1.7m-77.35 1.48h1.7m23.8 0h1.7m11.9 0h1.7m35.7 0h1.7m-84.15 1.48h3.4m6.8 0h1.7m8.5 0h1.7m1.7 0h1.7m52.7 0h1.7m-80.75 1.48h1.7m13.6 0h1.7m45.9 0h1.7m17 0h1.7m-73.95 1.48h1.7m23.8 0h1.7m1.7 0h1.7m6.8 0h1.7m39.1 0h1.7m-84.15 1.48h3.4m8.5 0h3.4m27.2 0h1.7m20.4 0h1.7m15.3 0h1.7m-87.55 1.48h3.4m68 0h1.7m8.5 0h1.7m-82.45 1.48h1.7m35.7 0h1.7m3.4 0h1.7m34 0h1.7m-58.65 1.48h1.7m34 0h1.7m13.6 0h1.7m5.1 0h1.7m-75.65 1.48h1.7m11.9 0h1.7m3.4 0h1.7m32.3 0h1.7m18.7 0h1.7m-17.85 1.48h1.7m8.5 0h1.7m-43.35 1.48h3.4m39.1 0h1.7m-46.75 1.48h1.7m23.8 0h1.7m13.6 0h1.7m11.9 0h1.7m-48.45 1.48h1.7m1.7 0h1.7m10.2 0h1.7m6.8 0h1.7m8.5 0h1.7m5.1 0h1.7m-43.35 1.48h1.7m22.1 0h1.7m3.4 0h3.4m8.5 0h1.7m-73.95 1.48h1.7m27.2 0h1.7m1.7 0h1.7m3.4 0h1.7m18.7 0h1.7m18.7 0h1.7m-70.55 1.48h1.7m25.5 0h1.7m25.5 0h3.4m-24.65 1.48h3.4m8.5 0h1.7m5.1 0h1.7m15.3 0h1.7m-51.85 1.48h1.7m6.8 0h1.7m6.8 0h1.7m5.1 0h1.7m1.7 0h1.7m8.5 0h1.7m3.4 0h1.7m1.7 0h1.7m-46.75 1.48h1.7m1.7 0h3.4m-4.25 1.48h1.7m-38.25 1.48h1.7m33.15 1.48h1.7m-26.35 4.44h1.7" stroke="#2F74B0" stroke-width="1.53" fill="none"/>
<path d="M510.2 311.0h1.7m23.8 0h1.7m-2.55 1.48h1.7m-14.45 1.48h1.7m15.3 0h1.7m-44.2 2.96h1.7m8.5 0h1.7m34 0h1.7m-31.45 1.48h1.7m37.4 0h8.5m6.8 0h1.7m-60.35 1.48h1.7m23.8 0h1.7m6.8 0h3.4m3.4 0h1.7m3.4 0h3.4m1.7 0h5.1m-56.95 1.48h1.7m23.8 0h1.7m8.5 0h1.7m3.4 0h1.7m1.7 0h1.7m1.7 0h5.1m1.7 0h3.4m5.1 0h1.7m1.7 0h1.7m-79.05 1.48h1.7m1.7 0h1.7m1.7 0h1.7m1.7 0h3.4m13.6 0h1.7m18.7 0h3.4m5.1 0h1.7m1.7 0h1.7m3.4 0h1.7m3.4 0h1.7m3.4 0h6.8m-80.75 1.48h3.4m1.7 0h1.7m1.7 0h3.4m3.4 0h1.7m23.8 0h1.7m6.8 0h1.7m1.7 0h3.4m5.1 0h1.7m5.1 0h1.7m1.7 0h1.7m3.4 0h5.1m-73.95 1.48h1.7m1.7 0h1.7m1.7 0h6.8m1.7 0h5.1m8.5 0h1.7m3.4 0h1.7m8.5 0h5.1m6.8 0h8.5m1.7 0h3.4m1.7 0h1.7m-73.95 1.48h1.7m5.1 0h1.7m5.1 0h1.7m20.4 0h3.4m1.7 0h1.7m3.4 0h1.7m1.7 0h3.4m3.4 0h1.7m5.1 0h1.7m8.5 0h3.4m-85.85 1.48h1.7m1.7 0h1.7m1.7 0h1.7m1.7 0h8.5m1.7 0h1.7m22.1 0h1.7m1.7 0h3.4m1.7 0h1.7m1.7 0h5.1m3.4 0h3.4m10.2 0h1.7m1.7 0h3.4m-84.15 1.48h1.7m1.7 0h3.4m5.1 0h1.7m1.7 0h1.7m3.4 0h1.7m3.4 0h1.7m17 0h1.7m1.7 0h3.4m5.1 0h3.4m3.4 0h1.7m1.7 0h1.7m5.1 0h8.5m1.7 0h3.4m-85.85 1.48h1.7m3.4 0h1.7m1.7 0h1.7m1.7 0h3.4m1.7 0h1.7m22.1 0h5.1m1.7 0h1.7m5.1 0h1.7m1.7 0h1.7m3.4 0h1.7m3.4 0h1.7m1.7 0h1.7m1.7 0h3.4m3.4 0h1.7m-84.15 1.48h1.7m8.5 0h3.4m1.7 0h1.7m1.7 0h3.4m1.7 0h1.7m17 0h3.4m5.1 0h6.8m13.6 0h6.8m1.7 0h1.7m1.7 0h3.4m-84.15 1.48h1.7m3.4 0h1.7m3.4 0h1.7m5.1 0h1.7m25.5 0h1.7m1.7 0h1.7m6.8 0h1.7m1.7 0h1.7m6.8 0h1.7m5.1 0h5.1m1.7 0h1.7m-85.85 1.48h5.1m1.7 0h1.7m3.4 0h1.7m10.2 0h1.7m6.8 0h3.4m5.1 0h1.7m8.5 0h3.4m1.7 0h3.4m5.1 0h3.4m5.1 0h8.5m1.7 0h3.4m-79.05 1.48h1.7m5.1 0h1.7m1.7 0h1.7m6.8 0h5.1m3.4 0h8.5m1.7 0h3.4m5.1 0h1.7m5.1 0h5.1m1.7 0h5.1m6.8 0h1.7m5.1 0h3.4m-85.85 1.48h1.7m3.4 0h3.4m3.4 0h1.7m1.7 0h1.7m1.7 0h3.4m11.9 0h3.4m6.8 0h3.4m18.7 0h1.7m5.1 0h1.7m6.8 0h3.4m-72.25 1.48h1.7m3.4 0h1.7m5.1 0h6.8m6.8 0h3.4m6.8 0h1.7m8.5 0h1.7m1.7 0h1.7m1.7 0h5.1m11.9 0h3.4m-85.85 1.48h1.7m1.7 0h3.4m11.9 0h1.7m1.7 0h1.7m1.7 0h3.4m1.7 0h1.7m1.7 0h5.1m3.4 0h1.7m5.1 0h6.8m1.7 0h1.7m15.3 0h3.4m1.7 0h1.7m-85.85 1.48h1.7m5.1 0h1.7m1.7 0h1.7m5.1 0h1.7m1.7 0h3.4m11.9 0h3.4m3.4 0h1.7m10.2 0h3.4m1.7 0h3.4m1.7 0h1.7m1.7 0h3.4m6.8 0h3.4m3.4 0h3.4m-84.15 1.48h3.4m11.9 0h1.7m1.7 0h6.8m1.7 0h6.8m3.4 0h6.8m1.7 0h3.4m6.8 0h1.7m1.7 0h1.7m5.1 0h1.7m1.7 0h3.4m1.7 0h1.7m1.7 0h3.4m3.4 0h1.7m-90.95 1.48h3.4m1.7 0h1.7m3.4 0h1.7m8.5 0h1.7m1.7 0h1.7m1.7 0h5.1m6.8 0h5.1m6.8 0h1.7m1.7 0h1.7m10.2 0h3.4m6.8 0h8.5m1.7 0h1.7m-85.85 1.48h5.1m3.4 0h1.7m3.4 0h1.7m1.7 0h1.7m1.7 0h1.7m1.7 0h1.7m3.4 0h1.7m3.4 0h1.7m1.7 0h1.7m1.7 0h1.7m1.7 0h6.8m1.7 0h1.7m1.7 0h3.4m1.7 0h1.7m3.4 0h3.4m5.1 0h3.4m5.1 0h5.1m-90.95 1.48h1.7m1.7 0h5.1m1.7 0h5.1m1.7 0h5.1m1.7 0h1.7m5.1 0h1.7m1.7 0h3.4m3.4 0h1.7m8.5 0h1.7m13.6 0h3.4m1.7 0h1.7m5.1 0h10.2m-84.15 1.48h1.7m1.7 0h6.8m3.4 0h1.7m11.9 0h3.4m3.4 0h1.7m11.9 0h1.7m1.7 0h1.7m1.7 0h3.4m6.8 0h5.1m1.7 0h1.7m6.8 0h3.4m-87.55 1.48h1.7m6.8 0h3.4m5.1 0h5.1m1.7 0h5.1m6.8 0h1.7m3.4 0h5.1m6.8 0h1.7m1.7 0h3.4m3.4 0h5.1m3.4 0h1.7m5.1 0h1.7m5.1 0h5.1m-89.25 1.48h3.4m1.7 0h3.4m1.7 0h5.1m5.1 0h1.7m3.4 0h3.4m1.7 0h1.7m3.4 0h1.7m5.1 0h1.7m1.7 0h8.5m1.7 0h1.7m1.7 0h3.4m1.7 0h5.1m1.7 0h1.7m1.7 0h5.1m6.8 0h1.7m-89.25 1.48h1.7m1.7 0h3.4m1.7 0h1.7m5.1 0h3.4m1.7 0h3.4m1.7 0h3.4m1.7 0h3.4m1.7 0h1.7m8.5 0h5.1m10.2 0h3.4m5.1 0h5.1m1.7 0h1.7m1.7 0h3.4m5.1 0h1.7m-89.25 1.48h1.7m3.4 0h1.7m1.7 0h3.4m1.7 0h1.7m6.8 0h1.7m5.1 0h1.7m1.7 0h1.7m8.5 0h3.4m13.6 0h1.7m6.8 0h6.8m1.7 0h5.1m-75.65 1.48h1.7m3.4 0h1.7m1.7 0h1.7m1.7 0h1.7m1.7 0h5.1m5.1 0h1.7m1.7 0h1.7m3.4 0h5.1m3.4 0h3.4m3.4 0h1.7m10.2 0h5.1m3.4 0h1.7m5.1 0h1.7m5.1 0h1.7m-85.85 1.48h1.7m3.4 0h1.7m1.7 0h3.4m1.7 0h1.7m11.9 0h3.4m5.1 0h1.7m1.7 0h3.4m3.4 0h5.1m6.8 0h3.4m3.4 0h3.4m1.7 0h1.7m8.5 0h5.1m-87.55 1.48h3.4m1.7 0h1.7m3.4 0h3.4m3.4 0h1.7m3.4 0h3.4m1.7 0h6.8m1.7 0h1.7m1.7 0h1.7m1.7 0h5.1m1.7 0h1.7m3.4 0h1.7m3.4 0h1.7m3.4 0h1.7m1.7 0h1.7m5.1 0h5.1m3.4 0h1.7m-87.55 1.48h10.2m3.4 0h1.7m8.5 0h3.4m1.7 0h1.7m1.7 0h1.7m3.4 0h1.7m3.4 0h5.1m1.7 0h1.7m1.7 0h3.4m3.4 0h1.7m1.7 0h1.7m3.4 0h3.4m10.2 0h1.7m1.7 0h3.4m-87.55 1.48h3.4m6.8 0h1.7m1.7 0h3.4m5.1 0h1.7m1.7 0h1.7m1.7 0h3.4m1.7 0h1.7m3.4 0h1.7m1.7 0h3.4m11.9 0h1.7m1.7 0h1.7m3.4 0h3.4m1.7 0h1.7m8.5 0h1.7m-84.15 1.48h1.7m3.4 0h8.5m3.4 0h1.7m10.2 0h3.4m5.1 0h5.1m3.4 0h1.7m1.7 0h3.4m3.4 0h6.8m3.4 0h6.8m3.4 0h3.4m6.8 0h3.4m-90.95 1.48h1.7m3.4 0h3.4m1.7 0h5.1m3.4 0h1.7m3.4 0h1.7m1.7 0h1.7m1.7 0h1.7m6.8 0h1.7m6.8 0h5.1m1.7 0h1.7m1.7 0h1.7m1.7 0h1.7m3.4 0h3.4m15.3 0h5.1m-89.25 1.48h3.4m1.7 0h1.7m3.4 0h1.7m8.5 0h1.7m3.4 0h1.7m1.7 0h1.7m1.7 0h1.7m1.7 0h1.7m1.7 0h1.7m5.1 0h1.7m1.7 0h5.1m3.4 0h1.7m3.4 0h1.7m5.1 0h5.1m1.7 0h1.7m1.7 0h1.7m1.7 0h1.7m1.7 0h1.7m-87.55 1.48h3.4m1.7 0h1.7m3.4 0h1.7m1.7 0h6.8m6.8 0h1.7m10.2 0h1.7m5.1 0h1.7m3.4 0h5.1m6.8 0h1.7m1.7 0h8.5m1.7 0h3.4m1.7 0h3.4m-77.35 1.48h1.7m5.1 0h1.7m3.4 0h3.4m1.7 0h1.7m1.7 0h5.1m1.7 0h1.7m1.7 0h1.7m1.7 0h3.4m3.4 0h1.7m3.4 0h3.4m8.5 0h1.7m3.4 0h1.7m5.1 0h3.4m5.1 0h1.7m-87.55 1.48h1.7m10.2 0h3.4m1.7 0h1.7m1.7 0h1.7m3.4 0h3.4m6.8 0h6.8m3.4 0h1.7m1.7 0h1.7m1.7 0h3.4m13.6 0h3.4m6.8 0h5.1m1.7 0h1.7m-89.25 1.48h1.7m3.4 0h3.4m1.7 0h1.7m1.7 0h1.7m5.1 0h1.7m1.7 0h3.4m1.7 0h1.7m1.7 0h5.1m3.4 0h3.4m3.4 0h1.7m1.7 0h1.7m1.7 0h1.7m5.1 0h1.7m1.7 0h3.4m1.7 0h1.7m1.7 0h5.1m1.7 0h1.7m1.7 0h1.7m-79.05 1.48h1.7m8.5 0h1.7m5.1 0h1.7m1.7 0h3.4m3.4 0h5.1m10.2 0h1.7m5.1 0h1.7m8.5 0h1.7m8.5 0h1.7m10.2 0h1.7m-87.55 1.48h1.7m1.7 0h1.7m6.8 0h3.4m5.1 0h1.7m5.1 0h3.4m1.7 0h1.7m3.4 0h1.7m3.4 0h1.7m1.7 0h1.7m6.8 0h3.4m5.1 0h1.7m17 0h1.7m1.7 0h1.7m-85.85 1.48h1.7m27.2 0h3.4m5.1 0h3.4m1.7 0h3.4m6.8 0h3.4m6.8 0h3.4m1.7 0h1.7m3.4 0h5.1m1.7 0h1.7m-56.95 1.48h1.7m5.1 0h1.7m15.3 0h1.7m8.5 0h1.7m15.3 0h1.7m1.7 0h5.1m-84.15 1.48h1.7m3.4 0h1.7m3.4 0h1.7m10.2 0h1.7m5.1 0h5.1m3.4 0h3.4m1.7 0h1.7m8.5 0h3.4m3.4 0h1.7m6.8 0h6.8m1.7 0h1.7m1.7 0h1.7m-82.45 1.48h1.7m1.7 0h1.7m10.2 0h1.7m11.9 0h3.4m1.7 0h6.8m1.7 0h5.1m13.6 0h3.4m6.8 0h1.7m3.4 0h1.7m-46.75 1.48h1.7m1.7 0h1.7m5.1 0h3.4m25.5 0h5.1m-46.75 1.48h3.4m1.7 0h1.7m-24.65 1.48h1.7m8.5 0h3.4m3.4 0h1.7m3.4 0h1.7m1.7 0h1.7m-16.15 1.48h1.7m1.7 0h5.1m-5.95 1.48h3.4m-28.05 1.48h1.7" stroke="#4FA89E" stroke-width="1.53" fill="none"/>
<path d="M498.3 308.1h3.4m10.2 0h1.7m6.8 0h5.1m-29.75 1.48h1.7m1.7 0h1.7m6.8 0h3.4m3.4 0h3.4m1.7 0h1.7m1.7 0h1.7m1.7 0h3.4m-26.35 1.48h5.1m5.1 0h3.4m1.7 0h1.7m1.7 0h6.8m-33.15 1.48h10.2m10.2 0h1.7m1.7 0h1.7m3.4 0h6.8m5.1 0h5.1m-46.75 1.48h5.1m5.1 0h3.4m3.4 0h1.7m3.4 0h1.7m1.7 0h1.7m1.7 0h1.7m1.7 0h1.7m5.1 0h5.1m-43.35 1.48h1.7m1.7 0h3.4m1.7 0h3.4m3.4 0h3.4m6.8 0h5.1m1.7 0h1.7m1.7 0h1.7m1.7 0h1.7m3.4 0h1.7m-39.95 1.48h5.1m3.4 0h1.7m8.5 0h5.1m3.4 0h1.7m3.4 0h8.5m13.6 0h1.7m-62.05 1.48h1.7m6.8 0h3.4m3.4 0h1.7m3.4 0h5.1m1.7 0h1.7m5.1 0h1.7m1.7 0h1.7m1.7 0h1.7m5.1 0h1.7m5.1 0h1.7m10.2 0h1.7m-65.45 1.48h8.5m3.4 0h1.7m1.7 0h1.7m1.7 0h3.4m5.1 0h6.8m3.4 0h1.7m1.7 0h3.4m8.5 0h1.7m15.3 0h1.7m-68.85 1.48h1.7m1.7 0h3.4m1.7 0h8.5m1.7 0h1.7m3.4 0h1.7m3.4 0h1.7m3.4 0h1.7m1.7 0h1.7m6.8 0h1.7m5.1 0h1.7m10.2 0h1.7m-68.85 1.48h1.7m5.1 0h1.7m3.4 0h10.2m1.7 0h1.7m1.7 0h3.4m5.1 0h1.7m3.4 0h1.7m8.5 0h1.7m-41.65 1.48h1.7m3.4 0h1.7m1.7 0h3.4m6.8 0h1.7m3.4 0h3.4m5.1 0h1.7m20.4 0h1.7m1.7 0h1.7m-72.25 1.48h1.7m5.1 0h1.7m20.4 0h1.7m8.5 0h1.7m3.4 0h1.7m13.6 0h1.7m20.4 0h1.7m-84.15 1.48h1.7m1.7 0h1.7m1.7 0h1.7m1.7 0h1.7m1.7 0h1.7m5.1 0h1.7m3.4 0h3.4m1.7 0h1.7m3.4 0h3.4m8.5 0h1.7m3.4 0h1.7m13.6 0h3.4m8.5 0h1.7m-73.95 1.48h1.7m11.9 0h1.7m3.4 0h1.7m1.7 0h1.7m1.7 0h5.1m1.7 0h1.7m3.4 0h1.7m3.4 0h1.7m10.2 0h1.7m3.4 0h1.7m15.3 0h1.7m-77.35 1.48h1.7m3.4 0h1.7m1.7 0h3.4m1.7 0h1.7m3.4 0h1.7m1.7 0h1.7m3.4 0h1.7m3.4 0h1.7m18.7 0h1.7m6.8 0h1.7m-72.25 1.48h1.7m1.7 0h1.7m6.8 0h1.7m11.9 0h10.2m3.4 0h1.7m10.2 0h5.1m11.9 0h1.7m-62.05 1.48h1.7m5.1 0h1.7m1.7 0h1.7m3.4 0h1.7m1.7 0h3.4m5.1 0h1.7m5.1 0h1.7m3.4 0h1.7m1.7 0h1.7m18.7 0h1.7m-72.25 1.48h3.4m1.7 0h1.7m3.4 0h1.7m3.4 0h1.7m1.7 0h1.7m3.4 0h6.8m1.7 0h6.8m3.4 0h1.7m1.7 0h1.7m6.8 0h1.7m8.5 0h1.7m8.5 0h1.7m6.8 0h1.7m-79.05 1.48h1.7m10.2 0h5.1m3.4 0h5.1m5.1 0h1.7m1.7 0h1.7m1.7 0h1.7m-12.75 1.48h3.4m15.3 0h1.7m6.8 0h1.7m11.9 0h1.7m-72.25 1.48h1.7m25.5 0h1.7m1.7 0h3.4m5.1 0h5.1m5.1 0h1.7m6.8 0h3.4m20.4 0h1.7m-82.45 1.48h1.7m1.7 0h1.7m1.7 0h3.4m22.1 0h1.7m3.4 0h1.7m3.4 0h1.7m6.8 0h1.7m18.7 0h1.7m-65.45 1.48h3.4m18.7 0h1.7m13.6 0h1.7m15.3 0h1.7m6.8 0h1.7m-73.95 1.48h1.7m8.5 0h1.7m1.7 0h1.7m27.2 0h1.7m6.8 0h1.7m3.4 0h1.7m17 0h1.7m-68.85 1.48h1.7m6.8 0h1.7m34 0h1.7m6.8 0h1.7m5.1 0h1.7m1.7 0h1.7m3.4 0h1.7m8.5 0h1.7m-85.85 1.48h1.7m6.8 0h1.7m1.7 0h1.7m5.1 0h1.7m1.7 0h1.7m17 0h1.7m6.8 0h1.7m5.1 0h1.7m1.7 0h1.7m5.1 0h1.7m1.7 0h1.7m-56.95 1.48h1.7m37.4 0h1.7m25.5 0h1.7m-46.75 1.48h1.7m3.4 0h1.7m3.4 0h1.7m3.4 0h1.7m6.8 0h1.7m-50.15 1.48h1.7m3.4 0h1.7m3.4 0h1.7m3.4 0h1.7m3.4 0h1.7m5.1 0h1.7m6.8 0h1.7m10.2 0h1.7m10.2 0h1.7m-73.95 1.48h1.7m34 0h1.7m42.5 0h3.4m-80.75 1.48h1.7m10.2 0h1.7m5.1 0h1.7m8.5 0h3.4m22.1 0h1.7m28.9 0h1.7m-89.25 1.48h1.7m15.3 0h1.7m3.4 0h1.7m3.4 0h1.7m10.2 0h1.7m1.7 0h1.7m5.1 0h1.7m6.8 0h1.7m13.6 0h1.7m1.7 0h1.7m-67.15 1.48h1.7m20.4 0h5.1m11.9 0h1.7m28.9 0h1.7m-70.55 1.48h1.7m5.1 0h1.7m5.1 0h3.4m23.8 0h1.7m3.4 0h3.4m3.4 0h1.7m6.8 0h1.7m5.1 0h1.7m3.4 0h3.4m-89.25 1.48h1.7m5.1 0h1.7m11.9 0h1.7m8.5 0h1.7m17 0h1.7m15.3 0h1.7m5.1 0h1.7m3.4 0h1.7m3.4 0h1.7m-75.65 1.48h1.7m6.8 0h1.7m3.4 0h1.7m30.6 0h1.7m3.4 0h1.7m6.8 0h1.7m1.7 0h5.1m10.2 0h1.7m-72.25 1.48h1.7m1.7 0h1.7m5.1 0h1.7m11.9 0h1.7m8.5 0h1.7m3.4 0h1.7m3.4 0h1.7m1.7 0h1.7m-56.95 1.48h1.7m10.2 0h1.7m5.1 0h1.7m3.4 0h1.7m1.7 0h1.7m3.4 0h1.7m11.9 0h1.7m18.7 0h1.7m6.8 0h1.7m-67.15 1.48h1.7m3.4 0h1.7m1.7 0h1.7m5.1 0h1.7m11.9 0h1.7m3.4 0h1.7m8.5 0h1.7m10.2 0h1.7m3.4 0h1.7m-67.15 1.48h3.4m6.8 0h1.7m1.7 0h1.7m5.1 0h1.7m6.8 0h1.7m6.8 0h1.7m1.7 0h1.7m1.7 0h1.7m3.4 0h1.7m11.9 0h1.7m3.4 0h1.7m-80.75 1.48h1.7m3.4 0h1.7m3.4 0h1.7m1.7 0h1.7m3.4 0h1.7m6.8 0h1.7m1.7 0h1.7m5.1 0h1.7m1.7 0h1.7m8.5 0h3.4m8.5 0h3.4m15.3 0h1.7m-62.05 1.48h1.7m5.1 0h5.1m1.7 0h1.7m1.7 0h5.1m1.7 0h1.7m-22.95 1.48h1.7m23.8 0h1.7m13.6 0h1.7m18.7 0h1.7m-90.95 1.48h1.7m5.1 0h1.7m3.4 0h1.7m3.4 0h1.7m27.2 0h1.7m11.9 0h1.7m6.8 0h1.7m10.2 0h1.7m-41.65 1.48h1.7m8.5 0h1.7m30.6 0h1.7m-79.05 1.48h1.7m13.6 0h3.4m1.7 0h1.7m3.4 0h3.4m6.8 0h1.7m3.4 0h1.7m10.2 0h1.7m11.9 0h1.7m1.7 0h1.7m1.7 0h1.7m-72.25 1.48h3.4m6.8 0h3.4m5.1 0h1.7m15.3 0h1.7m5.1 0h1.7m1.7 0h3.4m13.6 0h1.7m-72.25 1.48h1.7m3.4 0h1.7m3.4 0h8.5m1.7 0h1.7m1.7 0h8.5m-31.45 1.48h1.7m1.7 0h1.7m3.4 0h1.7m6.8 0h3.4m1.7 0h1.7m5.1 0h1.7m1.7 0h1.7m5.1 0h1.7m3.4 0h1.7m20.4 0h1.7m5.1 0h1.7m5.1 0h1.7m-82.45 1.48h3.4m1.7 0h3.4m3.4 0h1.7m1.7 0h1.7m1.7 0h3.4m1.7 0h1.7m1.7 0h3.4m13.6 0h1.7m1.7 0h1.7m10.2 0h1.7m5.1 0h1.7m-67.15 1.48h1.7m5.1 0h5.1m3.4 0h1.7m1.7 0h3.4m1.7 0h6.8m25.5 0h1.7m8.5 0h1.7m-67.15 1.48h5.1m3.4 0h1.7m1.7 0h3.4m3.4 0h1.7m1.7 0h3.4m3.4 0h3.4m-31.45 1.48h3.4m1.7 0h1.7m1.7 0h1.7m1.7 0h3.4m1.7 0h3.4m5.1 0h1.7m5.1 0h1.7m-33.15 1.48h1.7m6.8 0h1.7m1.7 0h3.4m1.7 0h1.7m5.1 0h3.4m6.8 0h1.7m-34.85 1.48h1.7m1.7 0h3.4m1.7 0h6.8m3.4 0h1.7m8.5 0h1.7m-31.45 1.48h5.1m1.7 0h1.7m5.1 0h10.2m3.4 0h1.7m-28.05 1.48h3.4m1.7 0h1.7m1.7 0h3.4m1.7 0h1.7m-17.85 1.48h1.7m1.7 0h6.8m1.7 0h1.7m1.7 0h6.8m-21.25 1.48h1.7m5.1 0h1.7m1.7 0h1.7" stroke="#98C898" stroke-width="1.53" fill="none"/>
<path d="M494.9 308.1h1.7m5.1 0h5.1m1.7 0h3.4m3.4 0h1.7m1.7 0h1.7m5.1 0h3.4m-31.45 1.48h1.7m1.7 0h1.7m1.7 0h1.7m5.1 0h3.4m6.8 0h1.7m6.8 0h5.1m-39.95 1.48h1.7m1.7 0h5.1m13.6 0h1.7m1.7 0h1.7m6.8 0h5.1m3.4 0h1.7m-33.15 1.48h1.7m1.7 0h5.1m3.4 0h1.7m1.7 0h3.4m6.8 0h3.4m-33.15 1.48h1.7m5.1 0h3.4m1.7 0h3.4m1.7 0h1.7m5.1 0h1.7m3.4 0h1.7m-29.75 1.48h1.7m3.4 0h3.4m5.1 0h3.4m6.8 0h1.7m8.5 0h3.4m-26.35 1.48h1.7m3.4 0h1.7m5.1 0h3.4m1.7 0h3.4m-31.45 1.48h1.7m3.4 0h3.4m3.4 0h1.7m5.1 0h1.7m1.7 0h1.7m1.7 0h1.7m1.7 0h1.7m1.7 0h1.7m1.7 0h1.7m-28.05 1.48h1.7m6.8 0h5.1m6.8 0h1.7m-36.55 1.48h1.7m18.7 0h1.7m1.7 0h3.4m3.4 0h1.7m1.7 0h1.7m6.8 0h1.7m-9.35 1.48h1.7m3.4 0h1.7m-28.05 1.48h1.7m8.5 0h5.1m5.1 0h1.7m3.4 0h1.7m-31.45 1.48h1.7m18.7 0h6.8m3.4 0h1.7m3.4 0h1.7m-24.65 1.48h1.7m3.4 0h1.7m1.7 0h3.4m3.4 0h1.7m1.7 0h1.7m22.1 0h1.7m-45.05 1.48h3.4m1.7 0h1.7m8.5 0h1.7m1.7 0h1.7m-9.35 1.48h1.7m1.7 0h3.4m-33.15 1.48h1.7m11.9 0h1.7m13.6 0h1.7m-5.95 1.48h1.7m1.7 0h5.1m-11.05 1.48h1.7m6.8 0h1.7m17 0h1.7m-52.7 2.96h1.7m5.1 0h1.7m12.75 1.48h1.7m-15.3 2.96h1.7m47.6 0h1.7m-26.35 1.48h1.7m-7.65 4.44h1.7m3.4 5.92h1.7m30.6 0h1.7m-32.3 2.96h1.7m30.6 5.92h1.7m-34.85 1.48h1.7m37.4 0h1.7m-42.5 2.96h1.7m49.3 2.96h1.7m-77.35 1.48h1.7m10.2 0h1.7m35.7 0h1.7m-45.9 2.96h1.7m-11.05 1.48h3.4m3.4 0h1.7m34 0h1.7m-39.95 1.48h1.7m10.2 0h1.7m24.65 1.48h1.7m-41.65 1.48h5.1m49.3 0h1.7m-36.55 1.48h1.7m-28.05 1.48h1.7m6.8 0h3.4m6.8 0h1.7m-17.85 1.48h1.7m10.2 0h1.7m1.7 0h1.7m5.1 0h1.7m-24.65 1.48h1.7m5.1 0h1.7m3.4 0h1.7m6.8 0h1.7m-22.95 1.48h3.4m1.7 0h1.7m10.2 0h1.7m-22.95 1.48h3.4m22.1 0h1.7m-26.35 1.48h1.7m5.1 0h1.7m1.7 0h1.7m1.7 0h1.7m-5.95 1.48h1.7m3.4 0h1.7m3.4 0h1.7m1.7 0h3.4m-27.2 2.96h1.7m1.7 0h1.7" stroke="#D2E090" stroke-width="1.53" fill="none"/>
<path d="M506.8 308.1h1.7m8.5 0h1.7m-16.15 1.48h1.7m20.4 0h1.7m-17.85 1.48h1.7m-2.55 1.48h1.7m5.1 0h1.7m12.75 1.48h1.7m1.7 0h1.7m-25.5 2.96h1.7m1.7 0h1.7m1.7 0h1.7m24.65 1.48h1.7m-17 2.96h1.7m-7.65 1.48h1.7m6.8 0h1.7m-28.9 11.83h1.7m8.5 0h1.7m-17 5.92h1.7m1.7 0h1.7m34 2.96h1.7m42.5 2.96h1.7m-83.3 5.92h1.7m79.05 1.48h1.7m-78.2 2.96h1.7m28.9 2.96h1.7m-27.2 14.79h1.7m1.7 0h1.7m31.45 4.44h1.7m11.9 0h1.7m-39.95 1.48h1.7m32.3 0h1.7m-59.5 5.92h1.7m27.2 0h1.7m-25.5 2.96h1.7m5.95 1.48h1.7m-7.65 1.48h1.7m-3.4 2.96h1.7m3.4 0h1.7" stroke="#EAEAAE" stroke-width="1.53" fill="none"/>
<path d="M513.6 308.1h1.7m11.05 10.35h1.7m-14.45 10.35h1.7m51 0h1.7m-37.4 2.96h1.7m3.4 0h1.7m22.95 7.39h1.7m-60.35 7.39h1.7m0 2.96h1.7m54.4 5.92h1.7m-.85 1.48h1.7m-39.1 2.96h1.7m28.9 2.96h1.7m-5.1 17.75h1.7m21.25 1.48h1.7m-70.55 4.44h1.7m4.25 7.4h1.7" stroke="#EECF84" stroke-width="1.53" fill="none"/>
<path d="M496.6 308.1h1.7m32.3 14.79h1.7" stroke="#EE9C5C" stroke-width="1.53" fill="none"/>
<path d="M585.1,334.0C588.4,339.0 589.5,349.0 589.5,357.0C589.5,366.0 588.7,373.0 585.4,378.5L584.5,377.0L585.1,334.0z" fill="#B089C6"/>
<rect x="597.1" y="303.0" width="97.4" height="97.4" fill="#BFC0BF"/>
<path d="M603.5 308.1h1.7m5.1 0h3.4m1.7 0h1.7m1.7 0h1.7m-19.55 1.48h1.7m5.1 0h1.7m3.4 0h5.1m5.1 0h5.1m6.8 0h1.7m-34.85 1.48h1.7m11.9 0h1.7m3.4 0h1.7m1.7 0h1.7m3.4 0h1.7m1.7 0h1.7m1.7 0h1.7m1.7 0h1.7m-31.45 1.48h1.7m10.2 0h1.7m3.4 0h1.7m10.2 0h3.4m1.7 0h3.4m-28.05 1.48h1.7m6.8 0h6.8m1.7 0h1.7m1.7 0h3.4m1.7 0h3.4m-43.35 1.48h1.7m1.7 0h3.4m3.4 0h3.4m1.7 0h1.7m13.6 0h5.1m5.1 0h1.7m-26.35 1.48h1.7m5.1 0h1.7m8.5 0h5.1m1.7 0h3.4m13.6 0h3.4m-58.65 1.48h3.4m1.7 0h1.7m5.1 0h1.7m1.7 0h1.7m3.4 0h1.7m1.7 0h1.7m3.4 0h1.7m5.1 0h1.7m13.6 0h1.7m1.7 0h5.1m1.7 0h1.7m1.7 0h1.7m-33.15 1.48h1.7m3.4 0h1.7m6.8 0h3.4m1.7 0h1.7m1.7 0h6.8m1.7 0h1.7m1.7 0h1.7m-68.85 1.48h3.4m11.9 0h3.4m6.8 0h3.4m1.7 0h1.7m6.8 0h1.7m3.4 0h6.8m3.4 0h8.5m1.7 0h1.7m1.7 0h1.7m1.7 0h1.7m-75.65 1.48h1.7m1.7 0h1.7m11.9 0h5.1m1.7 0h5.1m10.2 0h1.7m3.4 0h1.7m6.8 0h1.7m3.4 0h3.4m3.4 0h1.7m1.7 0h8.5m1.7 0h1.7m-79.05 1.48h1.7m5.1 0h6.8m8.5 0h1.7m3.4 0h6.8m10.2 0h1.7m1.7 0h11.9m1.7 0h1.7m3.4 0h1.7m1.7 0h1.7m1.7 0h1.7m3.4 0h1.7m-82.45 1.48h1.7m15.3 0h1.7m5.1 0h1.7m8.5 0h3.4m10.2 0h1.7m15.3 0h3.4m5.1 0h6.8m1.7 0h1.7m-84.15 1.48h1.7m11.9 0h1.7m11.9 0h1.7m1.7 0h3.4m1.7 0h1.7m1.7 0h1.7m1.7 0h1.7m5.1 0h1.7m5.1 0h1.7m1.7 0h3.4m1.7 0h3.4m1.7 0h3.4m1.7 0h1.7m5.1 0h1.7m-70.55 1.48h5.1m1.7 0h3.4m1.7 0h3.4m1.7 0h1.7m5.1 0h3.4m5.1 0h1.7m1.7 0h1.7m1.7 0h1.7m5.1 0h1.7m1.7 0h5.1m1.7 0h1.7m5.1 0h5.1m-75.65 1.48h1.7m11.9 0h3.4m1.7 0h3.4m5.1 0h1.7m1.7 0h3.4m5.1 0h1.7m5.1 0h3.4m10.2 0h3.4m1.7 0h3.4m5.1 0h1.7m5.1 0h1.7m-82.45 1.48h1.7m15.3 0h1.7m1.7 0h5.1m8.5 0h1.7m3.4 0h3.4m5.1 0h1.7m10.2 0h1.7m3.4 0h1.7m5.1 0h5.1m1.7 0h3.4m-85.85 1.48h1.7m1.7 0h1.7m13.6 0h1.7m1.7 0h3.4m3.4 0h1.7m3.4 0h1.7m6.8 0h1.7m5.1 0h1.7m5.1 0h1.7m5.1 0h5.1m1.7 0h3.4m1.7 0h1.7m1.7 0h3.4m1.7 0h3.4m-80.75 1.48h6.8m1.7 0h1.7m3.4 0h1.7m5.1 0h1.7m5.1 0h1.7m27.2 0h1.7m6.8 0h3.4m3.4 0h3.4m1.7 0h3.4m1.7 0h1.7m-84.15 1.48h1.7m3.4 0h1.7m11.9 0h1.7m1.7 0h1.7m1.7 0h3.4m1.7 0h1.7m22.1 0h3.4m5.1 0h5.1m3.4 0h5.1m1.7 0h1.7m1.7 0h1.7m-80.75 1.48h1.7m3.4 0h1.7m10.2 0h1.7m1.7 0h1.7m5.1 0h1.7m1.7 0h1.7m1.7 0h1.7m6.8 0h1.7m3.4 0h3.4m3.4 0h5.1m1.7 0h1.7m1.7 0h1.7m1.7 0h8.5m3.4 0h1.7m-84.15 1.48h1.7m3.4 0h3.4m3.4 0h1.7m15.3 0h1.7m1.7 0h1.7m8.5 0h1.7m6.8 0h3.4m1.7 0h1.7m1.7 0h1.7m3.4 0h1.7m3.4 0h1.7m1.7 0h3.4m-82.45 1.48h1.7m18.7 0h8.5m8.5 0h1.7m1.7 0h1.7m8.5 0h1.7m1.7 0h1.7m1.7 0h1.7m1.7 0h1.7m1.7 0h1.7m3.4 0h10.2m8.5 0h1.7m-67.15 1.48h1.7m3.4 0h1.7m5.1 0h1.7m11.9 0h1.7m1.7 0h1.7m3.4 0h1.7m5.1 0h1.7m1.7 0h3.4m1.7 0h3.4m3.4 0h1.7m3.4 0h1.7m-85.85 1.48h1.7m11.9 0h1.7m1.7 0h1.7m11.9 0h5.1m6.8 0h1.7m8.5 0h1.7m6.8 0h8.5m1.7 0h1.7m1.7 0h3.4m1.7 0h3.4m3.4 0h1.7m-79.05 1.48h1.7m5.1 0h1.7m17 0h1.7m3.4 0h3.4m1.7 0h1.7m3.4 0h1.7m1.7 0h1.7m3.4 0h3.4m1.7 0h1.7m1.7 0h1.7m1.7 0h1.7m1.7 0h1.7m1.7 0h1.7m3.4 0h3.4m-85.85 1.48h1.7m5.1 0h1.7m10.2 0h1.7m15.3 0h6.8m11.9 0h3.4m3.4 0h8.5m1.7 0h5.1m6.8 0h1.7m1.7 0h3.4m-85.85 1.48h1.7m8.5 0h5.1m8.5 0h1.7m8.5 0h1.7m1.7 0h1.7m6.8 0h3.4m6.8 0h1.7m1.7 0h1.7m1.7 0h3.4m1.7 0h1.7m3.4 0h1.7m1.7 0h1.7m-82.45 1.48h1.7m6.8 0h1.7m8.5 0h5.1m3.4 0h3.4m8.5 0h6.8m1.7 0h5.1m1.7 0h1.7m6.8 0h1.7m6.8 0h1.7m1.7 0h3.4m1.7 0h1.7m5.1 0h3.4m-84.15 1.48h1.7m5.1 0h1.7m8.5 0h1.7m1.7 0h1.7m1.7 0h3.4m10.2 0h1.7m11.9 0h1.7m6.8 0h1.7m3.4 0h1.7m1.7 0h6.8m3.4 0h1.7m3.4 0h1.7m-90.95 1.48h1.7m13.6 0h3.4m6.8 0h3.4m1.7 0h1.7m5.1 0h3.4m1.7 0h1.7m1.7 0h3.4m1.7 0h1.7m15.3 0h3.4m5.1 0h5.1m-75.65 1.48h3.4m3.4 0h3.4m18.7 0h3.4m3.4 0h1.7m6.8 0h3.4m5.1 0h5.1m5.1 0h1.7m3.4 0h5.1m1.7 0h1.7m3.4 0h1.7m-73.95 1.48h1.7m17 0h5.1m5.1 0h5.1m1.7 0h1.7m6.8 0h1.7m3.4 0h1.7m3.4 0h1.7m1.7 0h5.1m1.7 0h3.4m1.7 0h1.7m1.7 0h1.7m-85.85 1.48h1.7m13.6 0h3.4m3.4 0h1.7m8.5 0h1.7m3.4 0h1.7m3.4 0h1.7m8.5 0h3.4m10.2 0h1.7m8.5 0h1.7m1.7 0h1.7m-82.45 1.48h5.1m3.4 0h1.7m5.1 0h1.7m1.7 0h1.7m8.5 0h3.4m6.8 0h5.1m8.5 0h3.4m1.7 0h3.4m1.7 0h1.7m5.1 0h1.7m5.1 0h1.7m5.1 0h6.8m-82.45 1.48h1.7m3.4 0h1.7m1.7 0h1.7m8.5 0h3.4m1.7 0h5.1m11.9 0h1.7m1.7 0h3.4m1.7 0h1.7m6.8 0h1.7m1.7 0h3.4m1.7 0h3.4m1.7 0h3.4m3.4 0h1.7m-84.15 1.48h6.8m6.8 0h1.7m6.8 0h1.7m1.7 0h1.7m5.1 0h1.7m3.4 0h1.7m1.7 0h3.4m11.9 0h1.7m1.7 0h5.1m10.2 0h3.4m-82.45 1.48h3.4m6.8 0h1.7m13.6 0h1.7m6.8 0h1.7m3.4 0h3.4m5.1 0h3.4m3.4 0h3.4m10.2 0h5.1m5.1 0h6.8m1.7 0h1.7m-72.25 1.48h1.7m1.7 0h1.7m8.5 0h1.7m5.1 0h1.7m1.7 0h6.8m6.8 0h1.7m15.3 0h1.7m6.8 0h1.7m1.7 0h3.4m1.7 0h1.7m-89.25 1.48h1.7m5.1 0h3.4m1.7 0h3.4m1.7 0h3.4m3.4 0h1.7m8.5 0h1.7m3.4 0h1.7m6.8 0h1.7m3.4 0h1.7m6.8 0h3.4m1.7 0h1.7m13.6 0h1.7m-79.05 1.48h3.4m11.9 0h1.7m5.1 0h1.7m3.4 0h1.7m1.7 0h1.7m1.7 0h1.7m5.1 0h3.4m13.6 0h1.7m1.7 0h1.7m1.7 0h1.7m8.5 0h1.7m1.7 0h5.1m-80.75 1.48h1.7m1.7 0h1.7m8.5 0h1.7m3.4 0h5.1m1.7 0h3.4m1.7 0h1.7m1.7 0h5.1m1.7 0h1.7m6.8 0h5.1m3.4 0h1.7m5.1 0h5.1m5.1 0h8.5m-89.25 1.48h1.7m6.8 0h1.7m11.9 0h1.7m6.8 0h1.7m8.5 0h1.7m1.7 0h1.7m1.7 0h1.7m13.6 0h1.7m5.1 0h1.7m1.7 0h3.4m5.1 0h1.7m3.4 0h1.7m-87.55 1.48h1.7m3.4 0h1.7m1.7 0h1.7m10.2 0h1.7m1.7 0h3.4m3.4 0h1.7m5.1 0h1.7m1.7 0h1.7m1.7 0h1.7m1.7 0h1.7m1.7 0h6.8m8.5 0h3.4m6.8 0h5.1m-84.15 1.48h1.7m3.4 0h1.7m1.7 0h1.7m1.7 0h1.7m3.4 0h1.7m15.3 0h1.7m3.4 0h1.7m10.2 0h1.7m1.7 0h6.8m6.8 0h5.1m10.2 0h1.7m3.4 0h1.7m-87.55 1.48h1.7m5.1 0h1.7m10.2 0h5.1m8.5 0h5.1m1.7 0h1.7m5.1 0h1.7m1.7 0h1.7m6.8 0h3.4m8.5 0h5.1m1.7 0h1.7m1.7 0h3.4m-85.85 1.48h1.7m6.8 0h1.7m8.5 0h1.7m3.4 0h1.7m1.7 0h1.7m6.8 0h5.1m1.7 0h3.4m1.7 0h1.7m1.7 0h5.1m1.7 0h10.2m3.4 0h3.4m1.7 0h8.5m-82.45 1.48h1.7m11.9 0h1.7m1.7 0h3.4m5.1 0h1.7m3.4 0h1.7m1.7 0h3.4m1.7 0h1.7m1.7 0h1.7m6.8 0h1.7m3.4 0h5.1m1.7 0h5.1m6.8 0h3.4m3.4 0h1.7m1.7 0h1.7m-84.15 1.48h5.1m6.8 0h1.7m3.4 0h3.4m3.4 0h1.7m3.4 0h3.4m1.7 0h1.7m1.7 0h3.4m1.7 0h3.4m3.4 0h1.7m1.7 0h5.1m1.7 0h3.4m1.7 0h1.7m1.7 0h1.7m5.1 0h1.7m-73.95 1.48h3.4m5.1 0h1.7m5.1 0h1.7m1.7 0h3.4m6.8 0h1.7m5.1 0h1.7m1.7 0h1.7m3.4 0h1.7m5.1 0h6.8m6.8 0h6.8m1.7 0h1.7m-63.75 1.48h1.7m11.9 0h3.4m5.1 0h5.1m1.7 0h3.4m3.4 0h10.2m1.7 0h1.7m1.7 0h3.4m1.7 0h5.1m1.7 0h1.7m1.7 0h1.7m-62.05 1.48h3.4m8.5 0h3.4m1.7 0h1.7m3.4 0h1.7m1.7 0h1.7m5.1 0h1.7m1.7 0h3.4m8.5 0h1.7m1.7 0h3.4m1.7 0h1.7m-80.75 1.48h1.7m20.4 0h1.7m1.7 0h1.7m1.7 0h3.4m3.4 0h3.4m1.7 0h3.4m28.9 0h1.7m-68.85 1.48h1.7m8.5 0h1.7m3.4 0h1.7m6.8 0h1.7m3.4 0h3.4m-36.55 1.48h1.7m1.7 0h1.7m10.2 0h1.7m5.1 0h3.4m3.4 0h1.7m1.7 0h1.7m1.7 0h1.7m-38.25 1.48h1.7m10.2 0h1.7m13.6 0h1.7m1.7 0h1.7m1.7 0h1.7m-33.15 1.48h3.4m20.4 0h5.1m-16.15 1.48h1.7m6.8 0h3.4m-28.05 1.48h1.7m5.1 0h5.1m5.1 0h1.7m1.7 0h1.7m-19.55 1.48h3.4m3.4 0h1.7" stroke="#4E3F96" stroke-width="1.53" fill="none"/>
<path d="M622.2 308.1h3.4m7.65 1.48h1.7m3.4 0h1.7m-12.75 1.48h1.7m8.5 0h1.7m-5.95 1.48h1.7m-14.45 1.48h1.7m20.4 0h1.7m-41.65 1.48h1.7m35.7 0h1.7m1.7 0h1.7m1.7 0h1.7m-14.45 1.48h3.4m5.1 0h1.7m-31.45 1.48h1.7m32.3 0h1.7m17 0h1.7m-39.1 2.96h1.7m39.1 0h1.7m1.7 0h1.7m-33.15 1.48h1.7m17 0h1.7m3.4 0h3.4m11.9 0h1.7m-56.95 1.48h1.7m13.6 0h1.7m-19.55 1.48h1.7m8.5 0h1.7m20.4 0h1.7m1.7 0h1.7m11.9 0h1.7m-31.45 1.48h1.7m1.7 0h1.7m22.1 0h1.7m3.4 0h1.7m-39.95 1.48h1.7m34 0h3.4m6.8 0h1.7m-53.55 1.48h1.7m3.4 0h1.7m23.8 0h1.7m13.6 0h3.4m3.4 0h3.4m-28.05 1.48h1.7m8.5 0h1.7m1.7 0h1.7m-46.75 1.48h1.7m30.6 0h1.7m-19.55 1.48h1.7m34 0h1.7m3.4 0h1.7m3.4 0h1.7m-24.65 1.48h1.7m1.7 0h1.7m13.6 0h1.7m-39.95 1.48h1.7m13.6 0h1.7m10.2 0h1.7m-58.65 1.48h1.7m6.8 0h1.7m11.9 0h1.7m25.5 0h1.7m18.7 0h1.7m-22.95 1.48h1.7m3.4 0h1.7m10.2 0h1.7m-56.95 1.48h1.7m3.4 0h1.7m10.2 0h1.7m15.3 0h1.7m20.4 0h1.7m5.1 0h1.7m-51.85 1.48h3.4m42.5 0h1.7m-55.25 1.48h1.7m44.2 0h1.7m8.5 0h1.7m1.7 0h1.7m-41.65 1.48h1.7m6.8 0h3.4m8.5 0h1.7m10.2 0h1.7m1.7 0h1.7m-53.55 1.48h1.7m8.5 0h1.7m8.5 0h1.7m20.4 0h1.7m8.5 0h1.7m-75.65 1.48h1.7m47.6 0h1.7m18.7 0h1.7m-73.95 1.48h1.7m30.6 0h1.7m28.9 0h1.7m13.6 0h1.7m-60.35 1.48h1.7m18.7 0h1.7m11.9 0h1.7m20.4 0h1.7m1.7 0h1.7m-70.55 1.48h1.7m11.9 0h1.7m3.4 0h1.7m14.45 1.48h1.7m32.3 0h1.7m-80.75 1.48h1.7m18.7 0h1.7m6.8 0h1.7m8.5 0h1.7m22.1 0h3.4m5.1 0h1.7m3.4 0h1.7m-48.45 1.48h1.7m42.5 0h1.7m-43.35 1.48h1.7m30.6 0h1.7m3.4 0h1.7m5.1 0h1.7m-51.85 1.48h1.7m39.1 0h1.7m5.1 0h1.7m-17.85 1.48h1.7m17 0h1.7m-38.25 1.48h1.7m6.8 0h1.7m15.3 0h1.7m1.7 0h1.7m1.7 0h1.7m3.4 0h1.7m-55.25 1.48h1.7m8.5 0h1.7m34 0h1.7m5.1 0h1.7m1.7 0h1.7m-90.95 1.48h1.7m32.3 0h1.7m6.8 0h1.7m6.8 0h1.7m11.9 0h1.7m5.1 0h1.7m5.1 0h1.7m-40.8 2.96h3.4m15.3 0h1.7m13.6 0h1.7m6.8 0h1.7m-31.45 1.48h1.7m6.8 0h1.7m3.4 0h1.7m6.8 0h1.7m13.6 0h1.7m-58.65 1.48h1.7m8.5 0h3.4m1.7 0h1.7m3.4 0h1.7m8.5 0h3.4m6.8 0h1.7m11.9 0h1.7m-43.35 1.48h3.4m1.7 0h1.7m6.8 0h1.7m25.5 0h3.4m-14.45 1.48h1.7m-28.05 1.48h1.7m6.8 0h1.7m23.8 0h1.7m1.7 0h1.7m-41.65 1.48h1.7m3.4 0h1.7m32.3 0h3.4m-48.45 1.48h3.4m6.8 0h1.7m3.4 0h1.7m8.5 0h5.1m8.5 0h1.7m5.1 0h1.7m-50.15 1.48h3.4m32.3 0h1.7m8.5 0h1.7m-50.15 1.48h1.7m6.8 0h1.7m3.4 0h1.7m1.7 0h3.4m8.5 0h1.7m13.6 0h1.7m1.7 0h1.7m-55.25 1.48h1.7m-1.7 2.96h3.4m-5.95 1.48h1.7" stroke="#2F74B0" stroke-width="1.53" fill="none"/>
<path d="M600.1 308.1h1.7m3.4 0h1.7m1.7 0h1.7m17 0h6.8m-29.75 1.48h3.4m11.9 0h1.7m6.8 0h5.1m-33.15 1.48h1.7m6.8 0h6.8m1.7 0h1.7m3.4 0h1.7m1.7 0h1.7m6.8 0h1.7m5.1 0h3.4m-43.35 1.48h5.1m1.7 0h1.7m5.1 0h3.4m6.8 0h1.7m3.4 0h3.4m1.7 0h3.4m3.4 0h1.7m-43.35 1.48h3.4m1.7 0h3.4m15.3 0h1.7m8.5 0h1.7m1.7 0h1.7m-38.25 1.48h1.7m15.3 0h1.7m1.7 0h5.1m1.7 0h6.8m6.8 0h1.7m-43.35 1.48h1.7m20.4 0h1.7m1.7 0h1.7m1.7 0h1.7m1.7 0h1.7m13.6 0h1.7m-48.45 1.48h1.7m1.7 0h1.7m17 0h1.7m3.4 0h1.7m3.4 0h1.7m1.7 0h5.1m1.7 0h3.4m1.7 0h1.7m5.1 0h1.7m15.3 0h1.7m-60.35 1.48h1.7m3.4 0h13.6m1.7 0h1.7m5.1 0h3.4m1.7 0h5.1m5.1 0h1.7m1.7 0h1.7m10.2 0h1.7m1.7 0h1.7m-63.75 1.48h1.7m11.9 0h1.7m6.8 0h1.7m3.4 0h3.4m3.4 0h1.7m10.2 0h1.7m18.7 0h1.7m-68.85 1.48h3.4m17 0h5.1m1.7 0h1.7m3.4 0h1.7m5.1 0h1.7m5.1 0h1.7m10.2 0h1.7m-68.85 1.48h1.7m1.7 0h3.4m8.5 0h1.7m1.7 0h3.4m3.4 0h3.4m10.2 0h5.1m3.4 0h1.7m11.9 0h1.7m1.7 0h3.4m1.7 0h1.7m1.7 0h1.7m1.7 0h1.7m-77.35 1.48h1.7m8.5 0h1.7m8.5 0h1.7m1.7 0h1.7m1.7 0h1.7m8.5 0h5.1m5.1 0h1.7m3.4 0h1.7m1.7 0h6.8m6.8 0h1.7m6.8 0h1.7m-75.65 1.48h1.7m3.4 0h1.7m1.7 0h1.7m6.8 0h3.4m20.4 0h1.7m1.7 0h3.4m8.5 0h1.7m15.3 0h1.7m1.7 0h1.7m-84.15 1.48h1.7m3.4 0h3.4m8.5 0h1.7m8.5 0h1.7m1.7 0h3.4m5.1 0h1.7m1.7 0h1.7m11.9 0h1.7m1.7 0h1.7m5.1 0h1.7m5.1 0h1.7m6.8 0h3.4m-82.45 1.48h1.7m22.1 0h1.7m1.7 0h1.7m6.8 0h1.7m1.7 0h1.7m10.2 0h5.1m1.7 0h3.4m8.5 0h1.7m-72.25 1.48h1.7m8.5 0h1.7m17 0h6.8m8.5 0h1.7m10.2 0h5.1m1.7 0h1.7m5.1 0h3.4m5.1 0h1.7m3.4 0h1.7m-60.35 1.48h1.7m1.7 0h3.4m3.4 0h3.4m5.1 0h3.4m1.7 0h1.7m6.8 0h3.4m5.1 0h1.7m3.4 0h1.7m1.7 0h1.7m-65.45 1.48h1.7m1.7 0h3.4m3.4 0h3.4m1.7 0h3.4m3.4 0h3.4m5.1 0h1.7m1.7 0h1.7m1.7 0h3.4m5.1 0h1.7m3.4 0h3.4m1.7 0h1.7m-70.55 1.48h1.7m5.1 0h1.7m3.4 0h1.7m5.1 0h1.7m5.1 0h1.7m1.7 0h1.7m3.4 0h1.7m1.7 0h3.4m5.1 0h1.7m6.8 0h5.1m5.1 0h1.7m8.5 0h1.7m8.5 0h1.7m-87.55 1.48h1.7m5.1 0h1.7m6.8 0h3.4m1.7 0h5.1m1.7 0h1.7m3.4 0h3.4m1.7 0h1.7m1.7 0h1.7m5.1 0h1.7m5.1 0h1.7m5.1 0h1.7m5.1 0h1.7m5.1 0h1.7m8.5 0h3.4m-85.85 1.48h1.7m17 0h1.7m1.7 0h3.4m1.7 0h1.7m23.8 0h1.7m3.4 0h1.7m5.1 0h3.4m1.7 0h3.4m11.9 0h3.4m-80.75 1.48h1.7m5.1 0h1.7m10.2 0h8.5m6.8 0h1.7m6.8 0h1.7m1.7 0h1.7m1.7 0h1.7m5.1 0h1.7m13.6 0h1.7m3.4 0h1.7m-73.95 1.48h1.7m3.4 0h1.7m5.1 0h1.7m3.4 0h1.7m3.4 0h3.4m3.4 0h5.1m11.9 0h3.4m1.7 0h1.7m8.5 0h3.4m3.4 0h1.7m5.1 0h1.7m-75.65 1.48h1.7m1.7 0h1.7m1.7 0h3.4m1.7 0h1.7m11.9 0h1.7m1.7 0h3.4m3.4 0h1.7m3.4 0h5.1m11.9 0h1.7m3.4 0h1.7m8.5 0h1.7m-70.55 1.48h1.7m1.7 0h3.4m5.1 0h3.4m1.7 0h3.4m3.4 0h1.7m1.7 0h1.7m3.4 0h1.7m8.5 0h1.7m1.7 0h1.7m1.7 0h1.7m1.7 0h1.7m6.8 0h1.7m5.1 0h1.7m-85.85 1.48h1.7m5.1 0h1.7m5.1 0h1.7m5.1 0h1.7m1.7 0h1.7m1.7 0h5.1m6.8 0h1.7m1.7 0h1.7m32.3 0h1.7m-75.65 1.48h1.7m1.7 0h1.7m8.5 0h1.7m3.4 0h3.4m1.7 0h1.7m5.1 0h1.7m1.7 0h1.7m5.1 0h1.7m10.2 0h1.7m1.7 0h1.7m15.3 0h1.7m1.7 0h3.4m1.7 0h3.4m-87.55 1.48h1.7m1.7 0h1.7m17 0h1.7m3.4 0h1.7m1.7 0h5.1m6.8 0h1.7m5.1 0h1.7m10.2 0h6.8m1.7 0h1.7m3.4 0h1.7m3.4 0h3.4m-85.85 1.48h1.7m5.1 0h1.7m6.8 0h3.4m5.1 0h1.7m1.7 0h1.7m3.4 0h3.4m3.4 0h1.7m3.4 0h5.1m3.4 0h3.4m1.7 0h1.7m1.7 0h3.4m1.7 0h3.4m10.2 0h3.4m-79.05 1.48h1.7m1.7 0h1.7m3.4 0h1.7m8.5 0h1.7m6.8 0h5.1m6.8 0h1.7m8.5 0h8.5m1.7 0h1.7m8.5 0h1.7m6.8 0h1.7m1.7 0h1.7m-67.15 1.48h3.4m1.7 0h6.8m6.8 0h1.7m5.1 0h3.4m13.6 0h1.7m5.1 0h3.4m5.1 0h1.7m3.4 0h1.7m1.7 0h3.4m-90.95 1.48h5.1m3.4 0h1.7m5.1 0h3.4m1.7 0h1.7m1.7 0h3.4m1.7 0h1.7m6.8 0h3.4m10.2 0h1.7m3.4 0h1.7m1.7 0h3.4m3.4 0h1.7m8.5 0h1.7m3.4 0h1.7m1.7 0h1.7m-82.45 1.48h1.7m5.1 0h1.7m13.6 0h3.4m1.7 0h3.4m6.8 0h3.4m1.7 0h1.7m10.2 0h1.7m3.4 0h1.7m1.7 0h1.7m6.8 0h1.7m10.2 0h3.4m-90.95 1.48h1.7m25.5 0h1.7m5.1 0h5.1m6.8 0h1.7m3.4 0h3.4m3.4 0h1.7m8.5 0h3.4m3.4 0h1.7m5.1 0h1.7m-82.45 1.48h5.1m15.3 0h1.7m1.7 0h1.7m11.9 0h3.4m1.7 0h3.4m1.7 0h1.7m11.9 0h3.4m3.4 0h1.7m13.6 0h1.7m3.4 0h1.7m-90.95 1.48h5.1m8.5 0h1.7m8.5 0h1.7m3.4 0h1.7m1.7 0h3.4m5.1 0h1.7m1.7 0h1.7m3.4 0h3.4m5.1 0h1.7m10.2 0h6.8m8.5 0h1.7m1.7 0h1.7m-73.95 1.48h1.7m13.6 0h3.4m1.7 0h1.7m5.1 0h5.1m3.4 0h1.7m22.1 0h1.7m-77.35 1.48h1.7m10.2 0h1.7m10.2 0h1.7m3.4 0h1.7m1.7 0h3.4m11.9 0h1.7m1.7 0h3.4m6.8 0h1.7m1.7 0h3.4m8.5 0h1.7m-75.65 1.48h1.7m6.8 0h1.7m18.7 0h1.7m3.4 0h1.7m13.6 0h1.7m3.4 0h1.7m6.8 0h1.7m1.7 0h3.4m1.7 0h5.1m5.1 0h1.7m1.7 0h1.7m-87.55 1.48h3.4m18.7 0h1.7m3.4 0h3.4m5.1 0h1.7m1.7 0h1.7m1.7 0h1.7m6.8 0h8.5m13.6 0h3.4m3.4 0h1.7m5.1 0h1.7m-89.25 1.48h1.7m11.9 0h1.7m20.4 0h1.7m1.7 0h1.7m5.1 0h1.7m1.7 0h1.7m3.4 0h1.7m5.1 0h3.4m3.4 0h1.7m6.8 0h5.1m-77.35 1.48h3.4m3.4 0h1.7m15.3 0h1.7m3.4 0h5.1m5.1 0h1.7m1.7 0h1.7m5.1 0h1.7m3.4 0h5.1m3.4 0h3.4m8.5 0h1.7m3.4 0h1.7m-82.45 1.48h3.4m6.8 0h1.7m13.6 0h1.7m5.1 0h1.7m6.8 0h1.7m1.7 0h1.7m11.9 0h3.4m6.8 0h1.7m1.7 0h3.4m5.1 0h5.1m-68.85 1.48h1.7m1.7 0h1.7m1.7 0h5.1m5.1 0h1.7m1.7 0h1.7m3.4 0h1.7m1.7 0h1.7m10.2 0h1.7m3.4 0h1.7m6.8 0h6.8m3.4 0h1.7m-85.85 1.48h1.7m1.7 0h1.7m11.9 0h3.4m10.2 0h1.7m6.8 0h1.7m1.7 0h1.7m8.5 0h3.4m6.8 0h5.1m1.7 0h1.7m-68.85 1.48h1.7m25.5 0h1.7m1.7 0h1.7m5.1 0h1.7m3.4 0h1.7m1.7 0h1.7m5.1 0h1.7m10.2 0h3.4m13.6 0h3.4m-87.55 1.48h1.7m20.4 0h1.7m5.1 0h3.4m1.7 0h1.7m3.4 0h1.7m1.7 0h1.7m1.7 0h1.7m1.7 0h3.4m10.2 0h1.7m5.1 0h1.7m1.7 0h3.4m-58.65 1.48h1.7m6.8 0h1.7m23.8 0h1.7m1.7 0h1.7m13.6 0h1.7m1.7 0h1.7m1.7 0h1.7m3.4 0h1.7m-70.55 1.48h1.7m13.6 0h1.7m3.4 0h1.7m1.7 0h1.7m5.1 0h1.7m35.7 0h3.4m-85.85 1.48h1.7m8.5 0h1.7m11.9 0h1.7m3.4 0h1.7m5.1 0h1.7m8.5 0h1.7m3.4 0h3.4m10.2 0h1.7m1.7 0h1.7m10.2 0h1.7m-72.25 1.48h3.4m6.8 0h1.7m10.2 0h1.7m6.8 0h1.7m3.4 0h1.7m8.5 0h1.7m1.7 0h1.7m5.1 0h6.8m-60.35 1.48h5.1m1.7 0h1.7m13.6 0h1.7m5.1 0h1.7m3.4 0h1.7m25.5 0h1.7m1.7 0h1.7m-72.25 1.48h1.7m1.7 0h1.7m13.6 0h3.4m1.7 0h1.7m3.4 0h1.7m3.4 0h3.4m-22.95 1.48h1.7m1.7 0h1.7m8.5 0h1.7m1.7 0h1.7m1.7 0h1.7m-38.25 1.48h1.7m10.2 0h10.2m5.1 0h1.7m1.7 0h1.7m-21.25 1.48h1.7m3.4 0h3.4m-21.25 1.48h1.7m6.8 0h1.7m-9.35 1.48h1.7" stroke="#4FA89E" stroke-width="1.53" fill="none"/>
<path d="M601.8 308.1h1.7m3.4 0h1.7m5.1 0h1.7m1.7 0h1.7m1.7 0h1.7m-19.55 1.48h1.7m5.1 0h3.4m5.1 0h1.7m1.7 0h1.7m13.6 0h1.7m-34.85 1.48h1.7m1.7 0h1.7m10.2 0h1.7m-14.45 1.48h1.7m3.4 0h1.7m6.8 0h1.7m1.7 0h1.7m3.4 0h1.7m-26.35 1.48h1.7m3.4 0h1.7m1.7 0h1.7m1.7 0h3.4m-12.75 1.48h1.7m3.4 0h3.4m11.9 0h1.7m-26.35 1.48h3.4m3.4 0h11.9m3.4 0h1.7m5.1 0h1.7m-29.75 1.48h1.7m5.1 0h1.7m3.4 0h1.7m3.4 0h1.7m10.2 0h1.7m25.5 0h1.7m8.5 0h1.7m-68.85 1.48h1.7m1.7 0h5.1m1.7 0h1.7m18.7 0h1.7m1.7 0h3.4m11.9 0h1.7m15.3 0h1.7m-68.85 1.48h5.1m5.1 0h1.7m1.7 0h1.7m8.5 0h1.7m3.4 0h1.7m6.8 0h1.7m3.4 0h1.7m3.4 0h1.7m6.8 0h1.7m-56.95 1.48h1.7m1.7 0h1.7m1.7 0h3.4m3.4 0h5.1m5.1 0h1.7m10.2 0h1.7m6.8 0h1.7m1.7 0h1.7m1.7 0h3.4m-46.75 1.48h1.7m8.5 0h1.7m17 0h1.7m40.8 0h1.7m-82.45 1.48h1.7m5.1 0h6.8m1.7 0h3.4m10.2 0h1.7m8.5 0h1.7m6.8 0h1.7m3.4 0h1.7m-51.85 1.48h1.7m5.1 0h3.4m6.8 0h5.1m5.1 0h1.7m3.4 0h1.7m1.7 0h1.7m6.8 0h1.7m6.8 0h1.7m1.7 0h1.7m17 0h3.4m-80.75 1.48h1.7m1.7 0h3.4m3.4 0h1.7m11.9 0h1.7m17 0h1.7m3.4 0h1.7m1.7 0h1.7m1.7 0h1.7m-55.25 1.48h3.4m3.4 0h1.7m6.8 0h1.7m5.1 0h1.7m17 0h1.7m3.4 0h5.1m17 0h1.7m10.2 0h1.7m-82.45 1.48h1.7m5.1 0h1.7m6.8 0h1.7m6.8 0h1.7m5.1 0h1.7m8.5 0h3.4m10.2 0h3.4m-51.85 1.48h5.1m1.7 0h6.8m17 0h1.7m3.4 0h1.7m10.2 0h3.4m25.5 0h1.7m3.4 0h1.7m-87.55 1.48h1.7m1.7 0h1.7m15.3 0h1.7m8.5 0h1.7m5.1 0h1.7m1.7 0h1.7m5.1 0h1.7m3.4 0h5.1m1.7 0h1.7m5.1 0h1.7m5.1 0h1.7m-73.95 1.48h1.7m5.1 0h1.7m3.4 0h5.1m1.7 0h3.4m17 0h5.1m1.7 0h6.8m18.7 0h1.7m-72.25 1.48h1.7m13.6 0h1.7m10.2 0h1.7m13.6 0h1.7m1.7 0h1.7m1.7 0h1.7m-53.55 1.48h1.7m5.1 0h3.4m5.1 0h1.7m1.7 0h1.7m10.2 0h3.4m5.1 0h8.5m1.7 0h5.1m22.1 0h1.7m3.4 0h1.7m1.7 0h1.7m-80.75 1.48h3.4m1.7 0h3.4m3.4 0h1.7m22.1 0h1.7m3.4 0h3.4m32.3 0h1.7m-84.15 1.48h1.7m1.7 0h1.7m1.7 0h6.8m1.7 0h3.4m20.4 0h1.7m8.5 0h1.7m1.7 0h3.4m13.6 0h1.7m-70.55 1.48h5.1m1.7 0h5.1m6.8 0h1.7m3.4 0h1.7m8.5 0h1.7m10.2 0h3.4m3.4 0h1.7m13.6 0h1.7m13.6 0h1.7m-85.85 1.48h1.7m1.7 0h1.7m1.7 0h1.7m1.7 0h5.1m1.7 0h1.7m1.7 0h1.7m3.4 0h3.4m25.5 0h3.4m20.4 0h1.7m-79.05 1.48h1.7m1.7 0h1.7m1.7 0h1.7m1.7 0h5.1m3.4 0h3.4m1.7 0h1.7m17 0h1.7m1.7 0h1.7m1.7 0h3.4m22.1 0h3.4m-77.35 1.48h1.7m3.4 0h1.7m1.7 0h3.4m6.8 0h3.4m6.8 0h1.7m1.7 0h1.7m8.5 0h1.7m1.7 0h1.7m5.1 0h3.4m6.8 0h1.7m3.4 0h1.7m1.7 0h1.7m-70.55 1.48h1.7m3.4 0h1.7m3.4 0h3.4m5.1 0h1.7m6.8 0h1.7m23.8 0h3.4m-56.95 1.48h1.7m8.5 0h1.7m3.4 0h3.4m13.6 0h3.4m11.9 0h1.7m-51.85 1.48h3.4m1.7 0h1.7m1.7 0h3.4m5.1 0h1.7m1.7 0h1.7m17 0h1.7m10.2 0h1.7m11.9 0h1.7m5.1 0h1.7m6.8 0h1.7m-82.45 1.48h5.1m3.4 0h3.4m3.4 0h1.7m6.8 0h1.7m17 0h3.4m6.8 0h5.1m6.8 0h3.4m13.6 0h1.7m-77.35 1.48h1.7m3.4 0h1.7m5.1 0h1.7m6.8 0h1.7m1.7 0h1.7m8.5 0h1.7m5.1 0h1.7m3.4 0h1.7m10.2 0h1.7m3.4 0h1.7m-70.55 1.48h1.7m3.4 0h3.4m5.1 0h3.4m3.4 0h3.4m25.5 0h5.1m5.1 0h1.7m3.4 0h1.7m10.2 0h1.7m5.1 0h1.7m-79.05 1.48h3.4m1.7 0h3.4m3.4 0h1.7m3.4 0h3.4m1.7 0h1.7m17 0h1.7m13.6 0h1.7m1.7 0h1.7m5.1 0h1.7m1.7 0h1.7m1.7 0h1.7m-75.65 1.48h3.4m1.7 0h3.4m5.1 0h1.7m1.7 0h1.7m6.8 0h1.7m18.7 0h1.7m3.4 0h1.7m6.8 0h1.7m-55.25 1.48h1.7m1.7 0h3.4m1.7 0h3.4m1.7 0h1.7m25.5 0h5.1m1.7 0h1.7m1.7 0h1.7m13.6 0h1.7m6.8 0h1.7m-84.15 1.48h3.4m1.7 0h1.7m3.4 0h1.7m1.7 0h8.5m1.7 0h3.4m6.8 0h1.7m13.6 0h1.7m3.4 0h8.5m6.8 0h1.7m1.7 0h1.7m10.2 0h1.7m-89.25 1.48h1.7m1.7 0h6.8m1.7 0h1.7m3.4 0h1.7m5.1 0h1.7m8.5 0h1.7m1.7 0h1.7m15.3 0h1.7m1.7 0h1.7m1.7 0h1.7m3.4 0h3.4m1.7 0h1.7m-70.55 1.48h3.4m8.5 0h1.7m5.1 0h1.7m1.7 0h5.1m6.8 0h1.7m1.7 0h1.7m1.7 0h3.4m1.7 0h1.7m3.4 0h1.7m1.7 0h3.4m10.2 0h1.7m-62.05 1.48h8.5m5.1 0h1.7m34 0h1.7m5.1 0h1.7m3.4 0h1.7m-72.25 1.48h5.1m1.7 0h1.7m1.7 0h1.7m8.5 0h3.4m5.1 0h1.7m18.7 0h3.4m15.3 0h1.7m-72.25 1.48h1.7m1.7 0h1.7m3.4 0h1.7m5.1 0h5.1m1.7 0h1.7m1.7 0h3.4m1.7 0h1.7m20.4 0h1.7m1.7 0h1.7m8.5 0h1.7m18.7 0h1.7m-87.55 1.48h1.7m6.8 0h1.7m1.7 0h1.7m1.7 0h6.8m1.7 0h1.7m5.1 0h1.7m5.1 0h1.7m27.2 0h1.7m-67.15 1.48h3.4m1.7 0h1.7m1.7 0h1.7m3.4 0h1.7m1.7 0h1.7m1.7 0h1.7m1.7 0h1.7m8.5 0h1.7m44.2 0h1.7m-77.35 1.48h3.4m1.7 0h1.7m1.7 0h3.4m11.9 0h1.7m1.7 0h1.7m22.1 0h1.7m18.7 0h1.7m-77.35 1.48h1.7m3.4 0h1.7m13.6 0h1.7m1.7 0h1.7m5.1 0h1.7m54.4 0h1.7m-85.85 1.48h1.7m3.4 0h1.7m1.7 0h1.7m3.4 0h1.7m6.8 0h1.7m27.2 0h1.7m15.3 0h1.7m6.8 0h1.7m-82.45 1.48h5.1m10.2 0h1.7m3.4 0h1.7m8.5 0h3.4m3.4 0h1.7m1.7 0h1.7m20.4 0h1.7m17 0h1.7m-80.75 1.48h1.7m13.6 0h3.4m3.4 0h1.7m5.1 0h3.4m13.6 0h1.7m3.4 0h1.7m1.7 0h1.7m11.9 0h1.7m-65.45 1.48h3.4m1.7 0h3.4m5.1 0h3.4m3.4 0h1.7m1.7 0h1.7m-31.45 1.48h5.1m6.8 0h1.7m3.4 0h1.7m1.7 0h3.4m3.4 0h1.7m3.4 0h1.7m39.1 0h1.7m-72.25 1.48h3.4m10.2 0h1.7m1.7 0h3.4m1.7 0h1.7m-24.65 1.48h3.4m5.1 0h5.1m3.4 0h3.4m5.1 0h1.7m3.4 0h1.7m-29.75 1.48h1.7m1.7 0h1.7m1.7 0h3.4m1.7 0h1.7m-17.85 1.48h1.7m3.4 0h1.7m-4.25 1.48h1.7m3.4 0h3.4m5.1 0h1.7m5.1 0h5.1m-24.65 1.48h6.8m1.7 0h5.1m1.7 0h1.7m1.7 0h3.4m-21.25 1.48h1.7m6.8 0h5.1m1.7 0h1.7m-19.55 1.48h1.7m5.1 0h1.7" stroke="#98C898" stroke-width="1.53" fill="none"/>
<path d="M625.6 308.1h1.7m-22.1 2.96h1.7m23.8 0h1.7m-19.55 1.48h1.7m3.4 0h1.7m-9.35 1.48h1.7m1.7 0h1.7m6.8 0h1.7m-18.7 2.96h3.4m16.15 1.48h1.7m-26.35 1.48h1.7m1.7 0h1.7m5.1 0h1.7m3.4 0h3.4m-2.55 1.48h1.7m1.7 0h1.7m54.4 0h1.7m-77.35 1.48h1.7m45.05 1.48h1.7m-43.35 1.48h1.7m13.6 0h1.7m11.9 0h1.7m10.2 0h1.7m-43.35 1.48h3.4m10.2 0h1.7m-7.65 1.48h1.7m-4.25 1.48h6.8m1.7 0h1.7m-17.85 1.48h1.7m5.1 0h3.4m5.1 0h5.1m27.2 0h3.4m-50.15 1.48h1.7m17 0h1.7m22.1 0h1.7m-46.75 1.48h1.7m1.7 0h1.7m40.8 0h1.7m-43.35 1.48h1.7m-4.25 1.48h1.7m6.8 0h1.7m-10.2 2.96h1.7m1.7 0h1.7m8.5 0h1.7m-14.45 1.48h1.7m1.7 0h1.7m-.85 1.48h1.7m20.4 0h1.7m-28.05 1.48h1.7m1.7 0h1.7m40.8 0h1.7m-49.3 2.96h1.7m0 2.96h1.7m45.9 0h1.7m8.5 0h1.7m23.8 0h1.7m-67.15 1.48h1.7m-4.25 1.48h1.7m-14.45 1.48h1.7m3.4 0h1.7m10.2 0h1.7m-11.05 1.48h1.7m56.1 0h1.7m-56.95 1.48h1.7m32.3 0h1.7m-34.85 1.48h1.7m42.5 0h1.7m-22.95 1.48h1.7m-33.15 1.48h1.7m3.4 0h1.7m-11.05 1.48h1.7m10.2 0h1.7m4.25 1.48h1.7m57.8 0h1.7m-73.95 1.48h3.4m10.2 0h1.7m-7.65 1.48h5.1m-7.65 1.48h1.7m5.1 0h1.7m28.9 0h1.7m25.5 0h1.7m-45.05 1.48h1.7m5.1 0h1.7m-29.75 1.48h1.7m11.05 1.48h3.4m39.1 0h1.7m10.2 0h1.7m-77.35 1.48h1.7m6.8 0h5.1m1.7 0h1.7m6.8 0h1.7m-24.65 1.48h3.4m1.7 0h1.7m1.7 0h1.7m8.5 0h1.7m-16.15 1.48h5.1m-14.45 1.48h1.7m1.7 0h1.7m5.1 0h1.7m-11.05 1.48h5.1m8.5 0h1.7m8.5 0h1.7m-21.25 1.48h3.4m5.1 0h3.4m-9.35 1.48h3.4m-11.05 1.48h1.7m13.6 0h1.7m-16.15 1.48h1.7m6.8 0h1.7m3.4 0h1.7m5.1 0h1.7m-16.15 1.48h5.1m-11.05 1.48h1.7m8.5 0h3.4m3.4 0h1.7m-19.55 1.48h1.7m18.7 0h1.7m-16.15 1.48h1.7m-7.65 1.48h1.7m5.1 0h1.7m3.4 0h3.4" stroke="#D2E090" stroke-width="1.53" fill="none"/>
<path d="M618.0 321.4h1.7m50.15 4.44h1.7m-59.5 5.92h1.7m-8.5 5.92h1.7m5.1 0h1.7m14.45 1.48h1.7m-26.35 1.48h1.7m40.8 0h1.7m-14.45 1.48h1.7m51 0h1.7m-73.95 7.39h1.7m40.8 0h1.7m-46.75 1.48h1.7m58.65 1.48h1.7m-36.55 4.44h1.7m-16.15 1.48h1.7m22.95 1.48h1.7m-21.25 4.44h1.7m20.4 2.96h1.7m-38.25 7.39h1.7m-4.25 1.48h1.7m13.6 2.96h1.7m40.8 0h1.7m6.8 0h1.7m-72.25 1.48h1.7m5.1 0h1.7m15.3 2.96h1.7m-24.65 1.48h1.7m27.2 0h1.7m5.95 1.48h1.7m-32.3 2.96h1.7" stroke="#EAEAAE" stroke-width="1.53" fill="none"/>
<path d="M625.6 314.0h1.7m-17.85 7.39h1.7m-10.2 2.96h1.7m53.55 4.44h1.7m-46.75 4.44h1.7m-8.5 5.92h1.7m33.15 1.48h1.7m44.2 0h1.7m-65.45 1.48h1.7m5.95 4.44h1.7m-28.9 2.96h1.7m58.65 7.39h1.7m-37.4 2.96h1.7m-5.95 4.44h1.7m-11.9 11.83h1.7m7.65 4.44h1.7m-5.95 1.48h1.7m9.35 7.39h1.7" stroke="#EECF84" stroke-width="1.53" fill="none"/>
<path d="M667.3 368.7h1.7" stroke="#EE9C5C" stroke-width="1.53" fill="none"/>
<path d="M616.2 318.4h1.7" stroke="#E06444" stroke-width="1.53" fill="none"/>
<path d="M690.3,334.0C693.6,339.0 694.7,349.0 694.7,357.0C694.7,366.0 693.9,373.0 690.6,378.5L689.7,377.0L690.3,334.0z" fill="#B089C6"/>
<defs><linearGradient id="cbh" x1="0" x2="1" y1="0" y2="0"><stop offset="0.0" stop-color="#5E4FA2"/><stop offset="0.1" stop-color="#3288BD"/><stop offset="0.2" stop-color="#66C2A5"/><stop offset="0.3" stop-color="#ABDDA4"/><stop offset="0.4" stop-color="#E6F598"/><stop offset="0.5" stop-color="#FFFFBF"/><stop offset="0.6" stop-color="#FEE08B"/><stop offset="0.7" stop-color="#FDAE61"/><stop offset="0.8" stop-color="#F46D43"/><stop offset="0.9" stop-color="#D53E4F"/><stop offset="1.0" stop-color="#9E0142"/></linearGradient>
<linearGradient id="cbv" x1="0" x2="0" y1="0" y2="1"><stop offset="0.000" stop-color="#D53E4F"/><stop offset="0.125" stop-color="#F46D43"/><stop offset="0.250" stop-color="#FDAE61"/><stop offset="0.375" stop-color="#FEE08B"/><stop offset="0.500" stop-color="#FFFFBF"/><stop offset="0.625" stop-color="#E6F598"/><stop offset="0.750" stop-color="#ABDDA4"/><stop offset="0.875" stop-color="#66C2A5"/><stop offset="1.000" stop-color="#3288BD"/></linearGradient></defs>
<text x="0.9" y="279.9" font-size="25.4" fill="#000" text-anchor="start" textLength="18.4" lengthAdjust="spacingAndGlyphs" stroke="#000" stroke-width="0.22">C</text>
<text x="477.2" y="279.7" font-size="21.8" fill="#000" text-anchor="start" textLength="14.6" lengthAdjust="spacingAndGlyphs" stroke="#000" stroke-width="0.22">D</text>
<text x="25.6" y="294.2" font-size="12.6" fill="#1a1a1a" text-anchor="start" textLength="15.1" lengthAdjust="spacingAndGlyphs" stroke="#1a1a1a" stroke-width="0.22">Ttr</text>
<text x="122.0" y="294.2" font-size="12.6" fill="#1a1a1a" text-anchor="start" textLength="23.8" lengthAdjust="spacingAndGlyphs" stroke="#1a1a1a" stroke-width="0.22">Plp1</text>
<text x="224.3" y="294.2" font-size="12.6" fill="#1a1a1a" text-anchor="start" textLength="29.5" lengthAdjust="spacingAndGlyphs" stroke="#1a1a1a" stroke-width="0.22">Calb2</text>
<text x="331.0" y="294.2" font-size="12.6" fill="#1a1a1a" text-anchor="start" textLength="25.0" lengthAdjust="spacingAndGlyphs" stroke="#1a1a1a" stroke-width="0.22">Mbp</text>
<text x="497.5" y="294.2" font-size="12.6" fill="#1a1a1a" text-anchor="start" textLength="39.3" lengthAdjust="spacingAndGlyphs" stroke="#1a1a1a" stroke-width="0.22">Arpp19</text>
<text x="602.0" y="294.2" font-size="12.6" fill="#1a1a1a" text-anchor="start" textLength="39.4" lengthAdjust="spacingAndGlyphs" stroke="#1a1a1a" stroke-width="0.22">Ccdc36</text>
<text x="55.8" y="280.3" font-size="9.6" fill="#1a1a1a" text-anchor="start" textLength="46.3" lengthAdjust="spacingAndGlyphs" stroke="#1a1a1a" stroke-width="0.22">Expression</text>
<rect x="55.8" y="282.9" width="46.3" height="8.8" fill="url(#cbh)"/>
<text x="55.8" y="298.8" font-size="5.6" fill="#555" text-anchor="middle" >0</text>
<text x="67.4" y="298.8" font-size="5.6" fill="#555" text-anchor="middle" >2</text>
<text x="78.9" y="298.8" font-size="5.6" fill="#555" text-anchor="middle" >4</text>
<text x="90.5" y="298.8" font-size="5.6" fill="#555" text-anchor="middle" >6</text>
<text x="102.1" y="298.8" font-size="5.6" fill="#555" text-anchor="middle" >8</text>
<text x="160.8" y="280.3" font-size="9.6" fill="#1a1a1a" text-anchor="start" textLength="46.2" lengthAdjust="spacingAndGlyphs" stroke="#1a1a1a" stroke-width="0.22">Expression</text>
<rect x="160.8" y="282.9" width="46.2" height="8.8" fill="url(#cbh)"/>
<text x="160.8" y="298.8" font-size="5.6" fill="#555" text-anchor="middle" >0</text>
<text x="168.3" y="298.8" font-size="5.6" fill="#555" text-anchor="middle" >1</text>
<text x="175.8" y="298.8" font-size="5.6" fill="#555" text-anchor="middle" >2</text>
<text x="183.3" y="298.8" font-size="5.6" fill="#555" text-anchor="middle" >3</text>
<text x="190.8" y="298.8" font-size="5.6" fill="#555" text-anchor="middle" >4</text>
<text x="198.4" y="298.8" font-size="5.6" fill="#555" text-anchor="middle" >5</text>
<text x="205.9" y="298.8" font-size="5.6" fill="#555" text-anchor="middle" >6</text>
<text x="265.9" y="280.3" font-size="9.6" fill="#1a1a1a" text-anchor="start" textLength="46.4" lengthAdjust="spacingAndGlyphs" stroke="#1a1a1a" stroke-width="0.22">Expression</text>
<rect x="265.9" y="282.9" width="46.4" height="8.8" fill="url(#cbh)"/>
<text x="265.9" y="298.8" font-size="5.6" fill="#555" text-anchor="middle" >0</text>
<text x="278.2" y="298.8" font-size="5.6" fill="#555" text-anchor="middle" >1</text>
<text x="290.5" y="298.8" font-size="5.6" fill="#555" text-anchor="middle" >2</text>
<text x="302.7" y="298.8" font-size="5.6" fill="#555" text-anchor="middle" >3</text>
<text x="369.6" y="280.3" font-size="9.6" fill="#1a1a1a" text-anchor="start" textLength="47.0" lengthAdjust="spacingAndGlyphs" stroke="#1a1a1a" stroke-width="0.22">Expression</text>
<rect x="369.6" y="282.9" width="47.0" height="8.8" fill="url(#cbh)"/>
<text x="369.6" y="298.8" font-size="5.6" fill="#555" text-anchor="middle" >0</text>
<text x="383.8" y="298.8" font-size="5.6" fill="#555" text-anchor="middle" >2</text>
<text x="398.1" y="298.8" font-size="5.6" fill="#555" text-anchor="middle" >4</text>
<text x="412.3" y="298.8" font-size="5.6" fill="#555" text-anchor="middle" >6</text>
<text x="542.7" y="280.3" font-size="9.6" fill="#1a1a1a" text-anchor="start" textLength="46.8" lengthAdjust="spacingAndGlyphs" stroke="#1a1a1a" stroke-width="0.22">Expression</text>
<rect x="542.7" y="282.9" width="46.8" height="8.8" fill="url(#cbh)"/>
<text x="542.7" y="298.8" font-size="5.6" fill="#555" text-anchor="middle" >0</text>
<text x="552.3" y="298.8" font-size="5.6" fill="#555" text-anchor="middle" >1</text>
<text x="562.0" y="298.8" font-size="5.6" fill="#555" text-anchor="middle" >2</text>
<text x="571.6" y="298.8" font-size="5.6" fill="#555" text-anchor="middle" >3</text>
<text x="581.3" y="298.8" font-size="5.6" fill="#555" text-anchor="middle" >4</text>
<text x="648.0" y="280.3" font-size="9.6" fill="#1a1a1a" text-anchor="start" textLength="46.5" lengthAdjust="spacingAndGlyphs" stroke="#1a1a1a" stroke-width="0.22">Expression</text>
<rect x="648.0" y="282.9" width="46.5" height="8.8" fill="url(#cbh)"/>
<text x="648.0" y="298.8" font-size="5.6" fill="#555" text-anchor="middle" >0</text>
<text x="658.6" y="298.8" font-size="5.6" fill="#555" text-anchor="middle" >1</text>
<text x="669.1" y="298.8" font-size="5.6" fill="#555" text-anchor="middle" >2</text>
<text x="679.7" y="298.8" font-size="5.6" fill="#555" text-anchor="middle" >3</text>
<text x="690.3" y="298.8" font-size="5.6" fill="#555" text-anchor="middle" >4</text>
<defs><pattern id="spO" width="14" height="14" patternUnits="userSpaceOnUse"><path d="M3.3 7.6h0.9M5.2 8.5h0.9M8.8 0.9h0.9M0.2 11.7h0.9M3.6 3.3h0.9M13.9 6.6h0.9M11.7 6.7h0.9M8.9 2.1h0.9M8.9 12.2h0.9M7.3 10.4h0.9M9.4 0.9h0.9M10.6 8.3h0.9M4.2 0.4h0.9M12.1 6.6h0.9M10.1 12.3h0.9M10.0 12.9h0.9M5.5 11.2h0.9M6.2 13.1h0.9M12.3 1.4h0.9M1.9 3.0h0.9M13.5 6.1h0.9M8.8 4.2h0.9M7.1 5.4h0.9M4.9 8.2h0.9M8.2 12.7h0.9M9.5 13.0h0.9" stroke="#E0703C" stroke-width="0.9" opacity="1.0"/><path d="M12.0 13.9h0.9M9.4 2.3h0.9M12.0 13.5h0.9M12.7 8.0h0.9M10.0 3.0h0.9M11.6 8.0h0.9M4.0 0.9h0.9M12.0 13.9h0.9M1.2 11.2h0.9M5.7 2.1h0.9M4.1 10.8h0.9M12.2 0.6h0.9M8.6 0.6h0.9M10.1 4.6h0.9M12.3 13.7h0.9M7.1 14.0h0.9M4.3 1.1h0.9M8.4 0.4h0.9M2.8 5.7h0.9M8.5 2.2h0.9M0.6 12.1h0.9M4.4 13.4h0.9M12.6 5.3h0.9M6.4 7.3h0.9M9.0 8.3h0.9M7.8 8.7h0.9" stroke="#C8553A" stroke-width="0.9" opacity="1.0"/></pattern></defs>
<defs><pattern id="spO2" width="14" height="14" patternUnits="userSpaceOnUse"><path d="M3.3 1.4h0.9M5.5 2.2h0.9M0.9 5.6h0.9M12.9 11.2h0.9M10.7 3.1h0.9M7.5 3.9h0.9M2.4 1.5h0.9M3.0 13.0h0.9M11.6 11.3h0.9M11.2 2.7h0.9M4.3 8.8h0.9M10.2 12.0h0.9M12.3 1.2h0.9M8.5 9.4h0.9" stroke="#E0703C" stroke-width="0.9" opacity="1.0"/></pattern></defs>
<defs><pattern id="spW" width="14" height="14" patternUnits="userSpaceOnUse"><path d="M8.7 10.4h1.0M11.1 13.2h1.0M10.4 12.9h1.0M0.4 6.5h1.0M13.2 9.1h1.0M12.6 1.6h1.0M6.6 3.5h1.0M7.6 8.0h1.0M0.2 3.0h1.0M3.9 12.8h1.0M10.7 2.2h1.0M11.2 1.9h1.0M8.6 1.8h1.0M0.0 12.2h1.0M2.9 3.0h1.0M13.8 12.2h1.0M4.1 13.5h1.0M7.5 9.5h1.0M2.9 13.2h1.0M9.7 13.5h1.0M12.5 4.2h1.0M5.1 2.3h1.0M2.0 0.9h1.0M4.2 8.4h1.0M0.0 9.5h1.0M4.7 4.3h1.0M11.5 6.7h1.0M4.4 6.7h1.0M9.9 0.8h1.0M13.7 0.3h1.0" stroke="#FFFFFF" stroke-width="1.0" opacity="1.0"/></pattern></defs>
<defs><pattern id="spC" width="14" height="14" patternUnits="userSpaceOnUse"><path d="M11.1 11.5h0.9M6.8 3.7h0.9M0.0 9.3h0.9M6.6 10.6h0.9M5.2 10.8h0.9M3.8 11.2h0.9M10.2 5.8h0.9M7.5 9.5h0.9M2.7 7.8h0.9M11.3 3.7h0.9M11.2 9.6h0.9M11.8 4.7h0.9M1.3 11.2h0.9M11.3 6.2h0.9M1.3 2.8h0.9M8.9 4.1h0.9M13.3 8.2h0.9M2.8 9.2h0.9M5.0 13.1h0.9M12.7 7.2h0.9M9.0 9.8h0.9M11.3 13.7h0.9M0.4 5.1h0.9M8.4 4.3h0.9M8.2 1.3h0.9M12.3 7.4h0.9M1.6 9.3h0.9M4.4 2.7h0.9M6.8 1.9h0.9M2.9 12.1h0.9M9.8 0.2h0.9M10.9 0.2h0.9M4.7 12.7h0.9M8.7 4.3h0.9M5.3 5.4h0.9M1.8 14.0h0.9M0.8 5.9h0.9M10.4 5.6h0.9M13.7 3.4h0.9M13.7 12.5h0.9M9.4 12.5h0.9M6.3 11.6h0.9M11.1 7.2h0.9M6.6 9.9h0.9M5.7 1.2h0.9" stroke="#D04A3A" stroke-width="0.9" opacity="1.0"/><path d="M10.5 3.7h0.9M6.8 11.0h0.9M2.4 0.3h0.9M1.7 8.3h0.9M5.1 3.6h0.9M6.3 13.0h0.9M3.6 5.7h0.9M12.3 8.6h0.9M3.8 6.6h0.9M6.7 2.0h0.9M5.3 4.3h0.9M11.3 4.5h0.9M9.2 13.6h0.9M12.9 5.3h0.9M8.4 4.5h0.9M5.6 6.8h0.9M11.1 13.1h0.9M4.1 0.1h0.9M6.3 0.8h0.9M0.4 10.8h0.9M1.6 10.1h0.9M5.1 13.1h0.9M11.9 0.9h0.9M2.7 13.3h0.9M8.6 5.9h0.9M11.0 11.4h0.9M6.9 6.6h0.9M1.4 5.1h0.9M2.0 8.8h0.9M8.5 2.0h0.9M8.8 1.4h0.9M1.5 9.0h0.9M6.5 12.6h0.9M8.8 9.8h0.9M1.8 11.7h0.9M1.2 8.7h0.9M12.8 12.7h0.9M12.5 6.3h0.9M9.7 11.1h0.9M1.9 13.2h0.9M12.7 6.2h0.9M10.9 6.3h0.9M3.9 10.0h0.9M0.9 11.2h0.9M13.7 4.0h0.9" stroke="#8FB870" stroke-width="0.9" opacity="1.0"/><path d="M13.2 1.2h0.9M12.0 3.9h0.9M13.5 6.0h0.9M12.9 0.4h0.9M1.2 11.4h0.9M8.9 7.5h0.9M0.5 2.4h0.9M5.2 0.7h0.9M13.9 10.7h0.9M13.3 9.8h0.9M4.8 1.1h0.9M10.2 1.6h0.9M7.7 6.5h0.9M6.9 1.1h0.9M1.0 7.3h0.9M0.4 7.4h0.9M2.1 3.9h0.9M2.1 8.0h0.9M5.4 3.1h0.9M3.1 7.9h0.9M12.7 5.9h0.9M2.3 4.4h0.9M3.4 8.0h0.9M11.0 8.0h0.9M2.6 4.6h0.9M5.3 6.2h0.9M5.6 14.0h0.9M7.7 9.3h0.9M10.0 9.0h0.9M11.3 5.2h0.9M9.3 13.6h0.9M2.3 8.8h0.9M5.4 0.9h0.9M0.6 10.6h0.9M1.6 10.0h0.9M1.4 5.1h0.9M0.5 7.6h0.9M11.0 3.2h0.9M7.9 12.9h0.9M4.1 6.6h0.9M10.1 12.1h0.9M2.4 9.3h0.9M1.7 1.6h0.9M13.8 0.7h0.9M12.9 10.5h0.9" stroke="#C9A060" stroke-width="0.9" opacity="1.0"/></pattern></defs>
<circle cx="202.3" cy="478.4" r="40.2" fill="#D0CFD9"/>
<path d="M194.7 439.5h.9m1.1-.3h.9m-3 1h.9m1.5-.2h.9m8.3 .3h.9m-11.1 1.1h.9m-.4-.1h.9m5.4 .1h.9m-.6-.9h.9m6.6 0h.9m-6.1 1.6h.9m4.3 .4h.9m2.3-.1h.9m-.3-.8h.9m-16.4 1.6h.9m3.5-.6h.9m.1 .8h.9m11.7-.2h.9m-31.3 1.2h.9m5.1-.7h.9m6.7-.1h.9m-17.7 1.8h.9m25.1 0h.9m2.5-.6h.9m-32.7 1.6h.9m.1 .1h.9m1.5 0h.9m7.1-.9h.9m9.1 .1h.9m-.2 .1h.9m2.1 0h.9m4.5 .6h.9m.5-.9h.9m.9 .9h.9m1.2 0h.9m5.3-.7h.9m-44.8 1h.9m15.6 .1h.9m5.8-.3h.9m17.8 1h.9m.3-.9h.9m2.1 0h.9m-47.1 1h.9m1-.1h.9m.3 .9h.9m1.3-.5h.9m5.5 .5h.9m3 .1h.9m8.4-.7h.9m13.9-.2h.9m2.4 .2h.9m4.4 .7h.9m-48.2 .1h.9m22 .1h.9m2.3 0h.9m6.7 .2h.9m4.1 .6h.9m.1-.8h.9m1.6 .1h.9m2.3-.2h.9m-49.4 1h.9m9.8-.1h.9m2.3 .5h.9m2.8-.3h.9m.6-.1h.9m14.6 .2h.9m0 .1h.9m.6-.2h.9m6 .3h.9m4.4-.3h.9m-9.4 1.3h.9m3.6-.3h.9m.1 .3h.9m4.5-.4h.9m-.1 .1h.9m0 .2h.9m-57.2 1h.9m16.7 .2h.9m.2-.1h.9m24.6-.4h.9m.9 .1h.9m.3-.1h.9m2.1 .1h.9m-39.8 .9h.9m1.1 0h.9m1.3 .5h.9m2.2-.2h.9m1.1-.2h.9m4.4 0h.9m6.9 .2h.9m.8 .1h.9m.5-.1h.9m4.9-.1h.9m6.9 .3h.9m0-.4h.9m2.1 0h.9m1.5 .1h.9m-52.5 1.1h.9m1 .1h.9m3.6 0h.9m5.5-.1h.9m4 0h.9m7.4 .1h.9m6.5 .1h.9m1.1-.4h.9m.4 .1h.9m.3 .2h.9m1.9-.2h.9m2.4 .1h.9m3.1 0h.9m2.3-.2h.9m-49.9 1.5h.9m.1 0h.9m4.2-.4h.9m.4 .3h.9m6.2-.1h.9m3.3-.1h.9m2.3 0h.9m7.6 .1h.9m1-.2h.9m1.4 .1h.9m12.7 .3h.9m2.3-.2h.9m-56.8 .9h.9m1.5 0h.9m5.5 .2h.9m1.2 .2h.9m2.2 0h.9m11.4-.4h.9m7.4 0h.9m.6 0h.9m1.8 0h.9m2.4 .1h.9m1 0h.9m8.8 .1h.9m3.2 .2h.9m-29.9 .7h.9m-36 1h.9m7.9 .1h.9m4-.1h.9m.1 .4h.9m.5-.1h.9m2.4-.3h.9m19.7 .1h.9m4.3-.2h.9m3.6 .4h.9m2.1 0h.9m5.6-.4h.9m.8 0h.9m.1 0h.9m2.2 .2h.9m-66.7 1.4h.9m.9-.2h.9m2.6 .1h.9m5.4-.4h.9m9.6 0h.9m8.3 .3h.9m10.7-.3h.9m3.2 .4h.9m.3 0h.9m.2-.3h.9m.4 .3h.9m2.1 .1h.9m3.1-.6h.9m8.7 .5h.9m-68.3 1h.9m2.6-.3h.9m30.5 .1h.9m1.9-.1h.9m8.9 .3h.9m1.9 0h.9m.7-.1h.9m.7 .1h.9m-57.3 .9h.9m11.4 .1h.9m2.4 0h.9m9.6 0h.9m7.5-.9h.9m3.3 1h.9m3.6-.5h.9m1.1 0h.9m7.6 .4h.9m-40.8 1h.9m4.3-.2h.9m-.1-.1h.9m20.2 .1h.9m16.8-.1h.9m5.6 .4h.9m0-.4h.9m-52.1 1.2h.9m10.5-.7h.9m8.5-.1h.9m10.4 0h.9m2.8 .9h.9m4.1 0h.9m-38.9 .8h.9m3.6 0h.9m-.2 0h.9m6.4 0h.9m4.5 0h.9m3.6-.7h.9m7.5 1h.9m1.2-.2h.9m-.2-.7h.9m3.6 .8h.9m-54.4 .9h.9m8.5-.7h.9m2.3 .6h.9m3.3 .1h.9m7.1 0h.9m11.8 .1h.9m5.3-.7h.9m.3 .8h.9m11.7-.8h.9m6.3 .7h.9m.3-.8h.9m.3 .8h.9m1-.9h.9m-70.9 1.2h.9m34.6 .8h.9m1-.1h.9m7.4 0h.9m2.2-.8h.9m1.7-.1h.9m2.2 .8h.9m-47.5 1.1h.9m6.6-.6h.9m22.3-.1h.9m3.5 .1h.9m4.1 0h.9m6.5 0h.9m5.5-.2h.9m6.5 .9h.9m-67.2 .9h.9m8.5-.9h.9m12.5 .9h.9m1.6-.8h.9m.2-.1h.9m11.3 .9h.9m7.7-.6h.9m10.5 .1h.9m.6 .5h.9m6.2-.6h.9m-65 1.6h.9m21.3-.8h.9m17 .9h.9m11.7-.8h.9m9.5 .1h.9m-69.3 1.1h.9m6.3 0h.9m22.6 .6h.9m4.2-.5h.9m2.4 .5h.9m-.1-.6h.9m16-.3h.9m4.1 .1h.9m3.5-.1h.9m0 .1h.9m2.4 .3h.9m-58.9 1h.9m11-.5h.9m.3 .5h.9m15.6-.4h.9m11.8 0h.9m4.1 .3h.9m4.8-.1h.9m0-.1h.9m-63.1 .9h.9m10.8 .2h.9m5.4-.2h.9m8.5 .2h.9m11.7 .1h.9m14-.3h.9m12.8 .5h.9m-76.9 .9h.9m.2-.2h.9m4.3-.2h.9m3.3 .5h.9m1.5 0h.9m22-.1h.9m3.4 .1h.9m3.2-.4h.9m.2-.1h.9m1.1 .1h.9m1.2 .1h.9m1.7 .3h.9m-.3-.2h.9m1.4-.1h.9m-52.5 1.3h.9m1.5 .1h.9m14.9-.4h.9m6 0h.9m3.3 .2h.9m3.6 .2h.9m-.2-.6h.9m5.6 .4h.9m3.4-.1h.9m6.2-.3h.9m3.7 .3h.9m.7 .1h.9m4.7-.2h.9m.1-.2h.9m7.4 .4h.9m-77.4 1.2h.9m27.2-.5h.9m2.2 .4h.9m1.3 0h.9m.3 .1h.9m29.3-.3h.9m10.9 .1h.9m-67.1 .7h.9m1.4 .2h.9m1.8-.1h.9m7.6 .1h.9m42.6-.1h.9m6 .3h.9m-57.5 .7h.9m6.7 .3h.9m4-.1h.9m1.2 .2h.9m20.3-.3h.9m1.2 .2h.9m4.6 .1h.9m.1 .1h.9m3.9-.2h.9m3.7-.1h.9m2.2 0h.9m1.2-.1h.9m-79.9 1h.9m6.6 .4h.9m19.2 0h.9m.9-.2h.9m.5 .2h.9m7.6-.1h.9m-.4 0h.9m13.8 0h.9m3.6-.3h.9m.3 0h.9m.8 .4h.9m1.5-.5h.9m2.9 .1h.9m-50.1 1.3h.9m11.1-.3h.9m5.1 .5h.9m3.2-.5h.9m9.5 .2h.9m3.2-.1h.9m1.7 .4h.9m1.3-.1h.9m5.3-.2h.9m-66.4 1.4h.9m15.9-.3h.9m10-.2h.9m12.3 .2h.9m8.5 .2h.9m2.3-.5h.9m3.3 .1h.9m1.4 .3h.9m4.5-.2h.9m5.6-.1h.9m-.2-.1h.9m-64.6 1.4h.9m4.9-.1h.9m14.2 .1h.9m5.4 .1h.9m1.9 0h.9m4.7-.2h.9m8.1 .2h.9m2.3-.1h.9m3.3-.2h.9m1.3 .1h.9m2.1-.1h.9m.3 .2h.9m7.4-.3h.9m-70.2 1.2h.9m10.1-.1h.9m4.2 .2h.9m.8-.1h.9m12.9-.1h.9m17.3-.1h.9m8.2 .3h.9m10.5 .1h.9m-46.9 .8h.9m9.8-.6h.9m11.5 .6h.9m1.5 .2h.9m6.3-.3h.9m5.4 .2h.9m-61.1 .3h.9m18.4 .8h.9m1.2-.1h.9m1.3 .2h.9m1.8-.2h.9m.6 .2h.9m.9-.9h.9m.3 .7h.9m1.1 .2h.9m15.8-.9h.9m4.2 .6h.9m1.3-.6h.9m-.8 .9h.9m2.4-.2h.9m-57.9 1.2h.9m-.9-.8h.9m14-.2h.9m2 .8h.9m2.4 0h.9m10.9 .1h.9m.3-.7h.9m17.4-.1h.9m-62.5 1.8h.9m4.2-.8h.9m.5-.1h.9m2.8 .9h.9m7.7 0h.9m5.5 0h.9m5.3-.7h.9m2.5-.1h.9m.1 .8h.9m10.6-.2h.9m9.4-.5h.9m3.3-.1h.9m3.2 .8h.9m-69.2 .9h.9m13.9-.6h.9m6.5 .6h.9m6.7-.6h.9m10.4 0h.9m1.4 .6h.9m3.4-.6h.9m.9 .7h.9m1.4-.7h.9m2.3-.2h.9m4 .8h.9m-59.2 .4h.9m23.7 .8h.9m14.1-.7h.9m1.3 .6h.9m21 0h.9m.2-.9h.9m-65 1.3h.9m7.8 0h.9m-.1 .6h.9m17 0h.9m2.1-.6h.9m3.4 .6h.9m1.5 .1h.9m15.5-.7h.9m17-.2h.9m-45.8 .9h.9m.7 .1h.9m8.8 .3h.9m5.4-.3h.9m1.1 0h.9m1.5 .8h.9m4.3-.6h.9m1.9-.1h.9m8.8 0h.9m-34.4 1.1h.9m5.1 .1h.9m7.8-.3h.9m5.3 0h.9m.4 .2h.9m5.3 .1h.9m1-.1h.9m6.5 .1h.9m-71 1.1h.9m17-.3h.9m.1 .3h.9m6.1-.4h.9m1 .1h.9m5.9 .2h.9m-.3 .1h.9m.2 0h.9m2.3-.4h.9m2.5 .3h.9m5.1 0h.9m4.3-.1h.9m1.7 0h.9m10.4 .2h.9m2.3-.1h.9m-71.3 1h.9m15.9-.1h.9m4.2-.1h.9m5.3 .1h.9m31.7 0h.9m4.5 .1h.9m-64.7 1.2h.9m.1 0h.9m5.2 0h.9m9.8-.3h.9m6.2 .3h.9m2.3-.2h.9m4.3 .1h.9m23.4-.4h.9m4.2 .2h.9m2.4 .3h.9m0-.4h.9m-72.3 1.2h.9m1.5 .2h.9m10.3-.4h.9m13.1 .4h.9m-.2-.4h.9m1.5 .1h.9m3.9-.2h.9m19.2 .1h.9m8.9 .5h.9m-54.9 .6h.9m11.1 .4h.9m4.4-.4h.9m2.1 0h.9m11.5 .1h.9m10.8 0h.9m15 .1h.9m-68.6 1.3h.9m9.9-.5h.9m26.5 .2h.9m2.1 .1h.9m6.6 0h.9m1.2-.2h.9m13.8 0h.9m-65 1h.9m3.1 .1h.9m13.7 0h.9m.6-.1h.9m5.4 .4h.9m13.3 0h.9m4.5 0h.9m6.6-.2h.9m1.5 .1h.9m4.8-.1h.9m.4 0h.9m.2-.3h.9m-60.7 1.4h.9m6.2 .1h.9m2.6 .1h.9m8.3-.2h.9m.3 .1h.9m9.3 .1h.9m5.6-.1h.9m18-.3h.9m.3 .3h.9m-62.7 1.1h.9m1.1-.5h.9m25.4 .3h.9m22.1 .2h.9m11.3-.5h.9m-62.5 1.1h.9m.3 .1h.9m10.6 .2h.9m4 0h.9m9-.1h.9m5.3 .1h.9m-.3-.3h.9m16.5 0h.9m3.1 0h.9m-46.1 1.1h.9m3.5 .3h.9m2-.2h.9m6.5 .2h.9m2.4-.4h.9m.2 .1h.9m15.5 .3h.9m.1 0h.9m9.6-.1h.9m.1 0h.9m-51 .8h.9m1-.1h.9m2.6 0h.9m24.3 .5h.9m7.1-.4h.9m.2 .1h.9m3.6 .1h.9m-39.7 1h.9m1.9 .1h.9m12.9-.2h.9m14.7-.6h.9m1.3 .6h.9m-47.8 .4h.9m2.9 .7h.9m3.3-.7h.9m.2 .6h.9m2.4 .2h.9m10.8-.1h.9m9.6-.7h.9m13.5-.1h.9m2.5 .6h.9m2.2-.6h.9m-27.4 1.8h.9m2.6-.1h.9m5.2 .1h.9m7.5 0h.9m3.3 .1h.9m-33.4 .2h.9m2.4 .8h.9m1.9 0h.9m.1 0h.9m8.5-.2h.9m.1-.5h.9m8.7-.1h.9m4.4 .8h.9m-41.9 .2h.9m3.3 0h.9m-.6 .9h.9m8.1 0h.9m6.9-.8h.9m20.9-.2h.9m-47.2 1.9h.9m.3 0h.9m2.2-.6h.9m3.2-.2h.9m2.5 .7h.9m2.1-.5h.9m12.6 0h.9m12.1 .5h.9m2.9 .1h.9m-43.5 1.1h.9m0-.9h.9m0 .9h.9m15.8 0h.9m5.4 0h.9m-.9-.6h.9m7.8 .5h.9m5.5 0h.9m-.1 0h.9m-24.8 .3h.9m-21.4 1.1h.9m1.6 .1h.9m7.5-.2h.9m11.4 .2h.9m1.6-.2h.9m4.2 .1h.9m-26.9 .8h.9m3 .4h.9m4.4-.1h.9m4.3-.3h.9m3.1 .4h.9m7.9-.2h.9m-27.6 1.2h.9m2.4 0h.9m.4-.5h.9m5.2 .4h.9m10.6-.2h.9m7.6-.1h.9m-30.4 1.5h.9m1.1-.4h.9m.2 .4h.9m4.8-.2h.9m5.3 0h.9m4.4-.2h.9m5.4 .3h.9m-20.1 1h.9m1 0h.9m9.9-.2h.9m-14.4 1.3h.9m4.2 .1h.9m-.8 .8h.9m3.2 .1h.9" stroke="#B9BAC6" stroke-width=".95" fill="none"/>
<path d="M198.7 439.1h.9m2.5 0h.9m8.4 1.1h.9m-2 .9h.9m1.4-.6h.9m-7.5 1.9h.9m4.8-.8h.9m-.4 .8h.9m-.3-.9h.9m-4.2 1h.9m-.3 .8h.9m-15.4 1h.9m14.1 0h.9m.1 0h.9m6.5-.8h.9m1.1 1h.9m-40 .9h.9m3.6-.1h.9m10.8-.6h.9m8.4-.1h.9m.8 .1h.9m8.8-.1h.9m-19.8 1.1h.9m7.8 .7h.9m1.8-.7h.9m-29.9 1.7h.9m21.1-.8h.9m2.9 .9h.9m1.3-.9h.9m4.4 .8h.9m8.4 .1h.9m-16.6 .2h.9m2.7 .1h.9m.7-.2h.9m1.6 .8h.9m8.3 .1h.9m-24.9 .2h.9m1.3 .1h.9m4-.2h.9m12.6 .4h.9m.6-.3h.9m-20 1.3h.9m.1-.4h.9m22.2 .4h.9m-47 .7h.9m2.4 .3h.9m17-.3h.9m1.9-.2h.9m1.6 .4h.9m.2 0h.9m-.1-.4h.9m11.8 .4h.9m-24.2 1.2h.9m2.1 0h.9m3.3-.1h.9m.4-.2h.9m-32.5 .9h.9m18 .1h.9m6.2 .3h.9m1.2-.5h.9m1.5 .3h.9m18.1 0h.9m-48 .9h.9m26.4 0h.9m15.8 .4h.9m4.4-.4h.9m-4.4 1.2h.9m-57.2 1.3h.9m25.2-.3h.9m.8 .3h.9m3.7-.4h.9m4.5 .1h.9m19 .2h.9m-50.3 .8h.9m13.4 0h.9m2.4 .1h.9m.2 .2h.9m13.8-.3h.9m12.5 .4h.9m3.3-.1h.9m1.4 .1h.9m.5-.3h.9m-43 1.1h.9m-.1 .1h.9m1.3-.4h.9m1.1 .4h.9m2.1-.1h.9m2.8 .1h.9m4.9-.4h.9m17.1 .2h.9m-.1 .1h.9m-52.3 1h.9m17-.1h.9m7.6-.1h.9m33 .3h.9m-46.3 .8h.9m1 .3h.9m1.7-.3h.9m1.8 .3h.9m4.5-.1h.9m-8.2 1.2h.9m15.8-.1h.9m8.6-.4h.9m.3 0h.9m-32.6 1.4h.9m6.3-.1h.9m9 .1h.9m8.2-.8h.9m.4 .6h.9m1.2 .2h.9m15-.1h.9m-59.2 1h.9m19.5 0h.9m37.6 .2h.9m-48.8 .2h.9m7.3-.1h.9m36.9-.1h.9m-45.9 1.9h.9m-.2-.8h.9m4.4 .6h.9m39.3-.6h.9m-12.4 1.7h.9m-52.3 .4h.9m9.6 .7h.9m3.3-.6h.9m.9-.2h.9m1.1-.1h.9m43.1 .1h.9m.5 .1h.9m-47.1 1.8h.9m-.8-.8h.9m.7 0h.9m44.7 .7h.9m-53.8 1h.9m.5-.6h.9m4.1 0h.9m1.2-.3h.9m18.3 .4h.9m19.7-.1h.9m5.4-.2h.9m-72.1 1.1h.9m6.4 0h.9m5.5-.1h.9m1.3 0h.9m1.2 .2h.9m.3-.3h.9m1.7 .1h.9m41.6 .3h.9m-59 .7h.9m8.9 .1h.9m-.3 .3h.9m3.3-.4h.9m4.8 .2h.9m32.5-.1h.9m9.4 0h.9m-68.8 1.2h.9m13.8-.1h.9m6.3 .3h.9m39.1-.4h.9m4.5 .2h.9m-48.6 1.1h.9m29 0h.9m9.1-.3h.9m3.8 0h.9m-70.4 1.4h.9m17.9-.5h.9m1.5 .2h.9m-.3-.1h.9m1.5 .3h.9m0 0h.9m20.2 .2h.9m2.1-.1h.9m6.5-.2h.9m13.7 0h.9m1.3-.3h.9m.2 .6h.9m-57.8 .8h.9m.4-.3h.9m3.2 0h.9m11.6 .1h.9m30.6 .1h.9m-50.2 1.3h.9m0-.3h.9m.2 .4h.9m0-.6h.9m.3 .5h.9m10.5-.5h.9m7.5 .1h.9m17.3 .4h.9m9.4-.4h.9m1.2 .2h.9m-73.2 .8h.9m14 .4h.9m-.2 0h.9m3.5-.3h.9m13.6 .2h.9m5.4-.1h.9m-23 1.3h.9m23.2-.1h.9m24.5 0h.9m1.3 0h.9m.2-.2h.9m2.3 0h.9m-58.5 1h.9m-.4 0h.9m.2 .4h.9m49.9-.1h.9m1.8-.3h.9m.6 .4h.9m-69.2 .6h.9m17.9 0h.9m24.1 .1h.9m-32.5 1.2h.9m.4-.1h.9m.3 0h.9m53.7 .2h.9m-59.9 .9h.9m31.9-.1h.9m7.3-.1h.9m-53.6 1.3h.9m7.6 0h.9m2.5-.3h.9m1 .1h.9m1.1-.1h.9m14.7 .1h.9m2.5 0h.9m5.6 .1h.9m9.6-.2h.9m16.7 .4h.9m-73.1 .7h.9m12.3 .1h.9m5.8 0h.9m14.9 .1h.9m34.4-.9h.9m.6 .7h.9m-59.1 1.3h.9m1.2-.8h.9m-.9 .7h.9m52.9-.9h.9m-31.4 1.1h.9m2 .1h.9m3.5-.2h.9m21.4 .1h.9m-65.9 1.1h.9m6 .8h.9m.6-.1h.9m.7 0h.9m-.5-.7h.9m.1 .1h.9m1.1-.2h.9m11.6-.1h.9m6.5 .2h.9m29.5 .7h.9m-.8-.7h.9m4.2 .6h.9m-68.2 .3h.9m7 0h.9m.7 .2h.9m3.6 .6h.9m15.7-.9h.9m25.7 .3h.9m1.2 0h.9m-53.8 1.7h.9m1.6-.9h.9m31.5 0h.9m20 0h.9m-58.4 .9h.9m1.1 .9h.9m51.3-.7h.9m1.6 .8h.9m1-.9h.9m-59.7 1.3h.9m2.1-.2h.9m.5-.1h.9m-.3 0h.9m2.6 .3h.9m23.2-.3h.9m8.4 0h.9m-43 1.4h.9m8.7 0h.9m11.9 0h.9m33.7-.1h.9m2-.3h.9m-59.7 1.1h.9m4.7 .1h.9m6.1 .2h.9m7.7 0h.9m18-.3h.9m0-.2h.9m2.1 .6h.9m.5 0h.9m7.1-.4h.9m3.5 .1h.9m.4 .2h.9m-.3-.5h.9m-59.6 1.4h.9m.1-.2h.9m.1 0h.9m.4 .1h.9m9.4-.2h.9m22.2 .1h.9m3.6 .1h.9m13.6 .3h.9m-46.2 .7h.9m28.7 .3h.9m9.7-.3h.9m1.3-.1h.9m-62.9 1.2h.9m12.8 .1h.9m32.6 0h.9m7.3-.3h.9m1.5 .1h.9m6.2-.1h.9m.1 .5h.9m-59.6 1.1h.9m.4-.1h.9m2.2-.4h.9m4.2 .2h.9m8.3 .1h.9m31.8 0h.9m2.4-.3h.9m-46.4 1.1h.9m4.9 .1h.9m11.7-.1h.9m7.1 .2h.9m6.8 0h.9m-49.2 .9h.9m4.1 .1h.9m.2 .1h.9m21.2 .1h.9m18 .1h.9m6.2-.2h.9m.2-.2h.9m-45.9 1.4h.9m1.1-.3h.9m.3 .2h.9m.4-.4h.9m8.1 .2h.9m.4-.2h.9m.2 .4h.9m30.5-.2h.9m.1 .2h.9m2.2 .1h.9m-56.2 1.1h.9m.1-.1h.9m17.5-.3h.9m2.2 .1h.9m23.3-.1h.9m-41.4 1.1h.9m10.7 .3h.9m-.2-.4h.9m2.5 .1h.9m3.3 .1h.9m8.4-.2h.9m3.1 .3h.9m8.9 .1h.9m-52.2 .8h.9m23.1 .1h.9m15.7 0h.9m.4-.4h.9m7.1 .3h.9m3.3-.1h.9m-55.5 1h.9m2.2-.1h.9m.4-.6h.9m.3 .7h.9m10.5 .1h.9m4.5-.8h.9m2.3 .9h.9m26 0h.9m-52.1 .8h.9m2.1-.7h.9m.4 .7h.9m13.5-.6h.9m13.7 0h.9m11.9 .7h.9m.1 0h.9m-11.2 .9h.9m9.3 .1h.9m-49 1h.9m1 0h.9m1.4-.7h.9m34.6 .7h.9m1.5 .1h.9m-.8-.7h.9m-44.3 1h.9m.2 .7h.9m.5-.8h.9m.8-.1h.9m3.2 .9h.9m12.9 0h.9m3.7-.7h.9m8.2 .6h.9m2.2 0h.9m4.3-.6h.9m6.4 0h.9m-49 .9h.9m16 .8h.9m4.2-.7h.9m10.8 .6h.9m1 .1h.9m1-.1h.9m3.9 0h.9m4.2 .1h.9m-48.3 .1h.9m.9 .4h.9m16.3-.2h.9m14.8 .1h.9m5.6 .6h.9m.7 0h.9m-42.7 .4h.9m.3 .1h.9m8.6-.3h.9m5.1 .2h.9m.5 .1h.9m8.1 0h.9m6.4 .6h.9m-.4-.9h.9m-.3-.1h.9m-15.3 2h.9m11.5-.6h.9m5.7-.1h.9m.1 .1h.9m1.1-.1h.9m-14.6 .8h.9m4.2 .3h.9m1.5-.1h.9m3.4 .1h.9m-18 .7h.9m2.5 .3h.9m1.3-.3h.9m8.1 .4h.9m-25.9 .8h.9m15-.2h.9m7.3 .3h.9m-15.6 1h.9m2.1-.2h.9m7.8 .3h.9m-20 1h.9m3.3-.1h.9m1 .3h.9m8.8-.1h.9" stroke="#E0804F" stroke-width=".95" fill="none"/>
<path d="M204.3 439h.9m-6.1 1.4h.9m-11.4 1.1h.9m3.3-.2h.9m11.7-.2h.9m3 .2h.9m3.6 0h.9m-26.3 .8h.9m18.9 .4h.9m7.7-.1h.9m-32.2 1.1h.9m21.6-.2h.9m.6 0h.9m.8 .1h.9m-24.9 .3h.9m27.4 .6h.9m.6-.1h.9m4.8 .2h.9m-15.2 .9h.9m5.4 .1h.9m2.4 0h.9m.1 .1h.9m-26.4 .9h.9m11.6 0h.9m.4 0h.9m2.3-.8h.9m7.4 .9h.9m-14.5 .2h.9m7.7-.2h.9m5.1 .2h.9m-15.6 .9h.9m1.3 .2h.9m3.4-.1h.9m5.4-.1h.9m1.3-.1h.9m-14 2h.9m.5-.9h.9m5.3 .2h.9m-36.8 1h.9m.4-.3h.9m1 .3h.9m6.4-.2h.9m9.9 .3h.9m.2-.1h.9m.9 .1h.9m.3 .1h.9m3.3-.2h.9m-9.1 .7h.9m1.1 0h.9m0 0h.9m1 .3h.9m.4 0h.9m18.2-.2h.9m1.1 .4h.9m-52.4 .8h.9m28.2 .3h.9m1.5-.4h.9m7.3 .1h.9m15 0h.9m-50.5 1.1h.9m16.1 0h.9m1.3 .1h.9m.9-.4h.9m-26.9 1.3h.9m11.8 .2h.9m7.5-.4h.9m-.2 .3h.9m.6-.1h.9m-.3-.2h.9m1.2 .5h.9m.3-.3h.9m1.3 .3h.9m24.5-.1h.9m-42.9 1.1h.9m2-.1h.9m7.8 .2h.9m-.3-.1h.9m1.5-.2h.9m2-.2h.9m19.3 .5h.9m6.4-.1h.9m-60 1h.9m3.5-.3h.9m16.1 .1h.9m2.1 .1h.9m7.4 .2h.9m13.8-.2h.9m2.2 .1h.9m1.6 .1h.9m2.2-.2h.9m-.1-.3h.9m.1 .4h.9m-50.2 .9h.9m.3-.1h.9m8.4 .4h.9m2.1-.2h.9m.3 0h.9m1.2 0h.9m.2-.3h.9m.3 .1h.9m18.8 .1h.9m2.1 .3h.9m1.3-.4h.9m-36.6 1.4h.9m3.6-.4h.9m2 .4h.9m.4-.5h.9m.8 .1h.9m30.8 .1h.9m-57.4 .9h.9m15.9 .2h.9m-.3 .1h.9m.7-.2h.9m.9 0h.9m9.8 .3h.9m-19.1 .9h.9m1.4 .1h.9m2.4-.4h.9m.8 .3h.9m-16.1 .8h.9m.7 0h.9m4.8 .2h.9m6.2-.2h.9m.3 .3h.9m0 0h.9m27.6-.3h.9m.1 .2h.9m-49.6 1h.9m7.7 0h.9m3.4-.8h.9m-.1 .9h.9m1.4-.8h.9m-.6 .7h.9m4-.7h.9m.2 .9h.9m2.5-.1h.9m15.8-.1h.9m11.6 .1h.9m-64.9 .1h.9m11.6 .7h.9m6.3 .2h.9m.2 0h.9m.2-.8h.9m.1 .6h.9m0-.1h.9m.7 0h.9m25 .2h.9m-45.7 .2h.9m14.7 .7h.9m2.9 .1h.9m26.7-.7h.9m12.7 .9h.9m-71 0h.9m16.6 .2h.9m4.5 .5h.9m13.8-.7h.9m25.5 .2h.9m6.2 .5h.9m-63.5 1.2h.9m-.1-.1h.9m9.4-.6h.9m5.3 0h.9m21.2 .7h.9m.5-.1h.9m1.9 0h.9m8.5-.8h.9m-47.7 1.9h.9m3.3-.8h.9m1 .8h.9m1.1-.9h.9m22.4 .2h.9m4.1-.1h.9m18.2 .1h.9m0 .8h.9m-53.4 0h.9m2.1 .9h.9m29.8-.7h.9m4.1-.2h.9m-54.4 1.2h.9m.4 .2h.9m10.5-.3h.9m.4-.1h.9m1.1 .2h.9m-.2-.1h.9m7.9 .1h.9m13.8 0h.9m22.3 0h.9m1.3 .8h.9m1-.6h.9m-53.3 1.6h.9m1.8-.8h.9m.1 .8h.9m19.5-.7h.9m10.5 .1h.9m12.6 0h.9m-71.2 1h.9m15.1-.4h.9m6.2 .2h.9m45.2 .3h.9m.3-.3h.9m-71.2 .8h.9m17.9 .4h.9m2.4-.4h.9m.2 .2h.9m41 .2h.9m2.3 0h.9m-72.1 1h.9m22.1 .2h.9m1-.3h.9m-.1 .2h.9m4.9 0h.9m.9-.4h.9m37.1 .1h.9m2.9-.1h.9m1.2 .2h.9m-77 1.1h.9m18.8-.2h.9m4.5 .1h.9m6.3 .3h.9m30.5-.1h.9m1-.1h.9m4.8-.1h.9m-73.5 1h.9m14.7 .4h.9m6.3 0h.9m.3-.3h.9m.3 0h.9m2.1 .3h.9m22.2-.4h.9m16.3 .1h.9m5.1 0h.9m0-.2h.9m.6 .4h.9m-48.2 1.1h.9m13.8 .1h.9m1.7-.2h.9m1.4-.1h.9m24.3 .2h.9m3.5-.4h.9m-74.7 1.5h.9m3.5-.5h.9m10.7 .5h.9m3-.2h.9m16.1 .1h.9m.4-.2h.9m6.2 0h.9m2-.2h.9m23.5 .4h.9m-58.6 .6h.9m.4 .5h.9m53.6-.2h.9m-68.4 1h.9m13.8 .2h.9m.4-.1h.9m4.5 .2h.9m7.5 0h.9m34.4 0h.9m4.6-.2h.9m-77.5 1.1h.9m7.5 .2h.9m8.3-.2h.9m.5-.1h.9m1.2 .2h.9m24.9-.3h.9m20.6 .2h.9m4.2 .1h.9m1.2 .1h.9m-70.1 1h.9m9.6-.4h.9m5.3 0h.9m24 .2h.9m21.3 0h.9m-65 .9h.9m5.5 .1h.9m4.3 0h.9m1.4-.3h.9m.7 .1h.9m15.2 0h.9m6.5 .1h.9m15-.7h.9m10.6 .9h.9m2.9-.2h.9m-79.2 1h.9m20.8 .1h.9m5.6 0h.9m.9-.1h.9m40 0h.9m2.5 .2h.9m1.3-.9h.9m-69.2 1.8h.9m.3 .2h.9m7.1-.9h.9m1.2 .9h.9m1.5-.3h.9m-.2 0h.9m15.1 .2h.9m23.3 0h.9m13.7-.2h.9m-66.2 1.1h.9m4.6-.1h.9m7.5 .1h.9m13.9 .1h.9m1.2-.2h.9m21.3 .2h.9m2.2 0h.9m1.1-.2h.9m.8-.5h.9m2.7 .7h.9m1.2-.2h.9m-60.8 1h.9m1.9 .3h.9m.4-1h.9m38 .9h.9m13-.8h.9m-61.1 1.7h.9m6.4 0h.9m3.2-.6h.9m31.6-.1h.9m-.8 .7h.9m9.9-.6h.9m7.2-.2h.9m-61.5 1.9h.9m3.1 0h.9m-.8-.8h.9m26.1 .1h.9m27.8 .6h.9m-74.3 .3h.9m13.5 0h.9m2.2 .8h.9m19.2-.7h.9m2.2 .8h.9m24.6-.6h.9m-67.1 .9h.9m-.3-.2h.9m13.2 .3h.9m1.1-.3h.9m1.9 0h.9m3.7 .2h.9m1.2-.1h.9m26.5-.1h.9m7.2 .2h.9m8.5 0h.9m-58.3 1.7h.9m3.2-.8h.9m4.1 0h.9m49.6 .2h.9m-67.2 1.1h.9m4.7-.2h.9m.7 0h.9m1.2 .2h.9m9-.1h.9m12.6 .1h.9m11.6-.1h.9m6.4 .1h.9m4.7 0h.9m1.2-.1h.9m-62 .9h.9m6.3-.2h.9m1.4 .1h.9m.1-.2h.9m16.9 .1h.9m1.5 .3h.9m3.9 .1h.9m7.9-.2h.9m.1 .1h.9m2.1 .1h.9m.2-.4h.9m2.1-.1h.9m5.3 .4h.9m1.1-.4h.9m-66.5 1.3h.9m15.4 0h.9m20.1 .2h.9m1.2 .1h.9m.6-.1h.9m5.4-.2h.9m-.3-.1h.9m1.3 .3h.9m1.5-.3h.9m2.3-.1h.9m10.7 .5h.9m-64 .9h.9m5.4 0h.9m.3-.1h.9m1.7 .3h.9m.4-.3h.9m14.8 .1h.9m5.5 .1h.9m19.9-.3h.9m1.2 0h.9m.2 .1h.9m3.2 .2h.9m-57.3 .8h.9m1.2-.2h.9m.2 0h.9m.9 .4h.9m.4 .1h.9m3.1 0h.9m.2-.5h.9m3.3 .5h.9m5.7-.2h.9m1.1-.1h.9m2.1 .3h.9m1.3 0h.9m.9 0h.9m4.7-.1h.9m-.1-.4h.9m4.4 .4h.9m10.6-.3h.9m.3 0h.9m-47.3 1.3h.9m14.9-.2h.9m1.3 .1h.9m14.8 0h.9m5.7 0h.9m-49.7 1h.9m.5-.2h.9m.8 .2h.9m.3 .2h.9m21.5 0h.9m11.7 .1h.9m1.8-.3h.9m2.7-.1h.9m1.9 .4h.9m1.1-.1h.9m3.8-.4h.9m-56.9 1.5h.9m2.5-.2h.9m0-.1h.9m17.1-.2h.9m4.1 .2h.9m6.4-.2h.9m3.4 .1h.9m1.5 .3h.9m1.7-.2h.9m.3 .2h.9m2.4-.2h.9m4.6 .3h.9m-.2-.1h.9m-56.7 .9h.9m1.2 .1h.9m.7 .1h.9m.9 .1h.9m-.1 0h.9m18.3-.3h.9m3.4-.1h.9m8.6-.1h.9m1.9 0h.9m9.9 .2h.9m-.1 .2h.9m-58.4 .8h.9m5 .2h.9m3.3 .1h.9m12.2-.5h.9m-.2 .5h.9m17.1-.1h.9m1.1 0h.9m3.6 .1h.9m.8-.2h.9m1.5 .1h.9m6.5 .2h.9m-56.7 .5h.9m2.4 .3h.9m0-.3h.9m23.5 0h.9m11.3 .2h.9m6.5 .3h.9m.1-.4h.9m3.4-.1h.9m-53.1 .5h.9m-.2 .6h.9m.3-.1h.9m.2 .2h.9m16.6 0h.9m12.7 .2h.9m-34.2 .9h.9m7.5 0h.9m10.9 .1h.9m2.1-.2h.9m13.4-.1h.9m4.6 .1h.9m1-.1h.9m2.6 .1h.9m.9-.7h.9m-55.4 1.7h.9m1.4 0h.9m.3 .2h.9m1-.8h.9m.1 .5h.9m3.2-.6h.9m10.7 .8h.9m2-.8h.9m2.6 .9h.9m0-.9h.9m1.2 0h.9m.1 .9h.9m3.4 0h.9m5.5-.3h.9m2.3-.5h.9m4.1 0h.9m-47.8 1.7h.9m0 0h.9m0 .1h.9m1.2-.2h.9m37.1-.5h.9m1.1 0h.9m-25.1 .9h.9m4.1 .1h.9m5.8 .7h.9m4.1-.1h.9m-35.5 1.1h.9m0-.7h.9m21.5-.1h.9m5.3 .8h.9m2.1-.1h.9m10 .1h.9m-43 .2h.9m20.7 .8h.9m2.7 0h.9m8.1-.6h.9m8.7 .5h.9m-46 .2h.9m18.9 .1h.9m7.5 0h.9m2.3 .9h.9m6.9-.9h.9m-40.9 1h.9m14.4-.1h.9m4.8 .2h.9m.8 .1h.9m7.6-.3h.9m11.5 .2h.9m-39.3 1.1h.9m13.8 .7h.9m-.2-.5h.9m6.7 0h.9m.3 0h.9m12.8-.4h.9m.8 .2h.9m-19.4 1h.9m13.8 .1h.9m-22 1.1h.9m20.1-.2h.9m-26.2 1.1h.9m3.4 0h.9m-.1-.3h.9m2.2 .5h.9m2.3-.3h.9m4.5-.1h.9m.2 .4h.9m2.2-.4h.9m.3 .2h.9m-16.9 .7h.9m6.2 .4h.9m3.5-.3h.9m-7 1.5h.9" stroke="#C9563A" stroke-width=".95" fill="none"/>
<path d="M220.9 446.3h.9m-4.2 2.4h.9m-.6 1.3h.9m-1.8 1.1h.9m-1.3 .9h.9m1.3-.1h.9m7.4 0h.9m-14.4 1.2h.9" stroke="#C5C9B3" stroke-width=".95" fill="none"/>
<path d="M225.9 446.4h.9m-3.6 .4h.9m-.1 .6h.9m-.6-.8h.9m.7 .9h.9m-4 .4h.9m3.4 0h.9m-7.3 1h.9m-1.7 1.1h.9m1.2-.5h.9m.2 .2h.9m.3-.1h.9m1.9 .1h.9m.1-.2h.9m-8.3 1.3h.9m4.8 .1h.9m-5.1 .7h.9m1.7 .4h.9m.3-.2h.9m-11.3 1.4h.9m1.5-.4h.9m3 .1h.9m.3 .2h.9m-6.2 .9h.9m.2-.3h.9m1 .4h.9m-7.4 1h.9m6.7-.4h.9m-9.4 1.2h.9m.3 .4h.9m1.4-.2h.9m0 .2h.9m1.3 0h.9m-8.2 .8h.9m.7-.1h.9m.2 .1h.9m4.4-.1h.9m11.6 .2h.9m.6-.1h.9m-24.2 .9h.9m.2 .4h.9m.4-.5h.9m-.1 .1h.9m1.1 .1h.9m0 0h.9m.4-.2h.9m13.7 .4h.9m-22.9 1h.9m1.1-.3h.9m.2 .3h.9m0-.1h.9m16 .2h.9m.4-.2h.9m-25 1h.9m1.9-.2h.9m.6 .3h.9m.1-.3h.9m2.1 0h.9m12.6 .3h.9m.3-.1h.9m.3 .2h.9m.1-.2h.9m-25 1.2h.9m2.2-.1h.9m1.1-.8h.9m16.1 .8h.9m.8-.1h.9m-20.5 1h.9m-.3 0h.9m13.3 .2h.9m-.2-.9h.9m-.8 .7h.9m.1-.6h.9m-24.1 1.5h.9m1.2 .1h.9m1.5 0h.9m-.1 0h.9m-.1 .1h.9m15.3-.2h.9m.1 .1h.9m-24.1 1.2h.9m4.5 .1h.9m14.6-.8h.9m.3 .5h.9m1.4-.6h.9m0 .7h.9m-.7-.7h.9m-27.4 1.7h.9m-.7-.7h.9m.9 .1h.9m.4-.1h.9m15.9 .7h.9m1.1 .2h.9m.8-.9h.9m-.6 .9h.9m-25.3 .9h.9m.3-.6h.9m2.1-.3h.9m.7 .2h.9m-.9 .7h.9m14.4 .1h.9m3.4-.1h.9m-29.1 .9h.9m2.2 .2h.9m1.3-.8h.9m0 .8h.9m19.1-.8h.9m0-.1h.9m-24.1 1h.9m-.5 .9h.9m2.2-1h.9m15 .4h.9m-24 .7h.9m19 .8h.9m2.3-.8h.9m0 .3h.9m-27.1 1.6h.9m.2-.7h.9m2.9-.3h.9m18.2 .4h.9m0 0h.9m.3-.3h.9m-.1 .1h.9m-28.8 1.2h.9m1.1-.1h.9m.2-.1h.9m-.1-.1h.9m0 .3h.9m1.6 .1h.9m15.7 0h.9m.1-.2h.9m.1-.3h.9m-23.1 1.5h.9m.5-.5h.9m17.9 .2h.9m2 .1h.9m-29.1 1h.9m1.6 .2h.9m.1-.4h.9m17.8 .3h.9m3 .2h.9m.6-.4h.9m-28.3 1.1h.9m23.1 .4h.9m-23.7 1h.9m.9 0h.9m.4-.3h.9m.1-.1h.9m0 .3h.9m15.7 .1h.9m.2-.4h.9m0 0h.9m-27.8 1.1h.9m.3 .1h.9m1.8-.2h.9m.6 .3h.9m0 0h.9m.1-.3h.9m16 .2h.9m2.3 .2h.9m-27.5 .6h.9m.1 0h.9m2.4 .5h.9m-.1 0h.9m17.1-.4h.9m.1 .2h.9m.3-.1h.9m-27.9 .9h.9m-.1 .3h.9m.3 0h.9m0 0h.9m3.5-.4h.9m14.8 .1h.9m-.1 .5h.9m-23.7 1h.9m4-.5h.9m18.4 .3h.9m-27.4 1h.9m0 .2h.9m4.2-.4h.9m.2 .5h.9m16-.6h.9m-23.6 1.2h.9m.2-.1h.9m-.4 .3h.9m1.2-.2h.9m14.1 .4h.9m2.3-.5h.9m0 .5h.9m-25.8 .8h.9m-.3-.8h.9m3.4 .8h.9m16.9-.3h.9m.4 .5h.9m1.2-.4h.9m-26.2 1h.9m.1-.6h.9m-.9 .8h.9m2.3-.1h.9m.1 0h.9m13 0h.9m-1.3 1h.9m.2-.7h.9m1.6 .9h.9m-.3-.1h.9m-25.8 1h.9m1 .1h.9m1.2-.9h.9m2.5 .7h.9m15.9 .1h.9m-22 1h.9m-4.2 .3h.9m1.5 .7h.9m1.9-.6h.9m-.7 .8h.9m-.2-1h.9m17.2 0h.9m-25.2 1.1h.9m5.5 0h.9m-8 1h.9m-.2 0h.9m.3 0h.9m.1 .2h.9m1.3 .6h.9m.1-.6h.9m13.1 .6h.9m.1-.8h.9m1 .1h.9m.2-.1h.9m-21.1 1.1h.9m1.2 .1h.9m11.7 .7h.9m3.2-.8h.9m-24.6 .9h.9m.1 .1h.9m-.3-.2h.9m1.7 .2h.9m-.2 .2h.9m.2-.4h.9m13.6 .4h.9m.3-.1h.9m-22.5 1h.9m4.3-.1h.9m.1 .2h.9m13.4 .1h.9m1.7 0h.9m-.4-.4h.9m-22.4 .9h.9m.1 .1h.9m14.3 .4h.9m.7-.1h.9m-.3-.3h.9m.1 .4h.9m-23.7 1h.9m0 .1h.9m.5-.1h.9m.8 0h.9m1.3 0h.9m13-.2h.9m.2 .2h.9m-17.1 .8h.9m15 .1h.9m0 0h.9m.3-.2h.9m-23.7 1.4h.9m-.3 0h.9m3.3-.3h.9m.2 .2h.9m15.2-.2h.9m-23.4 1h.9m.3 .2h.9m1.6-.1h.9m-.3 .3h.9m14-.3h.9m.4 .2h.9m.7-.4h.9m-18.6 1.5h.9m.2-.2h.9m-.1-.2h.9m11.7 .5h.9m.3-.3h.9m-20.7 .8h.9m0 .4h.9m.4-.1h.9m.1-.2h.9m.1 .3h.9m12.5-.4h.9m1.7 .5h.9m-21.2 1h.9m.5-.2h.9m-.2 .1h.9m1.5-.3h.9m10.7 .3h.9m-.3 .2h.9m1.4-.2h.9m1.3 0h.9m-23.9 .9h.9m2.9 0h.9m.5-.1h.9m11.5 0h.9m3.4 .2h.9m-22.3 1h.9m.4 0h.9m2.2-.1h.9m12 .3h.9m.9 .1h.9m.3-.2h.9m-.1 0h.9m-21.5 .7h.9m-.2 .2h.9m1.2-.1h.9m.4-.1h.9m.1 0h.9m9.7 .5h.9m1.9-.3h.9m1.1-.1h.9m-19.6 1.1h.9m0 .1h.9m14.1-.1h.9m-.2 0h.9m-20.8 1h.9m-.5-.6h.9m.9 .6h.9m1.5 0h.9m.1 .3h.9m11.5-.9h.9m1.2 .7h.9m-19.8 .2h.9m2.3 .8h.9m11.5-.1h.9m.2 .2h.9m.4-.9h.9m1.4 .2h.9m-22.4 .9h.9m1.3 .1h.9m-.6 .6h.9m-.2-.1h.9m1.1 .1h.9m10.8 0h.9m2.5-.6h.9m-.9 .7h.9m-21.7 1h.9m-.3 0h.9m-.6-.6h.9m3 .6h.9m13.7-.7h.9m-17.4 1.7h.9m.4-.6h.9m.1 .5h.9m0-.8h.9m9.6 .3h.9m0-.1h.9m.2 .1h.9m.3 0h.9m-18.7 .8h.9m17 .2h.9m-19.9 .8h.9m2.1 0h.9m.2 .3h.9m.1-.3h.9m10.6-.1h.9m-16.4 1.4h.9m.1-.1h.9m2 .8h.9m-7.3 1.1h.9m.2 1.2h.9m2.6-.3h.9m.1 .1h.9m-3 1.3h.9m0 .2h.9m.1-.4h.9m.4 .1h.9" stroke="#E6E9F2" stroke-width=".95" fill="none"/>
<path d="M178.1 447.8h.9m-.3 .6h.9m-2.6 .6h.9m.1 0h.9m-1.2 .6h.9m-1.7 1.2h.9m1.1 .1h.9m-5 1.2h.9m1.9-.1h.9m1.7 0h.9m-8.5 .6h.9m0 .2h.9m.1 .1h.9m.4 0h.9m.3 .3h.9m.9-.6h.9m-7.1 1.5h.9m1.2-.1h.9m-4.8 .8h.9m1.1 .1h.9m.1 .4h.9m.8-.3h.9m-6.1 .8h.9m1.4 .3h.9m4.1-.3h.9m-9.8 1.5h.9m1-.2h.9m.1 0h.9m.1-.2h.9m.9 .4h.9m3.8-.1h.9m-8.6 .9h.9m4.6 .3h.9m2.4-.5h.9m-10.6 1.5h.9m1-.4h.9m.5 0h.9m4 .4h.9m.4-.3h.9m-10.3 .9h.9m2.4 .4h.9m2.2-.1h.9m.1-.1h.9m.1-.2h.9m-12.6 1.5h.9m1.3-.1h.9m1 0h.9m-.8-.9h.9m-.1 .9h.9m3.9-.1h.9m1.9-.2h.9m-14.5 1.1h.9m1.2-.7h.9m3.2 .9h.9m1.2-.2h.9m0 .1h.9m.6 0h.9m0-.7h.9m-10.5 1.8h.9m.2-.9h.9m1.5 .9h.9m-.3-.3h.9m2.7 .3h.9m0-.1h.9m1.3-.7h.9m-.1 .7h.9m-15.4 1h.9m.2-.8h.9m-.3 .1h.9m-.5 .7h.9m2.2-.7h.9m.1 .8h.9m2.3-.8h.9m-.8 .6h.9m3.3 0h.9m-9.7 1.1h.9m-.6-.6h.9m5.1-.1h.9m-2.7 1.1h.9m-.9 .6h.9m.1 .2h.9m1.1-.9h.9m1.1 .8h.9m-13.6 1h.9m.7-.6h.9m2-.1h.9m-.8 .7h.9m.2-.6h.9m1.1 .6h.9m-9.5 .4h.9m1.4 .1h.9m.1 .5h.9m2.5-.5h.9m-.3-.1h.9m1.3 .6h.9m1.1 0h.9m1.5 0h.9m-16.7 1h.9m-.2 .1h.9m-.5-.9h.9m5.2 .3h.9m.4 .5h.9m2.9-.5h.9m1.6-.3h.9m-12.4 1h.9m1.8 0h.9m.6 .2h.9m1.9-.1h.9m4.4 .1h.9m-15.4 .7h.9m1.2 0h.9m.2 .5h.9m-.2-.1h.9m.1-.2h.9m.6 .1h.9m1.2-.1h.9m-.3 .2h.9m1.2-.4h.9m.4 .3h.9m.1-.2h.9m.4-.1h.9m-17.7 1.3h.9m3.8 .2h.9m1.7 0h.9m3.3-.2h.9m2.1-.1h.9m1 .2h.9m-13.1 1h.9m1 .1h.9m.2 .1h.9m3.1-.2h.9m1.6-.1h.9m1 0h.9m.2-.2h.9m-15.6 1.5h.9m3-.2h.9m1.1 0h.9m1.3-.1h.9m.1 .1h.9m.6-.1h.9m1-.1h.9m.1 0h.9m-12.2 1.4h.9m-.1-.4h.9m-.1 .3h.9m.3 0h.9m2.1-.2h.9m1.2 .4h.9m.2-.2h.9m-14.3 .9h.9m1.3-.1h.9m.9 .3h.9m.5 0h.9m1.2-.1h.9m-.2-.1h.9m.3 .4h.9m1.1-.3h.9m-12.3 1h.9m-.1 .3h.9m.4-.4h.9m1.3 0h.9m2.1 .1h.9m0-.1h.9m1.6-.1h.9m3.3 .3h.9m.8-.3h.9m-14.6 1.1h.9m4.7 .4h.9m.9-.4h.9m1.6 0h.9m1.1 .4h.9m-.1 .1h.9m-14.6 .5h.9m3.6 .4h.9m2.1-.3h.9m0 .4h.9m.3-.3h.9m0 .2h.9m.1-.4h.9m.2 .3h.9m.5 .1h.9m-.3-.4h.9m-13.2 1.4h.9m.3-.4h.9m1.1 .4h.9m3.1-.4h.9m3.1 .2h.9m-15.1 1.3h.9m0-.1h.9m2.5 .1h.9m-.4-.4h.9m.1 .1h.9m2.5 0h.9m.2 .1h.9m.2 .2h.9m-.1-.1h.9m.2-.2h.9m1.4 .3h.9m-16.4 .7h.9m8.2 .3h.9m1-.4h.9m3.6 .2h.9m-16.4 .9h.9m-.2 .2h.9m.5 .2h.9m1.7-.2h.9m2.6-.2h.9m1.2 0h.9m.9-.6h.9m-14.5 1.9h.9m4.3-.9h.9m-.7 1.1h.9m.4 .6h.9m8 .1h.9m-15.2 .4h.9m-.1 0h.9m.1 0h.9m6.7 .6h.9m3.2-.6h.9m-11.2 1.7h.9m3.4 .1h.9m-.3-.2h.9m2.4-.7h.9m-5 1.8h.9m2-.8h.9m.2 .2h.9m1.5 .5h.9m-10.8 .6h.9m4.8 0h.9m-.2-.4h.9m-10.4 1.2h.9m2.6 0h.9m-.1 .8h.9m-.9-.7h.9m.6 .1h.9m.9-.1h.9m.2-.2h.9m-.2 .2h.9m-9.8 .8h.9m-.2 .1h.9m.5-.2h.9m3 .1h.9m.4 .3h.9m.9-.3h.9m-6.3 1.1h.9m1.3 0h.9m2.3 .1h.9m.2 .1h.9m.4-.2h.9m-11.4 1.3h.9m3-.3h.9m.4 .1h.9m.9-.2h.9m.5-.1h.9m0 .4h.9m.2-.3h.9m-11.7 1.2h.9m1.7 .1h.9m2.9 0h.9m.3-.3h.9m1.1 .1h.9m-6.1 1.3h.9m4.6 0h.9m-7.3 1.2h.9m.9-.2h.9m1.5-.1h.9m-.1 .3h.9m-6.9 .8h.9m-.1-.2h.9m2.4 0h.9m.3 .5h.9m.9-.1h.9m-8.3 .6h.9m1.6 .3h.9m.7-.2h.9m.1 .1h.9m-4.6 1.2h.9m3.2 .1h.9m-5.3 .8h.9m.4 2.2h.9m.2-.3h.9m1 .4h.9m0-.1h.9m-3.7 .7h.9m.1 .4h.9m-1.2 .8h.9m0 .3h.9m-.4 1.7h.9m-.3 .2h.9" stroke="#BFC4AE" stroke-width=".95" fill="none"/>
<circle cx="311.1" cy="479.2" r="40.4" fill="#D3D3DE"/>
<path d="M318.9 440.9h.9m-1 2.3h.9m-4.1 1h.9m.2-.4h.9m-1.8 1.3h.9m3.5 0h.9m2.3 0h.9m1.2 0h.9m-18.8 .9h.9m10.4 .3h.9m7.4 .1h.9m.2 .6h.9m-17.3 1.3h.9m3.2-.1h.9m-3.2 .3h.9m-.6 1h.9m-2.4 .8h.9m1.5 1.3h.9m3-.1h.9m-10 1h.9m5.1 .9h.9m10.9-.8h.9m10.4 .1h.9m-5 1h.9m-25.8 2.1h.9m-.4-.1h.9m.3 0h.9m25.5 0h.9m.2-.2h.9m.2 .1h.9m-36.8 1.2h.9m5.2 .7h.9m-8 .4h.9m2.6-.2h.9m.7 .1h.9m2.4-.2h.9m27.3-.1h.9m-37.7 2.6h.9m1.2-.5h.9m.5 0h.9m1.9 0h.9m-8.1 1.4h.9m14 .1h.9m28.3-.3h.9m-53.3 .9h.9m5.1 .4h.9m-1.4 .7h.9m.2 0h.9m3.9 .3h.9m-7.2 .6h.9m3.6 .4h.9m.1-.1h.9m-4.3 1.1h.9m44.2 .2h.9m-70 2h.9m18.8-.2h.9m.3-.1h.9m44.3 .4h.9m1.5-.3h.9m2.1 0h.9m-54.8 2.4h.9m49.8-.2h.9m-52.6 1.2h.9m1.6-.1h.9m2.2 0h.9m49.2 1h.9m-64.8 .2h.9m10.9 .8h.9m43.8-.8h.9m4.6 0h.9m-54.5 1h.9m1 .1h.9m47.9-.2h.9m3.1 .2h.9m-50.4 1.8h.9m8.3 1.2h.9m22.5 1.1h.9m-36.6 1.1h.9m0-.1h.9m17 .1h.9m34.1 .5h.9m-39.8 .3h.9m-19.8 1.3h.9m1.8 1h.9m.6-.2h.9m4 .1h.9m-9.4 1h.9m-2.6 1.1h.9m1-.2h.9m-3.7 .9h.9m1.9 0h.9m5.2 .5h.9m20.4-.3h.9m-39.9 1.1h.9m9.8 1.2h.9m.3 .7h.9m24.3 .3h.9m-24.5 1.1h.9m40.5-.2h.9m-46.2 1.9h.9m52.3 .2h.9m2.6-.2h.9m-1.9 1.4h.9m-71.1 .1h.9m13.5 .7h.9m47.7 1.1h.9m-48.4 1h.9m46.1 1.2h.9m1.4-1h.9m-51.4 1.3h.9m3.4-.2h.9m14.1-.1h.9m6.1 1.2h.9m18.1 1h.9m-47.1 1.1h.9m23.5-.2h.9m8.6 .1h.9m0-.1h.9m12.8 .9h.9m-52.6 .2h.9m1.3 .2h.9m42.1-.3h.9m-42.7 1.2h.9m29.5-.2h.9m10.5 0h.9m6.3-.1h.9m-53.1 1.2h.9m4.4-.1h.9m6.1 .2h.9m34 0h.9m1.2 .2h.9m2.2-.4h.9m-8.2 1.4h.9m-48.5 .7h.9m2.5 .1h.9m-.1 .3h.9m17-.5h.9m24.8 .1h.9m-46.1 1h.9m-.1 .4h.9m46.1-.4h.9m-48.1 1.4h.9m1.6-.4h.9m-.2 .3h.9m-6.2 .8h.9m2.7 .3h.9m29.3 .2h.9m.9 0h.9m-33.3 1h.9m17.1-.1h.9m12.8 .1h.9m7.6 0h.9m4.5-.1h.9m-38.9 1h.9m3.2-.3h.9m8.4 0h.9m24.2 .1h.9m-46 1.5h.9m39.4-.4h.9m-43 1.3h.9m2.1 0h.9m25.3 0h.9m2.3 .1h.9m3.1-.4h.9m1.5 0h.9m-30.4 1.4h.9m22.2-.2h.9m8.5 1.8h.9m-13.2 2.2h.9m4.2-.7h.9m-10.3 1.7h.9" stroke="#E49468" stroke-width=".95" fill="none"/>
<path d="M309.5 442.1h.9m8.6 .1h.9m3.4-.3h.9m-4 .9h.9m1.1 .1h.9m.2 .2h.9m3.3 .2h.9m-15.9 1h.9m6.5-.4h.9m-2.9 1.2h.9m7.3 0h.9m-11.9 1.1h.9m1-.1h.9m11.5 .1h.9m-33.4 1.2h.9m18.1 0h.9m1.4-.4h.9m-.3 .5h.9m1.6-.5h.9m-26.2 1.1h.9m18.2-.1h.9m1.8 0h.9m.4 .3h.9m.2 0h.9m4.1 0h.9m-9.5 .7h.9m3.5 .1h.9m-6 1.4h.9m1.1-.9h.9m4.6 .7h.9m1.9 .1h.9m.3-.3h.9m-11.2 1.4h.9m15.5 0h.9m-30 .7h.9m6.1 0h.9m-2.7 1.2h.9m3.4-.7h.9m1-.2h.9m19.1 .9h.9m-26.2 1h.9m1.1-.7h.9m3.5-.2h.9m-8.2 1.1h.9m.9 .2h.9m1.4-.1h.9m17 .1h.9m4.2 .7h.9m-31.3 1h.9m5.3-.9h.9m-32 1.9h.9m24.9-.7h.9m.2-.3h.9m.2 .3h.9m.1 .1h.9m.2-.2h.9m29.9 0h.9m-58 1.8h.9m19.1-1h.9m2.4 1h.9m35-.9h.9m-41.9 1.1h.9m.8 0h.9m.5 .1h.9m.3-.1h.9m30.5-.1h.9m-38.1 1.3h.9m1.8 .1h.9m26.1-.3h.9m3.4-.1h.9m-.2 0h.9m-34.4 2.5h.9m2.6-.5h.9m1.2 .3h.9m-11.9 1.3h.9m2.8-.5h.9m4 0h.9m1.3 .1h.9m31.6 .4h.9m3.6 0h.9m-45.5 1.1h.9m22.6-.5h.9m14.8 .4h.9m-52.7 .7h.9m4.7 .4h.9m4.2 0h.9m5.3-.3h.9m25.6 .3h.9m10.8-.3h.9m2 1.3h.9m-47.3 1h.9m-2.7 .7h.9m1.1 0h.9m42.2-.1h.9m.9 .5h.9m-66.6 1h.9m19.8-.2h.9m-6 1.1h.9m.9-.2h.9m2.4 0h.9m-5.2 1.2h.9m2.3-.1h.9m5.8 0h.9m38.9-.7h.9m-47.1 1.9h.9m24.4 0h.9m-27.1 .2h.9m.8 .7h.9m45.4-.1h.9m2.5 0h.9m-57 1.1h.9m49.7-.8h.9m-50.1 1.2h.9m.2-.1h.9m-.1 .7h.9m4.6-.7h.9m45.2 .8h.9m1.2 0h.9m-69.1 .2h.9m10.4 .2h.9m.2 .5h.9m.2-.6h.9m1.3 0h.9m31.5 .7h.9m-38.7 .5h.9m.2 .6h.9m-.8-.8h.9m.1 .7h.9m1.2-.8h.9m47.1 .8h.9m-55.2 .2h.9m56.7 .3h.9m-56.4 .9h.9m.4 0h.9m0-.2h.9m0 0h.9m.1-.1h.9m-5.2 1.4h.9m-3.8 .9h.9m2.4-.2h.9m37.9 0h.9m8.6 .2h.9m1.9 .3h.9m4.6 .6h.9m-74.7 1.1h.9m15 0h.9m1.3-.2h.9m-.1 .5h.9m23.3-.4h.9m6.5 .1h.9m16-.1h.9m6.3 .1h.9m-65.7 1.1h.9m2.3 0h.9m2.1 0h.9m1.3-.1h.9m0 .4h.9m44.2-.4h.9m3.5-.1h.9m-56.8 1.1h.9m2.5 .4h.9m1 .1h.9m3.5-.5h.9m-9.5 1.5h.9m-.1-.5h.9m1.5 .5h.9m29.5-.5h.9m11.8 .1h.9m7.6 0h.9m-68.1 1.2h.9m12.8-.3h.9m-.2 0h.9m49.9 .3h.9m-62 .8h.9m.9 .4h.9m6.4 0h.9m.4-.2h.9m0 .2h.9m22.1 0h.9m16.1 0h.9m11.6 .1h.9m-56.5 1.1h.9m.2-.3h.9m.2-.2h.9m.1 .4h.9m53.8-.3h.9m-59.8 1h.9m2.2 .3h.9m.4 .1h.9m52.6-.5h.9m-59.6 1.3h.9m-.1-.2h.9m1.5-.1h.9m36.6 .1h.9m11.7 .1h.9m-50.3 1.1h.9m-.6-.8h.9m-.1 1h.9m0-1h.9m20.2 .7h.9m24.3-.1h.9m6.8 .4h.9m-59 0h.9m-.5 .9h.9m-.1-.2h.9m16.6 .1h.9m2.8 .1h.9m3.3-.8h.9m2.9 .5h.9m10.6 .3h.9m-43.9 .1h.9m2.6 .1h.9m13.8 .6h.9m3.4 0h.9m4.2-.6h.9m30.5 .9h.9m-34.7 .1h.9m21.1 .8h.9m-47 1h.9m16.2-.8h.9m35.4 .7h.9m-.9-.7h.9m-55.1 1.1h.9m.2 .6h.9m.1 .1h.9m-.1-.6h.9m-3.7 .8h.9m20.8 .1h.9m23.6 .8h.9m8.3-.9h.9m-58.5 1h.9m10.2 .2h.9m1.5 .1h.9m5.2 .6h.9m20.1-.7h.9m16-.1h.9m-57.3 1.1h.9m1.2-.1h.9m27.2 .8h.9m18 0h.9m-50.5 .3h.9m2.6-.1h.9m18.2-.2h.9m19.9 1.2h.9m-47.1 .9h.9m2.3 .4h.9m-.1 .1h.9m.2-.3h.9m3.1 .2h.9m-8.2 .8h.9m6.6-.1h.9m13.9 .1h.9m13.5 .4h.9m.2-.5h.9m.3 .1h.9m11.6 .4h.9m-54.4 .5h.9m.4 .2h.9m3.3-.2h.9m22.9 .5h.9m-29.1 1h.9m.2-.1h.9m1.5 0h.9m22.1-.3h.9m-26.1 1h.9m-2 1.2h.9m.2 .3h.9m18.1-.1h.9m10.6 .1h.9m8.2-.2h.9m-41.4 1.3h.9m-1 .5h.9m2.2 .2h.9m8.3-.2h.9m7.5 .5h.9m1.5 0h.9m-21.1 .6h.9m32.7 .4h.9m8.7 .1h.9m-44.2 .6h.9m39 .4h.9m-13.3 1h.9m8.7 .9h.9m-16.9 1.1h.9m12.7-.8h.9m-.7 .5h.9m-22.3 .4h.9m14.1 0h.9m-17.5 1.7h.9m14.4-.8h.9m-.6 .9h.9m4.3 0h.9m-.1-.7h.9m-5 .9h.9m.2-.1h.9" stroke="#CF6A45" stroke-width=".95" fill="none"/>
<path d="M333.6 446.2h.9m-1.9 1.3h.9m2.4 .8h.9m-5.3 .2h.9m-.6 .9h.9m.2-.1h.9m-.3-.3h.9m1.5 .4h.9m-7.3 .8h.9m-.8-.7h.9m.3 .9h.9m0-.3h.9m-.2 .3h.9m2.6 0h.9m-.2-.1h.9m-10.2 1.2h.9m3.7-.2h.9m1-.8h.9m-4.4 1.1h.9m-6.2 1.6h.9m1.6 .2h.9m2.9-.8h.9m1.8 .1h.9m-10.8 1.7h.9m1.1-.8h.9m2.7 .1h.9m-5 1.8h.9m.1-.9h.9m-.3 .8h.9m.3-.6h.9m1.3 0h.9m-2.1 .9h.9m.3 0h.9m.3 0h.9m-6.2 .9h.9m3.3 0h.9m-10.7 1.1h.9m.6 0h.9m-.2-.1h.9m2.3 .2h.9m.4-.3h.9m-.2 .2h.9m-9 1h.9m3.1 0h.9m19.3 .1h.9m-.1-.2h.9m-26.9 1.3h.9m2.3-.1h.9m3.3 .3h.9m13.3-.4h.9m.2 0h.9m.1 .3h.9m-23.7 .7h.9m0 .3h.9m.5 0h.9m3.2-.4h.9m15.5 .1h.9m-26.7 1.4h.9m.9-.4h.9m1.1-.1h.9m.2 .1h.9m18.1 .1h.9m.5-.2h.9m.1 .3h.9m-27.2 1.3h.9m4.1 0h.9m1.2 0h.9m.2-.1h.9m13-.4h.9m-.3 .4h.9m-24.8 .8h.9m3 .4h.9m.2-.6h.9m1.2 0h.9m14.3 .4h.9m1.8-.1h.9m1.4 .3h.9m-29 .8h.9m1.7-.2h.9m.4-.1h.9m-.1 .5h.9m2.3-.5h.9m13.9 .5h.9m.3-.3h.9m.9 .1h.9m.6 .2h.9m-28.6 .7h.9m1.2 .2h.9m1.7-.2h.9m1.7 .3h.9m16-.4h.9m.1 .4h.9m-27.1 1.1h.9m2.2-.2h.9m.5 .1h.9m-.3-.4h.9m.6 .4h.9m.2-.2h.9m13.7 .1h.9m.3-.2h.9m-.2 0h.9m1.1 .3h.9m-28.8 .8h.9m-.1-.1h.9m1.1-.1h.9m1.3 .2h.9m1.4 .1h.9m-.3 .1h.9m14.1-.1h.9m3.2 .1h.9m.4-.4h.9m-29.2 1.5h.9m1-.3h.9m0 .4h.9m.1-.5h.9m17.2 .5h.9m-.1 0h.9m2.7-.2h.9m-28.4 1h.9m2.1-.2h.9m2.2-.6h.9m15.1 .9h.9m2-.3h.9m.2 .3h.9m-26.1 .7h.9m-.1 0h.9m.5 .3h.9m0-.8h.9m1.1 0h.9m-.6 .7h.9m0 0h.9m16.1 0h.9m-23.2 1.1h.9m.5 0h.9m2.2-.1h.9m14.7-.7h.9m2 .5h.9m-26 1.2h.9m-.7-.6h.9m3 0h.9m-5.8 1h.9m3.2 .8h.9m19-.9h.9m-.6 .8h.9m1.1-.8h.9m-27.4 .9h.9m1.5 .1h.9m2 .1h.9m.2-.1h.9m16.1 .7h.9m-26.3 1.1h.9m2.4-.8h.9m0 .8h.9m1.1-.6h.9m.2 .6h.9m13.6-.6h.9m2.7 .5h.9m1-.6h.9m-27.4 1h.9m.6 .7h.9m-.2-.7h.9m2.6 0h.9m14.4-.1h.9m-.5 .8h.9m1.2 0h.9m-26.4 .5h.9m-.6 .6h.9m.8-.9h.9m1.7-.1h.9m1 .1h.9m.1 .2h.9m17.1 .7h.9m-25.4 .4h.9m1.5-.3h.9m16.6 .2h.9m.1-.2h.9m.3 .1h.9m-23.8 .9h.9m2.9 .3h.9m.2-.3h.9m.6-.1h.9m13.3 .5h.9m.3-.3h.9m-23.9 .9h.9m3.1 0h.9m1.6 0h.9m13.8 0h.9m-.3 0h.9m.7-.1h.9m-.2 .2h.9m-23.7 1h.9m2.1 .2h.9m15.1-.2h.9m.9 .2h.9m-23.8 1.2h.9m4.1-.5h.9m-.1 .4h.9m13.3-.2h.9m-.3 .3h.9m3.8-.4h.9m-26.6 1.1h.9m1.4 .1h.9m2.2 .1h.9m14.8-.3h.9m1.4 .4h.9m-21.8 .9h.9m-.3 .2h.9m.5-.2h.9m.2 .2h.9m13.5-.1h.9m1.3-.1h.9m-24.1 1.1h.9m.1-.3h.9m.2 .4h.9m.6 0h.9m-.3 .1h.9m1.2-.3h.9m14 0h.9m-.2-.2h.9m1.7 .3h.9m-26.5 1.3h.9m1.1-.1h.9m2.6-.3h.9m0 .2h.9m15.2 .2h.9m-23.1 .9h.9m3.4-.2h.9m-.3-.1h.9m15.9 .2h.9m1.6-.2h.9m-23.9 1.4h.9m.7-.1h.9m1.6 0h.9m13.5-.2h.9m1.6 .4h.9m-.3-.5h.9m-24.6 1.4h.9m0-.3h.9m0 .1h.9m2.5-.1h.9m13.4 .1h.9m.3 0h.9m0 .1h.9m-22.5 1h.9m-.3-.1h.9m.3 .2h.9m0-.1h.9m.5 0h.9m-.2 .1h.9m.3-.9h.9m11.6 .6h.9m.6 .3h.9m1-.2h.9m.2-.7h.9m-.9 .9h.9m-24.4 1h.9m3.5 .1h.9m13.1-.3h.9m1.7 .2h.9m.3 .1h.9m-22.7 .7h.9m.1 0h.9m15.7 .2h.9m.1-.9h.9m1.4 .6h.9m-23 1.3h.9m3.4-.1h.9m-.9-.7h.9m.1-.1h.9m11.6 .9h.9m2.5-.8h.9m.2 .8h.9m.1-.8h.9m-24 1.6h.9m-.1-.7h.9m-.8 .9h.9m.3-.8h.9m.8 .6h.9m.2 .2h.9m14.8-.8h.9m1.2 0h.9m-24.8 1.9h.9m2.1-.1h.9m15.9-.9h.9m-19.5 1.1h.9m.1 .7h.9m2.1 .2h.9m13.6 0h.9m.6-.2h.9m0-.5h.9m-20.7 1.6h.9m.8 0h.9m1.5-.6h.9m10.5-.3h.9m-.9 .9h.9m2.5 0h.9m0 0h.9m-17.5 .3h.9m12.2 .2h.9m-17.4 .8h.9m2.5 .2h.9m13.8 .1h.9m-.3-.4h.9m-21.6 1.1h.9m.1 0h.9m-.1 .1h.9m2.2-.1h.9m12.1 .1h.9m.9 .2h.9m-19.8 .6h.9m.2 .2h.9m0 .3h.9m.5-.5h.9m.1 .4h.9m10.5 0h.9m1.3 .1h.9m-21.7 .7h.9m.8 .3h.9m1.2 0h.9m1.6-.3h.9m10.6 .1h.9m.7 0h.9m-20.6 .9h.9m3.6 0h.9m.1 .3h.9m-.1-.3h.9m-6.9 1h.9m.8-.1h.9m.2 0h.9m.1 .2h.9m1.3 .3h.9m10.5-.5h.9m1.6 .5h.9m-20.9 .7h.9m2 .1h.9m13 0h.9m1.1-.1h.9m1.1-.1h.9m0 0h.9m-19.5 1.1h.9m.2 .3h.9m13.8-.2h.9m-.1-.2h.9m0 .1h.9m-21.9 1.2h.9m.4 .3h.9m1.5 0h.9m2-.4h.9m9.4 .1h.9m.1-.1h.9m2.4 .3h.9m-21.6 .7h.9m14.7 .4h.9m1.2 0h.9m.3-.2h.9m-20.3 1.2h.9m2.3-.1h.9m1.2-.2h.9m10.9 .2h.9m2.4-.2h.9m-18.1 .9h.9m.5 .2h.9m.3 0h.9m10.2-.1h.9m.1 .4h.9m.5-.1h.9m-18.8 .8h.9m-.2-.7h.9m.3 .5h.9m-1.8 1.1h.9m.3 0h.9m-5.1 1.1h.9m-.3 .1h.9m.7 1.1h.9m-3.4 .2h.9m.5 .7h.9m1.2 .5h.9m.8 0h.9" stroke="#E6E8F2" stroke-width=".95" fill="none"/>
<circle cx="203.0" cy="590.9" r="40.4" fill="#D7D7E3"/>
<path d="M217 555h.9m.5-.1h.9m-35.9 6.1h.9m42.6 10.4h.9m-5.4 5.5h.9m-2.1 1h.9m-18.8 .8h.9m-6.8 6.3h.9m9.3 3.1h.9m7.4 3.2h.9m.6 3.2h.9m23.1 1h.9m-35.5 1.1h.9m10.7 .1h.9m4.4-.1h.9m-46.4 1h.9m33.9 .3h.9m25.4 3.2h.9m-3.1 .6h.9m.3 .2h.9m-28.4 2.1h.9m17 1.1h.9m4.4-.3h.9m-16.7 1.3h.9m3.5-.2h.9m13.8 .5h.9m-69.3 .6h.9m1.2 1.3h.9m59.2 .7h.9m-5.6 1.3h.9m-22.8 1.1h.9m-.7 .8h.9m1 1.5h.9m7.7 1.1h.9m-6 1.6h.9m20-.5h.9m-25.1 1h.9m13.8 1.6h.9m1.1 .1h.9m2.2 1h.9m-9.5 1.4h.9m1.6 2.2h.9m-20.9 .6h.9m15.6 0h.9m.5 1.3h.9m1.8 .7h.9m-4.7 1.4h.9" stroke="#E2A67E" stroke-width=".95" fill="none"/>
<path d="M224.8 558.9h.9m-4.4 1.2h.9m4.7-.4h.9m-3.1 1.1h.9m.1 .4h.9m.2-.2h.9m1 .3h.9m0-.2h.9m-10.2 1.1h.9m1 0h.9m1.4-.2h.9m.3 .1h.9m.1-.3h.9m-8.3 1.4h.9m1.5 .1h.9m2.2-.5h.9m.1 .5h.9m.1-.3h.9m-9.4 1h.9m0 .3h.9m0-.3h.9m1.6 .1h.9m.1 .1h.9m-.2 .2h.9m-7.8 .5h.9m-.2 .2h.9m3.5-.2h.9m2 .3h.9m-9.3 1.3h.9m1.3-.5h.9m.5 0h.9m2 .5h.9m-9.3 1.1h.9m0 .7h.9m.5-.7h.9m0 .5h.9m3.3-.6h.9m.1 .1h.9m-9.2 1.5h.9m.2 .4h.9m.8-.2h.9m1.3-.1h.9m.2 0h.9m12 .3h.9m-22.9 .8h.9m-.1 .2h.9m.2-.3h.9m-.2 .2h.9m3.5-.8h.9m.3 .8h.9m13.9-.7h.9m-17.9 1.7h.9m-.1-.1h.9m14 .1h.9m1.3-.7h.9m-26.3 1.8h.9m2.7-.7h.9m1.1-.1h.9m-.3 0h.9m18.4 .1h.9m-25.2 .8h.9m-.1 .7h.9m-.8-.8h.9m3.2 0h.9m-.8 .9h.9m.2-.6h.9m13.1-.1h.9m1.9 .1h.9m-.5 .5h.9m-27.7 1.1h.9m-.5-.7h.9m-.2 .7h.9m-.6-.6h.9m1 0h.9m-.9 .7h.9m20.1-.1h.9m2.1-.7h.9m-.4 .7h.9m-.2-.9h.9m-25.2 1.2h.9m.5-.1h.9m-.1 .3h.9m.5-.3h.9m18 .3h.9m-27.3 .7h.9m.3 0h.9m4.3 .4h.9m-.2-.3h.9m18.5-.2h.9m-29.3 1.2h.9m.1 0h.9m1.2 .3h.9m19.1-.5h.9m1.1 .1h.9m1.2 0h.9m-28.4 1h.9m1.1 .1h.9m.4 0h.9m1.3 .3h.9m-.1-.2h.9m.2 .2h.9m13.6-.4h.9m.5 .4h.9m1.3-.4h.9m.1 .4h.9m-29.3 .9h.9m1.2-.3h.9m2 .4h.9m.5-.4h.9m-.1 0h.9m-6.9 1.2h.9m.2 .3h.9m.7-.4h.9m20.4 0h.9m.2 .3h.9m-.2-.1h.9m-27.2 1.2h.9m2.3-.1h.9m1.7 .1h.9m14.6-.4h.9m-23.2 1.3h.9m1.2 .1h.9m.4-.3h.9m15.8 .4h.9m-21.6 .9h.9m.7 .2h.9m1.2 0h.9m18.1-.4h.9m.3 .2h.9m1.1 0h.9m-27.2 .9h.9m.5 .3h.9m17.6-.1h.9m1.5 .2h.9m-25.1 .7h.9m1-.2h.9m.1 .3h.9m1.3 0h.9m17.1-.3h.9m1.1 .1h.9m.5 .4h.9m-.3-.5h.9m-29 1.2h.9m2.9 .3h.9m17.2-.1h.9m0 .1h.9m.5-.3h.9m-.3 .1h.9m-26.6 .8h.9m.1 .2h.9m.2 .3h.9m-.3-.5h.9m2.6 .2h.9m-.3 .2h.9m15-.4h.9m1.4 .3h.9m.4-.1h.9m.1 .1h.9m-25.5 1.1h.9m3.3 0h.9m17.9-.3h.9m-27.9 1.2h.9m.2 0h.9m3.4-.1h.9m-.1 .2h.9m15.2 0h.9m-.2 0h.9m1.3-.8h.9m-26 1.9h.9m.2-.3h.9m-.2-.7h.9m.3 .6h.9m-.1-.6h.9m18.1 .9h.9m.6-.1h.9m-25.4 1h.9m4.2-.7h.9m.4 .7h.9m13 0h.9m-.2 0h.9m3.2 .2h.9m-22.7 .8h.9m-.7-.6h.9m0 .5h.9m-.2 .3h.9m18.3-.1h.9m-24.1 .3h.9m2.5 .6h.9m18.9 .1h.9m-26.3 .2h.9m1.6 0h.9m-.1 .9h.9m-.9-.7h.9m0-.2h.9m16-.1h.9m.1 0h.9m-.6 .8h.9m-22.3 1.2h.9m.2-.1h.9m2.5 0h.9m16.9-.8h.9m.4 .3h.9m-20.9 .8h.9m12.8 0h.9m2.1-.2h.9m.2 .4h.9m0-.2h.9m-26.3 1.2h.9m.5-.1h.9m2.3 0h.9m.2 .7h.9m-.3-.5h.9m13.9-.1h.9m-22.6 .6h.9m-.2 .1h.9m1.1 0h.9m18 0h.9m.4 0h.9m-21 1.1h.9m.1 0h.9m1.2-.1h.9m16.2 .1h.9m.8 .1h.9m-22.5 1.2h.9m-.1-.1h.9m14 .1h.9m2 .1h.9m-21.6 .8h.9m0-.2h.9m15.6 .1h.9m.3 .1h.9m0-.1h.9m.2 .1h.9m.2 .2h.9m-25.1 .6h.9m1.6 .3h.9m2.9-.3h.9m14 .4h.9m2.4-.2h.9m-24.4 1.4h.9m19.4-.4h.9m1 .3h.9m-21 .8h.9m.1-.1h.9m.6 0h.9m-6.2 1.4h.9m1.2-.1h.9m16.6 .1h.9m1.5-.1h.9m-24 .9h.9m.1 .1h.9m.2 .1h.9m14.8-.3h.9m2.4 .2h.9m-21.8 1.1h.9m-.1 .1h.9m.3 0h.9m2.3-.1h.9m11.4 0h.9m1-.2h.9m.5 0h.9m.3-.1h.9m-20.8 1.4h.9m14.6-.2h.9m0-.2h.9m.2 .3h.9m.1-.3h.9m-22.7 1.3h.9m-.1-.3h.9m4.2 .1h.9m-4.8 1h.9m2.2 .1h.9m12.9 0h.9m.1-.1h.9m-20.7 .5h.9m2.1 0h.9m1.1 .8h.9m12.9-.3h.9m-18.6 1.1h.9m.7-.5h.9m.1 .5h.9m12 .2h.9m-19.1 .3h.9m-.4 .6h.9m-.2-.7h.9m1.1 .1h.9m-2.7 .8h.9m2 .9h.9m.4 0h.9m11.5-.8h.9m2.6 .1h.9m-.1-.1h.9m-22 1h.9m19.4 .1h.9m-5.1 .8h.9m.1 .2h.9m.2 .8h.9m.2-.9h.9m-22.1 .9h.9m-1 1h.9m.2 .3h.9m.3 .2h.9m-.2-.5h.9m.3 .3h.9m12.8 .7h.9m-.1-.7h.9m-19.5 .7h.9m.3 .2h.9m-.3-.1h.9m.4 .2h.9m2.2-.1h.9m-6.4 1h.9m1.7-.1h.9m.1 .1h.9m13.6 .3h.9m.4-.3h.9m-20.9 1.3h.9m.2-.3h.9m.2 .3h.9m.2 0h.9m0 0h.9m10.6-.4h.9m0 .1h.9m.1 .2h.9m-13.7 .8h.9m11.1 .4h.9m.2-.1h.9m.1-.2h.9m.1-.1h.9m-16.8 1h.9m.4 .1h.9m-.2 .3h.9m10.7 0h.9m-18.6 1.1h.9m-.1-.2h.9m.6 .2h.9m.9 0h.9m.1-.3h.9m-2.9 1.3h.9m1.1 0h.9m-7.2 1h.9m.1-.4h.9m3.4 0h.9m-5.3 1.4h.9m.6 0h.9m3.1-.3h.9m-4.1 1h.9m1.4 .2h.9m-.2 .2h.9m-2.9 .7h.9m1.5 .5h.9" stroke="#E8E8F2" stroke-width=".95" fill="none"/>
<path d="M234 574.8h.9m-1.8 2h.9m-12.7 4.1h.9m-19.6 1.2h.9m25.1 1.8h.9m-36.5 3.6h.9m25.4 1.6h.9m-28 .4h.9m27.1 1.9h.9m2.2-.8h.9m7.6 .6h.9m4.2 .5h.9m-19.6 .9h.9m-19.8 1.7h.9m28.3-.5h.9m-23.5 1.1h.9m-23.3 .7h.9m24.5 1h.9m4.5 .2h.9m10.5 0h.9m10.7 .7h.9m-19.8 .5h.9m-5 .6h.9m7.2 .1h.9m-19.6 1h.9m9.2 .4h.9m15-.4h.9m.4 .1h.9m3.2-.1h.9m-20.8 2.3h.9m4.2 .2h.9m4.5-.4h.9m3 .4h.9m5.5-.3h.9m-45.1 1.3h.9m15.2 0h.9m18.1 .1h.9m-22.2 .5h.9m5.4 1.6h.9m7.5-.5h.9m10.4 .1h.9m6.9-.1h.9m-29.2 1.2h.9m3.9 .2h.9m6.4 .8h.9m-15.2 1.3h.9m11.7-.3h.9m11.4 0h.9m2.5-.1h.9m-20.7 1.2h.9m20.1-.7h.9m-34.8 1.9h.9m14.7 0h.9m-6.7 .8h.9m11.4 1.1h.9m2.5 .4h.9m-.1-.1h.9m4.3 0h.9m-33.5 1.1h.9m5.7 .7h.9m16.7-.8h.9m-24.1 1.1h.9m24.7-.1h.9m-4.1 1h.9m-23.9 1.1h.9m13.8 0h.9m3.2 .2h.9m-29.7 1.6h.9m9-.7h.9m4.3 .7h.9m5.6-.6h.9m6.4-.2h.9m-15.7 .9h.9m8.3 1.1h.9m.3 .2h.9m.2-.1h.9m.9-.1h.9m5.5 0h.9m1.3 .1h.9m-19.6 2.2h.9m11.7 1.2h.9m2-.3h.9m-16.3 .9h.9m8.1 .4h.9m-3.6 .6h.9m.8 .4h.9m-27.9 2h.9m17.7 0h.9m-4.2 2.3h.9m-2.6 0h.9m.2 .7h.9" stroke="#D8845A" stroke-width=".95" fill="none"/>
<circle cx="310.9" cy="590.9" r="40.7" fill="#C8B08A"/>
<path d="M305.7 551h.9m2.7 .3h.9m2-.2h.9m-9 1.3h.9m2.2-.9h.9m2 .5h.9m2.2 0h.9m.4 1.1h.9m.9 .2h.9m-20.8 .9h.9m2.3 .3h.9m3.1-1h.9m1.7 .6h.9m5.1 .3h.9m-.8-.9h.9m10.4 .8h.9m.3-.1h.9m.1-.6h.9m-22.6 1.6h.9m4.2-.6h.9m-.1 .7h.9m3.5-.7h.9m13.6 .8h.9m-34.3 .8h.9m3 .1h.9m3.7 0h.9m1.3-.7h.9m2.1 0h.9m.2 .7h.9m7.5-.8h.9m1.9 .2h.9m7.6 0h.9m-35.7 1.6h.9m.3-.6h.9m3.3 .1h.9m2.3 .6h.9m.4-.8h.9m.7 .1h.9m-.9 .8h.9m10.1-1h.9m4.2 1h.9m.1-.8h.9m.4-.1h.9m-.2 .1h.9m.4 .7h.9m.1-.6h.9m3 .7h.9m.1 0h.9m-32.2 .2h.9m7.6 .8h.9m1.3-.7h.9m2.2 0h.9m-.1 .6h.9m.4 0h.9m8.7-.1h.9m1.9-.7h.9m-36.3 1.2h.9m1.2 0h.9m0-.2h.9m0 .8h.9m1.5-.8h.9m1.1 0h.9m.8 0h.9m.3-.1h.9m7.4 .2h.9m6.7 .7h.9m6.3-.7h.9m-44.1 .9h.9m1.7 .1h.9m4-.1h.9m.2 .1h.9m.5 .2h.9m3.2-.4h.9m11.5 .1h.9m6.7 .1h.9m5.2-.2h.9m4.1 0h.9m3.7 .3h.9m-43.3 .8h.9m8.5 0h.9m8.6-.1h.9m3.7 0h.9m3.9 .5h.9m1.4-.2h.9m1.1 .2h.9m5.3-.1h.9m.4-.1h.9m2.3-.1h.9m-50.2 1.3h.9m2.2-.2h.9m1.2 .2h.9m13.8-.3h.9m4.5 .3h.9m1.1-.1h.9m1.2-.4h.9m2.4 .2h.9m-.1 .3h.9m.2 0h.9m6.5-.3h.9m8.3-.1h.9m-56.4 1.5h.9m7.7-.5h.9m.2 .5h.9m12.6-.1h.9m1.4-.3h.9m0 .3h.9m6.1-.2h.9m2.7 .3h.9m2-.2h.9m2.1-.4h.9m.2 .1h.9m0 .3h.9m5.9 .1h.9m-.3-.3h.9m2.3-.1h.9m.3 .4h.9m-56.7 1h.9m4.5-.3h.9m5.7 .3h.9m15.5 0h.9m3.2-.3h.9m5.3 .1h.9m1.4 .2h.9m1.1 0h.9m.6-.1h.9m7.4-.2h.9m1.1 .2h.9m-58.4 .7h.9m11.6 .1h.9m2.1 0h.9m1.1 .1h.9m6.8-.2h.9m6 .3h.9m.4 .2h.9m.9-.4h.9m1.5 .1h.9m-.1 0h.9m2.2 .2h.9m5.4 0h.9m2.6-.2h.9m1.2 0h.9m3-.2h.9m.3 .5h.9m-50 .9h.9m3.1 .2h.9m1.1 0h.9m4.2-.3h.9m.5 0h.9m1.2 0h.9m.9 .3h.9m3.4-.4h.9m2 .2h.9m1.2 .1h.9m1.4-.3h.9m4.7 .4h.9m2.2-.3h.9m3.3 .1h.9m1.2 .1h.9m3.1-.2h.9m1.1 .1h.9m-60.7 1.2h.9m2.3-.3h.9m3.4 0h.9m17.9-.1h.9m2.2 .2h.9m4.1 0h.9m.4 .1h.9m3.3 .2h.9m.1-.3h.9m1.5 .3h.9m.2-.1h.9m4.9-.2h.9m2.2 0h.9m1.4 .2h.9m.3-.4h.9m.1 .4h.9m-59.5 .9h.9m1.9-.2h.9m.4 .4h.9m3.1-.2h.9m7.7-.1h.9m5-.2h.9m1.4 .3h.9m7.4-.2h.9m.1 .2h.9m.3 .1h.9m6.3-.3h.9m.3 .4h.9m2.6 0h.9m8.3-.2h.9m1.4-.3h.9m-.3 .5h.9m2.4-.3h.9m.2 .3h.9m-65.8 .5h.9m15.8 .1h.9m8.6 0h.9m3.2 .3h.9m9.5 0h.9m2.6-.3h.9m3.2 .2h.9m2 .3h.9m.3-.4h.9m13.8 .3h.9m-67.9 .7h.9m2 .4h.9m2.2-.3h.9m2.3-.1h.9m4.2 .2h.9m6.5 .1h.9m.3 0h.9m7.5 0h.9m4.1-.2h.9m.1 .1h.9m.3 .1h.9m2.4 .1h.9m0-.3h.9m1.1-.2h.9m6.4 .1h.9m-47 1.3h.9m3.5 .2h.9m.1-.6h.9m.4 .1h.9m-.1 .4h.9m1.1-.2h.9m.1 .1h.9m6.7 0h.9m-.2-.3h.9m2.4 .1h.9m2.3 .1h.9m.1-.2h.9m.1 0h.9m.2 .3h.9m.4 .1h.9m2.9 0h.9m6.6 .1h.9m12.1-.1h.9m1.1-.5h.9m2.1 .4h.9m1.9-.4h.9m-69.1 1.2h.9m6.8 0h.9m9.3 .2h.9m7.8 .1h.9m10.7-.4h.9m5.3 .2h.9m7.4-.2h.9m2.1 0h.9m-55.1 1.4h.9m2.1-.1h.9m5.1 .1h.9m1.5-.4h.9m2 .4h.9m.3-.3h.9m1.1 .3h.9m2.6-.2h.9m1.2 .2h.9m1.9-.2h.9m3.4 .1h.9m6.3-.1h.9m-.6-.7h.9m.3 .8h.9m19.1-.3h.9m.1 .2h.9m0-.2h.9m3 0h.9m-69.8 1.4h.9m4.9 .1h.9m.5-.3h.9m2 .1h.9m7.5 .1h.9m9-.2h.9m2.1-.1h.9m4 0h.9m1.4 0h.9m2.3 .3h.9m7.5-.2h.9m5.6 .2h.9m-.1-.9h.9m3.5 .8h.9m0 .2h.9m.4-.4h.9m.1 .1h.9m.1-.1h.9m-61 1.3h.9m2.2-.8h.9m15.3 .5h.9m2.8 0h.9m2.6 .2h.9m3-.1h.9m7.6-.1h.9m14.8-.5h.9m3.5 .8h.9m6.1-.1h.9m-65.6 .9h.9m.2-.6h.9m4.2 .8h.9m5.6-.7h.9m3.1 .7h.9m.2 0h.9m3.4-.2h.9m5.3 .2h.9m13.6 0h.9m5.4-.1h.9m4.3 0h.9m0 .1h.9m2.7 0h.9m1.8-.7h.9m-.5 .5h.9m2 .2h.9m-74.2 .9h.9m10.8 .1h.9m1.2-.1h.9m.7 0h.9m-.5-.7h.9m.3 0h.9m4.9 0h.9m2.4 .7h.9m1.2 .1h.9m.1-.9h.9m-.5 .7h.9m3.3 .1h.9m.2-.6h.9m3.2 .7h.9m.1 0h.9m6.3 .1h.9m11.7-.1h.9m0-.7h.9m3.2 .6h.9m5.8 0h.9m-69 .3h.9m-.1 .8h.9m2-.1h.9m.1 0h.9m.5-.7h.9m.3 .7h.9m11.6-.7h.9m6.3 .1h.9m2.4 .7h.9m13.5-.6h.9m2.6 .6h.9m5.2-.1h.9m-.8-.7h.9m.3 0h.9m.1 .7h.9m8.1 .1h.9m.4 0h.9m2.2-.7h.9m-73.3 .9h.9m3.1 0h.9m38.2 .2h.9m.1 0h.9m.3-.1h.9m2.4 .6h.9m4.9 .2h.9m-.7-.8h.9m9.3 .1h.9m.4-.1h.9m1.5 .7h.9m-66.2 .2h.9m4.2 .1h.9m1.2-.2h.9m.1 .1h.9m2.6 .2h.9m4.2-.3h.9m3.2 0h.9m4.3 .3h.9m2.6 0h.9m1.8 0h.9m8.8-.2h.9m25.5 0h.9m.1 .8h.9m1.3-.7h.9m-70.4 1.2h.9m3.5 0h.9m6.5 .6h.9m1.8-.9h.9m2.5 .1h.9m1.1 .7h.9m1.4-.6h.9m11.4-.3h.9m10.8 .3h.9m-.7 .6h.9m2-.6h.9m8.6 .1h.9m1.4-.1h.9m1.2-.2h.9m.7-.1h.9m3.8 .2h.9m-61.1 1.8h.9m4.2-.6h.9m10.7-.1h.9m.6-.1h.9m.1 0h.9m4.1 .3h.9m2.1 .5h.9m.4 0h.9m6.2-.9h.9m5.3 .3h.9m3.4 .6h.9m4.7-.7h.9m6.4-.3h.9m.9 1h.9m-76.1 .5h.9m3.9-.2h.9m.6 .1h.9m1.1-.3h.9m6.6-.1h.9m.1 .1h.9m0 .1h.9m2.3 .2h.9m2.9-.2h.9m1.7-.1h.9m6.2 0h.9m5.6 .2h.9m5.5 .1h.9m3.9 0h.9m10.6 0h.9m7.8-.1h.9m-76.3 1h.9m1.1-.1h.9m12.7-.2h.9m4.1 .1h.9m1.5 .4h.9m5-.1h.9m4.5 .2h.9m.1-.2h.9m5.6 .2h.9m6.6-.2h.9m2.3 .1h.9m6.1-.1h.9m1.4 .1h.9m.8 0h.9m1.5-.5h.9m1 .1h.9m5.9-.1h.9m2.2 .2h.9m0-.1h.9m-70.2 1.5h.9m-.1 0h.9m5.8-.4h.9m18.9 .1h.9m-.2-.2h.9m1.5 0h.9m1.2 .1h.9m3.4-.1h.9m-.1 0h.9m.5 0h.9m.9 .2h.9m4.4 0h.9m.1 .1h.9m1.5-.3h.9m-.3 .3h.9m2.3-.2h.9m.1 0h.9m6.4 .1h.9m1.6 .2h.9m.1-.4h.9m-72.3 1.4h.9m12.4-.3h.9m6.5 0h.9m3.7 .5h.9m4.9-.3h.9m1.3-.2h.9m2.3 .1h.9m.2-.2h.9m2.3 .5h.9m17.2-.4h.9m10.4-.1h.9m3.5 .4h.9m-.1 .1h.9m-79.4 .8h.9m7.1 .1h.9m.4-.2h.9m5.4-.1h.9m.2 .3h.9m8.5 .1h.9m.1 0h.9m1.4-.2h.9m2.1 .3h.9m3.2-.3h.9m1.6 .1h.9m1.2-.1h.9m9.3-.1h.9m2.2 .4h.9m.1-.3h.9m1.1-.1h.9m11.8 .2h.9m6.4-.1h.9m.6 .1h.9m-70.5 1.1h.9m1.4-.2h.9m2.2 .2h.9m.1 0h.9m6.4-.3h.9m13.7 .1h.9m2.3 .1h.9m1-.1h.9m5.3 .2h.9m3.3-.3h.9m9 .2h.9m-.1-.1h.9m2.4 .1h.9m3.2 .1h.9m1.4-.3h.9m-.2 .3h.9m2.6 0h.9m-72.7 1h.9m3.5 .2h.9m3.3-.5h.9m1.5 .4h.9m16.9-.1h.9m1.2-.2h.9m.7 .2h.9m2.7 .1h.9m12.3 0h.9m5.8-.4h.9m-.2 .1h.9m.4-.1h.9m1.1 .4h.9m5.4-.2h.9m1.5-.1h.9m-.2-.1h.9m2.7 0h.9m-75.7 1.1h.9m1.1 .2h.9m1.3-.1h.9m1.1 .2h.9m7.5-.1h.9m.4 0h.9m1.1 0h.9m10.7-.2h.9m.3 .2h.9m2.1-.1h.9m7.1 .1h.9m5.6-.2h.9m2 .1h.9m7.8 .3h.9m2-.3h.9m.6 .2h.9m1.2-.2h.9m-61.8 1.4h.9m1.2-.1h.9m3.2-.2h.9m6.1 .1h.9m2.2 .2h.9m2.5-.5h.9m.3 .3h.9m.8-.2h.9m4.5 .2h.9m9.8 .1h.9m4.1-.3h.9m1.4-.1h.9m.1 .4h.9m1.2-.4h.9m1.1 0h.9m2.5 0h.9m1.3 .2h.9m2.2-.2h.9m3.2 .5h.9m1 0h.9m2.4-.1h.9m-79.8 .7h.9m2.2 .3h.9m1.2-.1h.9m.1-.3h.9m3.5 .3h.9m.4-.1h.9m.2 .2h.9m3-.1h.9m2.4 .3h.9m7.6-.5h.9m1.2 .1h.9m7.6-.2h.9m6.3 .3h.9m1.3 0h.9m-.4 .2h.9m.4-.4h.9m.3 .4h.9m5.3-.3h.9m10.6-.2h.9m-53.6 1.1h.9m12.1 .3h.9m4.4 .1h.9m-.3-.3h.9m3.5 .3h.9m5.7-.2h.9m7-.2h.9m5.8 .1h.9m2.9 .3h.9m1.3-.1h.9m-68.1 1.2h.9m5.5-.4h.9m6.5-.1h.9m0 .3h.9m9.9-.2h.9m2 .2h.9m1.2-.2h.9m1.3 .2h.9m9.7-.2h.9m0 0h.9m1.4 .1h.9m1 0h.9m1.5 .2h.9m.7-.9h.9m7.7 .6h.9m1.1 .3h.9m1.1 0h.9m2.5-.2h.9m.2 .1h.9m7.3-.3h.9m-74.2 1.1h.9m4.1 .2h.9m1.3 .2h.9m1.4-.3h.9m2.4-.1h.9m6 0h.9m3.6 0h.9m3.2 0h.9m10.8 .1h.9m2.3-.6h.9m12.3 .7h.9m3.8 0h.9m1.8 .1h.9m2.4-.9h.9m-.6 .9h.9m2.8-.8h.9m2.2 .8h.9m-73.2 .7h.9m1.6-.6h.9m.1 .9h.9m5.3-.2h.9m1.9 .1h.9m27.4 .1h.9m4.5-.2h.9m4.4-.6h.9m-.5 .6h.9m4.1 0h.9m2.2-.1h.9m3.6 .3h.9m2.8 .1h.9m.1-.4h.9m-75.2 .5h.9m.3 .7h.9m-.1-.6h.9m0 .6h.9m-.6-.7h.9m3.1 .8h.9m1.6-.9h.9m4.1 1h.9m2.3-.1h.9m5.2-.2h.9m-.8-.6h.9m3.4 .7h.9m6.3 .1h.9m-.7-.8h.9m2.3 .8h.9m19.8 0h.9m.2-.1h.9m6.3-.6h.9m7.7 0h.9m-77.7 1.5h.9m14.1 0h.9m.3 .3h.9m2.2-.1h.9m11.4-.2h.9m15.1 .3h.9m4.2-1h.9m3.5 .1h.9m2 .7h.9m1.5-.7h.9m4.2 .1h.9m7.2 0h.9m1.6 .6h.9m-73.5 .5h.9m.1-.2h.9m4.3 .1h.9m4.7 0h.9m1.7 0h.9m1.5 0h.9m1.4-.1h.9m14.4 .7h.9m18.5 0h.9m1.9 0h.9m3.1-.6h.9m5.5 .6h.9m-.5-.8h.9m1 .2h.9m-74.5 .9h.9m5.2-.1h.9m.2 0h.9m8.7 0h.9m.2 .3h.9m1.5-.2h.9m1.2 .9h.9m1.1-.1h.9m1.2-.6h.9m8.3 .6h.9m.2-.8h.9m2.3 .8h.9m12.9-.1h.9m5.5-.5h.9m.9 .6h.9m.3-.1h.9m1-.8h.9m7.7 .3h.9m1.2 0h.9m-77.6 .8h.9m7.7 .8h.9m1.1 .1h.9m.1-.9h.9m8.6 0h.9m9.6-.1h.9m10.4 .2h.9m7.6-.1h.9m3 0h.9m2.2 .3h.9m5.8-.1h.9m2 .6h.9m3.2-.9h.9m-73 1.1h.9m1.4 .3h.9m20.1-.3h.9m-.1-.1h.9m.1 1h.9m5.5-.1h.9m-.2-.6h.9m2.5 .1h.9m1.3 0h.9m3.4 .6h.9m1.1-.6h.9m1.1 0h.9m4.5 .5h.9m1-.7h.9m.2 0h.9m4.5-.1h.9m1.8 .1h.9m2.4-.1h.9m2.7-.1h.9m-.4 .2h.9m3.4 .2h.9m-73.2 .9h.9m.4-.2h.9m15.4-.1h.9m1.2 .2h.9m8-.1h.9m1.1 .1h.9m4.1 0h.9m1.3-.1h.9m2.3 0h.9m0 .9h.9m1-.5h.9m3.8-.4h.9m2.3 .2h.9m4.2 .1h.9m2-.1h.9m12.1-.1h.9m.9 .1h.9m-74.2 1.2h.9m0-.4h.9m7.7 0h.9m13.5 .2h.9m0 .2h.9m1.7-.4h.9m2.8 .2h.9m.3-.1h.9m3.2 .3h.9m1.4 0h.9m12.8-.5h.9m1.3 .5h.9m.2-.3h.9m-.3-.1h.9m3.8 .2h.9m1.7 .2h.9m1.4-.4h.9m-64 1.5h.9m9.9-.4h.9m3.3 .4h.9m3.2-.4h.9m7.5 0h.9m.4 0h.9m-.3 .4h.9m1.7-.2h.9m.8 0h.9m0-.2h.9m.4 .4h.9m6.3-.5h.9m3.2 0h.9m.3 .4h.9m.3 0h.9m10.4-.3h.9m.6 .2h.9m2.8-.1h.9m.2-.1h.9m-69.8 1.3h.9m.7-.2h.9m.5 .3h.9m2-.3h.9m.6-.2h.9m3 .1h.9m2.3 .3h.9m5.3-.2h.9m2.4-.2h.9m.3 .5h.9m7.4-.3h.9m.9 .2h.9m4.3-.2h.9m1.4 .3h.9m-.1-.2h.9m8.8 .2h.9m1.4-.5h.9m4.1 .2h.9m1.3 .1h.9m1.1-.2h.9m1 .2h.9m2.5-.2h.9m-73.4 1.4h.9m8.7-.1h.9m5.4-.1h.9m.2 .2h.9m.8-.4h.9m6.9 .4h.9m1.8 .1h.9m5.9-.6h.9m1.2 .3h.9m4.2 .3h.9m3.1-.3h.9m.5 .1h.9m4.9 .1h.9m.2 0h.9m.7-.3h.9m.1 0h.9m1.1 0h.9m-57.9 1.1h.9m3.5-.2h.9m-.2 .5h.9m13.8-.5h.9m3.3 .4h.9m.2-.3h.9m.5 .3h.9m.2 .1h.9m4.3 0h.9m.3-.1h.9m2.3-.2h.9m8.5 0h.9m1.7 .2h.9m1.6 .1h.9m-.2-.1h.9m1.3 .1h.9m13.2-.1h.9m-70.6 .7h.9m2.4 .3h.9m10.8 .1h.9m2.2-.2h.9m9.4-.2h.9m.1 .4h.9m11.8 0h.9m0 .1h.9m.6-.1h.9m1.8 0h.9m1.2-.5h.9m8.5 .5h.9m2.4-.3h.9m2.3 0h.9m1 0h.9m.2 .3h.9m-69.8 1.1h.9m8.5-.5h.9m-.2 .4h.9m3.3-.1h.9m3.6 0h.9m2.1-.2h.9m0 .3h.9m1.3-.1h.9m7.6-.2h.9m.2 .2h.9m0 0h.9m1.1-.1h.9m3.5 0h.9m.4 0h.9m11.2 .2h.9m.3-.4h.9m1.5 .1h.9m-.1 .2h.9m2.1 .1h.9m.1-.4h.9m1.6 .4h.9m.1-.2h.9m-67.5 1.1h.9m3.6 .3h.9m10.6-.5h.9m4.6 0h.9m7.3 .1h.9m4.5 .2h.9m.9 0h.9m0-.1h.9m9.7-.1h.9m5.9 0h.9m.1 .3h.9m.8-.4h.9m7.6 .5h.9m-63.9 .7h.9m3.5 .1h.9m.3 0h.9m2.8 0h.9m2.7-.3h.9m4.2 .4h.9m2.1-.3h.9m1.4 0h.9m1 0h.9m15.1 0h.9m3.1 .2h.9m5.7-.2h.9m3.8 .1h.9m2.4 .3h.9m1.1-.5h.9m1.7 .4h.9m-67.3 .7h.9m5.1 .4h.9m3.4-.3h.9m4.6 .1h.9m2.1 .2h.9m3.3-.1h.9m.3 .1h.9m0-.4h.9m3.2 .5h.9m2.3-.2h.9m.2-.3h.9m.2 0h.9m6.5 .1h.9m7.4-.2h.9m4.1 .1h.9m9.1 .2h.9m-65.5 1.2h.9m2.4 .1h.9m1.3 0h.9m6.8 0h.9m2-.3h.9m1.3 0h.9m.8 .2h.9m.3-.1h.9m3.6 .2h.9m3.3-.5h.9m6.1 .1h.9m.5 0h.9m7.2-.1h.9m11.8 .2h.9m-53.6 1h.9m13.9 .1h.9m.1-.3h.9m2.2 .2h.9m4.4 .2h.9m4.8-.3h.9m-.1 .3h.9m3.4-.1h.9m1.3-.2h.9m-.3 .1h.9m.2 .1h.9m2.4 .1h.9m9.7-.3h.9m-57.6 1.3h.9m.9-.2h.9m.5-.7h.9m-.8 1h.9m1.1-.1h.9m0-.2h.9m6.4 0h.9m.4 .2h.9m11.3-.1h.9m4.7 .1h.9m3.2-.1h.9m8.5-.2h.9m7.4-.6h.9m3.3 .1h.9m-59.7 1.7h.9m3.6 0h.9m-.2 .2h.9m0-.3h.9m12.1-.7h.9m17.6 0h.9m1.7 0h.9m1 1h.9m.4 0h.9m1-.4h.9m-.8-.6h.9m1.1 .9h.9m4.3 0h.9m-43.9 .8h.9m4.4-.6h.9m-.9 .9h.9m2.1-.9h.9m2.5 .1h.9m.9 .8h.9m3.3-1h.9m2.3 1h.9m-.7-.9h.9m-27.1 1.7h.9m13.5-.7h.9m2.1 .1h.9m2.4 0h.9m13-.1h.9m3 .1h.9m.3 0h.9m3 .7h.9m-.8-.8h.9m6.8 .9h.9m-.2-.2h.9m-50.2 .5h.9m8.6-.3h.9m4.5 .8h.9m3.1-.7h.9m.4 0h.9m-.8 .7h.9m0-.7h.9m1.3 .8h.9m4.1-.9h.9m5.5 .1h.9m0 .2h.9m10.9 .7h.9m-50.4 .8h.9m6.3 0h.9m2.5-.5h.9m1-.3h.9m.1 .2h.9m6.8 .8h.9m2.3-.7h.9m3.9 0h.9m2.5-.2h.9m2.4 .2h.9m.9 .5h.9m1.2-.7h.9m.4 .2h.9m.9 .5h.9m-.7-.5h.9m.9-.3h.9m2.4 .2h.9m-48.3 1.1h.9m2.8-.1h.9m-.2-.1h.9m16 .2h.9m5.1 0h.9m.3 .1h.9m9.5-.3h.9m8.7 .3h.9m.5-.3h.9m-44 1.3h.9m3-.3h.9m0 .3h.9m4.5 0h.9m8.9-.3h.9m3.3-.1h.9m4.3 .2h.9m10.7 0h.9m-45.3 1.8h.9m.1-1h.9m6.5 0h.9m3.4 .2h.9m1.2-.1h.9m0 .4h.9m9.8 .5h.9m3.4-.9h.9m2.3 .1h.9m1.2-.1h.9m6.2 .1h.9m-40.8 .9h.9m1.3 .1h.9m.3 0h.9m6.1 0h.9m4.2-.1h.9m2.3 .3h.9m2.2-.1h.9m-20.3 .9h.9m.9 .1h.9m.2 .3h.9m4.6-.5h.9m4.3 .4h.9m1.2-.3h.9m8.4 .2h.9m4.3 .2h.9m-31.4 1h.9m5.7-.5h.9m-.4 0h.9m2.5 .1h.9m8.7 0h.9m-21.1 1h.9m1.1 .4h.9m.5-.1h.9m3.4 .1h.9m-.1-.4h.9m0 .4h.9m1.2 .1h.9m2.3-.3h.9m1.1-.2h.9m2.4 .5h.9m7.3-.5h.9m-20.6 1.1h.9m.4-.1h.9m9.2 0h.9m4.4 .5h.9m.1-.5h.9m-15.5 1h.9m1.4 .4h.9m10.6-.2h.9" stroke="#EFECE4" stroke-width=".95" fill="none"/>
<path d="M311.1 551.3h.9m7.7 2.1h.9m-.2 0h.9m1.5-.2h.9m-19.7 1h.9m12.7 .2h.9m6-.9h.9m-28 1.2h.9m18.1 .5h.9m-24.1 .4h.9m2.5 0h.9m4.1 .9h.9m5.4-.3h.9m2.3 .2h.9m0-.7h.9m.1 .7h.9m-1.9 .4h.9m-22.9 1.6h.9m5.8-.6h.9m7-.2h.9m3.5 .7h.9m-.9-.6h.9m8.5-.2h.9m-29.1 2h.9m.9-.7h.9m2.3 0h.9m6.6 .7h.9m4.5-.8h.9m10.5-.1h.9m7.7 .2h.9m-37.9 .9h.9m10-.2h.9m2.2 1h.9m3.1-.7h.9m14.7-.1h.9m-41 .8h.9m3.6 .3h.9m6.6 .7h.9m6-.5h.9m2.6-.1h.9m11.5-.2h.9m2.4 .3h.9m-26.3 .7h.9m1.7 .2h.9m3.8 .1h.9m.4-.3h.9m28.8 0h.9m-51.4 1.3h.9m7.2-.3h.9m1.5 .1h.9m-.2 0h.9m.2-.1h.9m.3 0h.9m5.4-.2h.9m5.6 .5h.9m-27.6 .9h.9m2.7-.3h.9m14.6 .4h.9m4.5 .1h.9m10.4 0h.9m0-.1h.9m17-.3h.9m.5 .2h.9m-47.5 .7h.9m5.9 .4h.9m6.5 .2h.9m1.8-.5h.9m0 .1h.9m4.8 0h.9m-34.6 1h.9m.2 .4h.9m1.9 0h.9m9.7-.5h.9m1.1 .3h.9m4.4-.1h.9m5.4 .3h.9m2.2-.1h.9m3.5 .1h.9m-30 .7h.9m5.4-.1h.9m2.1 .3h.9m7.5-.3h.9m3.2 .5h.9m25.2-.2h.9m.4 .1h.9m-55.9 .7h.9m3.6 0h.9m2 .1h.9m9.9 .2h.9m1.1 .1h.9m5.6-.4h.9m11.3 .1h.9m3.4 .2h.9m3.5-.2h.9m.3 .1h.9m2 .1h.9m3.3 .1h.9m2.1-.3h.9m-60.3 .8h.9m.1 0h.9m4.9 .5h.9m.3-.4h.9m.1-.1h.9m1.7 .6h.9m10.5-.4h.9m9.3 .3h.9m6.3 0h.9m6.6-.4h.9m1.6 .3h.9m-55.9 .9h.9m15.9 .2h.9m10-.1h.9m9.5 0h.9m.2 .2h.9m5.5-.4h.9m6.2 0h.9m11.4 0h.9m-65.6 1.5h.9m-.1-.3h.9m5.3 .2h.9m11.8-.4h.9m0 .2h.9m2.5 .3h.9m.1-.3h.9m1.1-.1h.9m6.6 0h.9m19.1 0h.9m-56.8 1.3h.9m.2-.3h.9m3.4 .3h.9m2.4-.1h.9m5.4-.3h.9m2.9 0h.9m.6 .4h.9m2.1 .1h.9m.3-.4h.9m.9 0h.9m5.6 .1h.9m2.1 .2h.9m10.6-.2h.9m11.7 .3h.9m-55.4 .9h.9m.4-.1h.9m5.1 .1h.9m10.7-.1h.9m-.1 .1h.9m3.5-.9h.9m1.2 0h.9m6.5 0h.9m16.1 0h.9m-52.7 1.9h.9m24.6 0h.9m2.9 .1h.9m1.5-.3h.9m.4-.6h.9m10.4 .5h.9m-34.7 1.2h.9m3.5-.8h.9m3 .7h.9m2.7 .2h.9m.2 0h.9m2.2-.2h.9m3.2 .1h.9m13.9 0h.9m1.3 .1h.9m-52.6 1h.9m-.9-.7h.9m7.5 .6h.9m7.3-.7h.9m20.1 .8h.9m.4-.7h.9m2.5 .6h.9m3.2-.7h.9m1.1 .6h.9m1.3 0h.9m17.7-.6h.9m-73 1.8h.9m.9 .1h.9m7.4-.1h.9m4.4 .1h.9m12.8-.8h.9m22.5 0h.9m14.4 .7h.9m-41.5 1.1h.9m24-.8h.9m1.2 .6h.9m-54.2 1h.9m2.4-.7h.9m13.4 0h.9m14.1 .1h.9m0 .1h.9m-.1-.1h.9m.6 .7h.9m20-.1h.9m4.1 0h.9m-66.9 .4h.9m5.4-.1h.9m6.6 .8h.9m-.2-.8h.9m7.8 .9h.9m6.5-.1h.9m2.2-.9h.9m16.1 .9h.9m2.8-.8h.9m-.8 .8h.9m14.2-.9h.9m2.1 .2h.9m-68.4 .8h.9m4.6 .4h.9m8.5-.2h.9m6.2 .1h.9m.1 .7h.9m8.8-.6h.9m4.5 0h.9m7.5 .6h.9m-.1-.7h.9m-45.7 .7h.9m0 .3h.9m5.6 .1h.9m5-.3h.9m32.6 0h.9m2.7-.1h.9m2.8 1h.9m7.5-.6h.9m-71.8 1.1h.9m9.5-.5h.9m28.4 .1h.9m8.5 0h.9m2.2 .1h.9m5.3-.2h.9m8.9 .5h.9m3 0h.9m-64.8 1h.9m8.3-.2h.9m3.5 0h.9m2.5-.2h.9m-.2-.1h.9m21.1 .2h.9m4.6-.1h.9m14.9 .2h.9m2.4-.2h.9m1.8 .1h.9m-73.5 1.2h.9m15.4-.2h.9m1.8 .2h.9m5.7-.1h.9m1-.2h.9m1.4 .3h.9m45.5-.1h.9m-67.5 .9h.9m.6 .3h.9m.8-.2h.9m2.1-.1h.9m2.5 0h.9m.3 0h.9m3.2 .2h.9m3 .1h.9m5.7-.1h.9m19.2 .1h.9m5.4 0h.9m.2-.1h.9m5.3-.1h.9m-71.7 1.4h.9m.4-.4h.9m9.9-.1h.9m5.1 .4h.9m0-.3h.9m7.7-.1h.9m.9 .4h.9m16.1-.1h.9m.3 .2h.9m0 0h.9m10.8-.4h.9m5.6 0h.9m.1 .2h.9m4 .2h.9m1.3-.1h.9m-75.2 .8h.9m.8 .2h.9m1.4-.3h.9m2.2 .2h.9m7.4 0h.9m3.4-.2h.9m2-.1h.9m4.4 .3h.9m3.6-.2h.9m4.4 .2h.9m12.8-.2h.9m2.1 .2h.9m.2 .2h.9m12.8-.4h.9m7.3 .1h.9m-74.3 1.1h.9m3.3 .2h.9m19.9 .1h.9m6.4-.3h.9m7.6 .2h.9m4.3-.1h.9m14.8 0h.9m3.4-.2h.9m-71.3 1.4h.9m7.5 .1h.9m5.9-.6h.9m10.1 0h.9m3.7 .3h.9m10.7 0h.9m5.4 .1h.9m10.2-.3h.9m1.4 .1h.9m11.6 .1h.9m-74 .8h.9m5.3 .3h.9m5.5-.2h.9m29.1 .2h.9m3.5-.3h.9m17.2 .4h.9m3.2-.1h.9m5-.3h.9m-62.4 1.3h.9m6.3 .3h.9m1-.5h.9m6.3 .3h.9m11.1-.2h.9m17.9 .4h.9m8.7-.5h.9m1.9 .3h.9m-64.8 .8h.9m-.1-.1h.9m2.6 0h.9m16.7 .3h.9m2.6 .2h.9m5.5-.5h.9m4.9 .4h.9m1.6-.4h.9m9.3 0h.9m8.9 .2h.9m5.2 .1h.9m-.2 0h.9m-78.6 .2h.9m.3 1h.9m4.4-.2h.9m1.4 .1h.9m7.3 .1h.9m-.6-1h.9m2.3 .9h.9m1-.3h.9m3.5 .3h.9m2.8-.4h.9m3.8 .2h.9m21-.1h.9m3.3 0h.9m-63.1 1.1h.9m.1 .1h.9m14.9-.8h.9m25.6 1h.9m4.1-.3h.9m13.1 0h.9m6.1 0h.9m.5 .1h.9m5.5 0h.9m-76 1.1h.9m9.8-.3h.9m1.5 .3h.9m2-.1h.9m2.5-.7h.9m17.8 .5h.9m23 .2h.9m12.1 .1h.9m-69.1 .3h.9m4.3-.2h.9m13.8 0h.9m12.7 .7h.9m3.1 .2h.9m3.2 0h.9m11.1-.8h.9m3 .7h.9m-66.2 .3h.9m15.8 .1h.9m4.8 0h.9m4.1 .8h.9m4.4-.8h.9m20.3-.2h.9m8.4 1h.9m0-.9h.9m4.3 .7h.9m-68.9 .5h.9m5.1-.2h.9m21.3 .7h.9m2.4 0h.9m12.7-.7h.9m2.5 .2h.9m2.9-.2h.9m2.4 0h.9m-.8 .7h.9m2.2 .1h.9m3.2 0h.9m0-.9h.9m2.2 .1h.9m1.5 .1h.9m2.2 .1h.9m-67.3 1.6h.9m4.4 .1h.9m.2-.8h.9m17.2 .1h.9m6.4-.2h.9m8.6 0h.9m12.8 .8h.9m6.3-.6h.9m.3 0h.9m5.3 .5h.9m-76.7 .2h.9m3.4 .3h.9m4.5-.1h.9m0 .7h.9m1.3-.6h.9m1.2-.1h.9m-.1-.2h.9m3.5 1h.9m4.3-.7h.9m9.6 .6h.9m4.6 0h.9m28.3-.8h.9m2.1 0h.9m-61.9 1.1h.9m4.3 .1h.9m7.6 0h.9m11.7-.2h.9m8.5 .1h.9m12.2 .1h.9m-57.1 .9h.9m.4 0h.9m.4-.1h.9m4.2 .4h.9m2.4 0h.9m20.7-.2h.9m1.7 .1h.9m22.2-.2h.9m10.4 .2h.9m-75.4 .6h.9m6.3 .5h.9m2.3-.5h.9m4.6 .3h.9m2.9 .1h.9m4.6-.4h.9m10.6 .5h.9m4.5-.2h.9m6.5-.1h.9m1.3 .3h.9m.9 0h.9m15.1-.2h.9m0 .1h.9m-69.1 .8h.9m1.1 .1h.9m5.4 .2h.9m2-.1h.9m.3 .1h.9m3.5-.5h.9m3.1 .2h.9m13.6-.2h.9m3.8 .4h.9m-.1 .1h.9m11.7-.2h.9m2.2 .1h.9m2.4-.3h.9m1.3 .4h.9m8.5-.1h.9m-66.2 1.2h.9m7.8-.1h.9m3.9 .1h.9m12.9-.1h.9m4.5-.1h.9m20.2 0h.9m-.3 0h.9m1.3 .2h.9m-63.9 .6h.9m2.3 .1h.9m5.4-.1h.9m10 .5h.9m1.1-.2h.9m-.1-.1h.9m13.7 .1h.9m10.9-.1h.9m0 0h.9m.1 .3h.9m5.4-.5h.9m11.9 .2h.9m0 0h.9m-73.1 1.1h.9m1.1 .1h.9m7.5-.4h.9m2.1 .3h.9m5.4-.3h.9m4.4 .2h.9m6.4 0h.9m.2 .2h.9m11.4-.2h.9m10 .3h.9m3-.4h.9m4.7 .1h.9m3-.1h.9m-56.1 1.4h.9m16.8-.2h.9m5.1 0h.9m2.5-.2h.9m7.2 .2h.9m8.9 0h.9m5.1-.1h.9m-65.1 1.4h.9m2.6-.1h.9m3.2-.1h.9m4.7 .1h.9m2.8-.4h.9m1.1 .1h.9m5.8 .3h.9m1 0h.9m0-.4h.9m17.5 .5h.9m9.6-.4h.9m-52.7 1h.9m2.4 .2h.9m5.1-.3h.9m25.7 .6h.9m11.4-.6h.9m-49 1.3h.9m5.1-.2h.9m8 .4h.9m13.7-.1h.9m1.2 0h.9m8.1-.2h.9m.2 .3h.9m7.9-.4h.9m0 0h.9m-.1 .3h.9m-52.4 .8h.9m16.3 .4h.9m7.3 0h.9m21.1-.3h.9m4.3-.2h.9m1.1 .5h.9m5.6 .1h.9m-56.2 1h.9m2.9-.1h.9m14.2-.2h.9m4.1-.2h.9m.4 .5h.9m14.7-.2h.9m10.4-.3h.9m-53.3 1.2h.9m4.6 0h.9m.9 0h.9m5.3 .2h.9m9.9-.2h.9m9.8-.7h.9m.9 .6h.9m.2-.6h.9m6.6 .8h.9m2.3-.2h.9m.8 0h.9m1.6 .2h.9m-52.4 .2h.9m21.8 .7h.9m14.8 .1h.9m.3-.7h.9m.1 .5h.9m.4 .2h.9m3.4-.1h.9m.1 .2h.9m-.2-.2h.9m2.4 0h.9m-29.2 1.3h.9m6.3 0h.9m1.5 0h.9m9.4-.9h.9m5.5 .8h.9m.3-.1h.9m-58 1h.9m3.8-.1h.9m2-.7h.9m6.4 .9h.9m.1-.2h.9m14.6 0h.9m-27.8 1.1h.9m2.2 0h.9m33.7 .2h.9m.2 0h.9m8.5-.8h.9m-45.1 .9h.9m3.5-.1h.9m33.5 .3h.9m-44.6 1h.9m1.9-.1h.9m16.2 .1h.9m22.9-.2h.9m.1 .9h.9m-30 1h.9m7.7-.6h.9m8.4 0h.9m2.2 0h.9m-33.8 1.5h.9m.5-.7h.9m15.8-.1h.9m0 .3h.9m17-.4h.9m0 0h.9m1.4 .1h.9m-35.5 1.1h.9m28.6 .1h.9m-20 1.2h.9m-10.2 .6h.9m7.3 .1h.9m6.7-.2h.9m.3 .6h.9m2-.1h.9m.1 0h.9m5.6 .1h.9m2.4-.3h.9m.6 .3h.9m-21.4 .6h.9m2 .4h.9m1.1-.4h.9m-17.5 1.1h.9m14-.2h.9m6.1 .2h.9m-10.5 1h.9m.3 0h.9m3.4 .3h.9m1.3 0h.9m1.9-.4h.9m-16.3 1.5h.9m8.6 .1h.9m-5.1 .8h.9" stroke="#D98E70" stroke-width=".95" fill="none"/>
<path d="M313.5 551.1h.9m-12.8 1.2h.9m.2 .1h.9m2.3 0h.9m1.4-.3h.9m9.5 0h.9m-17.9 1h.9m13 .2h.9m.9 .1h.9m5.6 .1h.9m-6.2 .1h.9m-23.9 1.6h.9m6.4 .2h.9m4-.2h.9m1.3-.7h.9m5.5 .1h.9m5.5 .7h.9m2.5-.8h.9m-32.7 1.8h.9m3.2-.6h.9m.5-.2h.9m14.4 .9h.9m.2-.1h.9m2.6-.7h.9m1.2 .8h.9m3.3-.8h.9m-29.6 1h.9m-.5 .8h.9m12.5-.1h.9m1.2 .1h.9m3.5-.1h.9m3 .1h.9m8.5-.6h.9m-42.9 .8h.9m3.7 .7h.9m4.1-.7h.9m1-.1h.9m9.7 .8h.9m9.9 .2h.9m3 0h.9m-25.1 .2h.9m-15.3 .9h.9m9.5-.1h.9m5.3 .3h.9m.1 0h.9m4.7-.3h.9m-.2 .1h.9m1.2 .3h.9m2.5-.4h.9m2.9 1h.9m2.7-.9h.9m4.1 .1h.9m-42.7 1.1h.9m-.2-.1h.9m10-.1h.9m1 .1h.9m1.3 .8h.9m30.4-.9h.9m-47.1 1.1h.9m6.7 0h.9m5.5-.2h.9m1.3 .2h.9m6 .1h.9m3.4 .1h.9m6.6-.1h.9m0-.2h.9m7.3 .2h.9m-42.8 1.3h.9m3.5-.6h.9m4.6 .4h.9m2.9 .1h.9m2.1-.3h.9m5.9 .3h.9m2.9-.1h.9m5.6 .2h.9m7.4-.5h.9m-39.8 1.4h.9m4.6-.4h.9m2.3 .3h.9m-.3-.2h.9m3.5 .3h.9m.4-.3h.9m16.9 .1h.9m10.5 .2h.9m-38.6 .7h.9m.9 .3h.9m.3 .2h.9m3.4-.1h.9m1-.3h.9m.1-.1h.9m4.8-.1h.9m4.3 .5h.9m1.8-.4h.9m11.9 .5h.9m.4-.3h.9m2.1-.2h.9m-59.9 1.4h.9m.5-.2h.9m11.5-.2h.9m13 .4h.9m10.6-.4h.9m7.6 .2h.9m-.1-.1h.9m1.3 .1h.9m1.3-.2h.9m-56.8 1.5h.9m2.1-.4h.9m2.7 .2h.9m-.1-.1h.9m6.4 0h.9m1.1 .1h.9m2.3-.1h.9m7.6-.1h.9m18.1 .2h.9m-40.8 .8h.9m1.1 .3h.9m1.1-.2h.9m14.9 .2h.9m2-.1h.9m8-.1h.9m1 .2h.9m-22 1.1h.9m.4 0h.9m2.1 0h.9m9.8 0h.9m16.9 .2h.9m5.1-.3h.9m2.6-.3h.9m-59 1.4h.9m6.6 .2h.9m11.4-.2h.9m2.5-.2h.9m4.6-.1h.9m9.1 .4h.9m3.4-.1h.9m8.9-.2h.9m2.8 .2h.9m-61.7 1.2h.9m2.2-.3h.9m.5 .4h.9m11.8-.3h.9m19-.1h.9m0 .3h.9m9.4 0h.9m7.9-.4h.9m.2 0h.9m4.1 .1h.9m-60.6 1.4h.9m11.6 0h.9m1.3-.5h.9m27.4 .1h.9m6.1 0h.9m11.8 .3h.9m-65.6 .8h.9m17.9 .2h.9m.9-.3h.9m4.3 .2h.9m17.4 0h.9m-34.8 1.2h.9m.1-.2h.9m8.6-.2h.9m3.4 0h.9m7.3-.6h.9m.1 0h.9m15.2 .1h.9m2.1-.1h.9m11.8 1h.9m-63.1 .7h.9m1.1 .2h.9m1.6-.1h.9m5.1-.8h.9m23.2 .9h.9m7.5 0h.9m6.9-.8h.9m10.6 .5h.9m-70.3 .5h.9m2.3 .7h.9m5.4 0h.9m2.2-.6h.9m2-.1h.9m.5 .7h.9m8.5-.7h.9m2.1 .7h.9m16.7 0h.9m1.3 0h.9m5.8 .1h.9m3.1-.8h.9m7.4 .6h.9m-70.1 .4h.9m4.2 .6h.9m2.3 .2h.9m-.9-.7h.9m20.2 .8h.9m4.1 0h.9m.2-.2h.9m2.2 0h.9m-41.5 1.1h.9m4.2-.7h.9m13.5 .1h.9m9.6 .5h.9m7.9 .1h.9m15 0h.9m16.7-.6h.9m-73.2 1.7h.9m.2-.1h.9m4.3-.1h.9m8.6-.5h.9m2.3 .6h.9m-.3-.8h.9m4.3 .2h.9m6.7-.3h.9m17 0h.9m1.3 .3h.9m-.1 0h.9m8.9-.3h.9m-56.7 2h.9m2-.7h.9m6.4-.1h.9m8.6 0h.9m6.7 .7h.9m8.3-.5h.9m3.3-.3h.9m1.6 .2h.9m-.4-.2h.9m11.7 .1h.9m2.7 0h.9m6.6 0h.9m-74.8 .8h.9m3.6 .2h.9m2-.1h.9m-.8 .9h.9m4.2-.6h.9m.5-.2h.9m.1 .1h.9m2.2 .7h.9m7.1-.9h.9m.5 .9h.9m1.3-.8h.9m1.9 0h.9m14.2 .1h.9m7.4 .1h.9m14.9 .6h.9m1.2-.6h.9m-60.9 1.6h.9m0-.6h.9m4.2 .6h.9m1.6-.7h.9m11.6-.1h.9m11.4 .1h.9m17.4 0h.9m3.3-.1h.9m-60.9 1h.9m1.1 0h.9m.3-.1h.9m8.6-.1h.9m0 .4h.9m5.5-.4h.9m13.7 .5h.9m8.3-.3h.9m12.9 .1h.9m6.7-.2h.9m-66.3 1.4h.9m3.2-.3h.9m14.2 0h.9m0 .3h.9m.1-.4h.9m2 .1h.9m1.8-.2h.9m7.4 .5h.9m10.3-.3h.9m10.7 0h.9m2.5 .2h.9m2.2 0h.9m-77.4 1h.9m4.3 .2h.9m6.4-.5h.9m.1 .1h.9m8.5 .1h.9m2 .1h.9m2.5-.3h.9m4.5 .1h.9m-.2 .2h.9m12.7 0h.9m1.5-.3h.9m-.2 .1h.9m1.3 .3h.9m-55.4 1.2h.9m7.6-.2h.9m-.1-.4h.9m.2 .5h.9m19.4-.4h.9m.9 .5h.9m2.4-.3h.9m10.4-.2h.9m3.7 .2h.9m3 .3h.9m.5-.5h.9m5.1 .2h.9m4.3 .1h.9m.3-.2h.9m4.6-.1h.9m-.3 .4h.9m.2-.5h.9m-73.5 1.1h.9m28.8 .2h.9m0-.1h.9m14.7 .3h.9m21.4-.3h.9m-66 1.2h.9m18.2 .1h.9m14.8-.1h.9m8.2-.2h.9m2.5-.1h.9m9.4 .2h.9m6.7 .1h.9m2.3-.2h.9m3 .5h.9m-79.5 .8h.9m.1-.3h.9m9.5 .4h.9m.2-.3h.9m1.3-.1h.9m1.4 0h.9m14.9 .1h.9m6.1-.1h.9m5.2 .3h.9m1.2 0h.9m3.7 0h.9m10.6 .1h.9m7.7 0h.9m2-.1h.9m.3 .2h.9m-64.9 .7h.9m9.3 .3h.9m0-.4h.9m14.8 .3h.9m2.4 .2h.9m5.7-.5h.9m-.3 .1h.9m24.7-.1h.9m-74.7 1.5h.9m.3-.4h.9m.2 .3h.9m.3 .1h.9m3-.1h.9m2.2-.3h.9m12.8 .4h.9m8.8-.2h.9m9.5-.2h.9m2.3 .3h.9m1.3 .1h.9m8.2-.4h.9m2.5 .1h.9m2.3 .3h.9m-50.3 1.1h.9m1.2-.2h.9m2-.2h.9m6.8 .3h.9m9.7-.5h.9m2 .3h.9m13 .2h.9m4.3-.2h.9m6 0h.9m1.4-.2h.9m2.1-.1h.9m2.4 .6h.9m-80.8 .5h.9m3.4 .3h.9m4.6 .1h.9m0 0h.9m3.1-.1h.9m9.6 .1h.9m1.3 .1h.9m3.6-.1h.9m5.2 .1h.9m5.5-.5h.9m10.2 .5h.9m11.7-.5h.9m1.3 .1h.9m2.7-.1h.9m1.1 .1h.9m-72.7 1.2h.9m1.5-.8h.9m3 .8h.9m4.5 .1h.9m2.6-.4h.9m-.4 .3h.9m20.4 .1h.9m.1-.1h.9m5.3-.8h.9m2.3 .8h.9m11.6 .1h.9m2.5 0h.9m6.4-.1h.9m-70 1h.9m9.5 .2h.9m2.1 0h.9m.3-.3h.9m1.9 0h.9m14-.7h.9m2 .8h.9m24.5 .1h.9m5.4-.1h.9m.3 0h.9m4.1-.8h.9m-74.3 2h.9m10.8-.2h.9m4.2 .1h.9m1.5 0h.9m2.1-.9h.9m2.1 .8h.9m1.2 .1h.9m26.6-.9h.9m6.3 .8h.9m-.6-.7h.9m5.4 .6h.9m-74.6 1h.9m4 .2h.9m.4-.1h.9m22.4-.6h.9m1.3-.2h.9m10.7 .8h.9m3.3 .1h.9m-.2 .1h.9m10.6-1h.9m9.7 1h.9m-68 .1h.9m5.2 .8h.9m1.3-.7h.9m-.7 .7h.9m-.3-.7h.9m1.3-.1h.9m1.3 0h.9m17.1 .8h.9m9.6-.8h.9m-.8 .6h.9m-.1 .3h.9m8.7 0h.9m18.7-.8h.9m2.5-.2h.9m-75.3 1.1h.9m9.5 0h.9m7.3 .7h.9m.3-.7h.9m1.2 .9h.9m22.1-.7h.9m-48.9 .7h.9m2.1 .8h.9m-.9-.5h.9m11.4-.2h.9m24.4 .1h.9m1.6-.1h.9m24.1 .1h.9m-.1 .8h.9m-63.6 .3h.9m17-.1h.9m20.1 .8h.9m13.4-1h.9m.3 0h.9m5.5 .9h.9m-.7-.6h.9m7.2-.2h.9m-75.1 .9h.9m5.2 .3h.9m4.1-.2h.9m6.4 .1h.9m5.5 .8h.9m6.5-1h.9m21.3 .2h.9m7.5-.2h.9m6.1 .1h.9m-70.8 1.2h.9m7.5 .1h.9m.3-.1h.9m2.9 0h.9m.1 .1h.9m6.5-.1h.9m.2 .7h.9m38.1 0h.9m4-1h.9m2.8 .2h.9m-61.8 .9h.9m4.3 0h.9m-15.6 1.3h.9m1.7 .1h.9m2.7 .1h.9m5.4-.4h.9m7.1-.1h.9m24.8 .2h.9m13.4 .2h.9m8.8-.2h.9m-59.8 1.2h.9m.4 0h.9m6.1-.2h.9m8.9 0h.9m0 0h.9m21.2 0h.9m6.6-.2h.9m13.3 .2h.9m-62.7 .9h.9m7.8 0h.9m6 .5h.9m6.9-.5h.9m5.2 .5h.9m24.3-.4h.9m3.3-.2h.9m-70.4 1.1h.9m3.5 .1h.9m0 .4h.9m8.5-.5h.9m.6 0h.9m2.8 .3h.9m2.3-.3h.9m12.7 .2h.9m13.2 0h.9m.9 .2h.9m13.6-.2h.9m.1 .2h.9m2.6 .1h.9m-69.3 1.1h.9m2.5-.1h.9m3.1-.2h.9m1.5 .1h.9m2.8-.2h.9m4.7 .2h.9m29.6 .1h.9m10.4-.4h.9m-62.7 1.5h.9m3-.1h.9m44.6-.2h.9m9.7 .2h.9m5.5 .1h.9m-65.3 .8h.9m6.3 0h.9m.6 .2h.9m.7 0h.9m5.5-.3h.9m15.1-.1h.9m2.3 .2h.9m5.5-.2h.9m-.3 0h.9m5.3-.1h.9m6.8 .4h.9m.2-.3h.9m.9 .3h.9m1.2-.3h.9m1.6 .4h.9m-63.9 1.1h.9m8.2-.5h.9m23.5 .2h.9m.8-.2h.9m10 .4h.9m9.3-.1h.9m.5 .1h.9m1 .1h.9m3.2-.1h.9m-54.5 1.2h.9m3.4 0h.9m12.6-.5h.9m7.7 .1h.9m15.8 .2h.9m3.7 0h.9m-60.1 .8h.9m5.3 .3h.9m.6-.3h.9m7.1 .3h.9m13.2 0h.9m-.3-.4h.9m9.9 .2h.9m2 0h.9m2.6-.2h.9m3 .3h.9m-43.1 .2h.9m.7 .5h.9m13.6 .5h.9m7.6-.4h.9m13.5 .2h.9m5.4-.1h.9m-54.4 .4h.9m7.5 .6h.9m.5-.1h.9m15.7 .1h.9m18.1-.7h.9m15 .8h.9m-59 1h.9m7.8 0h.9m3-.1h.9m7.4-.1h.9m1.5 .2h.9m2.1-.2h.9m13.8-.5h.9m4.4 .8h.9m-49.4 1h.9m49.4-.9h.9m3.4 .1h.9m-40.6 1.1h.9m12.8 .7h.9m9.3 .1h.9m10.8-.9h.9m.4-.1h.9m1 .8h.9m-52.6 .5h.9m1.6-.3h.9m.1 .8h.9m16 .1h.9m4 .1h.9m2.2-.7h.9m6.5 .6h.9m12.7-.8h.9m4.4 0h.9m-37.4 1.1h.9m3.1 .6h.9m18-.8h.9m-.7 1h.9m6.6-.8h.9m-44 .9h.9m2.1 .9h.9m25.5-.6h.9m2.2 .6h.9m10.5-.9h.9m-47.4 1h.9m1.3-.1h.9m6.4 .1h.9m9 .3h.9m-18.1 .7h.9m3.5 .3h.9m2.1-.1h.9m6.8-.1h.9m5.3 .8h.9m18-.7h.9m1.9-.3h.9m-.5 1h.9m-25 .1h.9m10.2 .2h.9m10 .1h.9m-39.7 .8h.9m1.8 .1h.9m13 .1h.9m10.6 .1h.9m1.3-.2h.9m-25 1.3h.9m6.4-.5h.9m3 .5h.9m.3-.5h.9m3.4 .4h.9m10.7-.3h.9m2.2 .2h.9m-27.9 .7h.9m3.3 .4h.9m6.2-.3h.9m2.1 .2h.9m7.7 0h.9m.1 .1h.9m-28.1 .8h.9m6.2 1.3h.9m7.8 .8h.9" stroke="#C8604A" stroke-width=".95" fill="none"/>
<path d="M300.6 552.4h.9m5.4-.2h.9m9.9 0h.9m-19.8 1h.9m11.7 .1h.9m-14.9 .3h.9m12.6 .7h.9m1.6-.7h.9m4.3 .5h.9m3.3 .5h.9m-21 1.7h.9m25.2-.1h.9m-36.3 1.2h.9m4.5-.9h.9m6.4 .1h.9m7.2 .2h.9m-24.7 1h.9m15.7 .6h.9m17 .1h.9m3.2-.8h.9m1 .8h.9m-.8-1h.9m0 1h.9m-17.5 1h.9m4.5-1h.9m10.8 1h.9m-19.2 .1h.9m12 .1h.9m5.2-.1h.9m-50.2 1.9h.9m16.8-.7h.9m11.8-.2h.9m11.5 .4h.9m7 .5h.9m2-.5h.9m-29.5 .7h.9m17.4 .2h.9m3.1 .1h.9m1.3-.1h.9m-24 .6h.9m1.3 .3h.9m8.1 .1h.9m6.6 0h.9m.1-.2h.9m.2 .3h.9m1.2-.3h.9m3.2 0h.9m-47.8 1.4h.9m.2-.2h.9m3.9-.2h.9m13.2 0h.9m18.7-.1h.9m.2 .2h.9m.4-.1h.9m.8 .4h.9m-44.8 .8h.9m4.1 .3h.9m30.1-.1h.9m-.1-.4h.9m-36.7 1.3h.9m5.6 .2h.9m26.1-.5h.9m.4 0h.9m1.4 .1h.9m-40 1.4h.9m12.7-.1h.9m21.2 .1h.9m1.3-.3h.9m.1 .3h.9m-.1-.4h.9m1.5 .2h.9m-.2 .2h.9m-17.2 1h.9m13.3 .1h.9m.2-.1h.9m-49 1.1h.9m4.4-.4h.9m22 0h.9m.3-.1h.9m3.5 .4h.9m2.2 0h.9m-.1-.4h.9m5.7 .4h.9m0-.3h.9m13.6 .2h.9m-64.8 1.3h.9m11.8-.4h.9m3 .3h.9m27.4-.1h.9m2.4-.2h.9m.1 .4h.9m.2-.2h.9m4.7-.2h.9m.8 .3h.9m6.9 .1h.9m-52.6 .9h.9m26.4-.3h.9m1.2 0h.9m.2 0h.9m2.2-.1h.9m1 .1h.9m11.9 .4h.9m2.1-.4h.9m-38.8 1.2h.9m12.9 .1h.9m.4-.3h.9m20.9 .2h.9m2.3-.2h.9m-66 1.3h.9m26.5 .1h.9m12.8 .1h.9m.1-1h.9m2 .8h.9m4.4-.8h.9m9.6 .6h.9m1.3-.6h.9m.3 .8h.9m-.1-.1h.9m-71.3 .4h.9m12.1 .7h.9m20.9 .2h.9m11.6 0h.9m5.4-.1h.9m1.3-.9h.9m4.6 .1h.9m5.4 .8h.9m-66.1 .9h.9m38.7-.7h.9m.5-.1h.9m-.2 .1h.9m2.4 .6h.9m.3-.7h.9m12.4 .9h.9m.1 .1h.9m5.7-.9h.9m-72.1 1.9h.9m-.1 0h.9m9.4-.1h.9m16.2-.1h.9m11.5-.1h.9m.3 .1h.9m3.5 .1h.9m1.7 .1h.9m.6-1h.9m4.3 .1h.9m14.6 0h.9m-44.6 1h.9m4.9 0h.9m7.5 .9h.9m21.1-.2h.9m1.8-.6h.9m-20.1 1.7h.9m0 .1h.9m.2-.8h.9m11-.1h.9m-53.7 1.9h.9m3.1-.7h.9m8.8 .5h.9m17.2 .1h.9m-.2 0h.9m20.3-.8h.9m.3 .8h.9m-.1-.7h.9m.1 0h.9m-24.2 1.1h.9m2.4 .1h.9m12.6 0h.9m.4 .5h.9m1-.5h.9m3.6-.2h.9m5.5 .7h.9m-55.9 .4h.9m19.1-.3h.9m.5 .2h.9m-.1 .2h.9m5.2-.1h.9m14.1 0h.9m2.2-.1h.9m1.1 0h.9m3.2 .2h.9m-31.4 1.6h.9m2.5-.7h.9m16.1-.2h.9m.8 .2h.9m.6-.2h.9m-.3 .3h.9m-53.1 .6h.9m24.1 .3h.9m1.1 .1h.9m1.6 .1h.9m15.6-.4h.9m8.8-.1h.9m2.9 .5h.9m-62.5 1h.9m17.9-.3h.9m6.5-.2h.9m6.4 .5h.9m5.6-.3h.9m2.1 .3h.9m9.6-.2h.9m-45.9 .8h.9m17.6 .5h.9m1.3-.1h.9m3.3-.2h.9m15.7-.2h.9m-57.3 1.4h.9m36.9-.3h.9m6.7 .1h.9m7.3 .3h.9m-.2-.1h.9m-54.2 1.2h.9m13.7-.3h.9m20.4 .1h.9m0 .2h.9m.2 0h.9m17.7 0h.9m-52.9 .7h.9m16.7 .3h.9m1.2-.2h.9m8.3 0h.9m4.8-.1h.9m12.3 .1h.9m1.5 .1h.9m-.1-.1h.9m-35.6 1.3h.9m1.6-.3h.9m5.4 .1h.9m2.9 0h.9m15.9-.2h.9m2.6 .3h.9m-46.3 .7h.9m1.6-.1h.9m17.6 .1h.9m.2 0h.9m1.1-.1h.9m.5 .5h.9m1.2-.4h.9m13.8 .1h.9m2.2-.1h.9m.9 .1h.9m3.5 0h.9m-47.2 1.3h.9m7.5-.1h.9m9.9-.3h.9m2.3 .2h.9m2.9 .2h.9m7.8-.2h.9m2.1-.1h.9m1.3 .4h.9m-46.1 .6h.9m21.3 .2h.9m5 .3h.9m9.8-.4h.9m1 .2h.9m.3-.2h.9m2.2 .1h.9m5.5-.1h.9m.2 .1h.9m-46.9 1.3h.9m31.2-.5h.9m3.5 .3h.9m.3-.1h.9m.1-.2h.9m15.6 .3h.9m-76 1h.9m32.3-.2h.9m5.4-.6h.9m3.3 .6h.9m7.3 0h.9m.6 0h.9m3.2-.1h.9m6.7 .2h.9m4.8-.1h.9m-66.8 1h.9m26.2 .3h.9m1.4-.1h.9m.3 .1h.9m.1-.3h.9m8.2 0h.9m4.7 .1h.9m3.2 0h.9m-24 1.1h.9m7.6-.1h.9m8.6 0h.9m2-.1h.9m1.3 .2h.9m14.8-.1h.9m-53.5 .4h.9m.4 .6h.9m12.4-.7h.9m8.7 .1h.9m11 .1h.9m-34.5 .9h.9m8.6-.1h.9m4.1 .8h.9m21.1 .1h.9m2.2-.1h.9m1.2-.7h.9m-59.9 1.7h.9m8-.5h.9m4-.1h.9m10.5 0h.9m2.3-.1h.9m2.4 .9h.9m.2-.8h.9m3.3-.1h.9m10.4-.1h.9m1.6 .8h.9m-40.8 1.1h.9m12.7 0h.9m0 0h.9m3.1-.8h.9m11.9 .9h.9m3.6-1h.9m1 .2h.9m.1 0h.9m-24.1 1.7h.9m1.6-.5h.9m1.2-.3h.9m12.4 .9h.9m.3-.7h.9m22.3 .6h.9m-51.3 .3h.9m19.7 .1h.9m8 .1h.9m8.1-.1h.9m15.1 .1h.9m-58.7 1h.9m15.1-.4h.9m11.6 0h.9m1.2 .2h.9m1 .8h.9m21.1-.9h.9m-56.7 1.1h.9m10.9-.2h.9m1.3 .1h.9m14.7 .4h.9m1.5-.2h.9m15.5-.3h.9m9.6 .2h.9m-66.7 1.2h.9m15.7-.2h.9m2.2-.1h.9m.3-.1h.9m.2 .3h.9m12.6 0h.9m4.2-.1h.9m5.3 .1h.9m5.9 .1h.9m-37.7 .8h.9m5.5-.1h.9m-.4 0h.9m3.5 .3h.9m1.3 .2h.9m8.3-.2h.9m.3 .1h.9m9.8 .1h.9m-35.4 .8h.9m2.1 .2h.9m1.2-.1h.9m-.2-.3h.9m1.6 .3h.9m4.9-.2h.9m3.5 0h.9m-35.6 1h.9m2.4 .1h.9m1 0h.9m11.1 .2h.9m11.4-.1h.9m2.1 .2h.9m1.4-.5h.9m.1 .5h.9m12.6-.1h.9m-51 .7h.9m14.9 .5h.9m-.3-.4h.9m.5 .1h.9m1.1-.1h.9m.4 0h.9m10.7-.2h.9m1.2 .3h.9m2.8-.2h.9m7.7 .2h.9m12 .1h.9m-63.4 1h.9m21.5 .2h.9m12.6 0h.9m6.8 0h.9m3-.4h.9m.4-.1h.9m-51.3 1.1h.9m4.2 .4h.9m14 .1h.9m-.4-.6h.9m.6 .4h.9m1.8-.2h.9m12.2 0h.9m2.3 0h.9m-.3 .1h.9m-28.2 1.1h.9m5.6 .2h.9m1.3-.3h.9m1.1-.2h.9m10.7 .1h.9m1 .3h.9m1.1-.2h.9m-40.3 1.1h.9m6.1 0h.9m1.2-.3h.9m2.5 .6h.9m5.4-.2h.9m14.9 .1h.9m-.2-.4h.9m.1 0h.9m1.5-.1h.9m9.4 .4h.9m1.2-.1h.9m0-.1h.9m11.8-.1h.9m-60.7 1.3h.9m7.5 0h.9m6.8-.2h.9m2.8 .2h.9m12.1-.2h.9m14.5 .2h.9m.3-.3h.9m3.2 .5h.9m-52 .7h.9m6.3 .2h.9m2.1-.1h.9m16-.8h.9m1.3 1h.9m1-.5h.9m-36.8 .5h.9m1.7 .9h.9m2-.2h.9m3.6 .1h.9m0 0h.9m3-.2h.9m.4 .3h.9m4.6-.3h.9m11.5 0h.9m20.9 .2h.9m-42.5 .3h.9m-.1 .9h.9m3.2-1h.9m.4 .1h.9m10.4 0h.9m.4 .9h.9m2.1-.1h.9m1-.1h.9m13.2 0h.9m-43.1 1.2h.9m8.2-.3h.9m5.9 .2h.9m6.5 0h.9m-.3-.9h.9m.4 .2h.9m-.9 .7h.9m-23.8 .2h.9m6.4 .8h.9m10.4-.2h.9m2-.6h.9m.5 .7h.9m9.7 .1h.9m5.5-.7h.9m-21.9 1.7h.9m19.1-.1h.9m-50.3 .4h.9m12.7 .8h.9m1.8-.8h.9m-.6 .8h.9m1.4-.1h.9m8.5-.7h.9m3.1 .6h.9m-.1-.5h.9m16.2 .6h.9m-40.1 .2h.9m4.4 .8h.9m1.6 .1h.9m8.6-.9h.9m0 .2h.9m2.5 .6h.9m-10.5 .3h.9m2.9 .2h.9m-17.4 .8h.9m2.3 0h.9m0 .8h.9m.4-.9h.9m1 .2h.9m7.6 .2h.9m3.1-.1h.9m.5-.4h.9m-14.8 1h.9m16.2 .2h.9m11.7-.1h.9m-31.6 1.3h.9m.1-.3h.9m.1 .1h.9m26.3-.1h.9m-11.2 1.3h.9m3.2-.2h.9m2.4 .2h.9m-28 1h.9m0-.2h.9m5 1.3h.9m-7.1 .7h.9m1.3 .1h.9m4.5 .4h.9m9.6 .1h.9" stroke="#A9B68E" stroke-width=".95" fill="none"/>
<text x="169.8" y="436.1" font-size="12.6" fill="#1a1a1a" text-anchor="start" textLength="25.8" lengthAdjust="spacingAndGlyphs" stroke="#1a1a1a" stroke-width="0.22">PLP1</text>
<text x="279.5" y="436.1" font-size="12.6" fill="#1a1a1a" text-anchor="start" textLength="23.8" lengthAdjust="spacingAndGlyphs" stroke="#1a1a1a" stroke-width="0.22">MAL</text>
<text x="165.4" y="548.8" font-size="12.6" fill="#1a1a1a" text-anchor="start" textLength="33.5" lengthAdjust="spacingAndGlyphs" stroke="#1a1a1a" stroke-width="0.22">ZFHX3</text>
<text x="271.0" y="548.8" font-size="12.6" fill="#1a1a1a" text-anchor="start" textLength="39.2" lengthAdjust="spacingAndGlyphs" stroke="#1a1a1a" stroke-width="0.22">COX4I1</text>
<text x="209.8" y="418.9" font-size="9.6" fill="#1a1a1a" text-anchor="start" textLength="46.6" lengthAdjust="spacingAndGlyphs" stroke="#1a1a1a" stroke-width="0.22">Expression</text>
<rect x="209.8" y="421.3" width="46.6" height="8.9" fill="url(#cbh)"/>
<text x="209.8" y="437.3" font-size="5.6" fill="#555" text-anchor="middle" >0</text>
<text x="222.4" y="437.3" font-size="5.6" fill="#555" text-anchor="middle" >2</text>
<text x="235.0" y="437.3" font-size="5.6" fill="#555" text-anchor="middle" >4</text>
<text x="247.6" y="437.3" font-size="5.6" fill="#555" text-anchor="middle" >6</text>
<text x="318.7" y="418.9" font-size="9.6" fill="#1a1a1a" text-anchor="start" textLength="46.2" lengthAdjust="spacingAndGlyphs" stroke="#1a1a1a" stroke-width="0.22">Expression</text>
<rect x="318.7" y="421.3" width="46.2" height="8.9" fill="url(#cbh)"/>
<text x="318.7" y="437.3" font-size="5.6" fill="#555" text-anchor="middle" >0</text>
<text x="333.8" y="437.3" font-size="5.6" fill="#555" text-anchor="middle" >2</text>
<text x="349.0" y="437.3" font-size="5.6" fill="#555" text-anchor="middle" >4</text>
<text x="364.1" y="437.3" font-size="5.6" fill="#555" text-anchor="middle" >6</text>
<text x="209.3" y="531.9" font-size="9.6" fill="#1a1a1a" text-anchor="start" textLength="46.9" lengthAdjust="spacingAndGlyphs" stroke="#1a1a1a" stroke-width="0.22">Expression</text>
<rect x="209.3" y="534.8" width="46.9" height="8.9" fill="url(#cbh)"/>
<text x="209.3" y="550.6" font-size="5.6" fill="#555" text-anchor="middle" >0</text>
<text x="218.3" y="550.6" font-size="5.6" fill="#555" text-anchor="middle" >1</text>
<text x="227.3" y="550.6" font-size="5.6" fill="#555" text-anchor="middle" >2</text>
<text x="236.4" y="550.6" font-size="5.6" fill="#555" text-anchor="middle" >3</text>
<text x="245.4" y="550.6" font-size="5.6" fill="#555" text-anchor="middle" >4</text>
<text x="254.4" y="550.6" font-size="5.6" fill="#555" text-anchor="middle" >5</text>
<text x="318.5" y="531.9" font-size="9.6" fill="#1a1a1a" text-anchor="start" textLength="46.4" lengthAdjust="spacingAndGlyphs" stroke="#1a1a1a" stroke-width="0.22">Expression</text>
<rect x="318.5" y="534.8" width="46.4" height="8.9" fill="url(#cbh)"/>
<text x="318.5" y="550.6" font-size="5.6" fill="#555" text-anchor="middle" >0</text>
<text x="333.2" y="550.6" font-size="5.6" fill="#555" text-anchor="middle" >2</text>
<text x="348.0" y="550.6" font-size="5.6" fill="#555" text-anchor="middle" >4</text>
<text x="362.7" y="550.6" font-size="5.6" fill="#555" text-anchor="middle" >6</text>
<rect x="37.2" y="468.4" width="111.4" height="114.4" fill="#EBEBEB"/>
<line y1="468.4" y2="582.8" x1="45.9" x2="45.9" stroke="#F5F5F5" stroke-width="0.5"/>
<line x1="37.2" x2="148.6" y1="558.4" y2="558.4" stroke="#F5F5F5" stroke-width="0.5"/>
<line y1="468.4" y2="582.8" x1="85.1" x2="85.1" stroke="#F5F5F5" stroke-width="0.5"/>
<line x1="37.2" x2="148.6" y1="524.6" y2="524.6" stroke="#F5F5F5" stroke-width="0.5"/>
<line y1="468.4" y2="582.8" x1="124.4" x2="124.4" stroke="#F5F5F5" stroke-width="0.5"/>
<line x1="37.2" x2="148.6" y1="490.7" y2="490.7" stroke="#F5F5F5" stroke-width="0.5"/>
<line y1="468.4" y2="582.8" x1="65.5" x2="65.5" stroke="#FFF" stroke-width="0.9"/>
<line y1="582.8" y2="584.8" x1="65.5" x2="65.5" stroke="#444" stroke-width="0.5"/>
<text x="57.0" y="590.6" font-size="8.0" fill="#262626" text-anchor="start" textLength="15.0" lengthAdjust="spacingAndGlyphs" stroke="#262626" stroke-width="0.12">-200</text>
<line y1="468.4" y2="582.8" x1="104.8" x2="104.8" stroke="#FFF" stroke-width="0.9"/>
<line y1="582.8" y2="584.8" x1="104.8" x2="104.8" stroke="#444" stroke-width="0.5"/>
<text x="96.2" y="590.6" font-size="8.0" fill="#262626" text-anchor="start" textLength="15.0" lengthAdjust="spacingAndGlyphs" stroke="#262626" stroke-width="0.12">-100</text>
<line y1="468.4" y2="582.8" x1="144.0" x2="144.0" stroke="#FFF" stroke-width="0.9"/>
<line y1="582.8" y2="584.8" x1="144.0" x2="144.0" stroke="#444" stroke-width="0.5"/>
<text x="141.9" y="590.6" font-size="8.0" fill="#262626" text-anchor="start" textLength="4.2" lengthAdjust="spacingAndGlyphs" stroke="#262626" stroke-width="0.12">0</text>
<line x1="37.2" x2="148.6" y1="473.8" y2="473.8" stroke="#FFF" stroke-width="0.9"/>
<line x1="35.2" x2="37.2" y1="473.8" y2="473.8" stroke="#444" stroke-width="0.5"/>
<text x="31.4" y="476.6" font-size="8.0" fill="#262626" text-anchor="start" textLength="4.2" lengthAdjust="spacingAndGlyphs" stroke="#262626" stroke-width="0.12">0</text>
<line x1="37.2" x2="148.6" y1="507.7" y2="507.7" stroke="#FFF" stroke-width="0.9"/>
<line x1="35.2" x2="37.2" y1="507.7" y2="507.7" stroke="#444" stroke-width="0.5"/>
<text x="20.6" y="510.5" font-size="8.0" fill="#262626" text-anchor="start" textLength="15.0" lengthAdjust="spacingAndGlyphs" stroke="#262626" stroke-width="0.12">-100</text>
<line x1="37.2" x2="148.6" y1="541.5" y2="541.5" stroke="#FFF" stroke-width="0.9"/>
<line x1="35.2" x2="37.2" y1="541.5" y2="541.5" stroke="#444" stroke-width="0.5"/>
<text x="20.6" y="544.3" font-size="8.0" fill="#262626" text-anchor="start" textLength="15.0" lengthAdjust="spacingAndGlyphs" stroke="#262626" stroke-width="0.12">-200</text>
<line x1="37.2" x2="148.6" y1="575.4" y2="575.4" stroke="#FFF" stroke-width="0.9"/>
<line x1="35.2" x2="37.2" y1="575.4" y2="575.4" stroke="#444" stroke-width="0.5"/>
<text x="20.6" y="578.1" font-size="8.0" fill="#262626" text-anchor="start" textLength="15.0" lengthAdjust="spacingAndGlyphs" stroke="#262626" stroke-width="0.12">-300</text>
<path d="M113,476.6 L125,474.9 L144.6,472.6 L144.6,478.8 L140,483 L134,489 L128,495 L123.5,499 L120,497 L117,491 L114,485 L112,480z" fill="#000"/>
<path d="M139.9 473.4h0m.2 .1h0m.8 0h0m0-.1h0m.2 0h0m.5-.1h0m.4 .1h0m.6-.1h0m.6 .1h0m0-.3h0m.1 .1h0m.1 .3h0m.1 0h0m.1 0h0m.2-.2h0m0-.2h0m0 .1h0m.4 0h0m.1 .1h0m.2-.1h0m0 .2h0m0 .1h0m0 0h0m0-.4h0m0 .1h0m0-.1h0m0 .3h0m0 .1h0m0-.2h0m0 0h0m0-.2h0m0 0h0m0 0h0m0 .2h0m0-.1h0m0-.2h0m0 .1h0m0 0h0m0 0h0m0 0h0m0 .1h0m0-.1h0m0 0h0m0 .1h0m0-.2h0m0 .2h0m0-.2h0m0 .4h0m-14.4 .9h0m.1 .1h0m.1-.1h0m.1 .1h0m.4 .1h0m.6-.2h0m.3 .1h0m.2 0h0m0-.2h0m.2-.1h0m.4 .4h0m0-.4h0m.1 .2h0m.9-.2h0m0 0h0m0 .1h0m.1 .1h0m0-.3h0m0 .3h0m.3 0h0m0-.2h0m0-.1h0m.1 .1h0m.1 .1h0m.1-.2h0m0 .2h0m.3-.3h0m.4 .3h0m.1 .2h0m.1-.2h0m0-.3h0m.2 .2h0m0-.2h0m0 0h0m.1 .1h0m.2 .2h0m.1-.2h0m.2-.1h0m0 .3h0m.1 .2h0m.1-.1h0m.2-.5h0m.6 .2h0m.1 .2h0m.1-.4h0m.3 0h0m.2 .1h0m0 .4h0m.1-.1h0m.2-.5h0m0 .5h0m0-.2h0m.1-.2h0m.1-.1h0m.1 .3h0m0 0h0m.3 .3h0m.3-.6h0m0 0h0m0 .5h0m0-.6h0m.1 .8h0m.2-.8h0m0 0h0m.2 .1h0m.1 .7h0m.1-.8h0m.1 .8h0m.3-.4h0m0 .2h0m0-.6h0m0 .2h0m.1 .4h0m0-.6h0m.1 .6h0m0 .2h0m.2-.9h0m.1 .4h0m.1 .5h0m.1-.7h0m.2 0h0m0 .1h0m.1 .2h0m0 0h0m0 .1h0m.3 .3h0m.1-.8h0m0 .5h0m0-.3h0m.2 .5h0m0-.1h0m0-.4h0m.1 .4h0m.2 0h0m.1-.2h0m0 .1h0m.1 .2h0m.1 .1h0m.1-.8h0m0 .2h0m.1 .5h0m.2-.3h0m0-.4h0m.1 .4h0m.1-.2h0m0 .5h0m0-.4h0m.1-.2h0m.1 .4h0m.1 .2h0m.1 0h0m.4-.7h0m.2 .7h0m.1 .2h0m.1-.6h0m.2 .2h0m0 .3h0m.3-.8h0m.1 .1h0m0 0h0m0 .1h0m0-.3h0m0 .5h0m0 0h0m0-.2h0m0 .1h0m0 0h0m0 .3h0m0 .2h0m0-.2h0m0-.4h0m0-.3h0m0 .2h0m0 .7h0m0-.8h0m0 .1h0m0 .2h0m0 .4h0m0-.2h0m0-.2h0m0-.2h0m0-.1h0m0-.1h0m0 .8h0m0-.5h0m0 .1h0m0 .2h0m0 .3h0m0-.7h0m0 .7h0m0-.7h0m0 .2h0m0 .6h0m0-.1h0m0-.7h0m0-.1h0m0 .1h0m0-.1h0m0 .8h0m0 .1h0m0-1h0m0 .9h0m0-.8h0m0 .6h0m0-.3h0m0 0h0m0-.1h0m0 .1h0m0-.2h0m0-.1h0m0 .7h0m0-.4h0m0-.3h0m0 .4h0m0 .2h0m-24.7 1.2h0m.1-.1h0m.3 0h0m.3-.1h0m.8 .2h0m.4-.3h0m0 0h0m1.5-.2h0m.2 .5h0m.3-.4h0m0 .1h0m.1 .3h0m.3-.4h0m.2 .3h0m.1 0h0m.1-.2h0m.4 0h0m.2-.3h0m.1 0h0m.1 .4h0m.1-.2h0m.3-.2h0m.4 .5h0m.3-.1h0m.3 .2h0m0-.5h0m.3-.2h0m.1 .4h0m.1-.3h0m.1 0h0m0 .4h0m.1-.3h0m.4 .3h0m0 .2h0m.2-.5h0m.1 .3h0m0-.4h0m.2 .1h0m.3 .3h0m0-.7h0m.1 .8h0m0-.1h0m.1 0h0m0 .2h0m0-.5h0m0-.2h0m0 .3h0m0-.5h0m.1 .6h0m.1-.3h0m0 0h0m.1-.2h0m0 .7h0m.2-.8h0m0 .1h0m.1 .8h0m.3-.3h0m.1-.2h0m.2 0h0m.2 .5h0m.1 0h0m.1 0h0m.1-.2h0m0-.7h0m0 .9h0m.1-.5h0m.2-.2h0m0 .7h0m0-.5h0m0 .1h0m.3 .1h0m0-.5h0m.2 .1h0m0 .5h0m.2-.1h0m.3 .1h0m0-.6h0m.1 0h0m0 .2h0m0 .5h0m.1-.6h0m0 .5h0m.1-.6h0m0 0h0m.1 .8h0m.1-.5h0m0 .5h0m0-.2h0m.2-.6h0m0 .3h0m.1 .4h0m0-.2h0m.1-.5h0m0 .2h0m.1 .5h0m0 .2h0m0-.2h0m.1-.6h0m.2 .3h0m.1-.4h0m.1 .3h0m0 .6h0m0-.9h0m.3 .7h0m0-.2h0m0-.3h0m.1-.1h0m0 .5h0m.2-.2h0m.1-.3h0m0 0h0m.1 .1h0m.2 .2h0m.1-.5h0m.1 .8h0m0-.6h0m.1-.1h0m.1 0h0m.2 .1h0m0 .2h0m.1 .2h0m.1-.5h0m0 .5h0m0-.5h0m0 .3h0m.1-.1h0m.2 .5h0m0-.3h0m.1-.1h0m0 0h0m.1 .2h0m0 0h0m0-.2h0m.1-.3h0m.1 .5h0m0-.5h0m.1 .3h0m.4-.1h0m.2 .4h0m.3-.3h0m.1 .1h0m0-.2h0m.3 .1h0m0-.3h0m.3 .7h0m.1-.5h0m.1 .3h0m.1 .1h0m.2-.2h0m0-.1h0m0 .6h0m0-.8h0m0 .2h0m.1-.1h0m.2-.1h0m.1-.1h0m0 .3h0m.1 .1h0m.3-.1h0m.2 .1h0m0 0h0m.1-.4h0m.1 0h0m.1 .1h0m.1 0h0m0 .6h0m0-.8h0m.1 .2h0m0 .2h0m.1-.1h0m.2-.2h0m0 .1h0m.2 .5h0m0-.6h0m0 .7h0m0-.6h0m.4 .8h0m0-.9h0m.1 .6h0m0 .1h0m.4-.2h0m.2-.4h0m.1 .8h0m.1-.9h0m.1 0h0m.1 .1h0m.2 0h0m.6 .5h0m.1 .1h0m.5-.8h0m.5 0h0m.1 .1h0m0-.1h0m1 .4h0m0 0h0m0 .2h0m0 .1h0m0 .1h0m0-.5h0m-35.9 1.7h0m3.2-.5h0m1.1 0h0m.7 0h0m1.6-.3h0m0 .6h0m.2-.1h0m0 .2h0m.4-.3h0m.1-.2h0m.3 .1h0m.1 .2h0m.3 .3h0m.2-.7h0m0-.3h0m.1 .9h0m.4-.5h0m.9 .3h0m0 .3h0m0-.1h0m.2-.7h0m0 .2h0m.1 0h0m.4 0h0m.2 .5h0m.2-.7h0m.3 .6h0m.2-.7h0m.4 .7h0m.1-.6h0m.1 0h0m.2 .3h0m0-.3h0m0 .2h0m0 0h0m.2 .3h0m.6-.3h0m.7-.3h0m0 .4h0m.1 .2h0m.1-.4h0m.1 .6h0m.2 0h0m.6-.1h0m.2 0h0m.2 .2h0m.2-.1h0m.7-.1h0m.2-.1h0m.4-.1h0m.2-.5h0m.3 0h0m0 .8h0m.5-.4h0m.6 .3h0m.1-.5h0m.1 0h0m.5 .2h0m.2-.4h0m.6 .6h0m.2-.5h0m0 .8h0m.1-.9h0m.1 .2h0m0-.1h0m.1 0h0m0-.2h0m0 .2h0m.1 .1h0m0 0h0m.2 .1h0m.1 0h0m0-.2h0m.4 .2h0m.1-.1h0m.1 0h0m0-.1h0m0 0h0m.1 .1h0m.2 0h0m.1-.2h0m.1 0h0m.1 0h0m.1 .7h0m.1-.5h0m.3 .6h0m.4-.9h0m.1 0h0m0 0h0m.1 0h0m.3 .6h0m0-.6h0m.1 .4h0m.1 .1h0m.4-.3h0m.6 .4h0m.2-.6h0m0 0h0m1 .1h0m.2 .5h0m.3-.5h0m2.3 .2h0m.1-.3h0m.1 .2h0m.2 .2h0m1 0h0m.2 .3h0m.2 .2h0m.3-.9h0m0 .1h0m.1 .6h0m.1 .1h0m0-.5h0m.2 0h0m.1 .3h0m.4 .4h0m.6-.2h0m.2-.5h0m.2-.2h0m.8 .6h0m.1 0h0m.9 .2h0m.1-.1h0m.8-.2h0m.3-.2h0m.6-.2h0m0 .6h0m0-.7h0m0 .6h0m-44 1.1h0m2.9-.2h0m3.1 0h0m.8 0h0m.2 .3h0m1.6-.2h0m1.3 .3h0m.5-.1h0m.7-.4h0m.1 .5h0m.3-.6h0m2.2-.4h0m.1 .6h0m1.2-.4h0m.4 .5h0m0-.3h0m.1-.3h0m.8 0h0m.1 .9h0m.4-.1h0m.5-.1h0m.4-.2h0m.7 .1h0m.3 .1h0m.5-.4h0m.6 .5h0m.3-.6h0m.2-.2h0m1.1 .5h0m.8 0h0m.4 .2h0m0-.3h0m.5 0h0m0-.2h0m.2 .1h0m.1 .3h0m.3-.2h0m.2-.4h0m1-.1h0m.1 .4h0m.4 .6h0m.1-.5h0m0 .5h0m1.1-.5h0m.2 .5h0m.2-.3h0m.1-.3h0m.9 .1h0m.7-.2h0m.1 0h0m.5 .6h0m.1 0h0m.2 0h0m.1-.3h0m.1-.1h0m.1 .4h0m.2-.4h0m.5 .2h0m.1 .1h0m.2 .1h0m0-.8h0m.1 .3h0m1.1-.4h0m.2 .7h0m.2-.4h0m.1 .2h0m.5 .2h0m.9-.1h0m.2 .2h0m1.1 .1h0m.5-.8h0m.5 .8h0m.7-.8h0m.2 .4h0m.9-.2h0m.1 .7h0m0-.3h0m.3-.4h0m0-.2h0m.1 0h0m.7 .6h0m0-.3h0m.1 .5h0m.1-.4h0m1.1-.3h0m.9 .3h0m.3-.5h0m.8 .9h0m1-.7h0m.4 .5h0m0-.7h0m0 .9h0m0-.8h0m0 .4h0m-49.7 1.2h0m1.7-.3h0m1.9 .1h0m3-.2h0m2.4 0h0m.4-.2h0m0 .3h0m1.3-.3h0m.1 .1h0m2 .7h0m.9-.7h0m.9 .6h0m2.2-.6h0m.5 .1h0m.3 0h0m.8-.3h0m.1 .9h0m.5-.5h0m1.9 .1h0m.2 .1h0m.2 .2h0m0-.4h0m.5 .2h0m.5 .1h0m.2-.3h0m.2 .3h0m0 0h0m.2-.5h0m.1 .4h0m.3 .4h0m0-.4h0m.5 .1h0m.3-.3h0m.1 .2h0m.2-.2h0m.4 .5h0m.6-.8h0m.2 0h0m.3 .1h0m.6 .3h0m0 .1h0m.7-.5h0m.3 .1h0m.3 0h0m.1 .5h0m.1-.5h0m.3 .2h0m.2 .6h0m0-.4h0m.4-.5h0m.2 0h0m.3 .8h0m1.7-.1h0m1.2 0h0m0-.5h0m.1 .6h0m.3-.1h0m.7-.5h0m.2 0h0m.9-.2h0m0 .5h0m.2 .3h0m.3-.2h0m.1-.6h0m.2 .5h0m.4 0h0m.3-.5h0m0 .2h0m.4 0h0m.3 .7h0m1-.9h0m.6 .4h0m0-.4h0m0 .2h0m.3-.1h0m.1 .6h0m.6-.3h0m.4 0h0m.4-.2h0m0-.3h0m.8 .2h0m.6 .7h0m.5-.3h0m0 0h0m.1-.1h0m.6 .3h0m.4-.5h0m.3 .7h0m.7-1h0m0 .1h0m.2 .8h0m.5 .1h0m1.5-.3h0m0-.2h0m1.4-.4h0m.4 .7h0m1-.6h0m.6 .1h0m0-.2h0m-63.7 1.7h0m25-.5h0m.9 .2h0m.6-.1h0m1.7 .5h0m1.4 .1h0m1.7-.2h0m1-.4h0m.1-.1h0m.8 .5h0m.3-.2h0m.1-.6h0m1.4 .7h0m.1 0h0m.2-.5h0m1.1 .6h0m.6-.3h0m.1 .4h0m.1-.7h0m.2-.2h0m.7 .4h0m1 0h0m.2 .5h0m1.4 0h0m.2-.6h0m.2 .1h0m.2 .3h0m.4-.6h0m.1 .8h0m.4-.4h0m.2 .4h0m.8-.5h0m.6-.3h0m.4 .9h0m3.5-.3h0m.1-.2h0m.4 .3h0m.1-.2h0m.3 .2h0m.3-.8h0m.4 .9h0m.5 0h0m.5-.1h0m.5 0h0m1.6-.4h0m1 0h0m.9 .1h0m.3 .3h0m.1-.1h0m.1-.6h0m.9 .1h0m.6 .2h0m2 .5h0m.1 0h0m.6-.7h0m.1 .1h0m.3 .2h0m0 .3h0m.6-.6h0m.2 .6h0m.1-.2h0m.9 .2h0m.3-.6h0m.5 .8h0m1.4-.6h0m.3 0h0m-61.9 .7h0m.7 .9h0m3.7-.9h0m.2 .5h0m.6 .2h0m.2-.5h0m2.6 0h0m7.1 .4h0m6.8-.4h0m3.1 .5h0m1-.6h0m.2-.2h0m.1 .3h0m.1 0h0m.7 .4h0m.7 .3h0m.5 0h0m3.3-1h0m0 .3h0m1.8 .2h0m.2-.2h0m.8 .3h0m.1 .1h0m.7-.5h0m.2 .8h0m.1-.2h0m.3-.3h0m.1 0h0m0 .1h0m.8-.1h0m.8 .5h0m0-.3h0m.1 .2h0m2.8-.7h0m.2 0h0m.3 0h0m0 .4h0m.9 .2h0m1.6-.6h0m0 .2h0m.7 0h0m.3-.1h0m.6 .4h0m.2 .1h0m.4-.6h0m.5 .6h0m.4-.7h0m.8 .2h0m.6-.1h0m.4 0h0m.6-.1h0m1 .6h0m0-.1h0m.5-.3h0m.1 .2h0m.1-.1h0m0 .3h0m.5-.3h0m.4 .5h0m.4-.6h0m.2 0h0m0-.1h0m.1 .7h0m.3-.8h0m.2 .7h0m.2-.4h0m.3 .6h0m.2-.2h0m1.3-.2h0m1.3-.4h0m.2 .1h0m1 .1h0m.1 .4h0m.3-.8h0m.4 .5h0m.5-.3h0m.1-.2h0m.1 .9h0m.4-.4h0m.2-.4h0m.1 0h0m1.7 .2h0m.7 .4h0m.1-.7h0m0 .3h0m0-.1h0m0 .4h0m0-.5h0m-43.2 .9h0m2.4 .4h0m3.6 .1h0m1.2 .4h0m3.1 0h0m.2-.2h0m.3-.4h0m.6 .3h0m.2-.1h0m1.7 0h0m1.2 .4h0m.1-.5h0m.2 .4h0m.2 .1h0m.2 0h0m1-.4h0m.2-.5h0m.2 1h0m.4-.8h0m.2 0h0m.1 .3h0m.5 .3h0m.8-.4h0m.1-.2h0m.1 .4h0m0-.1h0m.5-.3h0m.6 .3h0m.1 .1h0m.6 .2h0m.4-.1h0m.6-.4h0m.6 .2h0m.2 .4h0m.3-.4h0m.3 .2h0m.1 .3h0m.8-.2h0m0-.5h0m.5-.2h0m1.2 .2h0m0 .6h0m.3-.8h0m.7 .5h0m.1 .2h0m.3-.1h0m.1-.4h0m1.1 .5h0m.2-.1h0m.2-.1h0m.1 .3h0m.6-.6h0m.8 .6h0m.3 0h0m.2-.8h0m.1 .9h0m.2-.8h0m.2 .1h0m.4 .6h0m.5-.3h0m.9 .1h0m.1-.6h0m.4 .7h0m.6-.3h0m.5 .3h0m.7-.3h0m.1-.1h0m2 .5h0m1.2-.8h0m.4 0h0m1.1 .1h0m1.2 .3h0m1.1 .1h0m.2 0h0m.6 .2h0m.1-.4h0m0 .1h0m-55.9 1.3h0m12.6-.5h0m4.3 .3h0m1.2 .3h0m1.4 0h0m.7-.2h0m1.4-.3h0m1.6-.4h0m.8 1h0m.3-.8h0m.3 .2h0m1.3-.1h0m.8 .2h0m0 .1h0m.6 .4h0m.2-.7h0m.5 .2h0m.2 .3h0m.2 .2h0m.3-.9h0m.8 .2h0m.1-.2h0m.1 .5h0m.2-.3h0m.1-.2h0m.1 0h0m0 .4h0m.5-.5h0m.9 .1h0m.4 .1h0m0-.2h0m.3 1h0m.2-.2h0m.7 0h0m.3-.1h0m0-.7h0m.6 .4h0m1.8-.1h0m.1 .3h0m.1-.1h0m0 0h0m.3 .1h0m.7 .2h0m.1 0h0m0-.1h0m.3-.4h0m.8 .7h0m.2-.8h0m.1-.2h0m.5 .4h0m.1-.3h0m.1 .7h0m0-.4h0m.3 0h0m.2-.3h0m.2 .1h0m1.1 .4h0m.5-.6h0m.7 1h0m.2-.8h0m1 .4h0m.5-.5h0m.1 .4h0m.3 .1h0m1-.2h0m.3-.2h0m.7 .7h0m0-.6h0m.3 .4h0m1.3 0h0m.6-.7h0m0 .9h0m2.9-.1h0m.7 0h0m.2 .1h0m.2 0h0m.7-.6h0m.6 .6h0m0-.5h0m.3-.2h0m0-.1h0m.1 .7h0m1.4 .1h0m.3-.3h0m-65.2 .5h0m12.6 .5h0m7.6 .3h0m8.9-.6h0m1.3 .4h0m.5-.6h0m2.8 .3h0m.1 .3h0m.6-.4h0m.3-.1h0m.6 .6h0m.2 .2h0m.6-.6h0m1.5-.3h0m0 .3h0m.3-.2h0m0 .2h0m.1 0h0m.7 .3h0m.5 .3h0m.3-.1h0m0 0h0m.5 0h0m.2-.1h0m.1-.8h0m.2 .6h0m.8-.6h0m.1 .2h0m.8 .7h0m0-.7h0m.6 .7h0m.2-.9h0m.1 .1h0m0 .5h0m.6-.1h0m.7-.1h0m.9 .2h0m.8 .3h0m.5-.9h0m0 .7h0m0-.6h0m.2 .9h0m.5-.5h0m0 0h0m.5-.2h0m.3 .7h0m.1-1h0m.2 .1h0m.1 .6h0m1.1-.1h0m.2-.3h0m.3 .6h0m.1-.4h0m.2 .3h0m.4 0h0m2.7-.4h0m0 .2h0m1.5-.3h0m1.2 .4h0m.4-.7h0m.3 .2h0m2.4-.1h0m2.4 .5h0m0 0h0m0-.4h0m.4 .6h0m3.1 .1h0m-63.1 .4h0m5.1-.1h0m11 .1h0m0-.1h0m2.1 .2h0m.7-.1h0m.7 .4h0m4-.2h0m0-.3h0m2.5 .6h0m1.5-.2h0m2.3 0h0m.7-.2h0m.5 .3h0m.9-.4h0m.5 .4h0m.2-.5h0m0-.2h0m.1 .7h0m0 .2h0m.3-.1h0m.8 .2h0m1-.8h0m.1 .4h0m.7 .2h0m.3-.7h0m.1 .5h0m.4 .1h0m.4 .3h0m.5-.6h0m.4-.2h0m.2-.2h0m.2 .5h0m.5 .5h0m.4-.4h0m.5-.5h0m.1 .6h0m.1-.4h0m.1 .6h0m.1-.8h0m0 .2h0m.4 .1h0m.2-.3h0m.4 .8h0m.4-.3h0m.3 0h0m.7-.4h0m.6-.1h0m0 0h0m.2 0h0m0 .7h0m1.1-.5h0m.1 .4h0m.4 .1h0m.2-.2h0m.1 .1h0m.1 .2h0m.3-.5h0m1.6 .1h0m.5 .3h0m.2 0h0m.3-.5h0m.8 .5h0m.2-.6h0m.6 .5h0m.2 0h0m.3-.3h0m.7 .5h0m.5-.3h0m.2 .3h0m.7-.2h0m0 .1h0m.5-.3h0m1.3-.2h0m.3 .5h0m.1-.4h0m.3 .6h0m1.5-.1h0m.8-.8h0m.3 .9h0m1.8-.2h0m.9 .2h0m.5-.5h0m-59.8 .6h0m18.4 .6h0m3.3-.4h0m.7 .1h0m2.1-.2h0m.3 .7h0m1.5-.7h0m.4-.1h0m.7 .5h0m.6-.1h0m1.7-.5h0m1.9 .4h0m.2 .6h0m.1-.7h0m1.5 .5h0m.1-.4h0m.8-.2h0m.3 .3h0m.5 .5h0m.1-.5h0m0 .4h0m.7-.2h0m.1 .1h0m.3-.5h0m.2-.1h0m1.1-.1h0m.4 .5h0m.4-.4h0m.2-.2h0m0 .2h0m.2 .7h0m.2 0h0m.2-.9h0m.1 .2h0m.3 .1h0m.3 .6h0m1.1-.6h0m.1 .6h0m0-.8h0m.6 .2h0m.4 .4h0m0-.4h0m.3 .6h0m1-.8h0m.3 .8h0m.6-.7h0m.6 .3h0m0-.1h0m1 .6h0m.3-.9h0m.6 0h0m.8 .1h0m.1-.1h0m0 .1h0m.1 .5h0m.2-.3h0m.2 .3h0m0 .1h0m.5-.6h0m0 0h0m.1 .6h0m.2-.8h0m.1 .8h0m.8-.1h0m.2-.6h0m1.7 .3h0m1.1 .2h0m1.1-.1h0m-71.6 .6h0m26.7 .1h0m4.9 0h0m13.4 0h0m2.2 .2h0m.3 .3h0m.7-.7h0m.2 .7h0m.5-.5h0m.2 .7h0m.1-.6h0m.5 .5h0m.1-.7h0m.1 .5h0m.4-.1h0m.3-.4h0m.8 .8h0m.6 .1h0m.9-.2h0m.5-.2h0m.2-.4h0m1 .7h0m1.2-.1h0m1-.2h0m.2-.6h0m.9 .4h0m.1-.4h0m.5 .9h0m.4-.7h0m.5-.1h0m0 0h0m.2 0h0m.1 .3h0m0 .3h0m.6-.2h0m1.3-.5h0m.2 1h0m.7-.7h0m.5 .2h0m.5-.1h0m.1 .4h0m.3-.2h0m1.9-.6h0m.4 .5h0m.1-.2h0m.5 0h0m.5 .4h0m.1-.1h0m.3-.4h0m.2 .7h0m.1-.5h0m.7 0h0m.7-.2h0m0-.1h0m.8 .7h0m.1-.2h0m0 .4h0m.6-.1h0m.3-.8h0m1.9 .1h0m5.3-.1h0m-63.6 1.8h0m11.2-.9h0m4.7 .1h0m5.4 0h0m.2 .6h0m1.4 .2h0m1.7-.4h0m1.8-.3h0m5.4-.2h0m.2 .2h0m3.1 .5h0m.2 0h0m1.4 .2h0m0-.5h0m.1 .4h0m1.3-.3h0m.1-.2h0m.6-.3h0m.2 .7h0m.1 0h0m.4 .2h0m.2-.3h0m.1-.6h0m.2 .2h0m.5 .6h0m.6-.3h0m.4 .2h0m.6 .1h0m.6-.3h0m.1-.3h0m.5-.1h0m1.4 .5h0m.7 0h0m.2-.3h0m.2 .3h0m.1-.5h0m.6 .8h0m.1-.6h0m0 .5h0m.4-.1h0m.1-.4h0m.2 0h0m.4 .4h0m.3-.3h0m0-.2h0m.8 .1h0m.1 .2h0m.6-.5h0m.3 .2h0m.5 .8h0m.8-.5h0m.6 .2h0m.1-.5h0m.1 0h0m.3 0h0m0 .1h0m.3-.1h0m1.1 .6h0m.8-.8h0m.2 0h0m3 .6h0m.4 .2h0m.5-.5h0m1.2 0h0m-47.9 .8h0m3.5 .3h0m3.8 .5h0m5-.7h0m1.3 .4h0m.5-.6h0m1 .9h0m.8-.3h0m.6 0h0m1.3 0h0m.5 .1h0m1.1 .1h0m.3-.4h0m.2 .6h0m2-1h0m.3 .3h0m1.6 0h0m.4 .3h0m.8-.5h0m1.6 .7h0m.5-.6h0m.4 0h0m.2 .6h0m.1-.6h0m.6 0h0m.4 .4h0m1.1-.6h0m.1 .2h0m.3 .6h0m.7-.3h0m.7 .1h0m.1 .1h0m.7 .1h0m.1-.5h0m.7-.1h0m.3 .4h0m.1 0h0m.2-.4h0m.1 .1h0m.7 .5h0m.1-.2h0m.2-.3h0m.6 .2h0m1.5 .3h0m.4-.1h0m.1-.3h0m.4 .6h0m.4-.3h0m.2-.3h0m.7 .1h0m.7-.1h0m.1-.2h0m.1 .5h0m1.9-.4h0m.9 .4h0m2.2-.1h0m-55.1 .6h0m17.2 .8h0m.9-.6h0m4.5-.1h0m1.2 .4h0m1.3 .1h0m.5-.3h0m.9-.1h0m.2 .1h0m1.5 .4h0m3.1 0h0m.2-.7h0m0 .3h0m1 .3h0m0-.7h0m.1 .2h0m1.5 .1h0m.2 .3h0m0-.3h0m0 .1h0m1.2 .1h0m.2 .1h0m.5-.2h0m.3 .1h0m.1-.5h0m.1 .6h0m.7 .1h0m.2-.4h0m.4 .5h0m.5-.6h0m.4 .1h0m.2-.2h0m.6 .3h0m.3-.3h0m.1 .3h0m.8 0h0m.1-.2h0m.4 .7h0m.4-1h0m.7 .2h0m0 .6h0m.3-.5h0m.4 .4h0m.1-.5h0m.3 .5h0m.6-.6h0m.7 .4h0m0 0h0m.1 .1h0m.4 .1h0m.4-.6h0m.1 .7h0m.6-.2h0m.2 .3h0m.1-.2h0m.3-.3h0m1.4 .1h0m.4 .2h0m0-.5h0m.4 .6h0m.6-.2h0m1.3-.3h0m.6 .4h0m.2-.4h0m1.3-.2h0m.7 .3h0m.2-.1h0m.9 .2h0m.2-.3h0m.4-.1h0m.5 .1h0m.4 0h0m-49.3 1.7h0m3.8-.2h0m1.9 .2h0m1.6 0h0m2.5-.8h0m1.8 .1h0m.5 0h0m.7 .1h0m.6 .4h0m3.4 .1h0m2.7-.5h0m1.1 .6h0m.1-.1h0m.3 .1h0m.4-.5h0m.1-.1h0m1.5 .4h0m.1 .2h0m1.4-.5h0m.6 .3h0m.3 .3h0m.9-.6h0m.3 .3h0m.6-.1h0m.1 0h0m.5-.3h0m.1 .6h0m0-.8h0m.1-.1h0m.5 .8h0m.4 0h0m0-.4h0m.3 .5h0m.1-.1h0m.1-.3h0m0-.4h0m.1-.1h0m.8 .7h0m1.7-.3h0m.8 .1h0m.8-.1h0m.7 .1h0m1.1 .1h0m.3 .2h0m.2 .1h0m.2-.2h0m.1-.2h0m.4 .4h0m.2-.3h0m.8-.2h0m.1 .2h0m.3-.5h0m.4 .2h0m.1 .5h0m.3 0h0m0-.5h0m.7-.3h0m.1 .9h0m.1-.2h0m1.8-.3h0m.3 .4h0m.7-.7h0m.6 .7h0m.5-.8h0m.1 .8h0m1.5-.5h0m-38.9 1.1h0m3.3-.1h0m5.7 .7h0m.1-.7h0m3.1 .4h0m1.6-.1h0m.7-.5h0m2.5 .6h0m.6-.3h0m1.1 .4h0m1-.5h0m1.3 .4h0m.3 .3h0m0-.9h0m0 .4h0m.6 .1h0m.5 .2h0m.2 0h0m.1-.5h0m0-.1h0m.7 0h0m1 .3h0m1 0h0m.2 .3h0m.4-.7h0m.2 .2h0m.4 .3h0m.3 .3h0m1 0h0m.6 0h0m.1-.6h0m1.7 .3h0m.6-.4h0m.1 .6h0m.7 .1h0m.6-.7h0m.2 .2h0m.2 .1h0m0 0h0m.4 0h0m.6 .1h0m.3 0h0m1.4-.2h0m5.8 .5h0m3.6-.8h0m-58.8 1.6h0m4.4 0h0m2.7-.5h0m4.2 .4h0m5.3-.3h0m1.2-.2h0m.4 0h0m1.5 .2h0m2.9 .2h0m2.8 .3h0m3.5-.4h0m.5-.1h0m.5-.2h0m.4 .7h0m3.2 .1h0m.3-.9h0m1.6 1h0m.3-.8h0m.4 .2h0m0-.3h0m.2 .6h0m.2-.4h0m.5 .4h0m.3-.2h0m0 .5h0m.5-.2h0m0-.1h0m0-.2h0m.3-.3h0m.1 .3h0m.8 .3h0m.3-.4h0m0 .2h0m.3-.4h0m0-.2h0m.5 1h0m.1-.1h0m.1 0h0m.2-.7h0m0 .4h0m1.2-.5h0m.4-.1h0m1.2 .8h0m.2-.2h0m.3 0h0m.1 .2h0m0-.7h0m.1 .7h0m.1 .2h0m0-.4h0m.2-.3h0m.8 .3h0m.8-.3h0m.8 .5h0m2.5-.1h0m1.6-.4h0m2.2-.2h0m.4 .1h0m0-.1h0m.5 .2h0m.4 0h0m0 .2h0m-44.8 .9h0m.2-.1h0m2.9 .5h0m3.3-.6h0m.1-.1h0m3.9 .8h0m.4-.8h0m2.3-.1h0m1.1 .1h0m1.1 .6h0m1.7-.2h0m4.1-.1h0m4 .6h0m.3-.6h0m.8 0h0m.6 .4h0m.1-.3h0m.4 0h0m.3 .3h0m.3-.6h0m.5-.1h0m.1 0h0m0 .5h0m.1 .2h0m.1 .1h0m.4-.5h0m.3-.1h0m0-.3h0m.9 .1h0m.2 .9h0m.1-.2h0m0-.7h0m0 .4h0m.2 .3h0m.3-.2h0m.1-.4h0m.7 .5h0m.4 .2h0m.3-.5h0m.6-.1h0m.7 .1h0m0 .1h0m.1-.2h0m.2 .3h0m.5-.2h0m0 .2h0m.3 0h0m.2-.3h0m0 0h0m.2 .5h0m.2-.1h0m.3-.4h0m.2 .5h0m.5 .1h0m.1-.8h0m.1 .1h0m.9 .2h0m.5 .2h0m1-.4h0m1.3-.1h0m2.7 .3h0m-54.8 1.1h0m1.7 .2h0m13.9 .3h0m8.2-.1h0m.4-.3h0m.9-.1h0m3.6-.4h0m.2 .5h0m.2-.4h0m.5 .5h0m2 0h0m1.3-.4h0m.9 .3h0m1.3-.5h0m1.8 .8h0m.5-.4h0m.2-.3h0m.6 .1h0m.1 .2h0m.2 0h0m.1-.4h0m0 .7h0m.6 .1h0m.4-.6h0m0 0h0m.4 .3h0m.8-.6h0m.9 .1h0m.5 .7h0m.1-.8h0m.4 .9h0m.4-.6h0m.1 .6h0m1-.4h0m0 .5h0m.8-.8h0m.1 0h0m.3 .7h0m.1-.2h0m1.2-.3h0m.4 .4h0m.5 0h0m.6-.2h0m.6-.5h0m.4 .6h0m.8-.6h0m.6 .5h0m.2 .2h0m2.4-.1h0m4.4 .2h0m-40.6 .4h0m1.3 .3h0m5 .3h0m5.9-.6h0m.5 .5h0m1.3-.2h0m.5-.5h0m.5 .2h0m.4 .1h0m1-.2h0m.6-.1h0m.2 .9h0m.6-.3h0m.8-.5h0m0 .5h0m.4-.1h0m1 .1h0m2-.4h0m.1 .1h0m.6-.3h0m1.4 .8h0m.1 0h0m.8 .1h0m.4-.9h0m.3 .1h0m0 .5h0m2.5-.1h0m0-.6h0m.2 .3h0m.2 .6h0m.5 .1h0m.5-.8h0m.1 .6h0m.7-.5h0m1-.2h0m.1 .8h0m.5-.8h0m2.8 0h0m.6 .9h0m-44.3 .1h0m9.7 .1h0m2 .7h0m6.1-.6h0m3 .1h0m1-.2h0m1.3-.2h0m3.7 .7h0m1.5 .3h0m.7-.4h0m.1 .3h0m.3-.5h0m.4-.1h0m1 .5h0m.5-.3h0m.6 .4h0m.2-.3h0m.5-.3h0m.3 .4h0m.1 0h0m1.1 0h0m.7 .2h0m.5-.6h0m1 .5h0m.7-.1h0m.1 .2h0m.2-.8h0m.1 .4h0m1.7-.3h0m1.9 .2h0m.7-.4h0m-48.6 1.3h0m12.1 .3h0m5.6-.1h0m4.4 .1h0m1.6 .3h0m.5-.1h0m.7-.3h0m4.1 .4h0m1.9-.4h0m.2 .1h0m.4 0h0m.1-.4h0m2.7-.1h0m1.6-.1h0m1.3 .9h0m1.2 0h0m.4-.4h0m.1 0h0m1.4-.2h0m2.7-.1h0m.4 .2h0m1.4 0h0m3-.2h0m.2 .6h0m-50.1 .8h0m5.9-.2h0m3.9-.1h0m1.1 .1h0m8.4 0h0m1.2 .5h0m2.7-.7h0m.8 0h0m.3 .1h0m1.3 .1h0m1.6-.1h0m1.5 .4h0m1-.3h0m1.9-.3h0m.9 0h0m2.5 .7h0m.1-.1h0m1-.2h0m1.5-.2h0m.8-.2h0m1.9 .3h0m1.5 .3h0m1.3-.6h0m.3 .9h0m6.7-1h0m.3 .6h0m-46.8 .7h0m3.4-.2h0m1.6 .5h0m2.2-.3h0m.8-.1h0m1.2-.1h0m.3 .8h0m3.1-.1h0m1.5 0h0m.4-.5h0m3.6 .2h0m1.9-.5h0m2.6 .3h0m.2 0h0m3.3-.2h0m.3-.1h0m1 .8h0m.8-.5h0m.2 .4h0m.5-.2h0m2.8 .1h0m2.6-.4h0m.7 .5h0m.9 .2h0m1.3-.7h0m.3 .3h0m.1-.1h0m.2 .4h0m3.6-.5h0m2.3-.2h0m6 .3h0m-31.8 1.2h0m3.6-.4h0m.9 .6h0m3.5-.2h0m1.4-.4h0m.4 .5h0m4.3 0h0m1.8-.3h0m.9-.3h0m3.3 .3h0m0 .2h0m.5-.2h0m.8 0h0m.2 .1h0m3.1 .5h0m1.2-.1h0m-50.9 .5h0m12.1 .4h0m7-.8h0m4.4 .2h0m3.1 .6h0m.4-.1h0m1.2-.6h0m1.4 .7h0m.7 .1h0m.2-.5h0m2 .1h0m.5-.1h0m1.5 .5h0m1-.5h0m.9 .5h0m1.2-.3h0m.3 .1h0m.5 0h0m6.7 0h0m0-.6h0m.7 .7h0m7-.5h0m6.5 .5h0m-52.6 .9h0m1.9-.5h0m2.3-.1h0m.5 .6h0m1.6 .1h0m.3 .1h0m9.9-.8h0m3.5 0h0m.4 .3h0m1.4-.3h0m.4 .4h0m.8-.5h0m.1 .9h0m.3-.5h0m.2-.3h0m.8 .1h0m1 0h0m.3-.1h0m.8 .8h0m.7-.7h0m.6 .6h0m.9-.1h0m.2 .3h0m.4-.8h0m1.1 0h0m.3 .1h0m0-.1h0m1.2-.1h0m4.5 .1h0m4.2 .3h0m.5-.1h0m3-.4h0m.8 .7h0m-67.5 1h0m19.7-.1h0m9.7 .3h0m3.7-.4h0m2.6 .2h0m2.8-.5h0m.7 .2h0m1.9 .1h0m0 .5h0m.1-.5h0m.5 .3h0m.5-.4h0m2.5 .3h0m1-.7h0m8 .4h0m.2 .2h0m.2-.1h0m1.3 .1h0m4.9-.2h0m.4 .3h0m1.9-.1h0m.6-.3h0m1.3 .4h0m.2-.1h0m9.3-.5h0m-58.4 1.7h0m12.4-.7h0m10.5 .9h0m2.8-.5h0m3.2 .1h0m2 0h0m.9-.2h0m.1 .1h0m.1 0h0m1.3-.3h0m.1-.2h0m.9 0h0m.3 .4h0m1.8 .5h0m0-.2h0m3-.4h0m3.9 .6h0m.4-.7h0m.4 .2h0m3 .3h0m-36 1h0m1.6 .2h0m.4 0h0m.9-.8h0m1.4 0h0m.6 .6h0m.1 0h0m2.2 .1h0m.1-.4h0m3-.1h0m2.4 .7h0m1.5-.7h0m.8-.2h0m1.1 .2h0m1 .2h0m.2-.5h0m.3 .9h0m2-.6h0m.3 .2h0m.6-.1h0m2.6 .2h0m.7-.4h0m6.8 .2h0m3.7-.1h0m3.9 .5h0m1.6 .2h0m-43.8 .3h0m1.8 .2h0m4.4-.3h0m9.6 .6h0m4.9-.6h0m1.2 .5h0m.3-.5h0m3.4 .2h0m.1 0h0m.4-.1h0m.4 .5h0m0-.7h0m.5 .5h0m3.5 0h0m.3-.2h0m0 0h0m.6-.3h0m3.9 .8h0m5.9-.8h0m5.5 .6h0m-38 .9h0m.3 .2h0m2.7-.7h0m2.5 .9h0m.7-.8h0m.4 .2h0m1.8-.2h0m.3 0h0m2.6-.1h0m1.1 .8h0m1.5-.4h0m3.8 .3h0m.8 0h0m.5-.5h0m1.3-.2h0m.1 .5h0m1.4-.6h0m.1 .9h0m.2-.5h0m.4-.1h0m2 .5h0m.1-.5h0m3.7 0h0m1-.1h0m.5 .4h0m1.4 .1h0m-32.3 .4h0m1.6 .8h0m.4-.1h0m.1-.5h0m4.5 .5h0m1.4-.3h0m2.3-.3h0m1.6 .4h0m.4-.4h0m.6 .2h0m2.2 .5h0m2.2-.2h0m.7-.1h0m2.4 .1h0m2.1-.6h0m.2 .6h0m2.5-.2h0m1.8-.3h0m1.4 .3h0m3.2 0h0m1.2 .3h0m-40 .9h0m8.4-.7h0m1 .1h0m8.6 .7h0m2.6-.3h0m1.2-.3h0m1.5 .1h0m2.1 .5h0m.8-.2h0m2.6 .4h0m.3-.6h0m3.7 .4h0m2.3 .1h0m-24.1 .4h0m2.1 .4h0m4.3-.6h0m1.1 .4h0m.2 .3h0m1.3-.6h0m5.4-.1h0m4.9-.1h0m10 .4h0m2.7 .5h0m4.3-.4h0m-53.4 .6h0m12.6 .3h0m4.9-.1h0m5.7-.2h0m1.1 .6h0m.2-.2h0m5.5 .2h0m.4 0h0m1.4-.4h0m1.5 .4h0m1.3-.1h0m4.6 .3h0m10.3-.4h0m-28.9 1.3h0m5.7-.2h0m4.5 0h0m4.4 0h0m.4 .1h0m2.4 .1h0m4.1-.7h0m4.3 .7h0m-50.2 .3h0m10.4 0h0m3.1 .4h0m6.4 .2h0m3.1 .3h0m3.3-.4h0m1.5 .1h0m4.2-.1h0m3-.5h0m2 0h0m2.5 .2h0m2.3 0h0m.4 .4h0m9.5-.6h0m-33.3 1.2h0m4 .3h0m.3 .2h0m3.8-.5h0m2.4-.2h0m-13.6 1.1h0m9.1 0h0m3.5 .1h0m2.2 .7h0m3.3-.7h0m5.7-.3h0m9.2 0h0m-29.3 1h0m9.4 .3h0m3.8 .6h0m1.8 0h0m2.1-.6h0m13.1-.2h0m-43.7 1.2h0m7.6 0h0m8.9-.3h0m3.6 .7h0m1.8-.6h0m3.1 .1h0m10.4 .6h0m2.8-.8h0m.1 .3h0m-20.9 1.5h0m4.7-.4h0m1.4-.2h0m1.6 0h0m1.7 0h0m.1 .1h0m2.2-.2h0m5.5 0h0m3 0h0m3.6 .7h0m4.1-.6h0m-18.3 .9h0m2.9 .5h0m4.7-.4h0m4.3 .1h0m-41 1.5h0m25.5-.7h0m2.4-.1h0m.4 .2h0m2 .7h0m.6-.5h0m.5 .2h0m.1 .2h0m.8-.7h0m1.6 1.7h0m-13.3 .6h0m5.3-.1h0m3.5-.2h0m4 .4h0m-29.9 1h0m21.1 0h0m-5.4 .6h0m0 .2h0m-30.3 1.6h0m38.4-.8h0m-28 1.2h0m-5.5 2.1h0m4.8 2.1h0m2.1 1.3h0m5.6-.6h0m-9.5 1.1h0m15.7 .2h0m-9 1.4h0m5.5-.7h0m-34.6 3.8h0m35.3-.3h0m24.3 0h0m-15.3 .7h0m-29.8 1.4h0m9.7-.7h0m17.4 0h0m-9 1.4h0m15.9 1.4h0m-11.1 1.3h0m8.3 0h0m9.7 0h0m-4.8 1.4h0m-19.4 .7h0m-7 1.4h0m13.2 0h0m15.3-.7h0m-7 1.4h0m11.1 .4h0m-40.9 .3h0m-7.6 1.4h0m16.6 1.4h0m8.3-.7h0m7 .7h0m2.7 .7h0m-6.2 .7h0m3.5 4.8h0m7.6 0h0m4.9 .3h0m-15.3 1.1h0m4.9 0h0m-1.4 2.1h0m-20.1 2.1h0m11.8 .6h0m-8.4 1.8h0m24.3 1.7h0m-20.8 2.1h0m4.2 0h0m9-.7h0m-11.8 4.2h0m5.5 0h0m-4.1 1.3h0m-7.7 1.4h0m22.9 .7h0m-16.6 1.4h0m8.3 0h0m-45 2.6h0m1.4 0h0m1.2 0h0m.8 0h0m1.4 .1h0m2.6-.3h0m2.7 .3h0m5.8-.6h0m1.2 .2h0m1.1 .1h0m.9 0h0m1 .1h0m1.1 .2h0m1.1-.2h0m1.3-.1h0m1.6-.4h0m1.5 .5h0m1.7 .2h0m2.4 0h0m1.3-.1h0m1.2-.2h0m1.2 .4h0m3.8-.2h0m1.5 .1h0m1.5-.2h0m2.3 0h0m1.1-.1h0m6.5 .2h0m-44.8 .3h0m2.3 0h0m21-.1h0m7 .1h0m5.8 0h0m10.4 0h0m1.4 0h0" stroke="#000" stroke-width="1.5" stroke-linecap="round" fill="none"/>
<text x="1.2" y="445.7" font-size="25.2" fill="#000" text-anchor="start" textLength="16.2" lengthAdjust="spacingAndGlyphs" stroke="#000" stroke-width="0.22">E</text>
<text x="41.6" y="460.5" font-size="14.6" fill="#1a1a1a" text-anchor="start" textLength="85.0" lengthAdjust="spacingAndGlyphs" stroke="#1a1a1a" stroke-width="0.22">p-values (log</text>
<text x="126.7" y="464.2" font-size="10.0" fill="#1a1a1a" text-anchor="start" textLength="10.1" lengthAdjust="spacingAndGlyphs" stroke="#1a1a1a" stroke-width="0.22">10</text>
<text x="139.8" y="460.5" font-size="14.6" fill="#1a1a1a" text-anchor="end" stroke="#1a1a1a" stroke-width="0.22">)</text>
<text transform="translate(19.2,551.4) rotate(-90)" stroke="#000" stroke-width="0.22" font-size="13.4" textLength="48.8" lengthAdjust="spacingAndGlyphs">SPARK-X</text>
<text x="41.8" y="603.6" font-size="14.2" fill="#1a1a1a" text-anchor="start" textLength="105.1" lengthAdjust="spacingAndGlyphs" stroke="#1a1a1a" stroke-width="0.22">singleCellHaystack</text>
<text x="52.8" y="475.0" font-size="9.9" fill="#FF0000" text-anchor="start" textLength="20.4" lengthAdjust="spacingAndGlyphs" stroke="#FF0000" stroke-width="0.22">MAL</text>
<line x1="73.4" y1="477.2" x2="76.3" y2="479.9" stroke="#FF0000" stroke-width="1.6"/>
<path d="M78.5,481.9L75.1,481.2L77.5,478.5z" fill="#FF0000"/>
<text x="30.7" y="489.1" font-size="9.9" fill="#FF0000" text-anchor="start" textLength="24.7" lengthAdjust="spacingAndGlyphs" stroke="#FF0000" stroke-width="0.22">PLP1</text>
<line x1="56.4" y1="485.5" x2="60.2" y2="485.5" stroke="#FF0000" stroke-width="1.6"/>
<path d="M63.2,485.5L60.2,487.3L60.2,483.7z" fill="#FF0000"/>
<text x="122.0" y="532.6" font-size="9.3" fill="#FF0000" text-anchor="start" textLength="36.9" lengthAdjust="spacingAndGlyphs" stroke="#FF0000" stroke-width="0.22">COX4I1</text>
<line x1="129.1" y1="522.6" x2="126.3" y2="520.4" stroke="#FF0000" stroke-width="1.6"/>
<path d="M123.9,518.6L127.4,519.0L125.2,521.9z" fill="#FF0000"/>
<text x="113.2" y="558.5" font-size="9.3" fill="#FF0000" text-anchor="start" textLength="33.9" lengthAdjust="spacingAndGlyphs" stroke="#FF0000" stroke-width="0.22">ZFHX3</text>
<line x1="112.6" y1="551.3" x2="109.9" y2="549.2" stroke="#FF0000" stroke-width="1.6"/>
<path d="M107.5,547.3L111.0,547.7L108.7,550.6z" fill="#FF0000"/>
<rect x="433.0" y="468.4" width="111.7" height="113.9" fill="#EBEBEB"/>
<line y1="468.4" y2="582.3" x1="446.4" x2="446.4" stroke="#F5F5F5" stroke-width="0.5"/>
<line x1="433.0" x2="544.7" y1="557.5" y2="557.5" stroke="#F5F5F5" stroke-width="0.5"/>
<line y1="468.4" y2="582.3" x1="483.7" x2="483.7" stroke="#F5F5F5" stroke-width="0.5"/>
<line x1="433.0" x2="544.7" y1="523.9" y2="523.9" stroke="#F5F5F5" stroke-width="0.5"/>
<line y1="468.4" y2="582.3" x1="521.0" x2="521.0" stroke="#F5F5F5" stroke-width="0.5"/>
<line x1="433.0" x2="544.7" y1="490.2" y2="490.2" stroke="#F5F5F5" stroke-width="0.5"/>
<line y1="468.4" y2="582.3" x1="465.0" x2="465.0" stroke="#FFF" stroke-width="0.9"/>
<line y1="582.3" y2="584.3" x1="465.0" x2="465.0" stroke="#444" stroke-width="0.5"/>
<text x="456.5" y="590.3" font-size="8.0" fill="#262626" text-anchor="start" textLength="15.0" lengthAdjust="spacingAndGlyphs" stroke="#262626" stroke-width="0.12">-200</text>
<line y1="468.4" y2="582.3" x1="502.3" x2="502.3" stroke="#FFF" stroke-width="0.9"/>
<line y1="582.3" y2="584.3" x1="502.3" x2="502.3" stroke="#444" stroke-width="0.5"/>
<text x="493.8" y="590.3" font-size="8.0" fill="#262626" text-anchor="start" textLength="15.0" lengthAdjust="spacingAndGlyphs" stroke="#262626" stroke-width="0.12">-100</text>
<line y1="468.4" y2="582.3" x1="539.6" x2="539.6" stroke="#FFF" stroke-width="0.9"/>
<line y1="582.3" y2="584.3" x1="539.6" x2="539.6" stroke="#444" stroke-width="0.5"/>
<text x="537.5" y="590.3" font-size="8.0" fill="#262626" text-anchor="start" textLength="4.2" lengthAdjust="spacingAndGlyphs" stroke="#262626" stroke-width="0.12">0</text>
<line x1="433.0" x2="544.7" y1="473.4" y2="473.4" stroke="#FFF" stroke-width="0.9"/>
<line x1="431.0" x2="433.0" y1="473.4" y2="473.4" stroke="#444" stroke-width="0.5"/>
<text x="428.2" y="476.2" font-size="8.0" fill="#262626" text-anchor="start" textLength="4.4" lengthAdjust="spacingAndGlyphs" stroke="#262626" stroke-width="0.12">0</text>
<line x1="433.0" x2="544.7" y1="507.0" y2="507.0" stroke="#FFF" stroke-width="0.9"/>
<line x1="431.0" x2="433.0" y1="507.0" y2="507.0" stroke="#444" stroke-width="0.5"/>
<text x="417.2" y="509.8" font-size="8.0" fill="#262626" text-anchor="start" textLength="15.4" lengthAdjust="spacingAndGlyphs" stroke="#262626" stroke-width="0.12">-100</text>
<line x1="433.0" x2="544.7" y1="540.7" y2="540.7" stroke="#FFF" stroke-width="0.9"/>
<line x1="431.0" x2="433.0" y1="540.7" y2="540.7" stroke="#444" stroke-width="0.5"/>
<text x="417.2" y="543.5" font-size="8.0" fill="#262626" text-anchor="start" textLength="15.4" lengthAdjust="spacingAndGlyphs" stroke="#262626" stroke-width="0.12">-200</text>
<line x1="433.0" x2="544.7" y1="574.4" y2="574.4" stroke="#FFF" stroke-width="0.9"/>
<line x1="431.0" x2="433.0" y1="574.4" y2="574.4" stroke="#444" stroke-width="0.5"/>
<text x="417.2" y="577.1" font-size="8.0" fill="#262626" text-anchor="start" textLength="15.4" lengthAdjust="spacingAndGlyphs" stroke="#262626" stroke-width="0.12">-300</text>
<path d="M530.6 473h0m.1 .1h0m1.7-.3h0m.4 .4h0m1.1 .1h0m.6-.2h0m1.3 .2h0m.2-.4h0m0 .5h0m.2-.2h0m.1 .1h0m.3-.2h0m.2 .3h0m.3-.4h0m.3 .4h0m.5-.3h0m1-.1h0m.1 .1h0m.1 .1h0m.9 0h0m-9.3 1.1h0m.2-.1h0m0-.1h0m.6-.3h0m1 .4h0m.5-.6h0m1.3 .5h0m.2 .1h0m.1-.6h0m.1 .4h0m.2 .1h0m1.1 .3h0m1.2 0h0m0-.7h0m.3 .6h0m.6-.3h0m.4-.3h0m.2 .4h0m-8.1 .5h0m.4 .2h0m.3-.1h0m0 .1h0m0 .3h0m1.4-.1h0m1.4-.4h0m0 .9h0m.7-.2h0m1-.3h0m1.1-.1h0m0 .5h0m1.3-.8h0m1.7 .4h0m-9.2 .6h0m.3 .7h0m.5-.7h0m.3 .3h0m.3 .3h0m.3-.2h0m.3 .3h0m.3 .1h0m.2-.7h0m.6 .2h0m.5 .4h0m.9-.2h0m.1 0h0m.7-.1h0m.1-.4h0m.2 .6h0m0 .1h0m.9-.1h0m-8.7 1.8h0m.4 0h0m1.6 0h0m-2.1 1.4h0m-2 .4h0m.6-.3h0m0 1.6h0m.7-.2h0m-2.7 1.1h0m.5 .2h0m-2 2.3h0m.1-.7h0m.4-.1h0m-2 1.7h0m.1-.2h0m.8-.3h0m-6 7.6h0m-13.4 13.3h0m-3.4 5.1h0m-8.8 5.7h0m-.5 2.8h0m-.6 10.8h0m-25.3 33.3h0m-25.7 13.8h0" stroke="#000" stroke-width="1.2" stroke-linecap="round" fill="none"/>
<text x="399.8" y="445.4" font-size="24.8" fill="#000" text-anchor="start" textLength="15.0" lengthAdjust="spacingAndGlyphs" stroke="#000" stroke-width="0.22">F</text>
<text x="438.2" y="459.5" font-size="14.6" fill="#1a1a1a" text-anchor="start" textLength="85.9" lengthAdjust="spacingAndGlyphs" stroke="#1a1a1a" stroke-width="0.22">p-values (log</text>
<text x="524.2" y="463.2" font-size="10.0" fill="#1a1a1a" text-anchor="start" textLength="10.2" lengthAdjust="spacingAndGlyphs" stroke="#1a1a1a" stroke-width="0.22">10</text>
<text x="537.5" y="459.5" font-size="14.6" fill="#1a1a1a" text-anchor="end" stroke="#1a1a1a" stroke-width="0.22">)</text>
<text transform="translate(415.5,550.2) rotate(-90)" stroke="#000" stroke-width="0.22" font-size="13.4" textLength="48.4" lengthAdjust="spacingAndGlyphs">SPARK-X</text>
<text x="429.8" y="604.5" font-size="16.0" fill="#1a1a1a" text-anchor="start" textLength="119.7" lengthAdjust="spacingAndGlyphs" stroke="#1a1a1a" stroke-width="0.22">singleCellHaystack</text>
<text x="470.9" y="477.6" font-size="10.4" fill="#FF0000" text-anchor="start" textLength="42.6" lengthAdjust="spacingAndGlyphs" stroke="#FF0000" stroke-width="0.22">Gm10925</text>
<line x1="515.8" y1="474.0" x2="519.8" y2="474.0" stroke="#FF0000" stroke-width="1.9"/>
<path d="M523.0,474.0L519.8,475.9L519.8,472.1z" fill="#FF0000"/>
<text x="448.2" y="581.0" font-size="10.4" fill="#FF0000" text-anchor="start" textLength="43.1" lengthAdjust="spacingAndGlyphs" stroke="#FF0000" stroke-width="0.22">Gm42418</text>
<line x1="447.3" y1="577.4" x2="443.2" y2="577.4" stroke="#FF0000" stroke-width="1.9"/>
<path d="M440.0,577.4L443.2,575.5L443.2,579.3z" fill="#FF0000"/>
<rect x="557.2" y="442.6" width="98.2" height="62.4" fill="#F5F5F5"/>
<path d="M562.2,443.6 L575.0,443.2 L600.0,443.0 L615.5,442.9 L618.4,444.3 L623.0,445.2 L627.0,445.8 L632.8,444.3 L637.1,447.9 L644.3,450.8 L651.5,453.7 L653.7,455.9 L651.5,458.7 L650.8,468.8 L650.1,483.2 L648.7,490.4 L646.5,494.5 L644.3,497.6 L641.0,500.2 L637.1,502.0 L632.0,503.3 L627.0,504.1 L615.0,504.4 L605.4,504.1 L600.0,503.4 L595.3,502.0 L592.3,500.0 L590.3,497.6 L589.2,494.5 L588.9,491.9 L589.6,487.6 L586.5,489.0 L583.8,489.7 L578.0,490.0 L572.3,489.7 L568.3,488.9 L565.1,487.6 L562.6,485.6 L560.8,483.2 L559.4,479.0 L558.6,474.6 L558.2,468.0 L558.2,461.6 L558.6,457.0 L559.3,453.0 L560.2,449.0 L561.5,445.8z" fill="#DD8A72"/>
<defs><clipPath id="fclip0"><path d="M562.2,443.6 L575.0,443.2 L600.0,443.0 L615.5,442.9 L618.4,444.3 L623.0,445.2 L627.0,445.8 L632.8,444.3 L637.1,447.9 L644.3,450.8 L651.5,453.7 L653.7,455.9 L651.5,458.7 L650.8,468.8 L650.1,483.2 L648.7,490.4 L646.5,494.5 L644.3,497.6 L641.0,500.2 L637.1,502.0 L632.0,503.3 L627.0,504.1 L615.0,504.4 L605.4,504.1 L600.0,503.4 L595.3,502.0 L592.3,500.0 L590.3,497.6 L589.2,494.5 L588.9,491.9 L589.6,487.6 L586.5,489.0 L583.8,489.7 L578.0,490.0 L572.3,489.7 L568.3,488.9 L565.1,487.6 L562.6,485.6 L560.8,483.2 L559.4,479.0 L558.6,474.6 L558.2,468.0 L558.2,461.6 L558.6,457.0 L559.3,453.0 L560.2,449.0 L561.5,445.8z"/></clipPath><filter id="fbl" x="-30%" y="-30%" width="160%" height="160%"><feGaussianBlur stdDeviation="2"/></filter></defs>
<g clip-path="url(#fclip0)"><g filter="url(#fbl)">
<ellipse cx="563" cy="450" rx="3.4" ry="6.0" fill="#6F8FC0" opacity="0.64"/>
<ellipse cx="608" cy="455" rx="6.0" ry="6.0" fill="#6F8FC0" opacity="0.48"/>
<ellipse cx="631" cy="450" rx="4.2" ry="4.2" fill="#6F8FC0" opacity="0.72"/>
<ellipse cx="647" cy="456" rx="5.1" ry="4.2" fill="#6F8FC0" opacity="0.64"/>
<ellipse cx="625" cy="474" rx="9.3" ry="8.5" fill="#6F8FC0" opacity="0.80"/>
<ellipse cx="611" cy="494.5" rx="11.0" ry="8.5" fill="#6F8FC0" opacity="0.88"/>
<ellipse cx="581" cy="474" rx="7.6" ry="8.5" fill="#6F8FC0" opacity="0.88"/>
<ellipse cx="586" cy="456" rx="4.2" ry="10.2" fill="#6F8FC0" opacity="0.72"/>
</g></g>
<path d="M589.2 443.1h1m-26.4 1.2h1m10.6-.3h1m4.4 0h1m4 .3h1m-23.4 1h1m5.6-.1h1m2.7 .3h1m16.1-.1h1m12.9-.1h1m4.4 0h1m21.2 .1h1m-71.8 .8h1m23.1 .1h1m9.2 0h1m5.5-.8h1m9.7 .8h1m16.5 0h1m-63.1 .3h1m22.9 0h1m5.6 .8h1m-.3-.7h1m-37.3 1h1m11.7 0h1m-.2-.1h1m1.2 0h1m20-.1h1m25.5 .1h1m-.1 0h1m2.5 0h1m.2 .1h1m-68.2 1h1m.4-.1h1m2.3-.1h1m18.3 0h1m.3 .1h1m8.1 .3h1m7.3-.1h1m.2-.2h1m21.7 0h1m6 .4h1m-78.5 .9h1m.1-.1h1m7.1 .1h1m.1-.2h1m.3 .2h1m.1 .1h1m12.8-.2h1m7.1 .3h1m9.2-.3h1m9.2 .2h1m22.2-.2h1m-79.7 1.3h1m3.3-.2h1m20.7 .3h1m12.1 0h1m1.2 .1h1m12.8-.4h1m7 .1h1m9.3 .1h1m.2-.1h1m1.2 .2h1m-49.6 1h1m3.4-.1h1m5.9 .2h1m8.3 0h1m11.5 .1h1m2.5-.1h1m-59.1 1.1h1m1.2-.1h1m4.7 .2h1m1.6-.3h1m1.3 .1h1m14.8 0h1m.1-.2h1m14.2 .2h1m-38.2 1h1m52.9 .1h1m-48.3 .3h1m8.4-.1h1m-.1 .1h1m1.5-.1h1m.5 .9h1m.8-1h1m7 .1h1m4.4 .8h1m5.3-.8h1m19.6 .1h1m-40.5 1.2h1m8.2-.3h1m3.6 .3h1m5.5-.3h1m26.7-.1h1m-66.8 1.3h1m.2-.1h1m3.5-.1h1m10.2 .2h1m44.9 .2h1m1.7-.1h1m3.4-.2h1m-83.4 1.3h1m9.5-.1h1m10.5-.1h1m11.6 0h1m1.3 0h1m8.1 0h1m1.8 0h1m8.9 .4h1m-64.6 .7h1m9.1 .4h1m32.6-.3h1m4.7 0h1m12.9 .1h1m8.2 .1h1m3.4-.3h1m-74.9 1.5h1m32.1 .1h1m32.5-.3h1m2.5 0h1m6.8-.1h1m-83.2 1.2h1m17.6 .1h1m2.2 0h1m1.7-.2h1m12.8 .2h1m27.4 0h1m14.1 .1h1m-79.9 1h1m6.4-.9h1m2.7 0h1m34.8-.1h1m4.1 .9h1m4.9-.8h1m17.9-.1h1m.5 1h1m1.5 0h1m-78.3 .1h1m3.8 .1h1m15.9 0h1m-20 .8h1m26.6 0h1m1.4 .2h1m.5-.1h1m3.5 .1h1m2.2 0h1m5.8 0h1m6.3 .1h1m18.4-.1h1m-58.1 1.3h1m.4-.3h1m1.1 0h1m.3-.1h1m2.5 .4h1m8.3-.4h1m1.3 .3h1m1.1 .2h1m38-.2h1m-84.3 .9h1m1.6 .2h1m20.7-.2h1m0 .1h1m1.2 .3h1m15.3-.4h1m5.9 .1h1m-53.3 1.2h1m7.1 .1h1m.2-.1h1m2.2-.2h1m9.2 .3h1m.2-.1h1m43.8-.1h1m-61.3 1.2h1m6.1 .2h1m1.2 .1h1m11.8 0h1m7.8-.2h1m.6 0h1m4.8 .1h1m20.8-.3h1m6.8 0h1m2.4 .2h1m5.1 0h1m-90.5 .9h1m36.9 .1h1m9.5 .2h1m-47.1 .1h1m-.4 .8h1m2.6 .1h1m13-.1h1m19.2 .1h1m24.6 0h1m16.3 0h1m-84.8 .2h1m22.9-.2h1m3.8 .1h1m37.9 .2h1m.2 0h1m18.6 0h1m1.1-.1h1m-91.3 1h1m7.4-.2h1m3.6 .4h1m17.1 .1h1m22.2-.3h1m1-.1h1m26.9-.1h1m.1 .1h1m-82.1 1.3h1m6 .2h1m3.3-.1h1m6.1-.1h1m7-.2h1m8.1 0h1m5 .4h1m1-.2h1m.2 .2h1m2.7-.4h1m20.5 0h1m6.1 .3h1m2.5-.2h1m.1 .2h1m3.4 .1h1m-74.9 .7h1m4.5 .4h1m.4-.2h1m3.6 .1h1m10.6 .1h1m7.9-.2h1m17.6 .1h1m4.9-.1h1m9.4-.1h1m-60.7 1.5h1m15.2-.1h1m4.8-.3h1m8.1 .1h1m2.6 .2h1m13-.2h1m16 0h1m-87.6 1.3h1m16-.1h1m38-.1h1m10.7 .3h1m.3-.4h1m-.1 0h1m3.6 0h1m6.1 .4h1m-83.3 .8h1m9.7-.8h1m1.9 .8h1m6.8-.7h1m13 .8h1m4.5-.8h1m15.7 .8h1m13.8 0h1m3.5 0h1m.9-.8h1m.3-.1h1m-64 1.1h1m30.2 .1h1m-25.9 1h1m36.9-.1h1m5.1 .1h1m9.3-.1h1m6.9 .3h1m-86.9 .8h1m21 .2h1m10.5 .1h1m-14.3 1h1m35.9 .1h1m4.9 0h1m1.3-.2h1m.2 .1h1m5.6 0h1m2.7-.1h1m5.6 .2h1m-84.2 .8h1m1.5 0h1m47.1 .4h1m-50.7 1h1m7.7 0h1m6.3-.1h1m9.1 .2h1m3.9-.1h1m17.2 .2h1m1.2-.2h1m-25.5 1h1m3.7 0h1m30.8 .1h1m-50.6 1.1h1m57.6 0h1m1.9-.9h1m-64.9 1h1m27.5 0h1m13 0h1m5.6 0h1m7.1 0h1m7 0h1m.3-.1h1m7.2 .1h1m-83.1 1h1m5.6 .2h1m1.4-.2h1m39.1 0h1m7.2 .3h1m-50 1.2h1m.3-.3h1m0 0h1m26.9 .1h1m11.3 0h1m1.2-.2h1m6.4 .1h1m1.1 .1h1m4.5-.3h1m5 .2h1m3.5 0h1m-74.9 1.4h1m12.7-.2h1m.3 .2h1m13.7-.3h1m25.3 .1h1m3.9 .2h1m7.9-.2h1m5.1-.2h1m-38.5 1.5h1m22.8 0h1m-30.3 1h1m5.1 0h1m26.6 .1h1m2.6 0h1m-15.4 1h1m14.8 0h1m-47.4 1h1m12-.8h1m4.6 0h1m6.6 .9h1m2.7-.1h1m-36.8 .4h1m46-.1h1m-37.1 .9h1m9.5 .4h1m22.9-.1h1m-42.8 .8h1m16 .1h1m17.7 .3h1m15.1-.2h1m-50.9 1h1m7 .1h1m15.9 .2h1m2.4-.4h1m-9.5 1.6h1m1.6-.2h1m.1-.1h1m-24.8 1.3h1m7.6 1h1m10.6 0h1m1.9-.8h1m-1.5 1h1m16 .1h1m-23.5 .9h1m19.9 .3h1m2.6-.3h1m-14.5 1.3h1m6.1 .1h1m-15.4 1.1h1m6-.1h1" stroke="#F0A07A" stroke-width="1.15" fill="none"/>
<path d="M568.5 444.1h1m8.2 .1h1m5.9 0h1m6.8-.2h1m5.8 .4h1m8.5-.1h1m-.1-.1h1m.2-.1h1m2.7 0h1m-34.9 1.2h1m38 .1h1m1-.2h1m-51.8 1.1h1m3.9-.8h1m42.5 .8h1m.5-.8h1m-38.5 1.1h1m-22.3 1h1m4.3 1h1m10.5 .1h1m2.5 .3h1m8.1-.1h1m2.7-.1h1m6.8-.3h1m13 .1h1m5.7 .3h1m1.3-.1h1m-58.1 1.2h1m10.5-.1h1m-15 1.1h1m14.8-.2h1m14.2 .1h1m4.7 .1h1m20.8 .2h1m.3 0h1m-.1-.3h1m1.3 .3h1m8.1 0h1m-78.5 1.2h1m1.6-.3h1m-.3 .2h1m69.3-.2h1m2.7-.1h1m-78.8 1.4h1m3.7 .1h1m41.3-.3h1m-13.3 .3h1m6.9 .1h1m-34.9 .9h1m10.5 .1h1m25.5 .1h1m5.9-.1h1m9.2 .1h1m25.4-.1h1m-60.2 .9h1m41.6 .1h1m14.1-.1h1m-.1 .2h1m-13 1.1h1m-49.8 1h1m50.9 .3h1m8-.3h1m-76.3 1.1h1m0 .2h1m4.8-.1h1m23.2-.1h1m16.5 0h1m-33.9 1.3h1m2.5-.1h1m3.3 .1h1m30 .1h1m11.9-.1h1m7.9 0h1m-46 1.3h1m-39 0h1m40.7 .9h1m3.4-.8h1m-.3 0h1m2.2 .8h1m-27.5 .3h1m51.9 0h1m-68.1 1h1m29.9-.2h1m23.1 .2h1m-65.1 1.4h1m14.2-.3h1m18.6 .3h1m-43.2 .7h1m8.2 .1h1m12.9 0h1m10.4-.1h1m1.5 .1h1m10.7 .3h1m37.7-.2h1m-70.5 1.2h1m3.9 .1h1m17.2-.2h1m14 .2h1m-49.9 1.1h1m12.7-.1h1m12.7-.1h1m2.8 .2h1m41.2-.1h1m-25.5 1h1m-.7-.8h1m-51.7 1h1m33 .1h1m7.7 .8h1m14 .1h1m10.4-.1h1m-63 .3h1m9.5 .1h1m35.7-.3h1m-42.9 1.1h1m13 .2h1m36.7 0h1m-72.6 1h1m35.7 0h1m20.3 1.4h1m-42.2 1.1h1m64.6-.2h1m-66.8 1.2h1m8 0h1m3.4-.1h1m-24.2 1.2h1m-6.8 .3h1m2.3-.2h1m8.3 0h1m76.2 .2h1m-56.8 1.1h1m14.8 .1h1m34.8-.3h1m-40.7 1.3h1m5.9 .1h1m8.4-.4h1m23 .4h1m-55.6 1h1m-.6 .9h1m12.7 .4h1m7.2-.1h1m6 .1h1m2.5-.2h1m3.9 1.3h1m-64.8 1.1h1m62.4 0h1m2.7-.3h1m-66.5 .3h1m44.6 0h1m9.7 .1h1m5.1 .8h1m15 .2h1m-79.7 1.2h1m.4 0h1m7-.3h1m50.6 .1h1m2.5 .2h1m-51.1 1.3h1m6.1 0h1m37.8-.1h1m10.6 0h1m-42.8 .9h1m24.3 .2h1m25.4 0h1m-46.7 1.1h1m15.2-.3h1m9.2 .1h1m-17.6 1.5h1m22.3-.3h1m-31.8 1.2h1m11.8 0h1m-18.3 .3h1m6.2 0h1m-.5 .7h1m5.8 .1h1m-5.6 0h1m4.2 1.2h1m2.3 .3h1m9.5-.3h1m13.4 1.1h1m-52.4 1.3h1m23.3 .1h1m7 .1h1m8.7 .7h1m-37.5 2.3h1m5.3 1.4h1m22 .1h1m2.4 0h1m-21.2 .8h1m.2 .2h1m-1.5 1.4h1m2.2-.2h1" stroke="#D8664C" stroke-width="1.15" fill="none"/>
<path d="M592.4 443.2h1m-3.4 .7h1m3.7 .2h1m8.3 .2h1m.2 0h1m-7.5 .8h1m3.9 .2h1m9.2 .1h1m0-.1h1m-40.7 1.1h1m.1 0h1m30.5-.2h1m18.2 .3h1m-29.4 .1h1m25.6 .8h1m5.4-.8h1m1.3 0h1m-69.5 1.1h1m7 0h1m7.2 0h1m3.8-.1h1m3.6-.1h1m5.8 .1h1m2.3 .1h1m28.1 .1h1m4.6 0h1m-61.4 .8h1m8.2 .1h1m.3 .3h1m-.2-.3h1m14.3-.1h1m12.7 .2h1m10.6-.1h1m7.1-.2h1m-70.7 1.5h1m19.5-.1h1m10.7 .1h1m11.5 .1h1m1.3 0h1m9.5-.2h1m0-.1h1m1.5 .2h1m1.2-.3h1m-.1 .2h1m-67.9 1.3h1m11.5-.1h1m-.1-.1h1m8.3-.1h1m2.5 0h1m3.4 .4h1m9.4 0h1m1.4-.3h1m4.8 0h1m.2 0h1m13.9-.1h1m2.3-.1h1m8.5 .1h1m-79.7 1.3h1m4.5-.1h1m6.1 .2h1m4.6-.2h1m3.9-.1h1m5.4 .1h1m3.8 .1h1m7.3 .1h1m14.8 0h1m5.8 .1h1m.1-.2h1m1.6-.2h1m1.4 .2h1m1.4 .1h1m-74.2 1.1h1m4.6-.3h1m19.6 .2h1m3.6 .2h1m10.8 0h1m.2-.2h1m3.3-.2h1m1.5 .1h1m15 .2h1m1.2 0h1m3.5 .1h1m4-.3h1m-52.5 1.1h1m2.7 .2h1m8.2-.2h1m.1 0h1m7.1 .1h1m18-.8h1m-.7 .8h1m12.5-.8h1m3.1 .8h1m-86.3 .3h1m3.8 0h1m15.9 0h1m1.9 .8h1m.5 0h1m6.5-.8h1m28.1 .8h1m12-1h1m5.3 1h1m.9-.8h1m-88.8 .9h1m-.2 .1h1m.6 0h1m8 0h1m4.6 .2h1m6-.2h1m2.4 .1h1m4.9-.2h1m30.9 .2h1m1.7-.1h1m23.1 0h1m-74.3 1.1h1m4.9-.2h1m4.8 .2h1m2.6 .2h1m5.7-.2h1m4.9-.2h1m1.2 .3h1m1.2-.2h1m2.4 .3h1m3.5-.1h1m.6-.2h1m4.4 .2h1m9.2 .1h1m10.5-.3h1m1.6 .3h1m-87.7 1h1m8.1-.2h1m2.1 .2h1m7.2 .1h1m10.8-.2h1m19.5-.1h1m2.2 .2h1m1.7 .2h1m12.6-.3h1m9.3-.2h1m-81 1.4h1m4.8-.1h1m.2 .2h1m3.7 0h1m13 .1h1m12.5-.2h1m4.9 0h1m2.2-.2h1m.2 0h1m5.1 .2h1m-36.2 1.1h1m8.1 .3h1m0-.5h1m.4 .1h1m13.9 .3h1m1.4-.2h1m16.3 0h1m4.7 .3h1m9.1-.1h1m-66.9 1.1h1m2.6 0h1m29.8-.1h1m9.3-.2h1m6.9 .2h1m.3-.1h1m-69.4 1.1h1m3-.8h1m10.6 0h1m-.3 .9h1m2.1-.2h1m.3 0h1m29.2-.7h1m2.2 .7h1m1.9-.7h1m5.2 .8h1m3.9 .1h1m-75.1 .2h1m50.6 .8h1m-.4-.7h1m1.1-.2h1m10.3 .2h1m21.2-.1h1m-.5 .8h1m-75.7 .1h1m10.5 .2h1m4.6-.2h1m11.8 .3h1m12.8-.2h1m2.3 0h1m4.9 .1h1m13.7-.1h1m7.2 .2h1m-88 1.1h1m12.7-.1h1m4-.3h1m2.1 .1h1m2.5 .1h1m12 .2h1m6.8 0h1m14.2-.3h1m3.6-.1h1m1 .5h1m1.3-.4h1m1.4 .3h1m13-.1h1m-74.2 .9h1m3.6 .2h1m8.2 .1h1m13.9-.3h1m3.4 .3h1m10.6-.1h1m9.6-.2h1m1.2 .4h1m5.6 0h1m1.8-.4h1m2.3 .3h1m-74.3 1.2h1m9.8-.1h1m32.1 .1h1m3.6-.2h1m1.5 .3h1m6.7-.5h1m1.6 0h1m5.5 .2h1m-67.8 1.1h1m-.3 .3h1m2.9-.2h1m2.4 0h1m-.1-.1h1m.1 .2h1m.3-.2h1m2.3 0h1m1.5 0h1m1.2 .2h1m11.5 0h1m14-.3h1m.1 .1h1m.3 0h1m4.9 .1h1m1.3 0h1m4.7-.1h1m-78 .3h1m7.6 .7h1m11.6 .1h1m1.1 .1h1m4-.2h1m1.3 0h1m2.3 .1h1m17.5-.1h1m4.4 .1h1m.1 .1h1m20.9-.1h1m-79.2 .3h1m6.7 .8h1m10.8-.9h1m1.5 .2h1m25.7-.1h1m-.9 .8h1m9.7 .1h1m-.3-.9h1m10.3 0h1m3.6 .1h1m-26.7 1.1h1m1.2-.2h1m0 .1h1m3.4-.1h1m6.4 .1h1m3.4 0h1m3.5-.1h1m-65.7 1h1m2 .2h1m2.5 0h1m2.7-.1h1m7.1-.1h1m9.4 .3h1m8 0h1m.1 0h1m3.5-.2h1m.3 .1h1m3.8-.3h1m0 0h1m1.3 .1h1m-.1 .4h1m.3-.1h1m.4 0h1m1 .1h1m.1-.2h1m7.2-.1h1m8.1 0h1m-74.1 1.1h1m1.4 .3h1m2.5-.2h1m.4-.2h1m-.1 .2h1m13.9-.1h1m18.4 .1h1m2.5 .2h1m.2-.4h1m3.5 .4h1m2.6-.4h1m6.1 .1h1m10.3 .1h1m-88.7 .9h1m20.6 .4h1m3.4-.1h1m5 .2h1m9.1-.2h1m11.9 .1h1m.3-.2h1m1 .3h1m4.8-.2h1m5 0h1m-.2 0h1m4.9 .1h1m3.6 .1h1m-76.5 .8h1m7.5 0h1m0 .2h1m.1 .1h1m.3-.1h1m5.8-.1h1m.2 .1h1m.1 0h1m11.6-.1h1m3.7-.1h1m1.1 .2h1m10.6-.3h1m1.2 .3h1m2.7-.3h1m.1 .4h1m1-.4h1m2.9 .3h1m-70.6 .9h1m5.8 0h1m1.4 .2h1m3.1-.1h1m9.7-.2h1m26.4 .2h1m2.5 0h1m8.2 .2h1m4.9-.2h1m-58.9 1h1m33.5 .1h1m7.9-.1h1m2.2 .2h1m6.1 0h1m-68.7 .1h1m20.8-.1h1m8 .2h1m12.2 .8h1m14.1 0h1m-.5-.8h1m3 .8h1m-.5-1h1m7.2 .2h1m1.7 .8h1m-62.7 .2h1m-.2 0h1m.4 0h1m-.1 .2h1m1.5-.4h1m10.4 .2h1m15.4-.1h1m17.2 0h1m2.6 0h1m10.2 .2h1m5-.1h1m-83.1 1h1m2.4 .2h1m7-.1h1m.1 0h1m0 .1h1m29.2-.1h1m7.9 0h1m10.7 0h1m0-.1h1m2.7-.1h1m0 .3h1m.3 .1h1m-68.3 1.1h1m5.8-.3h1m2.3 .3h1m1.4 .1h1m5.8-.1h1m5.9 .1h1m10.5-.4h1m2.6 .1h1m4.5 .2h1m7.3-.3h1m9.1-.1h1m.3 .5h1m12.9-.4h1m-80.8 1.4h1m6.7 .1h1m1.4-.4h1m1.2 .1h1m11.6 .2h1m29.3-.3h1m-.2 .2h1m1.6 0h1m17-.2h1m-85.2 1.4h1m3.4-.1h1m6.1 .1h1m1 .2h1m7.5-.2h1m4.5 0h1m6.9-.1h1m.4-.1h1m3.7 0h1m14.8 .2h1m.1 .1h1m9.6 .1h1m2.3-.1h1m1.2 .1h1m4.8 0h1m.2-.5h1m-83.1 1.3h1m8.1 .1h1m43.7 .1h1m10.8-.2h1m11.3 0h1m1.5-.1h1m3.6 .3h1m-85.1 .1h1m4.8 0h1m16.2-.1h1m3.5 .1h1m2.6 0h1m7.8 .8h1m22.5-.8h1m-55.8 1h1m11.7 0h1m1.6 .1h1m11.4-.2h1m10.4 .2h1m7.9 .8h1m3.7 0h1m7.4-1h1m-40.4 1.3h1m11.4-.2h1m11.6-.1h1m10.7 .1h1m14 .1h1m2.2 .2h1m-69.2 1.1h1m10.4-.1h1m4.8-.1h1m12.8 .1h1m1.1-.2h1m6.1 0h1m2.5 .1h1m17.5 .1h1m2.4-.2h1m2.4 .3h1m-58.2 1.1h1m6 0h1m5 0h1m7.8-.3h1m9.6 0h1m2.6 .4h1m13.9-.1h1m0-.1h1m-54.5 1.2h1m13-.2h1m1.2 .1h1m2.5-.1h1m1.3 0h1m.1 .1h1m0 .2h1m2.7-.2h1m2 0h1m1.6 .1h1m.1 0h1m16.1-.3h1m1.3 .1h1m1.3 .2h1m-54.4 1.1h1m.5 .2h1m1-.2h1m1.1 0h1m2.8 .2h1m1.4-.4h1m-.3 .3h1m7.4-.3h1m-.2 .2h1m1.3-.2h1m1.7 0h1m2.2 0h1m5 .1h1m2.1 0h1m6.2 .2h1m-50 1h1m3.8 0h1m15.6-.9h1m2.7 .9h1m3.9-.2h1m-.1 .3h1m12-.1h1m3.5-.1h1m-48.8 1.1h1m14 0h1m4.7 0h1m4.4-.9h1m10 .1h1m2.7 0h1m12.8 0h1m-54.7 1h1m16.6 0h1m13.7-.1h1m15 .3h1m1.6-.2h1m-47.9 1h1m10.6 .3h1m.5 0h1m11.2-.1h1m22.1 .1h1m-54.1 1.2h1m3.3 0h1m2.5-.2h1m4.9-.2h1m-.2 .4h1m4.8-.4h1m7.5 .2h1m10.1 .2h1m1.5-.1h1m-30.5 1.1h1m5.9-.3h1m5.9 .1h1m10.8 0h1m13.9 .3h1m-51.3 1.1h1m6 .1h1m3.7-.4h1m4.8 .1h1m3.4 .3h1m3.4 0h1m7.5-.2h1m10.3 0h1m-45.1 1.3h1m2.3-.2h1m1.5-.1h1m2 0h1m3.9 .1h1m-7.7 .2h1m11.8 1h1m16.2-.2h1m6.1 .2h1m-.6-.9h1m-30.6 1.8h1m2-.7h1m16.4 .7h1m-30.9 .1h1m17.6 .1h1m8.1 .1h1m3.9 .1h1m-36.3 .8h1m3.6 .1h1m3.5 .3h1m.4-.1h1m3.7 .1h1m18.5-.3h1m-28.1 1.4h1m1.4-.1h1m.2-.1h1" stroke="#7FA3CE" stroke-width="1.15" fill="none"/>
<path d="M593.9 443.1h1m3.5-.1h1m.1 .1h1m-.2 .1h1m.4 0h1m9.2-.2h1m-41.3 1.2h1m1.4 0h1m4.8 0h1m15 .1h1m3.8-.2h1m.2 0h1m4.4 .1h1m-44.1 1.2h1m.1-.2h1m6.1 .1h1m3.5-.2h1m.5 .3h1m6.7-.1h1m.3 .2h1m.3-.3h1m5.8-.1h1m3.4 .2h1m4.7 .2h1m.5-.3h1m0 .2h1m20.7-.2h1m2.6 .2h1m-72.1 .1h1m6.4 .7h1m1.1 .1h1m4.7 .2h1m2.6-.3h1m.8-.7h1m.9 .9h1m9.1-.2h1m6.1 .2h1m8 0h1m.2-.1h1m13 0h1m-63.6 .3h1m.3-.1h1m12.7 .1h1m.9 .8h1m3.8 .1h1m17.4 0h1m7.8-.1h1m3.1-.9h1m.4 .2h1m3.4-.1h1m5.2 .8h1m5.1 .1h1m-52.9 .3h1m0-.1h1m3.8 0h1m5.9 0h1m5.8 .1h1m2.5-.2h1m1.4 .2h1m0 0h1m7.1-.1h1m-58 1.2h1m.1-.3h1m9.6 0h1m0 0h1m9.3 0h1m8.2 0h1m.1 .1h1m6.3-.2h1m4.7 .4h1m3.2 0h1m1.4 0h1m4.7-.4h1m.5 .1h1m3.3 0h1m2.6 .4h1m.1-.3h1m2.2 0h1m.3-.1h1m1.3 .4h1m0-.2h1m-74.7 .9h1m0 .1h1m1.2 .1h1m.1-.2h1m7.3 .4h1m2.3-.4h1m1.4 0h1m.2 0h1m.1 .1h1m-.1 .1h1m4.6 .1h1m2.7-.3h1m5.8 0h1m.4 .3h1m-.1-.2h1m15.4 0h1m0 .3h1m.1-.2h1m2.5-.1h1m1.2 .2h1m2.5-.3h1m.3 .3h1m-.1-.1h1m.1 .2h1m5-.2h1m-80 1.3h1m1.4-.2h1m18.5 .2h1m.3 .1h1m2.5-.5h1m6 .4h1m0 0h1m8.3-.2h1m1.3 .1h1m-.2 .1h1m.3-.1h1m.3 .2h1m5.7-.1h1m.3-.1h1m0 .1h1m9.5 0h1m1.4-.3h1m2.2 0h1m5.1 .2h1m1 0h1m-85.3 1.1h1m4.7 0h1m2.1 .1h1m.4-.3h1m.4 .1h1m4.4 .2h1m4.6-.1h1m.3-.1h1m1.5 .3h1m2.2-.4h1m7 0h1m4.9 .1h1m1.2 .3h1m1.5-.3h1m1.4-.1h1m2.5 .2h1m3.2 .1h1m.1 .1h1m2.9-.4h1m-.3 .3h1m5.2-.1h1m1.2-.2h1m8 .2h1m.3 .2h1m1.1-.1h1m.2 0h1m-85.6 1.1h1m1.6-.3h1m1 .1h1m5-.1h1m0 .2h1m.4 .2h1m1.1-.3h1m4.8 .2h1m1.5 0h1m1 0h1m.4 0h1m1-.3h1m8.1 .1h1m.5 .2h1m7.1-.1h1m.1-.2h1m5.6 .2h1m1.3-.1h1m12.9 0h1m.2-.1h1m4.7 .1h1m4.9 .3h1m2.4-.3h1m-84.5 1.3h1m0-.1h1m8.2-.1h1m6.8-.8h1m1.3 .1h1m-.3 .8h1m1.1 0h1m9.4 .1h1m25.5 0h1m-.1-.2h1m4.8 .1h1m5.6-.9h1m.6 .8h1m2.4 .1h1m4.5 0h1m0-.9h1m.5 .8h1m-91.9 .3h1m.2 0h1m.8 .8h1m.1 0h1m0 0h1m4.5-.8h1m0 0h1m6.5 .8h1m1.2 0h1m-.5-.9h1m.3 .2h1m2.6-.2h1m6.7 0h1m3.7 0h1m3.8 .1h1m2.2 .1h1m.4 0h1m-.2-.2h1m10.9 0h1m7.3 1h1m1.9-1h1m7 .1h1m.4 .1h1m-.6 .8h1m.8-.8h1m-83.3 .9h1m5.8 .1h1m1.4 .2h1m1.3-.3h1m9.6 .2h1m.2-.1h1m6.7 .2h1m2.4-.2h1m4.7 .1h1m2.5-.2h1m7.4 .2h1m.2-.2h1m.2 .1h1m3.4-.1h1m15.1 .2h1m0-.2h1m2.8 .2h1m1.2-.3h1m2.2 .4h1m3.7-.3h1m-94.5 1.3h1m-.1-.3h1m5 .3h1m5.7-.1h1m13.9 0h1m.4-.1h1m4.6 .3h1m1.4 0h1m4.5-.2h1m1.6 0h1m1 0h1m1.5-.2h1m1.2 0h1m4.7 .2h1m9.3-.1h1m1.2-.1h1m.4 0h1m9.3 0h1m0 .4h1m5.1-.3h1m-87.9 1.3h1m3.4-.2h1m2.7 .2h1m10.4 .1h1m.1 .1h1m1.5-.5h1m0 .2h1m0 0h1m.3 .3h1m7-.2h1m1.4 .1h1m4.8-.2h1m2-.1h1m.5 .2h1m.2-.1h1m0-.1h1m.1 .3h1m.1-.4h1m6 .1h1m2.3 .4h1m5-.4h1m12.8-.1h1m0 .4h1m2.7-.1h1m-.1 0h1m1.4-.1h1m-92.5 1.2h1m7.2-.1h1m10.2-.1h1m.5 .1h1m1.2 0h1m.3 .1h1m.1-.2h1m-.1 .2h1m.4-.1h1m0-.1h1m-.1 .4h1m2.9 0h1m.1 0h1m7.8-.4h1m7 0h1m4 .4h1m6.9-.2h1m4.7 .2h1m2.3-.3h1m9.4 .2h1m.4-.2h1m0-.1h1m.4 0h1m-88.1 1.4h1m6.1-.3h1m2.6 0h1m1 .1h1m.2 0h1m.1 .1h1m.1 0h1m.2 .2h1m3.5-.2h1m.3-.1h1m.1 0h1m1.2 0h1m1.4 .3h1m11.5 0h1m3.6 0h1m10.6-.4h1m2.5 .2h1m1.6 0h1m-.1 .3h1m13.8-.2h1m8.4-.3h1m-91.4 1.5h1m4.9-.3h1m1.4 .1h1m9.1 0h1m1.5-.1h1m6.8 0h1m1.2 .1h1m13 .1h1m-.1-.2h1m2.8 .2h1m16.1 .1h1m12.7-.3h1m7.2 0h1m1.3 0h1m-89.7 .3h1m10.3 .8h1m11.4 .1h1m3.1-.8h1m2.4-.1h1m2.5 0h1m2.4 .1h1m-.5 .8h1m2.4 0h1m7.1 0h1m8.7-.8h1m.4 0h1m15 0h1m1.1 0h1m7.2-.1h1m-74.9 1.2h1m4.6 0h1m11.6-.1h1m2.4 .1h1m8.1 .1h1m.1-.2h1m13 .1h1m3.6 0h1m7.8 .8h1m11.9-1h1m-87.5 1.4h1m-.2 0h1m1.3-.1h1m1.3-.2h1m3.9 .1h1m1-.1h1m.5 0h1m3.6 .3h1m2.3-.2h1m1.1-.1h1m.2 .3h1m1.5-.2h1m2.6-.2h1m19.4 .3h1m1.3 0h1m.4 .1h1m3.6-.1h1m4.6-.2h1m2.2 .3h1m.2-.3h1m8.2 .2h1m5.1-.2h1m-85.5 1.2h1m0 .2h1m3.5 .1h1m2.5-.1h1m1.1-.3h1m1.3 .1h1m.4 .2h1m4.9-.1h1m17.1 0h1m11.5-.1h1m5 .2h1m1.2-.1h1m7-.2h1m6.1 .1h1m1.1 0h1m.5 .3h1m2.4-.3h1m0 .2h1m-84.2 .9h1m2.1 .2h1m4.9 .1h1m1.3-.4h1m6.1 .3h1m.2-.3h1m.1 .3h1m4.5 0h1m9.4-.3h1m6.9 .1h1m8.3 .1h1m4.7-.1h1m.1 .3h1m3.9-.2h1m0 .2h1m.3-.4h1m1.3 .2h1m5.8-.2h1m1.4 0h1m2.4 .4h1m1.4-.4h1m-87.1 1.3h1m.2 .2h1m.1-.1h1m7.5 .1h1m2.1 0h1m2.7-.4h1m.1 .4h1m2.2-.1h1m.2 0h1m8.4-.2h1m4.6 .1h1m2.4 .2h1m3.9-.4h1m1.1 .3h1m1.1 0h1m11-.1h1m.8-.2h1m1.3 .3h1m.4 .2h1m-.1-.1h1m.5 0h1m.2 0h1m7-.1h1m.2-.1h1m.1 .1h1m2.5 .1h1m-54.5 1.1h1m4.5 .1h1m.3-.4h1m5.7 .2h1m.2 .1h1m7-.3h1m1.6 0h1m2.1 .4h1m6.4-.3h1m0 0h1m0 .1h1m13.9 .1h1m1.1-.3h1m-81.6 1.3h1m.6-.9h1m5.4 .8h1m2.9-.8h1m-.4 .9h1m0 0h1m1.5 0h1m4.5-.1h1m2.4 0h1m14.3-.1h1m.2 0h1m14.9 .2h1m1.2 0h1m.4-.1h1m-.2 .2h1m.2-.2h1m.3 0h1m.3 .1h1m0 0h1m-.1 0h1m5.2 0h1m-76.7 1h1m6.8-.8h1m2.7 .9h1m4.4-.8h1m-.7 .7h1m29.5-.8h1m9.4-.1h1m7.6 .9h1m1.6 0h1m.8-.8h1m5.7 .1h1m-81 1.1h1m7.3 0h1m-.2-.3h1m5.9 .1h1m.2 .2h1m2.4-.1h1m2.4 .1h1m.4 0h1m7.1 0h1m.2-.1h1m9 .1h1m3.8-.2h1m7.2 .2h1m0 0h1m10.5 0h1m2.4 0h1m9.2-.2h1m-76 1h1m4.5 .3h1m1.3-.3h1m2.8-.1h1m-.2 .5h1m1.7-.4h1m-.2 .3h1m.1-.3h1m.2 .3h1m.2-.3h1m17.4 0h1m5.9-.1h1m3.8 .2h1m.1 .2h1m-.1-.2h1m2.5 .2h1m8.3-.2h1m-.1 .2h1m3.7-.1h1m-81 1.3h1m6.3 0h1m8-.4h1m1.2 0h1m1.5 .4h1m4.5-.3h1m.1 .3h1m6.2 0h1m20.6-.2h1m.2 .2h1m.5-.1h1m1.2-.3h1m.2 .2h1m2.3-.2h1m.1 .2h1m.4 .1h1m1.1-.1h1m.2 0h1m2.1 .2h1m12.1-.2h1m-83.6 1.3h1m1.4-.3h1m.5-.1h1m.1 .1h1m1.1 0h1m0 .1h1m.3 .2h1m1.2 .1h1m.1-.1h1m.4-.1h1m0-.2h1m2.7 .2h1m1.2-.3h1m1.4 .1h1m2.3 .1h1m1.4 0h1m7.1-.1h1m10.3 .4h1m5.9-.3h1m1.5-.2h1m-.3 .1h1m.5 .1h1m3.5 0h1m0 .2h1m3.8 .1h1m2.3-.1h1m1.4-.1h1m3.5 .2h1m-85.4 1.1h1m.3-.2h1m0-.2h1m1.1 .1h1m.3-.1h1m3.5 .3h1m.1-.3h1m.4 0h1m.1 .1h1m5.9 .1h1m1.1 0h1m.3 .1h1m.1 .1h1m3.5-.3h1m1.3 .2h1m3.9-.3h1m6.8 .1h1m5 .2h1m.2 0h1m2.5 .1h1m.9-.3h1m.3 .3h1m1.4-.3h1m1.1 .2h1m.5 .1h1m2.4-.2h1m2.2 0h1m1.6 0h1m-.3 .1h1m8.5 0h1m3.3-.1h1m-83.1 1h1m.3 0h1m7 0h1m2.5 0h1m.2 0h1m1 .3h1m1.6-.3h1m.3 .2h1m6.6-.2h1m8.6 .1h1m8-.1h1m5.7 .2h1m.3 0h1m.2 0h1m.1 .1h1m1.5-.3h1m5.5 .1h1m10.6 0h1m1.4 .2h1m2.6-.3h1m-80 1.1h1m7.1 .1h1m1.2-.1h1m.5 .2h1m2-.2h1m15.8-.8h1m11.2 .8h1m4.6 .1h1m3-.8h1m3 .7h1m1.3 .1h1m.3 0h1m5.7 .1h1m1.6-.1h1m3.1-.9h1m1.8 .9h1m-80.8 1.1h1m4.2-.8h1m2.3-.1h1m2.2-.1h1m3.7 .2h1m.7 .7h1m.5 .1h1m18-.9h1m3.3-.1h1m4.8 .2h1m.8 .8h1m4.2-.8h1m-.4 .7h1m-.3-.9h1m.9 .1h1m-57.8 1.1h1m1.5 0h1m5.8 0h1m1.2 0h1m.2 .1h1m1.5-.1h1m4.4-.2h1m6.1 .2h1m3.7 .1h1m8.1-.1h1m1.1 0h1m8.2 .1h1m5 0h1m3.6-.2h1m-70.7 1.1h1m8 .1h1m1.4 .2h1m3.9 0h1m0 0h1m1.2-.2h1m.1 0h1m.5 .2h1m-.2 0h1m1.6-.2h1m-.3 0h1m19 .2h1m3.6 0h1m4.7-.2h1m1.4 .2h1m.2-.2h1m0 .2h1m-.1 0h1m.3 0h1m.2-.3h1m10.5-.1h1m1.2 .2h1m3.6 0h1m-70.6 1.1h1m.3 .3h1m3.6-.1h1m.2-.2h1m-.2 0h1m17.8 .3h1m1.2-.3h1m6-.1h1m5.9 .1h1m0 0h1m5.8-.1h1m0 .2h1m.5 0h1m7.8-.1h1m.2-.1h1m-77.1 1.5h1m13.6-.2h1m1.7 .2h1m1.1-.4h1m0 .3h1m8.1-.1h1m2.6 0h1m.1 0h1m8.3-.2h1m6 .4h1m.1-.1h1m.2-.3h1m.1 .4h1m2.2-.3h1m4.8-.1h1m8.4 .1h1m2.3 .2h1m3.5-.3h1m-79.3 1.4h1m11.2 .1h1m3.7-.2h1m2.7 .1h1m6.8 .2h1m6.2-.5h1m-.3 .1h1m2.7-.1h1m-.1 0h1m7.1 .3h1m1.6-.2h1m0-.1h1m4.8 .4h1m-.1-.4h1m.4 0h1m2.4 .5h1m4.8 0h1m3.7-.3h1m0-.2h1m3.6 .3h1m-79.5 1.1h1m20.6 0h1m9.3-.2h1m21 .1h1m12.9 .1h1m1-.1h1m10.4 .2h1m-75.7 0h1m.8 .9h1m9.9-.8h1m2.1 .8h1m18-.8h1m6.8 0h1m15.4 0h1m.2-.1h1m5.3 1h1m-75 0h1m2.7 .2h1m13.9-.2h1m12.2 1h1m5.5-1h1m3.6 .3h1m1.2-.1h1m1.1 0h1m9.4 0h1m23-.1h1m-85.3 1h1m6 .1h1m5.8-.2h1m9.5 .2h1m.2 .2h1m6.8 0h1m9.7-.4h1m0 0h1m-.1 .4h1m.1-.4h1m.1 .3h1m.2 0h1m1.5-.1h1m3.6 .2h1m4.6 0h1m-61 .8h1m22.7 0h1m8.6 .3h1m.9-.1h1m.2-.2h1m1.4 .3h1m.2-.3h1m1.1 .2h1m2.6 .2h1m1.4 0h1m.2-.3h1m1.4-.1h1m2.1 .1h1m13.9-.1h1m5.9 .2h1m-71.6 1.2h1m.2 0h1m6.1 0h1m1.3-.1h1m6.6 0h1m3.6-.1h1m1.6 .3h1m3.7 0h1m.1 0h1m1.4 0h1m0-.4h1m0 .3h1m.3-.3h1m-.1 .1h1m.3 .1h1m.2 .2h1m1.4-.1h1m-.1 0h1m.5-.1h1m1.4 .1h1m-.1 0h1m3.5 0h1m12.8-.1h1m1.4-.1h1m4.7-.1h1m-50.8 1.4h1m2.3 .1h1m.2-.3h1m2.3 .2h1m1.2-.1h1m2.6-.1h1m3.4 0h1m.2 0h1m8.5-.1h1m1.2 .2h1m4.5 .1h1m5 .2h1m2.6-.3h1m-52.4 1h1m5 .4h1m1.3-.3h1m5.6 0h1m.2-.1h1m1.4 0h1m4.8 .3h1m1 0h1m1.3-.2h1m12 .3h1m9.4-.1h1m-.2-.3h1m1.4 .4h1m-54.4 1h1m1.5 0h1m4.5-.1h1m1.2-.1h1m5-.1h1m-.2 .2h1m.5 .1h1m5.8 0h1m21.5-1h1m-53.5 1h1m6.7 .9h1m5-.9h1m2.5 .1h1m-.1 .9h1m4.9-.9h1m3.1 .8h1m4.3-.9h1m11.7 0h1m8.6 1h1m-43.2 .1h1m.1 .1h1m-.2-.2h1m7 .3h1m.3-.2h1m1.4 .1h1m1.5 0h1m1.3 .1h1m1-.1h1m8.1-.2h1m4.9 .2h1m-48.6 .9h1m2.2 0h1m2.5 .3h1m3.6-.1h1m.4-.1h1m.1 .2h1m-.1-.3h1m.1 .3h1m2.5-.3h1m1.5 .1h1m-.1 .2h1m.3 0h1m1.5 0h1m0 0h1m1.4-.2h1m2.4 .2h1m1.4-.2h1m9.2-.1h1m5.8-.1h1m-44.2 1.6h1m.2-.2h1m1.5 0h1m2.3 .1h1m.3 .1h1m.3-.4h1m2.1 0h1m.2 .1h1m.3 .1h1m-.1 .1h1m.5-.2h1m0 .2h1m1-.3h1m.2 .4h1m2.6-.4h1m1.6 .2h1m11.5 .2h1m-44.3 .8h1m7.3 0h1m.1 .4h1m-.2-.4h1m.4 0h1m0 .3h1m1.4 .1h1m.2-.1h1m-.1 .1h1m.5-.5h1m2.2 .1h1m1.2 0h1m16.3 .3h1m.3 .1h1m.4-.4h1m1 .4h1m-52.2 1.1h1m.5-.4h1m1.1 .4h1m5.9-.1h1m.1 0h1m.1 0h1m1.5 0h1m.3 0h1m-.2-.2h1m.3 .2h1m1.1-.2h1m0 .2h1m4.9-.2h1m1.5-.1h1m12.9 0h1m.9 .3h1m3.9-.3h1m-39.4 1.1h1m1 .2h1m.3 0h1m.2-.2h1m1.1 .3h1m.4-.1h1m.1-.2h1m1.2 .1h1m3.8 0h1m2.5 0h1m0 .2h1m3.5 0h1m1.3-.3h1m7.3 0h1m-42.2 1.4h1m1.7-.2h1m6.9 .1h1m.2 0h1m0 0h1m.4 .1h1m.3-.9h1m1.7 0h1m.5 .8h1m4.6 0h1m1.6 .1h1m1-.2h1m1.6 .1h1m-36.8 .3h1m.1-.1h1m6.8 0h1m1.8 .1h1m.1-.1h1m4.2 .8h1m2.1 0h1m2.1-.7h1m4.4-.1h1m1.5 .1h1m3.6-.1h1m-35 1h1m7.3 .2h1m0 0h1m.1-.3h1m.4 .1h1m4.7-.1h1m1.2 .2h1m2.6 .1h1m.9-.2h1m.5 .2h1m9.2-.2h1m-35.1 1.2h1m5 0h1m7.2-.1h1m-.2-.1h1m7.2 .2h1m1.2-.1h1m.2 0h1m.1 0h1m2.4 .3h1m-27.8 1h1m10.7-.2h1m0 .1h1m.1 .2h1m.1-.4h1m.3 .1h1m1.2 .2h1m0 0h1m1.6-.2h1" stroke="#5D8DC2" stroke-width="1.15" fill="none"/>
<line x1="557.5" x2="652" y1="463.4" y2="463.4" stroke="#EEF0F4" stroke-width="1.1"/>
<line x1="557.5" x2="652" y1="484.4" y2="484.4" stroke="#EEF0F4" stroke-width="1.1"/>
<text x="580.0" y="438.2" font-size="10.6" fill="#1a1a1a" text-anchor="start" textLength="52.8" lengthAdjust="spacingAndGlyphs" stroke="#1a1a1a" stroke-width="0.22">Gm42418</text>
<text x="660.8" y="450.7" font-size="9.3" fill="#1a1a1a" text-anchor="start" textLength="46.0" lengthAdjust="spacingAndGlyphs" stroke="#1a1a1a" stroke-width="0.22">Expression</text>
<rect x="670.0" y="454.4" width="8.8" height="44.8" fill="url(#cbv)"/>
<text x="683.0" y="465.9" font-size="6.9" fill="#444" text-anchor="start" textLength="9.5" lengthAdjust="spacingAndGlyphs" >7.5</text>
<text x="683.0" y="477.8" font-size="6.9" fill="#444" text-anchor="start" textLength="9.5" lengthAdjust="spacingAndGlyphs" >5.0</text>
<text x="683.0" y="489.6" font-size="6.9" fill="#444" text-anchor="start" textLength="9.5" lengthAdjust="spacingAndGlyphs" >2.5</text>
<text x="683.0" y="501.4" font-size="6.9" fill="#444" text-anchor="start" textLength="9.5" lengthAdjust="spacingAndGlyphs" >0.0</text>
<rect x="557.2" y="540.3" width="98.2" height="62.4" fill="#F5F5F5"/>
<path d="M562.2,541.3 L575.0,540.9 L600.0,540.7 L615.5,540.6 L618.4,542.0 L623.0,542.9 L627.0,543.5 L632.8,542.0 L637.1,545.6 L644.3,548.5 L651.5,551.4 L653.7,553.6 L651.5,556.4 L650.8,566.5 L650.1,580.9 L648.7,588.1 L646.5,592.2 L644.3,595.3 L641.0,597.9 L637.1,599.7 L632.0,601.0 L627.0,601.8 L615.0,602.1 L605.4,601.8 L600.0,601.1 L595.3,599.7 L592.3,597.7 L590.3,595.3 L589.2,592.2 L588.9,589.6 L589.6,585.3 L586.5,586.7 L583.8,587.4 L578.0,587.7 L572.3,587.4 L568.3,586.6 L565.1,585.3 L562.6,583.3 L560.8,580.9 L559.4,576.7 L558.6,572.3 L558.2,565.7 L558.2,559.3 L558.6,554.7 L559.3,550.7 L560.2,546.7 L561.5,543.5z" fill="#5C95C4"/>
<path d="M574.1 540.9h1m24.5 0h1m12.5-.1h1m-26.2 .9h1m9.1-.1h1m2.5 .1h1m13.2 .1h1m-52.2 1h1m4.5 .4h1m9.6-.1h1m-.2-.2h1m21.1-.1h1m2.5 .1h1m6.9 0h1m1.2 .2h1m-53.1 1.2h1m17.1-.1h1m.2-.1h1m17.5 0h1m0 0h1m1.7 .2h1m6.7-.2h1m20 .2h1m-70.9 1h1m13.9 .1h1m11.7 0h1m11.7 0h1m-41.6 .9h1m6.3-.8h1m6.6 .7h1m27.5 .3h1m19.8-.3h1m-58.3 .5h1m5.6-.1h1m14.5 .8h1m6.7-.8h1m8.7 .8h1m-.2-.8h1m-41.9 .9h1m19.5 .1h1m13 .2h1m.2-.2h1m21.9 0h1m-68.2 1.1h1m0-.2h1m2.5 .2h1m8.1-.2h1m3.9 .4h1m2.4-.3h1m17.1 .1h1m3.5-.2h1m5 .1h1m-.1 .4h1m2.8-.4h1m1.2-.1h1m0 .4h1m16.6-.2h1m-74.4 1.2h1m3.7 .1h1m17.7 .1h1m10.1-.3h1m8.4 .3h1m12.6-.4h1m2.7 .2h1m0-.1h1m8.4 .1h1m1.2-.2h1m.1 .2h1m-69.5 1.1h1m24.5 .1h1m25.3-.3h1m.4 .2h1m4.5 .1h1m2.7-.1h1m-67.1 1.4h1m7-.2h1m17.5 0h1m14.7 .1h1m.2 .1h1m4.9-.1h1m16.4-.2h1m3.5 .1h1m4.9 .2h1m-72 .8h1m2.4 0h1m9.4 .1h1m14 0h1m.2 .1h1m16.1 0h1m4.9-.2h1m1.4 .2h1m11.3-.3h1m4.8 .2h1m3.8 .1h1m-82 1h1m16 0h1m2.5-.1h1m-.1 .1h1m28.1 0h1m20.9 0h1m2.3 0h1m-71.2 .2h1m16.5-.1h1m9 0h1m10.8 .1h1m1-.1h1m12.8 0h1m.5 0h1m4.5 .1h1m-70.7 1h1m21.1 .3h1m24.2-.2h1m7.3-.1h1m4.4 0h1m13.1 0h1m-74 1h1m10.3 .3h1m3.4 0h1m1.3-.3h1m5.2 0h1m41.5 0h1m5.7 .3h1m-70.4 .8h1m4.4 .1h1m1.5 .3h1m14.2 0h1m6.7-.3h1m42.8 .3h1m-89.2 1.2h1m2.8-.2h1m18.5-.2h1m8.3 .3h1m4.6-.1h1m2.2 0h1m29.1 .1h1m-53.2 1h1m15.9-.1h1m19.8 .3h1m8.4-.1h1m7.1 .1h1m8.3-.1h1m2.5 .2h1m-84.8 .8h1m10.6 .1h1m41.7-.2h1m-53.3 1.6h1m18.5-.2h1m16.1 0h1m8.1 0h1m16.9 .9h1m.1 0h1m1.1-.8h1m8.4 .8h1m-58.2 .1h1m54 .2h1m-78.7 1h1m6.3 0h1m1.1 .2h1m2.3-.2h1m8.3 .2h1m1.2 0h1m45.1 0h1m3.6-.3h1m4.6 .4h1m-70.4 .9h1m11.8 .2h1m9.3 0h1m7.9 0h1m6.3-.4h1m4.6 .2h1m5.9-.2h1m17.1 .1h1m.3 .1h1m-83.2 1.1h1m25.7 .1h1m19.4 0h1m12.7-.2h1m12.9-.1h1m1.4 .4h1m-38.6 1h1m.4 0h1m11.5-.2h1m4.7 .2h1m7.1-.1h1m-55.5 1.1h1m29.9 .2h1m10.7-.3h1m.1 .3h1m-54.1 .2h1m7.1 0h1m41.9-.1h1m12.5 .1h1m-71.6 .9h1m36.7 .1h1m5.2 .1h1m26.3-.2h1m-68 1.1h1m13.7 .1h1m0 0h1m7.4-.2h1m27.5 .1h1m7.2 .1h1m7 .2h1m9.2-.5h1m-64.5 1.3h1m11.3 .3h1m29.3 0h1m1.2 0h1m0-.4h1m-60 1.5h1m2.4 0h1m4.5 0h1m12.7 0h1m2.6-.2h1m7 0h1m19.8-.1h1m9.4 .1h1m1.2-.1h1m9.5 0h1m-61.3 1.4h1m6.8 .1h1m0-.3h1m4.9 0h1m2.7 .1h1m10.1 .2h1m3.9-.3h1m12.5 .2h1m.6 .1h1m9.1-.1h1m2.4 0h1m-85.3 1h1m9.2 0h1m16.4-.2h1m-.2 .3h1m28.1 .1h1m.1-.2h1m6 .1h1m7.8-.1h1m7.5 .2h1m-.2 0h1m-44.1 .8h1m19.6 .2h1m-53.9 .1h1m5 0h1m19.3 .9h1m-.7-.8h1m-36.3 1.1h1m9.7 0h1m4.8-.1h1m6.9 .1h1m14-.1h1m1.3-.2h1m19.8 0h1m5.6 .2h1m-71.4 1.1h1m0-.2h1m6.1 .1h1m4.7 .1h1m9.3 .2h1m20.9-.1h1m3.5 .1h1m6-.2h1m2.2-.1h1m6-.1h1m-62.8 1.4h1m13.3-.2h1m1.1 .2h1m19.6-.2h1m9.5 .4h1m11.8-.4h1m11.5 .3h1m-76.5 1.1h1m14.2-.1h1m3.4 0h1m4.9 0h1m21.7-.1h1m4 .1h1m9.2 .1h1m6-.2h1m-69.5 1.4h1m3.3-.3h1m10.6 .1h1m3.5 .2h1m7.1-.3h1m8.4 0h1m5.7-.1h1m26.5 .3h1m-53 .9h1m5.8 .1h1m24.4-.1h1m4.5 .2h1m18.7-.1h1m3.4 .2h1m-84.5 .1h1m32 0h1m21.6 .9h1m10.6-.1h1m8.1-.1h1m-56.4 .4h1m8.4-.1h1m7 .1h1m5.3 .8h1m1.2 0h1m-.2-.9h1m14 .2h1m-.5 .7h1m6.7 0h1m.1-.9h1m1.1 0h1m4 .9h1m.9-.7h1m1-.3h1m-58.8 1.2h1m2.6-.1h1m5.7 .1h1m6.8-.1h1m6.1 .2h1m22.3-.1h1m1.1 .1h1m-49.7 .9h1m25.2 .1h1m5.9 .1h1m2.5 .2h1m6-.1h1m-.1 0h1m8.4-.3h1m-47.5 1.2h1m1.1 .3h1m1.2-.1h1m16.5-.3h1m22.1 .4h1m-44.2 .7h1m12.9 .3h1m2.5 0h1m18.2 .2h1m-47.3 1.1h1m2.1-.3h1m4.7 0h1m2.6 .1h1m2.5 .2h1m9.4-.1h1m8.4 0h1m-37.7 1h1m2.6-.2h1m4.7 0h1m4.7 0h1m2.7 .2h1m1 .1h1m2.9-.1h1m2.2-.1h1m2.6-.1h1m5.2-.7h1m-37.7 1.9h1m12.2-.7h1m4.5 0h1m5.5 .8h1m1.5-.1h1m5.7 .1h1m12.4-.8h1m-44 1.1h1m-.1-.2h1m1.1 .2h1m6-.3h1m1.2 .1h1m15.1 .1h1m14.2 0h1m2.5 0h1m-23.7 .8h1m.4 .4h1m1.3-.1h1m-.2-.3h1m8.6 .3h1m8.1-.3h1m-54.4 1.4h1m9.4 .1h1m-.1-.3h1m9.6 .1h1m8.9-.1h1m16.3 .4h1m-47.4 1h1m2.4-.1h1m0 .2h1m14.1-.3h1m22.2 .4h1m-15.4 .9h1m-25.7 .9h1m16.4 .2h1m13.9 .1h1m4.5-.3h1m-33.7 1.3h1m19.6 0h1m-25.1 .3h1m33.4-.1h1" stroke="#4A86BE" stroke-width="1.15" fill="none"/>
<path d="M593.5 540.9h1m15.2-.2h1m1.4 .1h1m-50.5 1.1h1m7 .1h1m1.3 0h1m26.6-.2h1m5 .1h1m-33.8 1h1m-.3 .3h1m14.1-.4h1m-17.5 1.4h1m1.1-.1h1m2.7 0h1m1.1-.2h1m.1 0h1m8.2 .2h1m13.1 .2h1m.9-.1h1m.6-.1h1m-.3 0h1m5.2-.1h1m.1 .2h1m8.1-.2h1m1.2 .1h1m1.5 0h1m1 0h1m-71.6 1.2h1m1.4-.2h1m5.9 0h1m1.3 .3h1m2.4 .1h1m6.8-.1h1m.4-.1h1m9.3 .2h1m.1-.3h1m3.7-.1h1m10.4 .1h1m3.6 .1h1m11.7 .1h1m.4 0h1m1.3 .1h1m-51.1 .7h1m10.3 .1h1m3.8 .2h1m3.2-.1h1m.4-.1h1m10.5 .1h1m.1 0h1m-45.7 .1h1m11.1 .9h1m33.4 .1h1m5.7 0h1m3-.9h1m-70.4 1.2h1m1.6 0h1m7-.1h1m8.9 0h1m7.2 0h1m13.1 0h1m20.7 .1h1m6.1-.1h1m5.8-.1h1m1 .2h1m-77.2 1.1h1m2.4-.1h1m16.1-.1h1m1.3 .3h1m7.3-.3h1m-.3 .1h1m7.4 .1h1m9.2 .1h1m7.1 0h1m1.5-.4h1m11.4 .2h1m1.2 .2h1m-80.7 .9h1m8.1-.1h1m22.3-.1h1m5.9 .4h1m19.4 0h1m18.4-.4h1m-77.1 1.4h1m7.9-.3h1m4.8 .4h1m1.5 0h1m32.1 0h1m4.8-.4h1m4.9 .5h1m1.3-.4h1m19.8 .1h1m-90.3 1h1m.3 .1h1m5.5-.1h1m1.4 .3h1m10.5-.2h1m.2-.1h1m4.6 0h1m1.5 0h1m0 0h1m2.4 .1h1m1.3-.1h1m28.1 .4h1m17.3-.4h1m-65 1.4h1m9.3-.2h1m2.8 0h1m.2 0h1m10.1 .1h1m1.3 .1h1m2.5-.2h1m12.9-.1h1m3.9 .2h1m4.3 .1h1m6.2-.2h1m6.9 .1h1m-93.3 1h1m.7-.7h1m.5 .8h1m2.3-.1h1m10.1-.8h1m1.2 .1h1m2.4 0h1m10.2 .7h1m1.2 0h1m17-.7h1m29.5 .9h1m-87.2 .1h1m13.9-.1h1m15 .1h1m10.4-.1h1m46 .1h1m-87.9 1h1m2.6 .1h1m1.2-.1h1m1.3 .1h1m1.6-.1h1m0 .2h1m17.4 .1h1m5.8-.1h1m3.9-.2h1m8.1 .2h1m11.5-.2h1m1.5 .1h1m-55.9 1.2h1m9.2-.3h1m.5 .3h1m4.8-.2h1m4.7 .3h1m9.3-.2h1m11.7 .1h1m2.3-.1h1m.1-.2h1m3.8 .3h1m3.4-.2h1m.4 0h1m-.2 .1h1m.3 .2h1m1.3-.4h1m5.9 .3h1m1.2-.1h1m-86.6 1.4h1m4.6-.4h1m9.4 .2h1m10.8 .1h1m12.7 .1h1m20.9-.5h1m2.4 .3h1m8.3 0h1m-.1-.2h1m7.3 .2h1m2.5-.2h1m-93.6 1.2h1m1.2 0h1m17.1 0h1m2.9 0h1m8.1 .1h1m3.6-.1h1m11.4-.1h1m10.7 .1h1m17.5 0h1m6.8 .1h1m2.7 0h1m-90.1 1.3h1m2.5-.3h1m2.2 0h1m2.3 .2h1m11.8-.2h1m1.4 .1h1m5.8 .2h1m1.3-.2h1m2.6-.1h1m6.9 .2h1m1.2 0h1m5.8 0h1m9.8-.2h1m9.2 .4h1m2.4-.3h1m8.3 .3h1m-91.4 .9h1m3.8-.2h1m9.2 .2h1m26.8 0h1m9.3-.1h1m1.1 .1h1m9.1-.2h1m22.4 0h1m-87.3 .3h1m9.9 .9h1m5.2-.9h1m.7 1h1m8.4-.1h1m.6-.8h1m6.9 0h1m6.5 .8h1m14 .1h1m10.9-.9h1m-.2 .9h1m3-.9h1m1.2 0h1m6.4 .8h1m-87.1 .1h1m2.1 1h1m1 0h1m3.4-.9h1m15.9 .2h1m4.8-.3h1m15.1 .2h1m8.4 0h1m8.1-.1h1m6.6 .9h1m-76.1 .3h1m7.1-.3h1m.3 .3h1m6.9 0h1m7.2-.2h1m2.6 .3h1m18.2-.2h1m4-.1h1m12.8 .3h1m4.3-.3h1m9.6 .1h1m.1 0h1m1.6-.1h1m-89.3 1.2h1m6 .1h1m6 .1h1m-.1-.1h1m5.1 0h1m7 0h1m10.5-.1h1m3.3 .1h1m.1 .2h1m4 0h1m10.3-.4h1m.4-.1h1m22.8 .2h1m1.2 .1h1m-89.9 .9h1m3.7 .2h1m11.7-.1h1m6 .2h1m4.5-.2h1m8.4 0h1m14.6-.1h1m1.5 .3h1m12.9-.3h1m1.3 .2h1m15.1-.1h1m-86.6 1.5h1m27.5-.2h1m.4 .1h1m2.4 0h1m1.4 0h1m1.2-.3h1m8.4 .2h1m-53.5 .9h1m.2 .1h1m4.4 0h1m5.1 .1h1m5.9 0h1m5.9 .2h1m10.2-.2h1m1.6-.1h1m9.3-.1h1m4.5 .1h1m8.2 0h1m2.6-.1h1m2.4 0h1m2.4 0h1m.2 0h1m3.5 .1h1m-79.6 1.2h1m8.3 .1h1m4.7-.1h1m16 0h1m.2-.1h1m3.9 0h1m-.8-.8h1m-.4 .8h1m3.7 0h1m-.4-.8h1m1.8 .9h1m9-.9h1m3 .9h1m1.3 .1h1m2.5-.1h1m-66.7 .2h1m41.1 .8h1m4.2-.8h1m1.2 0h1m29.2 .8h1m-68.5 .2h1m8.1 .2h1m5-.1h1m1.3-.2h1m-.1 .3h1m1.2-.2h1m30.2 .2h1m4.8 0h1m2.4-.1h1m10.2 0h1m-85.4 1.2h1m8.5-.1h1m8.2-.3h1m7.1 .1h1m-.1 0h1m5 .2h1m9.4 0h1m10.3-.1h1m10.7-.2h1m.9 .4h1m4.9-.2h1m7.3 0h1m-82.2 1.3h1m-.1-.3h1m1.6 .1h1m1.1 .2h1m4.7-.1h1m19.9 0h1m2.4 .1h1m1.1-.2h1m.3 .1h1m14.8-.2h1m7.6 .4h1m16.2-.3h1m-85.8 1.4h1m6 0h1m3.4-.2h1m30.3 .2h1m1.4 0h1m2.3-.1h1m2.5-.1h1m1.3 .1h1m.2 .2h1m1.3-.4h1m13.6 0h1m3.7 .3h1m-79.6 .8h1m7 .1h1m7.1 .2h1m24.2-.3h1m5.9 0h1m16.3 0h1m3.4 .2h1m10.5-.2h1m-75.1 1.5h1m1.4-.1h1m.3 0h1m-.2-.2h1m6.1-.1h1m-.1 .4h1m2.6 0h1m3.5-.3h1m8.5 0h1m.2 0h1m5.7 0h1m8.2 .1h1m0-.2h1m2.7 .4h1m8.3-.4h1m11.3 0h1m3.8 .2h1m-67.4 1h1m22.5 .1h1m12.5-.1h1m5.8 .1h1m3.7 0h1m10.8-.1h1m5.9 0h1m2.5 .2h1m-59.8 .1h1m13.7 .1h1m1.6-.2h1m4.4 0h1m12.5 .9h1m8.5-.8h1m9.7 .1h1m-87.8 1.1h1m5.8-.2h1m7.9 .2h1m16.6-.1h1m1-.2h1m2.4 .1h1m9.5 .2h1m3.5 0h1m3.8 0h1m11.4 0h1m1.3 0h1m3.9-.1h1m8.2 .1h1m-81 .8h1m13.7 0h1m10.8 .3h1m11.5 0h1m7-.1h1m8.1-.2h1m6.1 .1h1m1.2 .1h1m1.7 0h1m6.7-.1h1m.3 .2h1m.2-.1h1m2.1-.2h1m-63.6 1.3h1m5.1 .2h1m.1-.1h1m1.3 .1h1m2.4 .1h1m0-.4h1m11.8 .2h1m3.3-.3h1m10.7 .2h1m5.9 0h1m2.2 .2h1m4-.3h1m2.5 .1h1m-73.2 1.4h1m.2-.2h1m10.4-.1h1m7 .2h1m18.6 0h1m.4-.1h1m4.6 .2h1m7.3-.1h1m10.2-.1h1m-66 1.2h1m12.8-.1h1m15.4-.1h1m2.3 .3h1m11.5-.1h1m16.4 .1h1m-59.1 .8h1m2.6 0h1m10.1 .3h1m7.5-.2h1m2.1 0h1m36-.1h1m-65.4 .4h1m.5 .8h1m3.7-.1h1m17.7 .2h1m3.9-.9h1m4.8 0h1m6 0h1m6-.1h1m-62.9 1.2h1m8.4 0h1m28.7 0h1m.3-.1h1m8.3 0h1m4.5-.1h1m7.6 1h1m3.6 0h1m4.3-.8h1m-75.1 .9h1m4.7 .2h1m13.9-.2h1m1.3 .1h1m.4 .2h1m1.1-.1h1m0-.1h1m1.3-.1h1m6.2 .2h1m.3-.1h1m7 .1h1m16.3-.2h1m1 .1h1m7.3 .2h1m-44.3 1.2h1m2.7-.2h1m-.1-.1h1m5.7-.1h1m3.7 .4h1m1.3-.2h1m2.3-.2h1m2.9 0h1m2.2 .3h1m2.5-.2h1m0 .2h1m9.7 0h1m-.3-.4h1m-34.6 1.6h1m9.3 0h1m3.8-.3h1m10.2 .3h1m2.5-.3h1m-52.2 1.1h1m2.5 .2h1m5.7 0h1m2.5 .1h1m8.3 .1h1m3.8-.3h1m12.6 .1h1m-40.6 .9h1m2.4 .3h1m7.2-.1h1m0 .1h1m8.4-.2h1m5.8 .1h1m14.8 0h1m-46.2 1h1m25.3 .2h1m25.1-1h1m-.7 .8h1m1.4 .2h1m0-.1h1m-57.6 1h1m5.1-.8h1m7.3-.1h1m9.4 .1h1m5.2 .9h1m.2-.1h1m3-.8h1m5.4 .8h1m2.8-.8h1m1.4 0h1m-49 1h1m21 0h1m9.6 0h1m-33.8 1.4h1m14.9-.1h1m11.6-.1h1m17.7-.1h1m2.4 .2h1m-36.3 1h1m1.2 .2h1m10.6 0h1m3.5-.4h1m3.8 .2h1m13.9-.1h1m-52.3 1.4h1m10.7 .1h1m3.7 0h1m15.1-.1h1m-.1-.3h1m.4 .2h1m2.3 .1h1m5.7-.1h1m1.8 0h1m-42.2 1.1h1m2.4 .1h1m1.7-.2h1m1.1-.1h1m2.2 0h1m2.6 .1h1m.2 .3h1m10.6-.1h1m4.9 0h1m-37.6 .9h1m7.3 0h1m19.4 .3h1m6.2-.2h1m-27.2 1.1h1m14.1 0h1m.3 .1h1m3.6 0h1m-3.5 .1h1m6.2 0h1m-4.2 .9h1" stroke="#7DAAD2" stroke-width="1.15" fill="none"/>
<path d="M581 541.7h1m2.5 .3h1m6.9 0h1m6.2-.2h1m-29.2 1.4h1m13.5-.3h1m21.2-.1h1m-.1 .1h1m23.5 .1h1m-56.8 1.1h1m42.6 0h1m-32.8 1.2h1m18.9 .1h1m17.3 0h1m-61.6 .9h1m15.4 0h1m38.2 1.1h1m11.8 .1h1m-60.5 0h1m.1 .3h1m54.3-.2h1m-50.2 1.2h1m1.5 .2h1m5.6-.2h1m5.9-.2h1m3.8 0h1m26.4 .3h1m1.6-.1h1m-59.2 1.2h1m8.5-.1h1m23.9-.1h1m3.7 .1h1m0 0h1m15.3 .2h1m-67.1 .9h1m16.4 .3h1m7-.1h1m3.4-.3h1m40.4 .4h1m10.5-.3h1m-48.9 1.4h1m10.7-.4h1m10.3 .3h1m8.6-.1h1m6.7 .2h1m-42.7 1h1m1.3 .1h1m3.6-.3h1m30 .2h1m-2.2 .1h1m-7.7 1.9h1m-35.7 .4h1m-34.8 1.1h1m19.4 0h1m16.7-.2h1m7.9 .3h1m9.3-.2h1m1.4 0h1m-57 1.4h1m30.2-.2h1m47.1 0h1m-63.4 1h1m15.2 .2h1m45-.2h1m-50.2 1.4h1m15.3-.4h1m17.6 .4h1m-24.7 1.1h1m13.8-.1h1m21.2-.1h1m-44.3 1.2h1m32.2-.2h1m-61.3 1.2h1m17.9-.7h1m9.2-.2h1m6 .2h1m29.4 .9h1m.1 .1h1m-71.5 1.1h1m45.1-.1h1m2.2 0h1m-30.1 1.1h1m31.2-.1h1m1.4 .2h1m-66 1.1h1m10.6 0h1m13.8 .3h1m31.3-.5h1m3.5 0h1m18.4 .1h1m-54.6 1.5h1m1.7-.2h1m13.9 0h1m27.7 .2h1m-53.3 .8h1m7.1 .2h1m-32.3 .1h1m19.3 .8h1m-21.1 1.5h1m16.1 .1h1m7.1-.3h1m6.8 .2h1m17.7-.1h1m9.5 .2h1m6.6 0h1m-45.2 .9h1m22.2 .2h1m40.2-.2h1m-3.7 1.3h1m-85.6 1.2h1m9.3-.3h1m3.5 .3h1m11.6-.3h1m5 .2h1m21-.2h1m5.7 .3h1m-47.4 1h1m22.9 0h1m1.4-.2h1m3.8 .1h1m17.3-.1h1m4.7 .2h1m.1-.3h1m-49.7 1.3h1m56.4 0h1m-72.5 .3h1m5-.1h1m2.9 .9h1m1.4 0h1m53.5-.9h1m-41.7 1.2h1m-27.2 1.2h1m11.8-.4h1m24.2 .1h1m-48.5 1.4h1m4.6-.3h1m35.8 .4h1m33.2 .8h1m-20.1 1.1h1m-45.4 1.2h1m1.2 0h1m-10.8 1.1h1m5.4-.8h1m16.7 .7h1m46.3 .1h1m-65.2 .1h1m65.6 .2h1m-63.6 1.1h1m34.6-.1h1m7-.2h1m-28.2 1.1h1m2.5 .1h1m31.2-.1h1m8.1 .5h1m-32.2 .9h1m3.5-.2h1m30.2 .1h1m-47.7 1.2h1m8.3 .1h1m1.1-.1h1m.1 0h1m25.4 0h1m-26.7 1.2h1m32.5 0h1m1.1-.2h1m-20 1.5h1m4.7 .1h1m-4.9 .8h1m-31.6 1h1m15 .2h1m4.9-.1h1m18.1 1.3h1m-39.4 1.1h1m8.1-.1h1m7.1 2.4h1m2.1 .1h1m-5.8 .9h1m4.9-.8h1" stroke="#E2D6A4" stroke-width="1.15" fill="none"/>
<path d="M596 542.1h1m11.7-.2h1m-13.3 1.1h1m2.7 .1h1m18.4-.2h1m-34 1.5h1m2.9-.3h1m20.9 .1h1m9-.2h1m3.8 .3h1m-50.1 .9h1m40.5-.1h1m-26.1 .4h1m42 .9h1m-78.1 .2h1m61.3-.1h1m10.3 .1h1m-74.1 1.2h1m60-.3h1m-51.1 1.1h1m6.2 0h1m39 .2h1m-51 1.2h1m9.5 0h1m2.3 0h1m-.1 0h1m34.8-.1h1m17.6 0h1m4.8 0h1m-75.1 .9h1m18.4 .4h1m2.6 0h1m32.2 0h1m17.1 0h1m-78.3 1.2h1m38.1 0h1m15.2-.3h1m7.1 .3h1m17.4-.1h1m-59.1 1h1m36 1.1h1m11.9-.1h1m-78 .3h1m16.8 .8h1m31.8-.8h1m-9.8 1.3h1m.4-.2h1m12.5 .1h1m-10.6 .9h1m-49.9 1.4h1m4.5-.2h1m2.4 .2h1m48.5 0h1m2.7 0h1m-43.9 .9h1m6.6 0h1m37 0h1m7.3-.1h1m1.3 .1h1m-.2 0h1m-76 1.4h1m3.6-.2h1m21.7 0h1m52 .3h1m-68.4 1h1m4.8-.1h1m24.4-.1h1m-37 1h1m78.1 .2h1m-71 .2h1m15.6 .8h1m9-.8h1m13.7-.1h1m24.4 0h1m.1 .1h1m-67.2 1h1m2.4 0h1m-2.5 1.1h1m10.2 .2h1m21.1 .1h1m21.9-.4h1m-82.2 1.4h1m17.5-.1h1m10.5-.1h1m60.1 .1h1m-78.9 1.3h1m16.5-.3h1m43.6 .2h1m-53.1 1.1h1m12.6 .1h1m17.7-.1h1m3.4 .2h1m10.5 0h1m14.2-.4h1m-72.5 2.3h1m68.2 .1h1m6.8 .1h1m-82 1.1h1m54-.1h1m-63.3 1.3h1m1.1 .2h1m16.2 0h1m64.9 0h1m-79.1 1.2h1m27-.1h1m.1-.3h1m11.5 .2h1m17.2 .2h1m1.6-.5h1m-63.9 1.2h1m5 .1h1m15.9 .3h1m18.7-.2h1m-18.7 1.1h1m12.6 .1h1m15.3 .1h1m1.2-.4h1m-39.5 1.3h1m40.3 0h1m-61.7 .3h1m24.1 0h1m9.6-.1h1m2.8 .9h1m-43.8 1.4h1m46-.2h1m13.7 .3h1m.2-.1h1m-46.9 2.2h1m-6 1.2h1m40.3-.2h1m-15.3 1.2h1m30 .2h1m12.6-.2h1m-19.4 .2h1m13.4 1h1m-68 1h1m22.2 1.1h1m3.6 .3h1m-13.9 .9h1m18.3 .3h1m2.4 .1h1m17.6-.2h1m-7.3 1.1h1m-11.1 1.3h1m-24.3 1.1h1m-3.5 2.1h1m38 .1h1m-16.5 1.4h1m22.3-.1h1m-36.1 .9h1m25.3 .1h1m-36.2 1.4h1m32.8-.2h1m-22.7 1.3h1m3.7-.4h1m21.1 0h1" stroke="#D8B090" stroke-width="1.15" fill="none"/>
<line x1="557.5" x2="652" y1="561.1" y2="561.1" stroke="#EEF0F4" stroke-width="1.1"/>
<line x1="557.5" x2="652" y1="582.1" y2="582.1" stroke="#EEF0F4" stroke-width="1.1"/>
<text x="580.0" y="535.9" font-size="10.6" fill="#1a1a1a" text-anchor="start" textLength="52.8" lengthAdjust="spacingAndGlyphs" stroke="#1a1a1a" stroke-width="0.22">Gm10925</text>
<text x="660.8" y="548.4" font-size="9.3" fill="#1a1a1a" text-anchor="start" textLength="46.0" lengthAdjust="spacingAndGlyphs" stroke="#1a1a1a" stroke-width="0.22">Expression</text>
<rect x="670.0" y="552.1" width="8.8" height="44.8" fill="url(#cbv)"/>
<text x="683.0" y="563.6" font-size="6.9" fill="#444" text-anchor="start" textLength="9.5" lengthAdjust="spacingAndGlyphs" >7.5</text>
<text x="683.0" y="575.5" font-size="6.9" fill="#444" text-anchor="start" textLength="9.5" lengthAdjust="spacingAndGlyphs" >5.0</text>
<text x="683.0" y="587.3" font-size="6.9" fill="#444" text-anchor="start" textLength="9.5" lengthAdjust="spacingAndGlyphs" >2.5</text>
<text x="683.0" y="599.1" font-size="6.9" fill="#444" text-anchor="start" textLength="9.5" lengthAdjust="spacingAndGlyphs" >0.0</text>
</svg></body></html>
